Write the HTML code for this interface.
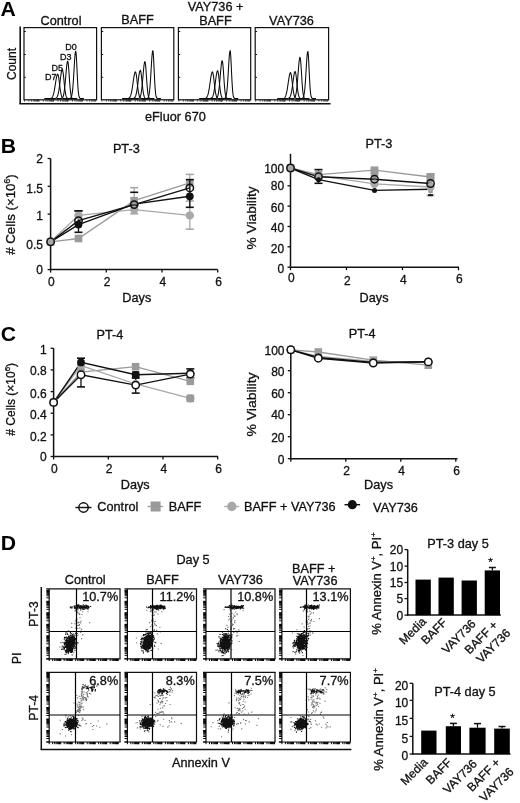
<!DOCTYPE html>
<html><head><meta charset="utf-8"><title>Figure</title>
<style>html,body{margin:0;padding:0;background:#fff;overflow:hidden;} svg{display:block;} text{font-family:"Liberation Sans",Arial,sans-serif;}</style>
</head><body>
<svg width="520" height="803" viewBox="0 0 520 803">
<rect x="0" y="0" width="520" height="803" fill="#fff"/>
<text font-size="20" font-weight="bold" transform="translate(0.5 15.5) scale(1.06 1)" fill="#000" >A</text>
<text font-size="12" stroke="#111" stroke-width="0.3" text-anchor="middle" transform="translate(61.0 24.6) scale(1.06 1)" fill="#111" >Control</text>
<text font-size="12" stroke="#111" stroke-width="0.3" text-anchor="middle" transform="translate(137.5 23.5) scale(1.06 1)" fill="#111" >BAFF</text>
<text font-size="12" stroke="#111" stroke-width="0.3" text-anchor="middle" transform="translate(215.6 10.8) scale(1.06 1)" fill="#111" >VAY736 +</text>
<text font-size="12" stroke="#111" stroke-width="0.3" text-anchor="middle" transform="translate(215.4 24.6) scale(1.06 1)" fill="#111" >BAFF</text>
<text font-size="12" stroke="#111" stroke-width="0.3" text-anchor="middle" transform="translate(291.5 25.2) scale(1.06 1)" fill="#111" >VAY736</text>
<text font-size="12" stroke="#111" stroke-width="0.3" text-anchor="middle" transform="translate(16.0 64.0) rotate(-90)" fill="#111" >Count</text>
<text font-size="12" stroke="#111" stroke-width="0.3" text-anchor="middle" transform="translate(175.4 121.2) scale(1.06 1)" fill="#111" >eFluor 670</text>
<line x1="20.2" y1="26.5" x2="20.2" y2="104.0" stroke="#111" stroke-width="1.6" />
<line x1="19.5" y1="103.8" x2="330.5" y2="103.8" stroke="#111" stroke-width="1.6" />
<rect x="24.0" y="27.6" width="72.6" height="72.2" fill="none" stroke="#111" stroke-width="1.2"/>
<line x1="24.0" y1="31.5" x2="25.8" y2="31.5" stroke="#111" stroke-width="1.0" />
<line x1="24.0" y1="54.5" x2="25.8" y2="54.5" stroke="#111" stroke-width="1.0" />
<line x1="24.0" y1="77.3" x2="25.8" y2="77.3" stroke="#111" stroke-width="1.0" />
<path d="M24.50 101.60v-2.20M28.87 101.60v-2.20M31.43 101.60v-2.20M33.24 101.60v-2.20M34.65 101.60v-2.20M35.80 101.60v-2.20M36.77 101.60v-2.20M37.61 101.60v-2.20M38.36 101.60v-2.20M39.02 101.60v-2.20M43.39 101.60v-2.20M45.95 101.60v-2.20M47.76 101.60v-2.20M49.17 101.60v-2.20M50.32 101.60v-2.20M51.29 101.60v-2.20M52.13 101.60v-2.20M52.88 101.60v-2.20M53.54 101.60v-2.20M57.91 101.60v-2.20M60.47 101.60v-2.20M62.28 101.60v-2.20M63.69 101.60v-2.20M64.84 101.60v-2.20M65.81 101.60v-2.20M66.65 101.60v-2.20M67.40 101.60v-2.20M68.06 101.60v-2.20M72.43 101.60v-2.20M74.99 101.60v-2.20M76.80 101.60v-2.20M78.21 101.60v-2.20M79.36 101.60v-2.20M80.33 101.60v-2.20M81.17 101.60v-2.20M81.92 101.60v-2.20M82.58 101.60v-2.20M86.95 101.60v-2.20M89.51 101.60v-2.20M91.32 101.60v-2.20M92.73 101.60v-2.20M93.88 101.60v-2.20M94.85 101.60v-2.20M95.69 101.60v-2.20" stroke="#222" stroke-width="0.8" fill="none"/>
<polyline points="44.4,98.6 44.7,98.6 45.0,98.6 45.3,98.6 45.6,98.6 45.9,98.6 46.2,98.6 46.5,98.6 46.8,98.6 47.1,98.6 47.4,98.6 47.7,98.6 48.0,98.6 48.3,98.6 48.6,98.6 48.9,98.6 49.2,98.6 49.5,98.6 49.8,98.5 50.1,98.5 50.4,98.5 50.7,98.4 51.0,98.3 51.3,98.1 51.6,97.9 51.9,97.6 52.2,97.3 52.5,96.8 52.8,96.2 53.1,95.4 53.4,94.5 53.7,93.4 54.0,92.1 54.3,90.6 54.6,88.9 54.9,87.1 55.2,85.2 55.5,83.3 55.8,81.4 56.1,79.5 56.4,77.9 56.7,76.4 57.0,75.3 57.3,74.6 57.6,74.2 57.9,74.3 58.2,75.1 58.5,76.5 58.8,78.3 59.1,80.5 59.4,82.9 59.7,85.4 60.0,87.8 60.3,90.0 60.6,91.9 60.9,93.5 61.2,94.9 61.5,95.9 61.8,96.8 62.1,97.3 62.4,97.8 62.7,98.1 63.0,98.3 63.3,98.4 63.6,98.5 63.9,98.5 64.2,98.6 64.5,98.6 64.8,98.6 65.1,98.6 65.4,98.6 65.7,98.6 66.0,98.6 66.3,98.6 66.6,98.6 66.9,98.6 67.2,98.6 67.5,98.6 67.8,98.6 68.1,98.6 68.4,98.6 68.7,98.6 69.0,98.6" fill="none" stroke="#0a0a0a" stroke-width="1.05" />
<polyline points="49.7,98.6 50.0,98.6 50.3,98.6 50.6,98.6 50.9,98.6 51.2,98.6 51.5,98.6 51.8,98.6 52.1,98.6 52.4,98.6 52.7,98.6 53.0,98.6 53.3,98.6 53.6,98.6 53.9,98.6 54.2,98.6 54.5,98.6 54.8,98.5 55.1,98.5 55.4,98.4 55.7,98.3 56.0,98.2 56.3,98.0 56.6,97.7 56.9,97.3 57.2,96.8 57.5,96.1 57.8,95.3 58.1,94.2 58.4,92.9 58.7,91.4 59.0,89.6 59.3,87.5 59.6,85.3 59.9,83.0 60.2,80.5 60.5,78.1 60.8,75.8 61.1,73.7 61.4,72.0 61.7,70.7 62.0,69.9 62.3,69.6 62.6,70.0 62.9,71.3 63.2,73.4 63.5,75.9 63.8,78.9 64.1,81.9 64.4,85.0 64.7,87.8 65.0,90.3 65.3,92.4 65.6,94.1 65.9,95.4 66.2,96.4 66.5,97.2 66.8,97.7 67.1,98.0 67.4,98.3 67.7,98.4 68.0,98.5 68.3,98.5 68.6,98.6 68.9,98.6 69.2,98.6 69.5,98.6 69.8,98.6 70.1,98.6 70.4,98.6 70.7,98.6 71.0,98.6 71.3,98.6 71.6,98.6 71.9,98.6 72.2,98.6 72.5,98.6 72.8,98.6 73.1,98.6" fill="none" stroke="#0a0a0a" stroke-width="1.05" />
<polyline points="56.5,98.6 56.8,98.6 57.1,98.6 57.4,98.6 57.7,98.6 58.0,98.6 58.3,98.6 58.6,98.6 58.9,98.6 59.2,98.6 59.5,98.6 59.8,98.6 60.1,98.6 60.4,98.6 60.7,98.6 61.0,98.5 61.3,98.5 61.6,98.4 61.9,98.2 62.2,98.0 62.5,97.6 62.8,97.2 63.1,96.5 63.4,95.6 63.7,94.3 64.0,92.8 64.3,90.8 64.6,88.4 64.9,85.7 65.2,82.6 65.5,79.2 65.8,75.7 66.1,72.2 66.4,68.9 66.7,65.9 67.0,63.6 67.3,62.0 67.6,61.3 67.9,61.5 68.2,63.2 68.5,66.0 68.8,69.8 69.1,74.1 69.4,78.6 69.7,82.9 70.0,86.7 70.3,89.9 70.6,92.5 70.9,94.5 71.2,96.0 71.5,97.0 71.8,97.6 72.1,98.0 72.4,98.3 72.7,98.4 73.0,98.5 73.3,98.6 73.6,98.6 73.9,98.6 74.2,98.6 74.5,98.6 74.8,98.6 75.1,98.6 75.4,98.6 75.7,98.6 76.0,98.6 76.3,98.6 76.6,98.6 76.9,98.6 77.2,98.6" fill="none" stroke="#0a0a0a" stroke-width="1.05" />
<polyline points="65.9,98.6 66.2,98.6 66.5,98.6 66.8,98.6 67.1,98.6 67.4,98.6 67.7,98.6 68.0,98.6 68.3,98.6 68.6,98.6 68.9,98.6 69.2,98.6 69.5,98.5 69.8,98.5 70.1,98.4 70.4,98.3 70.7,98.0 71.0,97.7 71.3,97.1 71.6,96.2 71.9,94.9 72.2,93.2 72.5,90.9 72.8,87.9 73.1,84.3 73.4,80.0 73.7,75.3 74.0,70.2 74.3,65.1 74.6,60.3 74.9,56.3 75.2,53.3 75.5,51.5 75.8,51.3 76.1,53.3 76.4,57.3 76.7,62.9 77.0,69.2 77.3,75.6 77.6,81.5 77.9,86.5 78.2,90.5 78.5,93.4 78.8,95.5 79.1,96.8 79.4,97.6 79.7,98.1 80.0,98.3 80.3,98.5 80.6,98.5 80.9,98.6 81.2,98.6 81.5,98.6 81.8,98.6 82.1,98.6 82.4,98.6 82.7,98.6 83.0,98.6 83.3,98.6 83.6,98.6 83.9,98.6" fill="none" stroke="#0a0a0a" stroke-width="1.05" />
<rect x="101.4" y="27.6" width="72.4" height="72.2" fill="none" stroke="#111" stroke-width="1.2"/>
<line x1="101.4" y1="31.5" x2="103.2" y2="31.5" stroke="#111" stroke-width="1.0" />
<line x1="101.4" y1="54.5" x2="103.2" y2="54.5" stroke="#111" stroke-width="1.0" />
<line x1="101.4" y1="77.3" x2="103.2" y2="77.3" stroke="#111" stroke-width="1.0" />
<path d="M101.90 101.60v-2.20M106.26 101.60v-2.20M108.81 101.60v-2.20M110.62 101.60v-2.20M112.02 101.60v-2.20M113.17 101.60v-2.20M114.14 101.60v-2.20M114.98 101.60v-2.20M115.72 101.60v-2.20M116.38 101.60v-2.20M120.74 101.60v-2.20M123.29 101.60v-2.20M125.10 101.60v-2.20M126.50 101.60v-2.20M127.65 101.60v-2.20M128.62 101.60v-2.20M129.46 101.60v-2.20M130.20 101.60v-2.20M130.86 101.60v-2.20M135.22 101.60v-2.20M137.77 101.60v-2.20M139.58 101.60v-2.20M140.98 101.60v-2.20M142.13 101.60v-2.20M143.10 101.60v-2.20M143.94 101.60v-2.20M144.68 101.60v-2.20M145.34 101.60v-2.20M149.70 101.60v-2.20M152.25 101.60v-2.20M154.06 101.60v-2.20M155.46 101.60v-2.20M156.61 101.60v-2.20M157.58 101.60v-2.20M158.42 101.60v-2.20M159.16 101.60v-2.20M159.82 101.60v-2.20M164.18 101.60v-2.20M166.73 101.60v-2.20M168.54 101.60v-2.20M169.94 101.60v-2.20M171.09 101.60v-2.20M172.06 101.60v-2.20M172.90 101.60v-2.20" stroke="#222" stroke-width="0.8" fill="none"/>
<polyline points="122.1,98.6 122.4,98.6 122.7,98.6 123.0,98.6 123.3,98.6 123.6,98.6 123.9,98.6 124.2,98.6 124.5,98.6 124.8,98.6 125.1,98.6 125.4,98.6 125.7,98.6 126.0,98.6 126.3,98.6 126.6,98.6 126.9,98.6 127.2,98.6 127.5,98.5 127.8,98.5 128.1,98.4 128.4,98.4 128.7,98.2 129.0,98.1 129.3,97.9 129.6,97.5 129.9,97.1 130.2,96.6 130.5,95.9 130.8,95.1 131.1,94.1 131.4,92.9 131.7,91.4 132.0,89.8 132.3,88.0 132.6,86.0 132.9,84.0 133.2,81.8 133.5,79.7 133.8,77.7 134.1,75.9 134.4,74.3 134.7,73.1 135.0,72.3 135.3,71.9 135.6,72.1 135.9,72.9 136.2,74.4 136.5,76.4 136.8,78.8 137.1,81.5 137.4,84.1 137.7,86.7 138.0,89.1 138.3,91.3 138.6,93.1 138.9,94.5 139.2,95.7 139.5,96.6 139.8,97.2 140.1,97.7 140.4,98.0 140.7,98.2 141.0,98.4 141.3,98.5 141.6,98.5 141.9,98.6 142.2,98.6 142.5,98.6 142.8,98.6 143.1,98.6 143.4,98.6 143.7,98.6 144.0,98.6 144.3,98.6 144.6,98.6 144.9,98.6 145.2,98.6 145.5,98.6 145.8,98.6 146.1,98.6 146.4,98.6 146.7,98.6" fill="none" stroke="#0a0a0a" stroke-width="1.05" />
<polyline points="127.7,98.6 128.0,98.6 128.3,98.6 128.6,98.6 128.9,98.6 129.2,98.6 129.5,98.6 129.8,98.6 130.1,98.6 130.4,98.6 130.7,98.6 131.0,98.6 131.3,98.6 131.6,98.6 131.9,98.6 132.2,98.6 132.5,98.6 132.8,98.5 133.1,98.5 133.4,98.4 133.7,98.3 134.0,98.2 134.3,98.0 134.6,97.7 134.9,97.4 135.2,96.9 135.5,96.2 135.8,95.4 136.1,94.3 136.4,93.1 136.7,91.6 137.0,89.8 137.3,87.9 137.6,85.7 137.9,83.4 138.2,81.0 138.5,78.7 138.8,76.4 139.1,74.4 139.4,72.7 139.7,71.5 140.0,70.7 140.3,70.4 140.6,70.8 140.9,72.1 141.2,74.0 141.5,76.6 141.8,79.4 142.1,82.4 142.4,85.3 142.7,88.1 143.0,90.5 143.3,92.5 143.6,94.2 143.9,95.5 144.2,96.5 144.5,97.2 144.8,97.7 145.1,98.1 145.4,98.3 145.7,98.4 146.0,98.5 146.3,98.5 146.6,98.6 146.9,98.6 147.2,98.6 147.5,98.6 147.8,98.6 148.1,98.6 148.4,98.6 148.7,98.6 149.0,98.6 149.3,98.6 149.6,98.6 149.9,98.6 150.2,98.6 150.5,98.6 150.8,98.6" fill="none" stroke="#0a0a0a" stroke-width="1.05" />
<polyline points="133.7,98.6 134.0,98.6 134.3,98.6 134.6,98.6 134.9,98.6 135.2,98.6 135.5,98.6 135.8,98.6 136.1,98.6 136.4,98.6 136.7,98.6 137.0,98.6 137.3,98.6 137.6,98.6 137.9,98.6 138.2,98.5 138.5,98.5 138.8,98.4 139.1,98.2 139.4,98.0 139.7,97.7 140.0,97.2 140.3,96.5 140.6,95.6 140.9,94.4 141.2,92.8 141.5,90.9 141.8,88.6 142.1,85.8 142.4,82.7 142.7,79.4 143.0,75.9 143.3,72.5 143.6,69.2 143.9,66.3 144.2,64.0 144.5,62.4 144.8,61.7 145.1,61.9 145.4,63.5 145.7,66.4 146.0,70.1 146.3,74.4 146.6,78.8 146.9,83.0 147.2,86.8 147.5,90.0 147.8,92.6 148.1,94.6 148.4,96.0 148.7,97.0 149.0,97.6 149.3,98.0 149.6,98.3 149.9,98.4 150.2,98.5 150.5,98.6 150.8,98.6 151.1,98.6 151.4,98.6 151.7,98.6 152.0,98.6 152.3,98.6 152.6,98.6 152.9,98.6 153.2,98.6 153.5,98.6 153.8,98.6 154.1,98.6 154.4,98.6" fill="none" stroke="#0a0a0a" stroke-width="1.05" />
<polyline points="143.0,98.6 143.3,98.6 143.6,98.6 143.9,98.6 144.2,98.6 144.5,98.6 144.8,98.6 145.1,98.6 145.4,98.6 145.7,98.6 146.0,98.6 146.3,98.6 146.6,98.5 146.9,98.5 147.2,98.4 147.5,98.3 147.8,98.0 148.1,97.6 148.4,97.1 148.7,96.2 149.0,94.9 149.3,93.1 149.6,90.8 149.9,87.8 150.2,84.2 150.5,79.9 150.8,75.1 151.1,70.0 151.4,64.8 151.7,60.0 152.0,55.9 152.3,52.9 152.6,51.1 152.9,50.9 153.2,52.9 153.5,57.0 153.8,62.6 154.1,69.0 154.4,75.4 154.7,81.4 155.0,86.4 155.3,90.4 155.6,93.4 155.9,95.4 156.2,96.8 156.5,97.6 156.8,98.1 157.1,98.3 157.4,98.5 157.7,98.5 158.0,98.6 158.3,98.6 158.6,98.6 158.9,98.6 159.2,98.6 159.5,98.6 159.8,98.6 160.1,98.6 160.4,98.6 160.7,98.6 161.0,98.6" fill="none" stroke="#0a0a0a" stroke-width="1.05" />
<rect x="178.4" y="27.6" width="72.3" height="72.2" fill="none" stroke="#111" stroke-width="1.2"/>
<line x1="178.4" y1="31.5" x2="180.2" y2="31.5" stroke="#111" stroke-width="1.0" />
<line x1="178.4" y1="54.5" x2="180.2" y2="54.5" stroke="#111" stroke-width="1.0" />
<line x1="178.4" y1="77.3" x2="180.2" y2="77.3" stroke="#111" stroke-width="1.0" />
<path d="M178.90 101.60v-2.20M183.25 101.60v-2.20M185.80 101.60v-2.20M187.61 101.60v-2.20M189.01 101.60v-2.20M190.15 101.60v-2.20M191.12 101.60v-2.20M191.96 101.60v-2.20M192.70 101.60v-2.20M193.36 101.60v-2.20M197.71 101.60v-2.20M200.26 101.60v-2.20M202.07 101.60v-2.20M203.47 101.60v-2.20M204.61 101.60v-2.20M205.58 101.60v-2.20M206.42 101.60v-2.20M207.16 101.60v-2.20M207.82 101.60v-2.20M212.17 101.60v-2.20M214.72 101.60v-2.20M216.53 101.60v-2.20M217.93 101.60v-2.20M219.07 101.60v-2.20M220.04 101.60v-2.20M220.88 101.60v-2.20M221.62 101.60v-2.20M222.28 101.60v-2.20M226.63 101.60v-2.20M229.18 101.60v-2.20M230.99 101.60v-2.20M232.39 101.60v-2.20M233.53 101.60v-2.20M234.50 101.60v-2.20M235.34 101.60v-2.20M236.08 101.60v-2.20M236.74 101.60v-2.20M241.09 101.60v-2.20M243.64 101.60v-2.20M245.45 101.60v-2.20M246.85 101.60v-2.20M247.99 101.60v-2.20M248.96 101.60v-2.20M249.80 101.60v-2.20" stroke="#222" stroke-width="0.8" fill="none"/>
<polyline points="199.1,98.6 199.4,98.6 199.7,98.6 200.0,98.6 200.3,98.6 200.6,98.6 200.9,98.6 201.2,98.6 201.5,98.6 201.8,98.6 202.1,98.6 202.4,98.6 202.7,98.6 203.0,98.6 203.3,98.6 203.6,98.6 203.9,98.6 204.2,98.6 204.5,98.5 204.8,98.5 205.1,98.4 205.4,98.4 205.7,98.2 206.0,98.1 206.3,97.9 206.6,97.5 206.9,97.1 207.2,96.6 207.5,95.9 207.8,95.1 208.1,94.1 208.4,92.9 208.7,91.4 209.0,89.8 209.3,88.0 209.6,86.0 209.9,84.0 210.2,81.8 210.5,79.7 210.8,77.7 211.1,75.9 211.4,74.3 211.7,73.1 212.0,72.3 212.3,71.9 212.6,72.1 212.9,72.9 213.2,74.4 213.5,76.4 213.8,78.8 214.1,81.5 214.4,84.1 214.7,86.7 215.0,89.1 215.3,91.3 215.6,93.1 215.9,94.5 216.2,95.7 216.5,96.6 216.8,97.2 217.1,97.7 217.4,98.0 217.7,98.2 218.0,98.4 218.3,98.5 218.6,98.5 218.9,98.6 219.2,98.6 219.5,98.6 219.8,98.6 220.1,98.6 220.4,98.6 220.7,98.6 221.0,98.6 221.3,98.6 221.6,98.6 221.9,98.6 222.2,98.6 222.5,98.6 222.8,98.6 223.1,98.6 223.4,98.6 223.7,98.6" fill="none" stroke="#0a0a0a" stroke-width="1.05" />
<polyline points="205.0,98.6 205.3,98.6 205.6,98.6 205.9,98.6 206.2,98.6 206.5,98.6 206.8,98.6 207.1,98.6 207.4,98.6 207.7,98.6 208.0,98.6 208.3,98.6 208.6,98.6 208.9,98.6 209.2,98.6 209.5,98.6 209.8,98.6 210.1,98.5 210.4,98.5 210.7,98.4 211.0,98.3 211.3,98.2 211.6,98.0 211.9,97.7 212.2,97.4 212.5,96.9 212.8,96.2 213.1,95.4 213.4,94.4 213.7,93.2 214.0,91.7 214.3,89.9 214.6,88.0 214.9,85.9 215.2,83.6 215.5,81.3 215.8,79.0 216.1,76.8 216.4,74.8 216.7,73.1 217.0,71.9 217.3,71.1 217.6,70.8 217.9,71.2 218.2,72.5 218.5,74.4 218.8,76.9 219.1,79.7 219.4,82.6 219.7,85.5 220.0,88.2 220.3,90.6 220.6,92.6 220.9,94.3 221.2,95.6 221.5,96.5 221.8,97.2 222.1,97.7 222.4,98.1 222.7,98.3 223.0,98.4 223.3,98.5 223.6,98.5 223.9,98.6 224.2,98.6 224.5,98.6 224.8,98.6 225.1,98.6 225.4,98.6 225.7,98.6 226.0,98.6 226.3,98.6 226.6,98.6 226.9,98.6 227.2,98.6 227.5,98.6 227.8,98.6 228.1,98.6" fill="none" stroke="#0a0a0a" stroke-width="1.05" />
<polyline points="211.0,98.6 211.3,98.6 211.6,98.6 211.9,98.6 212.2,98.6 212.5,98.6 212.8,98.6 213.1,98.6 213.4,98.6 213.7,98.6 214.0,98.6 214.3,98.6 214.6,98.6 214.9,98.6 215.2,98.6 215.5,98.5 215.8,98.5 216.1,98.4 216.4,98.2 216.7,98.0 217.0,97.6 217.3,97.1 217.6,96.5 217.9,95.5 218.2,94.3 218.5,92.7 218.8,90.7 219.1,88.3 219.4,85.5 219.7,82.4 220.0,78.9 220.3,75.4 220.6,71.8 220.9,68.5 221.2,65.5 221.5,63.1 221.8,61.5 222.1,60.8 222.4,61.0 222.7,62.7 223.0,65.6 223.3,69.4 223.6,73.8 223.9,78.3 224.2,82.7 224.5,86.5 224.8,89.8 225.1,92.5 225.4,94.5 225.7,95.9 226.0,96.9 226.3,97.6 226.6,98.0 226.9,98.3 227.2,98.4 227.5,98.5 227.8,98.6 228.1,98.6 228.4,98.6 228.7,98.6 229.0,98.6 229.3,98.6 229.6,98.6 229.9,98.6 230.2,98.6 230.5,98.6 230.8,98.6 231.1,98.6 231.4,98.6 231.7,98.6" fill="none" stroke="#0a0a0a" stroke-width="1.05" />
<polyline points="220.3,98.6 220.6,98.6 220.9,98.6 221.2,98.6 221.5,98.6 221.8,98.6 222.1,98.6 222.4,98.6 222.7,98.6 223.0,98.6 223.3,98.6 223.6,98.6 223.9,98.5 224.2,98.5 224.5,98.4 224.8,98.3 225.1,98.0 225.4,97.6 225.7,97.1 226.0,96.2 226.3,94.9 226.6,93.1 226.9,90.8 227.2,87.8 227.5,84.2 227.8,79.9 228.1,75.1 228.4,70.0 228.7,64.8 229.0,60.0 229.3,55.9 229.6,52.9 229.9,51.1 230.2,50.9 230.5,52.9 230.8,57.0 231.1,62.6 231.4,69.0 231.7,75.4 232.0,81.4 232.3,86.4 232.6,90.4 232.9,93.4 233.2,95.4 233.5,96.8 233.8,97.6 234.1,98.1 234.4,98.3 234.7,98.5 235.0,98.5 235.3,98.6 235.6,98.6 235.9,98.6 236.2,98.6 236.5,98.6 236.8,98.6 237.1,98.6 237.4,98.6 237.7,98.6 238.0,98.6 238.3,98.6" fill="none" stroke="#0a0a0a" stroke-width="1.05" />
<rect x="255.2" y="27.6" width="73.4" height="72.2" fill="none" stroke="#111" stroke-width="1.2"/>
<line x1="255.2" y1="31.5" x2="257.0" y2="31.5" stroke="#111" stroke-width="1.0" />
<line x1="255.2" y1="54.5" x2="257.0" y2="54.5" stroke="#111" stroke-width="1.0" />
<line x1="255.2" y1="77.3" x2="257.0" y2="77.3" stroke="#111" stroke-width="1.0" />
<path d="M255.70 101.60v-2.20M260.12 101.60v-2.20M262.70 101.60v-2.20M264.54 101.60v-2.20M265.96 101.60v-2.20M267.12 101.60v-2.20M268.11 101.60v-2.20M268.96 101.60v-2.20M269.71 101.60v-2.20M270.38 101.60v-2.20M274.80 101.60v-2.20M277.38 101.60v-2.20M279.22 101.60v-2.20M280.64 101.60v-2.20M281.80 101.60v-2.20M282.79 101.60v-2.20M283.64 101.60v-2.20M284.39 101.60v-2.20M285.06 101.60v-2.20M289.48 101.60v-2.20M292.06 101.60v-2.20M293.90 101.60v-2.20M295.32 101.60v-2.20M296.48 101.60v-2.20M297.47 101.60v-2.20M298.32 101.60v-2.20M299.07 101.60v-2.20M299.74 101.60v-2.20M304.16 101.60v-2.20M306.74 101.60v-2.20M308.58 101.60v-2.20M310.00 101.60v-2.20M311.16 101.60v-2.20M312.15 101.60v-2.20M313.00 101.60v-2.20M313.75 101.60v-2.20M314.42 101.60v-2.20M318.84 101.60v-2.20M321.42 101.60v-2.20M323.26 101.60v-2.20M324.68 101.60v-2.20M325.84 101.60v-2.20M326.83 101.60v-2.20M327.68 101.60v-2.20" stroke="#222" stroke-width="0.8" fill="none"/>
<polyline points="277.2,98.6 277.5,98.6 277.8,98.6 278.1,98.6 278.4,98.6 278.7,98.6 279.0,98.6 279.3,98.6 279.6,98.6 279.9,98.6 280.2,98.6 280.5,98.6 280.8,98.6 281.1,98.6 281.4,98.6 281.7,98.6 282.0,98.6 282.3,98.6 282.6,98.5 282.9,98.5 283.2,98.4 283.5,98.4 283.8,98.3 284.1,98.1 284.4,97.9 284.7,97.6 285.0,97.2 285.3,96.7 285.6,96.0 285.9,95.2 286.2,94.2 286.5,93.0 286.8,91.7 287.1,90.1 287.4,88.3 287.7,86.4 288.0,84.4 288.3,82.3 288.6,80.3 288.9,78.4 289.2,76.6 289.5,75.1 289.8,73.9 290.1,73.1 290.4,72.7 290.7,72.9 291.0,73.7 291.3,75.1 291.6,77.1 291.9,79.4 292.2,82.0 292.5,84.6 292.8,87.1 293.1,89.4 293.4,91.5 293.7,93.2 294.0,94.6 294.3,95.8 294.6,96.6 294.9,97.3 295.2,97.7 295.5,98.0 295.8,98.3 296.1,98.4 296.4,98.5 296.7,98.5 297.0,98.6 297.3,98.6 297.6,98.6 297.9,98.6 298.2,98.6 298.5,98.6 298.8,98.6 299.1,98.6 299.4,98.6 299.7,98.6 300.0,98.6 300.3,98.6 300.6,98.6 300.9,98.6 301.2,98.6 301.5,98.6 301.8,98.6" fill="none" stroke="#0a0a0a" stroke-width="1.05" />
<polyline points="282.5,98.6 282.8,98.6 283.1,98.6 283.4,98.6 283.7,98.6 284.0,98.6 284.3,98.6 284.6,98.6 284.9,98.6 285.2,98.6 285.5,98.6 285.8,98.6 286.1,98.6 286.4,98.6 286.7,98.6 287.0,98.6 287.3,98.6 287.6,98.5 287.9,98.5 288.2,98.4 288.5,98.3 288.8,98.2 289.1,98.0 289.4,97.8 289.7,97.4 290.0,96.9 290.3,96.3 290.6,95.5 290.9,94.5 291.2,93.3 291.5,91.8 291.8,90.2 292.1,88.3 292.4,86.2 292.7,84.0 293.0,81.7 293.3,79.4 293.6,77.3 293.9,75.4 294.2,73.8 294.5,72.5 294.8,71.8 295.1,71.5 295.4,71.9 295.7,73.1 296.0,75.0 296.3,77.4 296.6,80.2 296.9,83.0 297.2,85.9 297.5,88.5 297.8,90.8 298.1,92.8 298.4,94.4 298.7,95.6 299.0,96.6 299.3,97.3 299.6,97.8 299.9,98.1 300.2,98.3 300.5,98.4 300.8,98.5 301.1,98.5 301.4,98.6 301.7,98.6 302.0,98.6 302.3,98.6 302.6,98.6 302.9,98.6 303.2,98.6 303.5,98.6 303.8,98.6 304.1,98.6 304.4,98.6 304.7,98.6 305.0,98.6 305.3,98.6 305.6,98.6" fill="none" stroke="#0a0a0a" stroke-width="1.05" />
<polyline points="288.8,98.6 289.1,98.6 289.4,98.6 289.7,98.6 290.0,98.6 290.3,98.6 290.6,98.6 290.9,98.6 291.2,98.6 291.5,98.6 291.8,98.6 292.1,98.6 292.4,98.6 292.7,98.6 293.0,98.5 293.3,98.5 293.6,98.4 293.9,98.3 294.2,98.2 294.5,97.9 294.8,97.5 295.1,97.0 295.4,96.3 295.7,95.2 296.0,93.9 296.3,92.2 296.6,90.0 296.9,87.4 297.2,84.3 297.5,80.9 297.8,77.2 298.1,73.3 298.4,69.4 298.7,65.8 299.0,62.5 299.3,60.0 299.6,58.2 299.9,57.4 300.2,57.7 300.5,59.5 300.8,62.6 301.1,66.8 301.4,71.6 301.7,76.5 302.0,81.2 302.3,85.5 302.6,89.0 302.9,91.9 303.2,94.1 303.5,95.7 303.8,96.8 304.1,97.5 304.4,98.0 304.7,98.3 305.0,98.4 305.3,98.5 305.6,98.6 305.9,98.6 306.2,98.6 306.5,98.6 306.8,98.6 307.1,98.6 307.4,98.6 307.7,98.6 308.0,98.6 308.3,98.6 308.6,98.6 308.9,98.6 309.2,98.6 309.5,98.6" fill="none" stroke="#0a0a0a" stroke-width="1.05" />
<polyline points="298.0,98.6 298.3,98.6 298.6,98.6 298.9,98.6 299.2,98.6 299.5,98.6 299.8,98.6 300.1,98.6 300.4,98.6 300.7,98.6 301.0,98.6 301.3,98.6 301.6,98.5 301.9,98.5 302.2,98.4 302.5,98.3 302.8,98.0 303.1,97.7 303.4,97.1 303.7,96.2 304.0,95.0 304.3,93.2 304.6,90.9 304.9,88.0 305.2,84.4 305.5,80.1 305.8,75.4 306.1,70.4 306.4,65.3 306.7,60.6 307.0,56.5 307.3,53.5 307.6,51.8 307.9,51.6 308.2,53.6 308.5,57.6 308.8,63.1 309.1,69.4 309.4,75.8 309.7,81.6 310.0,86.6 310.3,90.6 310.6,93.5 310.9,95.5 311.2,96.8 311.5,97.6 311.8,98.1 312.1,98.3 312.4,98.5 312.7,98.5 313.0,98.6 313.3,98.6 313.6,98.6 313.9,98.6 314.2,98.6 314.5,98.6 314.8,98.6 315.1,98.6 315.4,98.6 315.7,98.6 316.0,98.6" fill="none" stroke="#0a0a0a" stroke-width="1.05" />
<text font-size="8.5" stroke="#111" stroke-width="0.3" text-anchor="middle" transform="translate(71.0 49.6) scale(1.06 1)" fill="#111" >D0</text>
<text font-size="8.5" stroke="#111" stroke-width="0.3" text-anchor="middle" transform="translate(65.8 59.6) scale(1.06 1)" fill="#111" >D3</text>
<text font-size="8.5" stroke="#111" stroke-width="0.3" text-anchor="middle" transform="translate(57.3 71.0) scale(1.06 1)" fill="#111" >D5</text>
<text font-size="8.5" stroke="#111" stroke-width="0.3" text-anchor="middle" transform="translate(50.7 79.6) scale(1.06 1)" fill="#111" >D7</text>
<text font-size="20" font-weight="bold" transform="translate(0.8 153.3) scale(1.06 1)" fill="#000" >B</text>
<text font-size="12" stroke="#111" stroke-width="0.3" text-anchor="middle" transform="translate(126.3 153.0) scale(1.06 1)" fill="#111" >PT-3</text>
<line x1="50.6" y1="158.5" x2="50.6" y2="270.2" stroke="#111" stroke-width="1.5" />
<line x1="50.0" y1="269.6" x2="217.6" y2="269.6" stroke="#111" stroke-width="1.5" />
<line x1="47.6" y1="269.6" x2="50.6" y2="269.6" stroke="#111" stroke-width="1.3" />
<text font-size="12" stroke="#111" stroke-width="0.3" text-anchor="end" transform="translate(43.0 273.9)" fill="#111" >0</text>
<line x1="47.6" y1="241.8" x2="50.6" y2="241.8" stroke="#111" stroke-width="1.3" />
<text font-size="12" stroke="#111" stroke-width="0.3" text-anchor="end" transform="translate(43.0 249.1)" fill="#111" >0.5</text>
<line x1="47.6" y1="214.1" x2="50.6" y2="214.1" stroke="#111" stroke-width="1.3" />
<text font-size="12" stroke="#111" stroke-width="0.3" text-anchor="end" transform="translate(43.0 220.4)" fill="#111" >1</text>
<line x1="47.6" y1="186.3" x2="50.6" y2="186.3" stroke="#111" stroke-width="1.3" />
<text font-size="12" stroke="#111" stroke-width="0.3" text-anchor="end" transform="translate(43.0 192.6)" fill="#111" >1.5</text>
<line x1="47.6" y1="158.5" x2="50.6" y2="158.5" stroke="#111" stroke-width="1.3" />
<text font-size="12" stroke="#111" stroke-width="0.3" text-anchor="end" transform="translate(43.0 163.2)" fill="#111" >2</text>
<line x1="50.6" y1="269.6" x2="50.6" y2="272.6" stroke="#111" stroke-width="1.3" />
<text font-size="12" stroke="#111" stroke-width="0.3" text-anchor="middle" transform="translate(51.4 286.2)" fill="#111" >0</text>
<line x1="106.3" y1="269.6" x2="106.3" y2="272.6" stroke="#111" stroke-width="1.3" />
<text font-size="12" stroke="#111" stroke-width="0.3" text-anchor="middle" transform="translate(107.1 286.2)" fill="#111" >2</text>
<line x1="162.0" y1="269.6" x2="162.0" y2="272.6" stroke="#111" stroke-width="1.3" />
<text font-size="12" stroke="#111" stroke-width="0.3" text-anchor="middle" transform="translate(162.8 286.2)" fill="#111" >4</text>
<line x1="217.7" y1="269.6" x2="217.7" y2="272.6" stroke="#111" stroke-width="1.3" />
<text font-size="12" stroke="#111" stroke-width="0.3" text-anchor="middle" transform="translate(218.5 286.2)" fill="#111" >6</text>
<text font-size="12" stroke="#111" stroke-width="0.3" text-anchor="middle" transform="translate(136.8 302.0) scale(1.06 1)" fill="#111" >Days</text>
<text font-size="13.3" stroke="#111" stroke-width="0.3" text-anchor="middle" transform="translate(15.0 214.6) rotate(-90)" fill="#111" ># Cells (×10<tspan font-size="8.5" dy="-5">6</tspan><tspan dy="5">)</tspan></text>
<line x1="78.5" y1="210.8" x2="78.5" y2="232.3" stroke="#111" stroke-width="1.3" />
<line x1="74.5" y1="210.8" x2="82.5" y2="210.8" stroke="#111" stroke-width="1.6" />
<line x1="74.5" y1="232.3" x2="82.5" y2="232.3" stroke="#111" stroke-width="1.6" />
<line x1="134.2" y1="187.7" x2="134.2" y2="213.8" stroke="#a8a8a8" stroke-width="1.3" />
<line x1="130.2" y1="187.7" x2="138.2" y2="187.7" stroke="#a8a8a8" stroke-width="1.6" />
<line x1="130.2" y1="213.8" x2="138.2" y2="213.8" stroke="#a8a8a8" stroke-width="1.6" />
<line x1="130.2" y1="192.3" x2="138.2" y2="192.3" stroke="#111" stroke-width="1.6" />
<line x1="189.8" y1="174.4" x2="189.8" y2="229.2" stroke="#a8a8a8" stroke-width="1.3" />
<line x1="185.8" y1="174.4" x2="193.8" y2="174.4" stroke="#a8a8a8" stroke-width="1.6" />
<line x1="185.8" y1="229.2" x2="193.8" y2="229.2" stroke="#a8a8a8" stroke-width="1.6" />
<line x1="185.8" y1="201.0" x2="193.8" y2="201.0" stroke="#a8a8a8" stroke-width="1.6" />
<polyline points="50.6,241.8 78.5,238.5 134.2,200.7 189.8,182.9" fill="none" stroke="#9a9a9a" stroke-width="1.3" />
<polyline points="50.6,241.8 78.5,215.4 134.2,209.6 189.8,215.4" fill="none" stroke="#a8a8a8" stroke-width="1.3" />
<polyline points="50.6,241.8 78.5,224.6 134.2,204.1 189.8,196.3" fill="none" stroke="#111" stroke-width="1.4" />
<polyline points="50.6,241.8 78.5,220.7 134.2,204.6 189.8,187.9" fill="none" stroke="#111" stroke-width="1.4" />
<circle cx="50.6" cy="241.8" r="3.9000000000000004" fill="#111" stroke="none" stroke-width="1.3"/>
<circle cx="78.5" cy="224.6" r="3.9000000000000004" fill="#111" stroke="none" stroke-width="1.3"/>
<circle cx="134.2" cy="204.1" r="3.9000000000000004" fill="#111" stroke="none" stroke-width="1.3"/>
<circle cx="189.8" cy="196.3" r="3.9000000000000004" fill="#111" stroke="none" stroke-width="1.3"/>
<rect x="46.8" y="238.0" width="7.6" height="7.6" fill="#9a9a9a"/>
<rect x="74.7" y="234.7" width="7.6" height="7.6" fill="#9a9a9a"/>
<rect x="130.3" y="196.9" width="7.6" height="7.6" fill="#9a9a9a"/>
<rect x="186.0" y="179.1" width="7.6" height="7.6" fill="#9a9a9a"/>
<circle cx="50.6" cy="241.8" r="4.2" fill="#a8a8a8" stroke="none" stroke-width="1.3"/>
<circle cx="78.5" cy="215.4" r="4.2" fill="#a8a8a8" stroke="none" stroke-width="1.3"/>
<circle cx="134.2" cy="209.6" r="4.2" fill="#a8a8a8" stroke="none" stroke-width="1.3"/>
<circle cx="189.8" cy="215.4" r="4.2" fill="#a8a8a8" stroke="none" stroke-width="1.3"/>
<circle cx="50.6" cy="241.8" r="3.7" fill="none" stroke="#111" stroke-width="1.5"/>
<circle cx="78.5" cy="220.7" r="3.7" fill="none" stroke="#111" stroke-width="1.5"/>
<circle cx="134.2" cy="204.6" r="3.7" fill="none" stroke="#111" stroke-width="1.5"/>
<circle cx="189.8" cy="187.9" r="3.7" fill="none" stroke="#111" stroke-width="1.5"/>
<line x1="189.8" y1="179.6" x2="189.8" y2="207.3" stroke="#111" stroke-width="1.3" />
<line x1="185.8" y1="179.6" x2="193.8" y2="179.6" stroke="#111" stroke-width="1.6" />
<line x1="185.8" y1="207.3" x2="193.8" y2="207.3" stroke="#111" stroke-width="1.6" />
<line x1="74.5" y1="210.8" x2="82.5" y2="210.8" stroke="#111" stroke-width="1.6" />
<text font-size="12" stroke="#111" stroke-width="0.3" text-anchor="middle" transform="translate(379.0 147.7) scale(1.06 1)" fill="#111" >PT-3</text>
<line x1="290.5" y1="153.8" x2="290.5" y2="267.8" stroke="#111" stroke-width="1.5" />
<line x1="289.9" y1="267.2" x2="459.0" y2="267.2" stroke="#111" stroke-width="1.5" />
<line x1="287.5" y1="267.2" x2="290.5" y2="267.2" stroke="#111" stroke-width="1.3" />
<text font-size="12" stroke="#111" stroke-width="0.3" text-anchor="end" transform="translate(284.2 272.8)" fill="#111" >0</text>
<line x1="287.5" y1="246.8" x2="290.5" y2="246.8" stroke="#111" stroke-width="1.3" />
<text font-size="12" stroke="#111" stroke-width="0.3" text-anchor="end" transform="translate(284.2 252.8)" fill="#111" >20</text>
<line x1="287.5" y1="226.5" x2="290.5" y2="226.5" stroke="#111" stroke-width="1.3" />
<text font-size="12" stroke="#111" stroke-width="0.3" text-anchor="end" transform="translate(284.2 232.3)" fill="#111" >40</text>
<line x1="287.5" y1="206.1" x2="290.5" y2="206.1" stroke="#111" stroke-width="1.3" />
<text font-size="12" stroke="#111" stroke-width="0.3" text-anchor="end" transform="translate(284.2 211.5)" fill="#111" >60</text>
<line x1="287.5" y1="185.8" x2="290.5" y2="185.8" stroke="#111" stroke-width="1.3" />
<text font-size="12" stroke="#111" stroke-width="0.3" text-anchor="end" transform="translate(284.2 190.3)" fill="#111" >80</text>
<line x1="287.5" y1="165.4" x2="290.5" y2="165.4" stroke="#111" stroke-width="1.3" />
<text font-size="12" stroke="#111" stroke-width="0.3" text-anchor="end" transform="translate(284.2 172.7)" fill="#111" >100</text>
<line x1="290.5" y1="267.2" x2="290.5" y2="270.2" stroke="#111" stroke-width="1.3" />
<text font-size="12" stroke="#111" stroke-width="0.3" text-anchor="middle" transform="translate(291.3 281.8)" fill="#111" >0</text>
<line x1="346.5" y1="267.2" x2="346.5" y2="270.2" stroke="#111" stroke-width="1.3" />
<text font-size="12" stroke="#111" stroke-width="0.3" text-anchor="middle" transform="translate(347.3 285.3)" fill="#111" >2</text>
<line x1="402.5" y1="267.2" x2="402.5" y2="270.2" stroke="#111" stroke-width="1.3" />
<text font-size="12" stroke="#111" stroke-width="0.3" text-anchor="middle" transform="translate(403.3 284.3)" fill="#111" >4</text>
<line x1="458.5" y1="267.2" x2="458.5" y2="270.2" stroke="#111" stroke-width="1.3" />
<text font-size="12" stroke="#111" stroke-width="0.3" text-anchor="middle" transform="translate(459.3 283.3)" fill="#111" >6</text>
<text font-size="12" stroke="#111" stroke-width="0.3" text-anchor="middle" transform="translate(374.0 302.0) scale(1.06 1)" fill="#111" >Days</text>
<text font-size="13" stroke="#111" stroke-width="0.3" text-anchor="middle" textLength="63" lengthAdjust="spacingAndGlyphs" transform="translate(256.4 217.9) rotate(-90)" fill="#111" >% Viability</text>
<line x1="318.5" y1="169.6" x2="318.5" y2="183.3" stroke="#111" stroke-width="1.3" />
<line x1="314.5" y1="169.6" x2="322.5" y2="169.6" stroke="#111" stroke-width="1.6" />
<line x1="314.5" y1="183.3" x2="322.5" y2="183.3" stroke="#111" stroke-width="1.6" />
<rect x="370.7" y="168.2" width="7.6" height="8" fill="#9a9a9a"/>
<rect x="372.3" y="175" width="4.4" height="11" fill="#9a9a9a"/>
<rect x="426.7" y="173" width="7.6" height="8" fill="#9a9a9a"/>
<rect x="428.3" y="180" width="4.4" height="13" fill="#9a9a9a"/>
<line x1="430.5" y1="175.0" x2="430.5" y2="195.4" stroke="#a8a8a8" stroke-width="1.3" />
<line x1="426.5" y1="175.0" x2="434.5" y2="175.0" stroke="#a8a8a8" stroke-width="1.6" />
<line x1="426.5" y1="195.4" x2="434.5" y2="195.4" stroke="#a8a8a8" stroke-width="1.6" />
<polyline points="290.5,168.0 318.5,174.6 374.5,170.2 430.5,177.0" fill="none" stroke="#9a9a9a" stroke-width="1.3" />
<polyline points="290.5,168.0 318.5,175.6 374.5,183.8 430.5,187.0" fill="none" stroke="#a8a8a8" stroke-width="1.3" />
<polyline points="290.5,168.0 318.5,179.7 374.5,190.4 430.5,189.2" fill="none" stroke="#111" stroke-width="1.4" />
<polyline points="290.5,168.0 318.5,176.8 374.5,179.2 430.5,183.5" fill="none" stroke="#111" stroke-width="1.4" />
<rect x="286.7" y="164.2" width="7.6" height="7.6" fill="#9a9a9a"/>
<rect x="314.7" y="170.8" width="7.6" height="7.6" fill="#9a9a9a"/>
<rect x="370.7" y="166.4" width="7.6" height="7.6" fill="#9a9a9a"/>
<rect x="426.7" y="173.2" width="7.6" height="7.6" fill="#9a9a9a"/>
<circle cx="290.5" cy="168.0" r="4.2" fill="#a8a8a8" stroke="none" stroke-width="1.3"/>
<circle cx="318.5" cy="175.6" r="4.2" fill="#a8a8a8" stroke="none" stroke-width="1.3"/>
<circle cx="374.5" cy="183.8" r="4.2" fill="#a8a8a8" stroke="none" stroke-width="1.3"/>
<circle cx="430.5" cy="187.0" r="4.2" fill="#a8a8a8" stroke="none" stroke-width="1.3"/>
<circle cx="290.5" cy="168.0" r="3.7" fill="none" stroke="#111" stroke-width="1.5"/>
<circle cx="318.5" cy="176.8" r="3.7" fill="none" stroke="#111" stroke-width="1.5"/>
<circle cx="374.5" cy="179.2" r="3.7" fill="none" stroke="#111" stroke-width="1.5"/>
<circle cx="430.5" cy="183.5" r="3.7" fill="none" stroke="#111" stroke-width="1.5"/>
<circle cx="374.5" cy="190.4" r="2.5" fill="#111" stroke="none" stroke-width="1.3"/>
<line x1="428.0" y1="195.2" x2="433.0" y2="195.2" stroke="#111" stroke-width="2.0" />
<circle cx="318.5" cy="179.7" r="2.5" fill="#111" stroke="none" stroke-width="1.3"/>
<text font-size="20" font-weight="bold" transform="translate(0.8 341.2) scale(1.06 1)" fill="#000" >C</text>
<text font-size="12" stroke="#111" stroke-width="0.3" text-anchor="middle" transform="translate(109.9 339.0) scale(1.06 1)" fill="#111" >PT-4</text>
<line x1="53.6" y1="348.2" x2="53.6" y2="457.1" stroke="#111" stroke-width="1.5" />
<line x1="53.0" y1="456.5" x2="218.0" y2="456.5" stroke="#111" stroke-width="1.5" />
<line x1="50.6" y1="456.5" x2="53.6" y2="456.5" stroke="#111" stroke-width="1.3" />
<text font-size="12" stroke="#111" stroke-width="0.3" text-anchor="end" transform="translate(46.8 461.3)" fill="#111" >0</text>
<line x1="50.6" y1="434.9" x2="53.6" y2="434.9" stroke="#111" stroke-width="1.3" />
<text font-size="12" stroke="#111" stroke-width="0.3" text-anchor="end" transform="translate(46.8 440.6)" fill="#111" >0.2</text>
<line x1="50.6" y1="413.2" x2="53.6" y2="413.2" stroke="#111" stroke-width="1.3" />
<text font-size="12" stroke="#111" stroke-width="0.3" text-anchor="end" transform="translate(46.8 418.7)" fill="#111" >0.4</text>
<line x1="50.6" y1="391.6" x2="53.6" y2="391.6" stroke="#111" stroke-width="1.3" />
<text font-size="12" stroke="#111" stroke-width="0.3" text-anchor="end" transform="translate(46.8 397.8)" fill="#111" >0.6</text>
<line x1="50.6" y1="369.9" x2="53.6" y2="369.9" stroke="#111" stroke-width="1.3" />
<text font-size="12" stroke="#111" stroke-width="0.3" text-anchor="end" transform="translate(46.8 375.0)" fill="#111" >0.8</text>
<line x1="50.6" y1="348.3" x2="53.6" y2="348.3" stroke="#111" stroke-width="1.3" />
<text font-size="12" stroke="#111" stroke-width="0.3" text-anchor="end" transform="translate(46.8 353.7)" fill="#111" >1</text>
<line x1="53.6" y1="456.5" x2="53.6" y2="459.5" stroke="#111" stroke-width="1.3" />
<text font-size="12" stroke="#111" stroke-width="0.3" text-anchor="middle" transform="translate(54.4 473.2)" fill="#111" >0</text>
<line x1="108.3" y1="456.5" x2="108.3" y2="459.5" stroke="#111" stroke-width="1.3" />
<text font-size="12" stroke="#111" stroke-width="0.3" text-anchor="middle" transform="translate(109.1 473.2)" fill="#111" >2</text>
<line x1="163.0" y1="456.5" x2="163.0" y2="459.5" stroke="#111" stroke-width="1.3" />
<text font-size="12" stroke="#111" stroke-width="0.3" text-anchor="middle" transform="translate(163.8 473.2)" fill="#111" >4</text>
<line x1="217.7" y1="456.5" x2="217.7" y2="459.5" stroke="#111" stroke-width="1.3" />
<text font-size="12" stroke="#111" stroke-width="0.3" text-anchor="middle" transform="translate(218.5 473.2)" fill="#111" >6</text>
<text font-size="12" stroke="#111" stroke-width="0.3" text-anchor="middle" transform="translate(135.2 488.5) scale(1.06 1)" fill="#111" >Days</text>
<text font-size="12" stroke="#111" stroke-width="0.3" text-anchor="middle" transform="translate(14.9 399.3) rotate(-90)" fill="#111" ># Cells (×10<tspan font-size="8" dy="-5">6</tspan><tspan dy="5">)</tspan></text>
<line x1="81.0" y1="358.2" x2="81.0" y2="386.9" stroke="#111" stroke-width="1.3" />
<line x1="77.0" y1="358.2" x2="85.0" y2="358.2" stroke="#111" stroke-width="1.6" />
<line x1="77.0" y1="386.9" x2="85.0" y2="386.9" stroke="#111" stroke-width="1.6" />
<line x1="135.7" y1="378.0" x2="135.7" y2="393.1" stroke="#111" stroke-width="1.3" />
<line x1="131.7" y1="378.0" x2="139.7" y2="378.0" stroke="#111" stroke-width="1.6" />
<line x1="131.7" y1="393.1" x2="139.7" y2="393.1" stroke="#111" stroke-width="1.6" />
<line x1="190.3" y1="368.9" x2="190.3" y2="378.0" stroke="#111" stroke-width="1.3" />
<line x1="186.3" y1="368.9" x2="194.3" y2="368.9" stroke="#111" stroke-width="1.6" />
<line x1="186.3" y1="378.0" x2="194.3" y2="378.0" stroke="#111" stroke-width="1.6" />
<polyline points="53.6,402.4 81.0,372.1 135.7,366.7 190.3,381.3" fill="none" stroke="#9a9a9a" stroke-width="1.3" />
<polyline points="53.6,402.4 81.0,365.6 135.7,384.0 190.3,398.4" fill="none" stroke="#a8a8a8" stroke-width="1.3" />
<polyline points="53.6,402.4 81.0,362.4 135.7,374.8 190.3,373.2" fill="none" stroke="#111" stroke-width="1.4" />
<polyline points="53.6,402.4 81.0,374.8 135.7,385.1 190.3,374.1" fill="none" stroke="#111" stroke-width="1.4" />
<circle cx="53.6" cy="402.4" r="4.2" fill="#a8a8a8" stroke="none" stroke-width="1.3"/>
<circle cx="81.0" cy="365.6" r="4.2" fill="#a8a8a8" stroke="none" stroke-width="1.3"/>
<circle cx="135.7" cy="384.0" r="4.2" fill="#a8a8a8" stroke="none" stroke-width="1.3"/>
<circle cx="190.3" cy="398.4" r="4.2" fill="#a8a8a8" stroke="none" stroke-width="1.3"/>
<rect x="49.8" y="398.6" width="7.6" height="7.6" fill="#9a9a9a"/>
<rect x="77.2" y="368.3" width="7.6" height="7.6" fill="#9a9a9a"/>
<rect x="131.8" y="362.9" width="7.6" height="7.6" fill="#9a9a9a"/>
<rect x="186.5" y="377.5" width="7.6" height="7.6" fill="#9a9a9a"/>
<circle cx="53.6" cy="402.4" r="3.9000000000000004" fill="#111" stroke="none" stroke-width="1.3"/>
<circle cx="81.0" cy="362.4" r="3.9000000000000004" fill="#111" stroke="none" stroke-width="1.3"/>
<circle cx="135.7" cy="374.8" r="3.9000000000000004" fill="#111" stroke="none" stroke-width="1.3"/>
<circle cx="190.3" cy="373.2" r="3.9000000000000004" fill="#111" stroke="none" stroke-width="1.3"/>
<rect x="186.5" y="394.6" width="7.6" height="7.6" fill="#9a9a9a"/>
<rect x="132.1" y="371.2" width="7.2" height="7.2" fill="#111"/>
<circle cx="53.6" cy="402.4" r="3.7" fill="#fff" stroke="#111" stroke-width="1.5"/>
<circle cx="81.0" cy="374.8" r="3.7" fill="#fff" stroke="#111" stroke-width="1.5"/>
<circle cx="135.7" cy="385.1" r="3.7" fill="#fff" stroke="#111" stroke-width="1.5"/>
<circle cx="190.3" cy="374.1" r="3.7" fill="#fff" stroke="#111" stroke-width="1.5"/>
<text font-size="12" stroke="#111" stroke-width="0.3" text-anchor="middle" transform="translate(362.2 338.0) scale(1.06 1)" fill="#111" >PT-4</text>
<line x1="290.8" y1="349.8" x2="290.8" y2="459.3" stroke="#111" stroke-width="1.5" />
<line x1="290.2" y1="458.7" x2="457.5" y2="458.7" stroke="#111" stroke-width="1.5" />
<line x1="287.8" y1="458.7" x2="290.8" y2="458.7" stroke="#111" stroke-width="1.3" />
<text font-size="12" stroke="#111" stroke-width="0.3" text-anchor="end" transform="translate(284.5 463.5)" fill="#111" >0</text>
<line x1="287.8" y1="436.7" x2="290.8" y2="436.7" stroke="#111" stroke-width="1.3" />
<text font-size="12" stroke="#111" stroke-width="0.3" text-anchor="end" transform="translate(284.5 441.5)" fill="#111" >20</text>
<line x1="287.8" y1="414.7" x2="290.8" y2="414.7" stroke="#111" stroke-width="1.3" />
<text font-size="12" stroke="#111" stroke-width="0.3" text-anchor="end" transform="translate(284.5 419.0)" fill="#111" >40</text>
<line x1="287.8" y1="392.7" x2="290.8" y2="392.7" stroke="#111" stroke-width="1.3" />
<text font-size="12" stroke="#111" stroke-width="0.3" text-anchor="end" transform="translate(284.5 397.8)" fill="#111" >60</text>
<line x1="287.8" y1="370.7" x2="290.8" y2="370.7" stroke="#111" stroke-width="1.3" />
<text font-size="12" stroke="#111" stroke-width="0.3" text-anchor="end" transform="translate(284.5 375.7)" fill="#111" >80</text>
<line x1="287.8" y1="348.7" x2="290.8" y2="348.7" stroke="#111" stroke-width="1.3" />
<text font-size="12" stroke="#111" stroke-width="0.3" text-anchor="end" transform="translate(284.5 354.6)" fill="#111" >100</text>
<line x1="290.8" y1="458.7" x2="290.8" y2="461.7" stroke="#111" stroke-width="1.3" />
<line x1="345.8" y1="458.7" x2="345.8" y2="461.7" stroke="#111" stroke-width="1.3" />
<text font-size="12" stroke="#111" stroke-width="0.3" text-anchor="middle" transform="translate(346.6 474.6)" fill="#111" >2</text>
<line x1="400.8" y1="458.7" x2="400.8" y2="461.7" stroke="#111" stroke-width="1.3" />
<text font-size="12" stroke="#111" stroke-width="0.3" text-anchor="middle" transform="translate(401.6 474.6)" fill="#111" >4</text>
<line x1="455.8" y1="458.7" x2="455.8" y2="461.7" stroke="#111" stroke-width="1.3" />
<text font-size="12" stroke="#111" stroke-width="0.3" text-anchor="middle" transform="translate(456.6 474.6)" fill="#111" >6</text>
<text font-size="12" stroke="#111" stroke-width="0.3" text-anchor="middle" transform="translate(378.5 489.0) scale(1.06 1)" fill="#111" >Days</text>
<text font-size="13" stroke="#111" stroke-width="0.3" text-anchor="middle" textLength="64" lengthAdjust="spacingAndGlyphs" transform="translate(256.2 404.5) rotate(-90)" fill="#111" >% Viability</text>
<polyline points="290.8,349.8 318.3,352.0 373.3,360.2 428.3,365.2" fill="none" stroke="#9a9a9a" stroke-width="1.3" />
<polyline points="290.8,349.8 318.3,356.4 373.3,361.3 428.3,362.4" fill="none" stroke="#a8a8a8" stroke-width="1.3" />
<polyline points="290.8,349.8 318.3,357.5 373.3,362.4 428.3,361.7" fill="none" stroke="#111" stroke-width="1.4" />
<polyline points="290.8,349.8 318.3,358.2 373.3,363.0 428.3,361.9" fill="none" stroke="#111" stroke-width="1.4" />
<rect x="287.0" y="346.0" width="7.6" height="7.6" fill="#9a9a9a"/>
<rect x="314.5" y="348.2" width="7.6" height="7.6" fill="#9a9a9a"/>
<rect x="369.5" y="356.4" width="7.6" height="7.6" fill="#9a9a9a"/>
<rect x="424.5" y="361.4" width="7.6" height="7.6" fill="#9a9a9a"/>
<circle cx="290.8" cy="349.8" r="4.2" fill="#a8a8a8" stroke="none" stroke-width="1.3"/>
<circle cx="318.3" cy="356.4" r="4.2" fill="#a8a8a8" stroke="none" stroke-width="1.3"/>
<circle cx="373.3" cy="361.3" r="4.2" fill="#a8a8a8" stroke="none" stroke-width="1.3"/>
<circle cx="428.3" cy="362.4" r="4.2" fill="#a8a8a8" stroke="none" stroke-width="1.3"/>
<circle cx="290.8" cy="349.8" r="3.9000000000000004" fill="#111" stroke="none" stroke-width="1.3"/>
<circle cx="318.3" cy="357.5" r="3.9000000000000004" fill="#111" stroke="none" stroke-width="1.3"/>
<circle cx="373.3" cy="362.4" r="3.9000000000000004" fill="#111" stroke="none" stroke-width="1.3"/>
<circle cx="428.3" cy="361.7" r="3.9000000000000004" fill="#111" stroke="none" stroke-width="1.3"/>
<circle cx="290.8" cy="349.8" r="3.7" fill="#fff" stroke="#111" stroke-width="1.5"/>
<circle cx="318.3" cy="358.2" r="3.7" fill="#fff" stroke="#111" stroke-width="1.5"/>
<circle cx="373.3" cy="363.0" r="3.7" fill="#fff" stroke="#111" stroke-width="1.5"/>
<circle cx="428.3" cy="361.9" r="3.7" fill="#fff" stroke="#111" stroke-width="1.5"/>
<line x1="75.4" y1="507.5" x2="91.5" y2="507.5" stroke="#111" stroke-width="1.4" />
<circle cx="83.5" cy="507.5" r="4.7" fill="none" stroke="#111" stroke-width="1.5"/>
<text font-size="12" stroke="#111" stroke-width="0.3" transform="translate(97.3 510.8) scale(1.06 1)" fill="#111" >Control</text>
<line x1="147.4" y1="506.5" x2="163.0" y2="506.5" stroke="#9a9a9a" stroke-width="1.3" />
<rect x="150.6" y="501.5" width="10" height="10" fill="#9a9a9a"/>
<text font-size="12" stroke="#111" stroke-width="0.3" transform="translate(168.8 510.7) scale(1.06 1)" fill="#111" >BAFF</text>
<line x1="224.2" y1="506.5" x2="239.2" y2="506.5" stroke="#a8a8a8" stroke-width="1.3" />
<circle cx="231.8" cy="506.5" r="4.7" fill="#a8a8a8" stroke="none" stroke-width="1.3"/>
<text font-size="12" stroke="#111" stroke-width="0.3" transform="translate(243.9 510.8) scale(1.06 1)" fill="#111" >BAFF + VAY736</text>
<line x1="344.5" y1="504.7" x2="360.1" y2="504.7" stroke="#111" stroke-width="1.4" />
<circle cx="352.3" cy="504.7" r="4.6" fill="#111" stroke="none" stroke-width="1.3"/>
<text font-size="12" stroke="#111" stroke-width="0.3" transform="translate(373.1 511.6) scale(1.06 1)" fill="#111" >VAY736</text>
<text font-size="20" font-weight="bold" transform="translate(0.8 550.2) scale(1.06 1)" fill="#000" >D</text>
<text font-size="12" stroke="#111" stroke-width="0.3" text-anchor="middle" transform="translate(193.0 563.7) scale(1.06 1)" fill="#111" >Day 5</text>
<text font-size="12" stroke="#111" stroke-width="0.3" text-anchor="middle" transform="translate(85.2 584.0) scale(1.06 1)" fill="#111" >Control</text>
<text font-size="12" stroke="#111" stroke-width="0.3" text-anchor="middle" transform="translate(162.4 584.0) scale(1.06 1)" fill="#111" >BAFF</text>
<text font-size="12" stroke="#111" stroke-width="0.3" text-anchor="middle" transform="translate(240.5 584.4) scale(1.06 1)" fill="#111" >VAY736</text>
<text font-size="12" stroke="#111" stroke-width="0.3" text-anchor="middle" transform="translate(313.8 572.7) scale(1.06 1)" fill="#111" >BAFF +</text>
<text font-size="12" stroke="#111" stroke-width="0.3" text-anchor="middle" transform="translate(315.1 585.0) scale(1.06 1)" fill="#111" >VAY736</text>
<text font-size="12" stroke="#111" stroke-width="0.3" text-anchor="middle" transform="translate(38.0 614.0) rotate(-90)" fill="#111" >PT-3</text>
<text font-size="12" stroke="#111" stroke-width="0.3" text-anchor="middle" transform="translate(38.0 707.8) rotate(-90)" fill="#111" >PT-4</text>
<text font-size="12" stroke="#111" stroke-width="0.3" text-anchor="middle" transform="translate(21.3 658.4) rotate(-90)" fill="#111" >PI</text>
<text font-size="12" stroke="#111" stroke-width="0.3" text-anchor="middle" transform="translate(200.9 766.8) scale(1.06 1)" fill="#111" >Annexin V</text>
<line x1="41.3" y1="587.0" x2="41.3" y2="749.5" stroke="#111" stroke-width="1.5" />
<line x1="40.6" y1="749.5" x2="351.4" y2="749.5" stroke="#111" stroke-width="1.5" />
<line x1="46.2" y1="588.9" x2="120.6" y2="588.9" stroke="#111" stroke-width="1.2" />
<line x1="120.0" y1="588.9" x2="120.0" y2="658.8" stroke="#111" stroke-width="1.2" />
<line x1="49.2" y1="588.9" x2="49.2" y2="659.4" stroke="#111" stroke-width="1.2" />
<line x1="46.2" y1="658.8" x2="120.6" y2="658.8" stroke="#111" stroke-width="1.2" />
<path d="M49.20 658.80h-2.80M49.20 655.34h-2.80M49.20 653.31h-2.80M49.20 651.88h-2.80M49.20 650.76h-2.80M49.20 649.85h-2.80M49.20 649.08h-2.80M49.20 648.41h-2.80M49.20 647.83h-2.80M49.20 647.30h-2.80M49.20 643.84h-2.80M49.20 641.81h-2.80M49.20 640.38h-2.80M49.20 639.26h-2.80M49.20 638.35h-2.80M49.20 637.58h-2.80M49.20 636.91h-2.80M49.20 636.33h-2.80M49.20 635.80h-2.80M49.20 632.34h-2.80M49.20 630.31h-2.80M49.20 628.88h-2.80M49.20 627.76h-2.80M49.20 626.85h-2.80M49.20 626.08h-2.80M49.20 625.41h-2.80M49.20 624.83h-2.80M49.20 624.30h-2.80M49.20 620.84h-2.80M49.20 618.81h-2.80M49.20 617.38h-2.80M49.20 616.26h-2.80M49.20 615.35h-2.80M49.20 614.58h-2.80M49.20 613.91h-2.80M49.20 613.33h-2.80M49.20 612.80h-2.80M49.20 609.34h-2.80M49.20 607.31h-2.80M49.20 605.88h-2.80M49.20 604.76h-2.80M49.20 603.85h-2.80M49.20 603.08h-2.80M49.20 602.41h-2.80M49.20 601.83h-2.80M49.20 601.30h-2.80M49.20 597.84h-2.80M49.20 595.81h-2.80M49.20 594.38h-2.80M49.20 593.26h-2.80M49.20 592.35h-2.80M49.20 591.58h-2.80M49.20 590.91h-2.80M49.20 590.33h-2.80" stroke="#000" stroke-width="1.0" fill="none"/>
<path d="M49.20 658.80v2.20M52.66 658.80v2.20M54.69 658.80v2.20M56.12 658.80v2.20M57.24 658.80v2.20M58.15 658.80v2.20M58.92 658.80v2.20M59.59 658.80v2.20M60.17 658.80v2.20M60.70 658.80v2.20M64.16 658.80v2.20M66.19 658.80v2.20M67.62 658.80v2.20M68.74 658.80v2.20M69.65 658.80v2.20M70.42 658.80v2.20M71.09 658.80v2.20M71.67 658.80v2.20M72.20 658.80v2.20M75.66 658.80v2.20M77.69 658.80v2.20M79.12 658.80v2.20M80.24 658.80v2.20M81.15 658.80v2.20M81.92 658.80v2.20M82.59 658.80v2.20M83.17 658.80v2.20M83.70 658.80v2.20M87.16 658.80v2.20M89.19 658.80v2.20M90.62 658.80v2.20M91.74 658.80v2.20M92.65 658.80v2.20M93.42 658.80v2.20M94.09 658.80v2.20M94.67 658.80v2.20M95.20 658.80v2.20M98.66 658.80v2.20M100.69 658.80v2.20M102.12 658.80v2.20M103.24 658.80v2.20M104.15 658.80v2.20M104.92 658.80v2.20M105.59 658.80v2.20M106.17 658.80v2.20M106.70 658.80v2.20M110.16 658.80v2.20M112.19 658.80v2.20M113.62 658.80v2.20M114.74 658.80v2.20M115.65 658.80v2.20M116.42 658.80v2.20M117.09 658.80v2.20M117.67 658.80v2.20M118.20 658.80v2.20" stroke="#000" stroke-width="1.0" fill="none"/>
<line x1="76.5" y1="588.9" x2="76.5" y2="658.8" stroke="#000" stroke-width="1.2" />
<line x1="49.2" y1="631.5" x2="120.0" y2="631.5" stroke="#000" stroke-width="1.2" />
<text font-size="12" stroke="#111" stroke-width="0.3" text-anchor="end" transform="translate(118.2 601.3) scale(1.06 1)" fill="#111" >10.7%</text>
<path d="M70.1 640.3h1.1v1.1h-1.1zM63.2 647.6h1.1v1.1h-1.1zM73.7 634.5h1.1v1.1h-1.1zM59.3 646.4h1.1v1.1h-1.1zM75.5 655.4h1.1v1.1h-1.1zM66.5 650.5h1.1v1.1h-1.1zM69.4 641.4h1.1v1.1h-1.1zM63.7 643.0h1.1v1.1h-1.1zM73.3 652.2h1.1v1.1h-1.1zM70.9 649.1h1.1v1.1h-1.1zM64.4 653.8h1.1v1.1h-1.1zM74.0 642.7h1.1v1.1h-1.1zM69.1 651.2h1.1v1.1h-1.1zM67.7 639.5h1.1v1.1h-1.1zM67.3 638.6h1.1v1.1h-1.1zM67.5 648.2h1.1v1.1h-1.1zM61.6 647.6h1.1v1.1h-1.1zM71.4 646.8h1.1v1.1h-1.1zM73.3 647.4h1.1v1.1h-1.1zM61.8 648.8h1.1v1.1h-1.1zM74.7 633.3h1.1v1.1h-1.1zM68.7 635.7h1.1v1.1h-1.1zM72.4 638.1h1.1v1.1h-1.1zM71.1 638.8h1.1v1.1h-1.1zM69.9 634.2h1.1v1.1h-1.1zM61.6 647.3h1.1v1.1h-1.1zM69.5 634.4h1.1v1.1h-1.1zM63.5 648.6h1.1v1.1h-1.1zM63.7 644.2h1.1v1.1h-1.1zM77.2 634.9h1.1v1.1h-1.1zM75.4 609.0h1.1v1.1h-1.1zM78.3 612.4h1.1v1.1h-1.1zM75.4 608.7h1.1v1.1h-1.1zM79.0 613.6h1.1v1.1h-1.1zM74.8 620.3h1.1v1.1h-1.1zM79.0 624.0h1.1v1.1h-1.1zM76.6 612.3h1.1v1.1h-1.1zM79.3 627.7h1.1v1.1h-1.1zM81.4 613.9h1.1v1.1h-1.1zM78.4 625.0h1.1v1.1h-1.1zM78.0 621.9h1.1v1.1h-1.1zM77.2 625.1h1.1v1.1h-1.1zM79.2 627.6h1.1v1.1h-1.1zM78.7 614.0h1.1v1.1h-1.1zM74.4 610.4h1.1v1.1h-1.1zM77.2 628.0h1.1v1.1h-1.1zM75.0 610.1h1.1v1.1h-1.1zM78.3 631.2h1.1v1.1h-1.1zM75.4 631.9h1.1v1.1h-1.1zM77.1 633.1h1.1v1.1h-1.1zM77.5 621.4h1.1v1.1h-1.1zM78.9 613.6h1.1v1.1h-1.1zM76.1 631.0h1.1v1.1h-1.1zM76.5 618.6h1.1v1.1h-1.1zM78.6 624.6h1.1v1.1h-1.1zM80.5 620.6h1.1v1.1h-1.1zM77.6 622.5h1.1v1.1h-1.1zM80.4 630.6h1.1v1.1h-1.1zM80.2 631.9h1.1v1.1h-1.1zM75.8 618.9h1.1v1.1h-1.1zM81.1 628.8h1.1v1.1h-1.1zM82.2 634.3h1.1v1.1h-1.1zM79.4 621.9h1.1v1.1h-1.1zM74.4 623.1h1.1v1.1h-1.1zM77.2 609.2h1.1v1.1h-1.1zM79.2 613.5h1.1v1.1h-1.1zM77.1 611.4h1.1v1.1h-1.1zM77.5 609.4h1.1v1.1h-1.1zM82.1 611.2h1.1v1.1h-1.1zM77.0 609.1h1.1v1.1h-1.1zM75.9 624.7h1.1v1.1h-1.1zM74.8 627.5h1.1v1.1h-1.1zM76.1 611.4h1.1v1.1h-1.1zM80.2 609.8h1.1v1.1h-1.1zM71.2 626.8h1.1v1.1h-1.1zM79.5 617.2h1.1v1.1h-1.1zM71.2 622.8h1.1v1.1h-1.1zM71.5 631.2h1.1v1.1h-1.1zM87.4 611.2h1.1v1.1h-1.1zM81.1 638.1h1.1v1.1h-1.1zM72.1 641.7h1.1v1.1h-1.1zM89.1 622.1h1.1v1.1h-1.1zM77.8 642.3h1.1v1.1h-1.1zM80.1 622.4h1.1v1.1h-1.1z" fill="#111" fill-opacity="0.6"/>
<path d="M70.5 644.4h1.1v1.1h-1.1zM68.5 643.7h1.1v1.1h-1.1zM68.0 646.6h1.1v1.1h-1.1zM71.8 638.8h1.1v1.1h-1.1zM71.3 639.0h1.1v1.1h-1.1zM70.4 641.5h1.1v1.1h-1.1zM69.8 650.3h1.1v1.1h-1.1zM71.3 641.3h1.1v1.1h-1.1zM63.3 648.7h1.1v1.1h-1.1zM67.4 646.3h1.1v1.1h-1.1zM69.7 641.7h1.1v1.1h-1.1zM68.5 640.5h1.1v1.1h-1.1zM70.8 642.0h1.1v1.1h-1.1zM73.1 646.8h1.1v1.1h-1.1zM73.1 641.5h1.1v1.1h-1.1zM67.0 645.0h1.1v1.1h-1.1zM68.9 644.3h1.1v1.1h-1.1zM70.8 640.6h1.1v1.1h-1.1zM66.6 644.2h1.1v1.1h-1.1zM72.0 645.9h1.1v1.1h-1.1zM69.2 646.4h1.1v1.1h-1.1zM66.2 640.3h1.1v1.1h-1.1zM72.8 643.7h1.1v1.1h-1.1zM66.5 651.0h1.1v1.1h-1.1zM67.3 642.9h1.1v1.1h-1.1zM69.9 640.9h1.1v1.1h-1.1zM70.0 649.5h1.1v1.1h-1.1zM72.6 640.9h1.1v1.1h-1.1zM72.0 637.4h1.1v1.1h-1.1zM66.4 641.6h1.1v1.1h-1.1zM68.6 640.1h1.1v1.1h-1.1zM65.8 644.0h1.1v1.1h-1.1zM67.1 646.6h1.1v1.1h-1.1zM65.8 636.4h1.1v1.1h-1.1zM68.5 649.1h1.1v1.1h-1.1zM72.5 637.5h1.1v1.1h-1.1zM61.1 649.0h1.1v1.1h-1.1zM68.0 641.1h1.1v1.1h-1.1zM70.7 648.2h1.1v1.1h-1.1zM71.1 638.6h1.1v1.1h-1.1zM70.9 642.3h1.1v1.1h-1.1zM72.8 636.9h1.1v1.1h-1.1zM71.4 641.3h1.1v1.1h-1.1zM71.0 650.2h1.1v1.1h-1.1zM71.9 639.5h1.1v1.1h-1.1zM65.8 650.6h1.1v1.1h-1.1zM65.9 638.4h1.1v1.1h-1.1zM71.9 644.4h1.1v1.1h-1.1zM72.1 649.4h1.1v1.1h-1.1zM69.7 640.7h1.1v1.1h-1.1zM71.5 642.1h1.1v1.1h-1.1zM72.5 643.3h1.1v1.1h-1.1zM67.7 645.4h1.1v1.1h-1.1zM70.7 638.8h1.1v1.1h-1.1zM70.9 647.2h1.1v1.1h-1.1zM70.0 636.8h1.1v1.1h-1.1zM67.7 648.5h1.1v1.1h-1.1zM68.6 643.4h1.1v1.1h-1.1zM68.4 636.6h1.1v1.1h-1.1zM67.7 637.0h1.1v1.1h-1.1zM70.2 646.6h1.1v1.1h-1.1zM72.9 639.0h1.1v1.1h-1.1zM70.2 641.7h1.1v1.1h-1.1zM71.1 642.8h1.1v1.1h-1.1zM70.0 643.9h1.1v1.1h-1.1zM70.1 640.7h1.1v1.1h-1.1zM71.8 640.3h1.1v1.1h-1.1zM72.5 635.1h1.1v1.1h-1.1zM68.1 644.5h1.1v1.1h-1.1zM71.8 643.7h1.1v1.1h-1.1zM70.1 644.6h1.1v1.1h-1.1zM65.1 633.8h1.1v1.1h-1.1zM68.9 647.7h1.1v1.1h-1.1zM70.5 641.5h1.1v1.1h-1.1zM70.7 645.2h1.1v1.1h-1.1zM68.5 641.5h1.1v1.1h-1.1zM73.0 633.4h1.1v1.1h-1.1zM68.6 645.2h1.1v1.1h-1.1zM69.1 643.9h1.1v1.1h-1.1zM65.3 653.7h1.1v1.1h-1.1zM67.7 638.1h1.1v1.1h-1.1zM71.8 643.9h1.1v1.1h-1.1zM74.2 640.5h1.1v1.1h-1.1zM66.8 649.7h1.1v1.1h-1.1zM70.7 644.8h1.1v1.1h-1.1zM63.9 636.8h1.1v1.1h-1.1zM67.0 637.6h1.1v1.1h-1.1zM66.5 639.2h1.1v1.1h-1.1zM72.7 643.1h1.1v1.1h-1.1zM69.8 643.7h1.1v1.1h-1.1zM70.7 639.9h1.1v1.1h-1.1zM73.3 644.4h1.1v1.1h-1.1zM69.9 638.5h1.1v1.1h-1.1zM69.6 631.1h1.1v1.1h-1.1zM69.8 639.1h1.1v1.1h-1.1zM71.4 642.9h1.1v1.1h-1.1zM71.3 642.5h1.1v1.1h-1.1zM64.0 648.2h1.1v1.1h-1.1zM67.7 639.9h1.1v1.1h-1.1zM64.7 646.2h1.1v1.1h-1.1zM72.8 638.4h1.1v1.1h-1.1zM68.7 636.4h1.1v1.1h-1.1zM66.6 642.2h1.1v1.1h-1.1zM74.3 641.0h1.1v1.1h-1.1zM72.5 647.7h1.1v1.1h-1.1zM70.1 638.9h1.1v1.1h-1.1zM70.9 651.9h1.1v1.1h-1.1zM67.9 643.0h1.1v1.1h-1.1zM71.0 641.7h1.1v1.1h-1.1zM68.6 636.2h1.1v1.1h-1.1zM74.5 639.4h1.1v1.1h-1.1zM70.6 637.0h1.1v1.1h-1.1zM71.2 646.7h1.1v1.1h-1.1zM69.9 642.6h1.1v1.1h-1.1zM70.4 637.0h1.1v1.1h-1.1zM66.0 652.1h1.1v1.1h-1.1zM69.5 651.1h1.1v1.1h-1.1zM68.3 641.3h1.1v1.1h-1.1zM71.6 643.6h1.1v1.1h-1.1zM72.9 643.6h1.1v1.1h-1.1zM72.0 643.9h1.1v1.1h-1.1zM75.2 638.0h1.1v1.1h-1.1zM71.0 646.3h1.1v1.1h-1.1zM64.7 649.9h1.1v1.1h-1.1zM70.1 651.7h1.1v1.1h-1.1zM68.1 648.0h1.1v1.1h-1.1zM69.2 643.8h1.1v1.1h-1.1zM69.4 645.6h1.1v1.1h-1.1zM71.6 635.8h1.1v1.1h-1.1zM72.6 641.5h1.1v1.1h-1.1zM66.1 643.0h1.1v1.1h-1.1zM71.6 646.0h1.1v1.1h-1.1zM66.2 649.3h1.1v1.1h-1.1zM72.6 639.4h1.1v1.1h-1.1zM71.5 643.5h1.1v1.1h-1.1zM66.7 641.5h1.1v1.1h-1.1zM66.2 648.9h1.1v1.1h-1.1zM69.1 638.9h1.1v1.1h-1.1zM66.6 646.1h1.1v1.1h-1.1zM67.5 649.1h1.1v1.1h-1.1zM69.1 648.0h1.1v1.1h-1.1zM67.8 652.8h1.1v1.1h-1.1zM63.9 644.3h1.1v1.1h-1.1zM69.6 639.9h1.1v1.1h-1.1zM64.9 651.5h1.1v1.1h-1.1zM68.7 641.5h1.1v1.1h-1.1zM72.2 640.3h1.1v1.1h-1.1zM71.0 640.5h1.1v1.1h-1.1zM72.6 638.0h1.1v1.1h-1.1zM64.8 639.8h1.1v1.1h-1.1zM73.8 640.2h1.1v1.1h-1.1zM68.0 643.9h1.1v1.1h-1.1zM67.2 633.9h1.1v1.1h-1.1zM76.1 642.7h1.1v1.1h-1.1zM70.2 647.2h1.1v1.1h-1.1zM71.2 635.3h1.1v1.1h-1.1zM72.4 641.3h1.1v1.1h-1.1zM68.3 646.6h1.1v1.1h-1.1zM71.9 642.4h1.1v1.1h-1.1zM69.0 643.0h1.1v1.1h-1.1zM67.5 646.9h1.1v1.1h-1.1zM70.7 639.5h1.1v1.1h-1.1zM66.5 645.9h1.1v1.1h-1.1zM75.3 632.9h1.1v1.1h-1.1zM63.7 638.7h1.1v1.1h-1.1zM71.4 640.8h1.1v1.1h-1.1zM72.4 636.5h1.1v1.1h-1.1zM70.7 643.6h1.1v1.1h-1.1zM70.0 651.6h1.1v1.1h-1.1zM68.1 641.2h1.1v1.1h-1.1zM75.5 638.8h1.1v1.1h-1.1zM66.3 648.2h1.1v1.1h-1.1zM70.3 641.9h1.1v1.1h-1.1zM66.6 644.0h1.1v1.1h-1.1zM74.4 635.1h1.1v1.1h-1.1zM64.8 646.9h1.1v1.1h-1.1zM73.8 636.8h1.1v1.1h-1.1zM73.5 636.2h1.1v1.1h-1.1zM69.2 646.7h1.1v1.1h-1.1zM65.3 651.3h1.1v1.1h-1.1zM70.7 643.6h1.1v1.1h-1.1zM68.4 645.9h1.1v1.1h-1.1zM70.9 641.4h1.1v1.1h-1.1zM70.7 640.6h1.1v1.1h-1.1zM71.1 644.8h1.1v1.1h-1.1zM67.5 642.2h1.1v1.1h-1.1zM68.8 645.5h1.1v1.1h-1.1zM69.8 643.6h1.1v1.1h-1.1zM69.9 643.1h1.1v1.1h-1.1zM66.2 642.7h1.1v1.1h-1.1zM72.6 642.0h1.1v1.1h-1.1zM69.5 641.1h1.1v1.1h-1.1zM67.6 640.5h1.1v1.1h-1.1zM67.6 650.7h1.1v1.1h-1.1zM70.3 647.3h1.1v1.1h-1.1zM61.7 645.6h1.1v1.1h-1.1zM72.3 648.3h1.1v1.1h-1.1zM65.6 643.6h1.1v1.1h-1.1zM70.0 646.4h1.1v1.1h-1.1zM70.5 641.1h1.1v1.1h-1.1zM72.9 637.5h1.1v1.1h-1.1zM71.0 643.5h1.1v1.1h-1.1zM73.7 636.9h1.1v1.1h-1.1zM67.9 638.1h1.1v1.1h-1.1zM71.2 644.1h1.1v1.1h-1.1zM71.9 644.9h1.1v1.1h-1.1zM72.4 641.2h1.1v1.1h-1.1zM75.7 645.6h1.1v1.1h-1.1zM70.3 637.8h1.1v1.1h-1.1zM76.1 644.4h1.1v1.1h-1.1zM71.3 645.0h1.1v1.1h-1.1zM70.6 639.0h1.1v1.1h-1.1zM68.7 647.9h1.1v1.1h-1.1zM72.7 642.3h1.1v1.1h-1.1zM70.4 639.8h1.1v1.1h-1.1zM71.8 639.9h1.1v1.1h-1.1zM69.9 642.2h1.1v1.1h-1.1zM71.0 644.4h1.1v1.1h-1.1zM66.8 646.9h1.1v1.1h-1.1zM65.8 642.0h1.1v1.1h-1.1zM64.0 643.4h1.1v1.1h-1.1zM70.2 646.2h1.1v1.1h-1.1zM70.0 640.7h1.1v1.1h-1.1zM65.7 643.0h1.1v1.1h-1.1zM72.8 635.9h1.1v1.1h-1.1zM68.5 638.0h1.1v1.1h-1.1zM64.7 642.5h1.1v1.1h-1.1zM72.7 640.5h1.1v1.1h-1.1zM67.3 650.7h1.1v1.1h-1.1zM65.8 639.3h1.1v1.1h-1.1zM64.8 649.7h1.1v1.1h-1.1zM65.3 644.6h1.1v1.1h-1.1zM70.2 643.0h1.1v1.1h-1.1zM72.0 640.9h1.1v1.1h-1.1zM74.1 637.7h1.1v1.1h-1.1zM66.8 648.0h1.1v1.1h-1.1zM65.6 646.6h1.1v1.1h-1.1zM69.4 643.3h1.1v1.1h-1.1zM66.0 639.9h1.1v1.1h-1.1zM68.1 648.0h1.1v1.1h-1.1zM68.5 643.6h1.1v1.1h-1.1zM67.5 642.7h1.1v1.1h-1.1zM71.2 640.4h1.1v1.1h-1.1zM67.7 642.9h1.1v1.1h-1.1zM62.5 641.9h1.1v1.1h-1.1zM68.5 647.0h1.1v1.1h-1.1zM68.4 649.2h1.1v1.1h-1.1zM66.2 641.5h1.1v1.1h-1.1zM68.4 643.8h1.1v1.1h-1.1zM71.5 641.5h1.1v1.1h-1.1zM67.3 642.6h1.1v1.1h-1.1zM69.2 643.5h1.1v1.1h-1.1zM71.0 640.2h1.1v1.1h-1.1zM65.3 645.0h1.1v1.1h-1.1zM67.2 644.0h1.1v1.1h-1.1zM68.0 647.4h1.1v1.1h-1.1zM69.2 645.1h1.1v1.1h-1.1zM69.0 640.6h1.1v1.1h-1.1zM71.2 633.4h1.1v1.1h-1.1zM71.0 638.6h1.1v1.1h-1.1zM64.7 636.9h1.1v1.1h-1.1zM69.3 646.2h1.1v1.1h-1.1zM76.0 642.1h1.1v1.1h-1.1zM73.1 642.6h1.1v1.1h-1.1zM72.7 640.5h1.1v1.1h-1.1zM69.7 640.8h1.1v1.1h-1.1zM67.3 640.2h1.1v1.1h-1.1zM68.2 637.5h1.1v1.1h-1.1zM75.1 643.4h1.1v1.1h-1.1zM69.3 643.9h1.1v1.1h-1.1zM70.8 638.3h1.1v1.1h-1.1zM69.3 646.5h1.1v1.1h-1.1zM71.9 641.1h1.1v1.1h-1.1zM73.1 647.3h1.1v1.1h-1.1zM71.4 636.3h1.1v1.1h-1.1zM68.7 641.6h1.1v1.1h-1.1zM69.3 636.8h1.1v1.1h-1.1zM69.0 639.9h1.1v1.1h-1.1zM70.6 646.3h1.1v1.1h-1.1zM70.9 637.6h1.1v1.1h-1.1zM70.8 646.3h1.1v1.1h-1.1zM70.2 643.4h1.1v1.1h-1.1zM74.0 637.6h1.1v1.1h-1.1zM74.7 646.6h1.1v1.1h-1.1zM71.5 643.5h1.1v1.1h-1.1zM68.7 645.6h1.1v1.1h-1.1zM72.1 651.3h1.1v1.1h-1.1zM67.9 636.6h1.1v1.1h-1.1zM63.8 648.0h1.1v1.1h-1.1zM69.6 637.9h1.1v1.1h-1.1zM68.6 643.0h1.1v1.1h-1.1zM66.6 642.8h1.1v1.1h-1.1zM65.9 641.9h1.1v1.1h-1.1zM70.2 643.5h1.1v1.1h-1.1zM69.4 640.9h1.1v1.1h-1.1zM68.9 646.8h1.1v1.1h-1.1zM72.9 646.0h1.1v1.1h-1.1zM70.0 639.8h1.1v1.1h-1.1zM67.2 644.4h1.1v1.1h-1.1zM67.6 646.6h1.1v1.1h-1.1zM71.1 642.2h1.1v1.1h-1.1zM75.4 642.1h1.1v1.1h-1.1zM68.8 645.9h1.1v1.1h-1.1zM67.8 630.4h1.1v1.1h-1.1zM69.4 645.2h1.1v1.1h-1.1zM70.7 642.6h1.1v1.1h-1.1zM70.2 644.2h1.1v1.1h-1.1zM71.5 643.3h1.1v1.1h-1.1zM65.2 650.1h1.1v1.1h-1.1zM66.9 642.3h1.1v1.1h-1.1zM69.9 647.7h1.1v1.1h-1.1zM70.4 646.1h1.1v1.1h-1.1zM71.1 640.2h1.1v1.1h-1.1zM69.8 640.9h1.1v1.1h-1.1zM67.9 648.7h1.1v1.1h-1.1zM68.7 640.8h1.1v1.1h-1.1zM71.3 643.9h1.1v1.1h-1.1zM70.2 647.0h1.1v1.1h-1.1zM70.1 635.1h1.1v1.1h-1.1zM69.3 642.3h1.1v1.1h-1.1zM72.0 637.0h1.1v1.1h-1.1zM68.7 638.9h1.1v1.1h-1.1zM69.5 643.1h1.1v1.1h-1.1zM71.2 651.2h1.1v1.1h-1.1zM66.1 638.2h1.1v1.1h-1.1zM70.0 639.9h1.1v1.1h-1.1zM70.9 641.4h1.1v1.1h-1.1zM67.3 648.9h1.1v1.1h-1.1zM69.7 636.6h1.1v1.1h-1.1zM65.0 646.2h1.1v1.1h-1.1zM69.0 648.2h1.1v1.1h-1.1zM72.4 636.4h1.1v1.1h-1.1zM75.4 643.5h1.1v1.1h-1.1zM67.2 644.7h1.1v1.1h-1.1zM71.5 641.2h1.1v1.1h-1.1zM65.5 646.3h1.1v1.1h-1.1zM70.4 642.0h1.1v1.1h-1.1zM67.6 648.2h1.1v1.1h-1.1zM70.1 645.5h1.1v1.1h-1.1zM69.2 643.4h1.1v1.1h-1.1zM71.8 645.1h1.1v1.1h-1.1zM70.1 637.1h1.1v1.1h-1.1zM68.5 639.1h1.1v1.1h-1.1zM71.5 643.2h1.1v1.1h-1.1zM70.2 636.6h1.1v1.1h-1.1zM69.9 643.4h1.1v1.1h-1.1zM67.9 649.1h1.1v1.1h-1.1zM69.7 646.0h1.1v1.1h-1.1zM63.3 646.3h1.1v1.1h-1.1zM70.2 643.0h1.1v1.1h-1.1zM71.1 645.8h1.1v1.1h-1.1zM67.7 643.7h1.1v1.1h-1.1zM66.1 640.0h1.1v1.1h-1.1zM68.7 645.7h1.1v1.1h-1.1zM70.0 639.4h1.1v1.1h-1.1zM68.2 641.3h1.1v1.1h-1.1zM74.0 642.9h1.1v1.1h-1.1zM74.7 647.4h1.1v1.1h-1.1zM68.8 645.6h1.1v1.1h-1.1zM72.3 643.0h1.1v1.1h-1.1zM62.9 646.6h1.1v1.1h-1.1zM72.2 641.1h1.1v1.1h-1.1zM76.8 642.2h1.1v1.1h-1.1zM70.4 642.3h1.1v1.1h-1.1zM71.4 639.5h1.1v1.1h-1.1zM68.2 635.4h1.1v1.1h-1.1zM60.4 642.2h1.1v1.1h-1.1zM69.4 639.5h1.1v1.1h-1.1zM75.9 640.7h1.1v1.1h-1.1zM68.9 642.9h1.1v1.1h-1.1zM66.9 644.5h1.1v1.1h-1.1zM70.4 646.0h1.1v1.1h-1.1zM69.7 642.9h1.1v1.1h-1.1zM71.6 644.3h1.1v1.1h-1.1zM69.7 640.9h1.1v1.1h-1.1zM69.8 640.2h1.1v1.1h-1.1zM71.9 648.7h1.1v1.1h-1.1zM67.6 640.5h1.1v1.1h-1.1zM71.5 638.9h1.1v1.1h-1.1zM71.8 650.4h1.1v1.1h-1.1zM72.1 642.2h1.1v1.1h-1.1zM69.3 642.1h1.1v1.1h-1.1zM70.3 649.9h1.1v1.1h-1.1zM68.8 642.7h1.1v1.1h-1.1zM70.1 641.6h1.1v1.1h-1.1zM69.3 640.0h1.1v1.1h-1.1zM64.1 641.7h1.1v1.1h-1.1zM70.7 645.2h1.1v1.1h-1.1zM70.0 637.3h1.1v1.1h-1.1zM73.3 644.6h1.1v1.1h-1.1zM71.0 644.8h1.1v1.1h-1.1zM71.4 636.2h1.1v1.1h-1.1zM69.0 637.5h1.1v1.1h-1.1zM69.5 642.1h1.1v1.1h-1.1zM72.5 643.3h1.1v1.1h-1.1zM70.4 632.9h1.1v1.1h-1.1zM70.1 645.7h1.1v1.1h-1.1zM69.6 647.6h1.1v1.1h-1.1zM69.4 640.5h1.1v1.1h-1.1zM66.2 639.8h1.1v1.1h-1.1zM66.4 638.9h1.1v1.1h-1.1zM67.3 645.5h1.1v1.1h-1.1zM71.2 645.2h1.1v1.1h-1.1zM68.6 642.4h1.1v1.1h-1.1zM74.1 641.9h1.1v1.1h-1.1zM70.4 643.2h1.1v1.1h-1.1zM71.5 638.2h1.1v1.1h-1.1zM74.4 649.9h1.1v1.1h-1.1zM66.9 632.7h1.1v1.1h-1.1zM70.5 643.4h1.1v1.1h-1.1zM72.2 639.5h1.1v1.1h-1.1zM66.6 643.4h1.1v1.1h-1.1zM72.2 643.3h1.1v1.1h-1.1zM65.7 646.7h1.1v1.1h-1.1zM64.6 641.8h1.1v1.1h-1.1zM68.1 643.8h1.1v1.1h-1.1zM68.2 640.7h1.1v1.1h-1.1zM67.6 646.3h1.1v1.1h-1.1zM67.8 642.8h1.1v1.1h-1.1zM71.4 643.5h1.1v1.1h-1.1zM75.1 639.3h1.1v1.1h-1.1zM67.6 645.9h1.1v1.1h-1.1zM71.6 654.4h1.1v1.1h-1.1zM68.6 645.9h1.1v1.1h-1.1zM66.7 640.0h1.1v1.1h-1.1zM69.9 641.1h1.1v1.1h-1.1zM68.2 650.6h1.1v1.1h-1.1zM66.1 636.9h1.1v1.1h-1.1zM70.9 639.9h1.1v1.1h-1.1zM71.1 641.4h1.1v1.1h-1.1zM70.4 637.6h1.1v1.1h-1.1zM69.4 639.2h1.1v1.1h-1.1zM68.2 639.5h1.1v1.1h-1.1zM73.7 644.6h1.1v1.1h-1.1zM69.6 641.1h1.1v1.1h-1.1zM66.3 647.1h1.1v1.1h-1.1zM72.1 642.8h1.1v1.1h-1.1zM71.3 641.6h1.1v1.1h-1.1zM72.9 644.1h1.1v1.1h-1.1zM67.7 644.2h1.1v1.1h-1.1zM70.6 639.4h1.1v1.1h-1.1zM67.8 643.7h1.1v1.1h-1.1zM70.8 644.5h1.1v1.1h-1.1zM66.8 640.8h1.1v1.1h-1.1zM70.4 641.4h1.1v1.1h-1.1zM70.4 647.6h1.1v1.1h-1.1zM68.4 643.9h1.1v1.1h-1.1zM73.7 640.7h1.1v1.1h-1.1zM69.9 646.1h1.1v1.1h-1.1zM74.4 648.1h1.1v1.1h-1.1zM72.0 645.8h1.1v1.1h-1.1zM70.8 646.2h1.1v1.1h-1.1zM65.5 632.3h1.1v1.1h-1.1zM70.3 645.1h1.1v1.1h-1.1zM67.7 642.9h1.1v1.1h-1.1zM72.0 634.3h1.1v1.1h-1.1zM69.9 650.2h1.1v1.1h-1.1zM70.5 650.8h1.1v1.1h-1.1zM69.2 645.4h1.1v1.1h-1.1zM71.2 638.0h1.1v1.1h-1.1zM63.7 647.5h1.1v1.1h-1.1zM72.6 638.7h1.1v1.1h-1.1zM70.8 646.9h1.1v1.1h-1.1zM71.7 641.4h1.1v1.1h-1.1zM66.3 652.0h1.1v1.1h-1.1zM72.3 639.8h1.1v1.1h-1.1zM64.3 637.8h1.1v1.1h-1.1zM70.9 642.6h1.1v1.1h-1.1zM69.9 632.0h1.1v1.1h-1.1zM69.2 644.4h1.1v1.1h-1.1zM69.3 639.1h1.1v1.1h-1.1zM68.8 637.8h1.1v1.1h-1.1zM68.5 641.6h1.1v1.1h-1.1zM67.9 641.9h1.1v1.1h-1.1zM70.5 650.2h1.1v1.1h-1.1zM68.4 641.4h1.1v1.1h-1.1zM72.2 642.9h1.1v1.1h-1.1zM68.2 646.9h1.1v1.1h-1.1zM71.4 641.2h1.1v1.1h-1.1zM63.8 642.9h1.1v1.1h-1.1zM71.7 638.2h1.1v1.1h-1.1zM68.8 642.8h1.1v1.1h-1.1zM68.7 641.6h1.1v1.1h-1.1zM66.5 646.7h1.1v1.1h-1.1zM67.3 645.0h1.1v1.1h-1.1zM69.8 648.1h1.1v1.1h-1.1zM69.7 648.8h1.1v1.1h-1.1zM69.3 647.4h1.1v1.1h-1.1zM71.5 637.6h1.1v1.1h-1.1zM68.8 646.0h1.1v1.1h-1.1zM65.3 641.2h1.1v1.1h-1.1zM69.2 645.6h1.1v1.1h-1.1zM69.2 645.0h1.1v1.1h-1.1zM72.2 640.5h1.1v1.1h-1.1zM72.0 639.7h1.1v1.1h-1.1zM69.1 644.2h1.1v1.1h-1.1zM68.4 643.9h1.1v1.1h-1.1zM65.0 642.6h1.1v1.1h-1.1zM69.1 644.3h1.1v1.1h-1.1zM68.4 646.9h1.1v1.1h-1.1zM69.6 642.4h1.1v1.1h-1.1zM66.1 636.6h1.1v1.1h-1.1zM65.8 643.7h1.1v1.1h-1.1zM75.4 642.5h1.1v1.1h-1.1zM67.8 651.3h1.1v1.1h-1.1zM69.3 642.3h1.1v1.1h-1.1zM65.6 641.2h1.1v1.1h-1.1zM70.9 641.7h1.1v1.1h-1.1zM68.4 643.6h1.1v1.1h-1.1zM69.1 641.9h1.1v1.1h-1.1zM68.7 643.1h1.1v1.1h-1.1zM67.7 650.5h1.1v1.1h-1.1zM71.1 643.8h1.1v1.1h-1.1zM68.8 646.5h1.1v1.1h-1.1zM70.3 642.3h1.1v1.1h-1.1zM74.3 641.4h1.1v1.1h-1.1zM65.1 645.6h1.1v1.1h-1.1zM73.1 642.3h1.1v1.1h-1.1zM71.8 641.7h1.1v1.1h-1.1zM67.6 645.4h1.1v1.1h-1.1zM68.4 641.0h1.1v1.1h-1.1zM66.2 648.7h1.1v1.1h-1.1zM75.2 637.8h1.1v1.1h-1.1zM67.6 645.6h1.1v1.1h-1.1zM68.2 642.9h1.1v1.1h-1.1zM70.4 640.2h1.1v1.1h-1.1zM71.2 647.8h1.1v1.1h-1.1zM69.5 645.8h1.1v1.1h-1.1zM68.9 643.9h1.1v1.1h-1.1zM68.4 642.7h1.1v1.1h-1.1zM63.8 648.2h1.1v1.1h-1.1zM67.1 647.3h1.1v1.1h-1.1zM69.6 644.1h1.1v1.1h-1.1zM70.2 642.5h1.1v1.1h-1.1zM67.5 645.9h1.1v1.1h-1.1zM67.5 650.1h1.1v1.1h-1.1zM70.9 642.9h1.1v1.1h-1.1zM69.1 644.3h1.1v1.1h-1.1zM70.3 641.3h1.1v1.1h-1.1zM71.2 642.2h1.1v1.1h-1.1zM72.2 644.1h1.1v1.1h-1.1zM68.4 645.5h1.1v1.1h-1.1zM67.3 645.9h1.1v1.1h-1.1zM74.1 640.4h1.1v1.1h-1.1zM70.6 644.2h1.1v1.1h-1.1zM72.0 641.0h1.1v1.1h-1.1zM68.0 639.9h1.1v1.1h-1.1zM69.9 646.1h1.1v1.1h-1.1zM70.8 639.9h1.1v1.1h-1.1zM68.1 646.3h1.1v1.1h-1.1zM67.3 645.5h1.1v1.1h-1.1zM69.5 639.3h1.1v1.1h-1.1zM73.7 645.1h1.1v1.1h-1.1zM71.1 640.7h1.1v1.1h-1.1zM69.8 646.0h1.1v1.1h-1.1zM72.0 639.6h1.1v1.1h-1.1zM70.7 640.4h1.1v1.1h-1.1zM69.5 642.4h1.1v1.1h-1.1zM72.3 643.4h1.1v1.1h-1.1zM68.3 648.1h1.1v1.1h-1.1zM68.6 643.0h1.1v1.1h-1.1zM70.8 645.3h1.1v1.1h-1.1zM72.3 638.5h1.1v1.1h-1.1zM66.8 642.3h1.1v1.1h-1.1zM71.1 638.5h1.1v1.1h-1.1zM67.3 643.5h1.1v1.1h-1.1zM67.3 643.6h1.1v1.1h-1.1zM70.5 644.0h1.1v1.1h-1.1zM70.1 644.1h1.1v1.1h-1.1zM71.6 647.2h1.1v1.1h-1.1zM65.5 645.0h1.1v1.1h-1.1zM67.9 644.1h1.1v1.1h-1.1zM68.0 646.7h1.1v1.1h-1.1zM67.4 642.5h1.1v1.1h-1.1zM72.1 645.1h1.1v1.1h-1.1zM69.7 641.9h1.1v1.1h-1.1zM69.4 643.6h1.1v1.1h-1.1zM70.9 644.5h1.1v1.1h-1.1zM64.8 643.0h1.1v1.1h-1.1zM67.8 643.6h1.1v1.1h-1.1zM68.8 641.8h1.1v1.1h-1.1zM73.8 644.7h1.1v1.1h-1.1zM66.5 646.5h1.1v1.1h-1.1zM63.8 646.9h1.1v1.1h-1.1zM68.7 649.6h1.1v1.1h-1.1zM65.4 644.9h1.1v1.1h-1.1zM69.5 648.6h1.1v1.1h-1.1zM68.2 646.1h1.1v1.1h-1.1zM72.4 643.7h1.1v1.1h-1.1zM73.0 638.9h1.1v1.1h-1.1zM70.0 643.7h1.1v1.1h-1.1zM73.7 639.5h1.1v1.1h-1.1zM70.1 645.1h1.1v1.1h-1.1zM69.8 643.2h1.1v1.1h-1.1zM66.5 644.8h1.1v1.1h-1.1zM66.1 644.7h1.1v1.1h-1.1zM71.5 640.7h1.1v1.1h-1.1zM71.3 648.2h1.1v1.1h-1.1zM66.5 640.4h1.1v1.1h-1.1zM72.5 639.1h1.1v1.1h-1.1zM68.7 637.4h1.1v1.1h-1.1zM70.7 642.7h1.1v1.1h-1.1zM70.0 643.5h1.1v1.1h-1.1zM67.4 640.2h1.1v1.1h-1.1zM65.8 646.9h1.1v1.1h-1.1zM67.9 645.3h1.1v1.1h-1.1zM70.3 643.1h1.1v1.1h-1.1zM68.2 643.6h1.1v1.1h-1.1zM71.0 645.8h1.1v1.1h-1.1zM70.3 641.8h1.1v1.1h-1.1zM72.2 645.7h1.1v1.1h-1.1zM70.3 646.1h1.1v1.1h-1.1zM69.9 640.5h1.1v1.1h-1.1zM68.0 641.0h1.1v1.1h-1.1zM70.7 641.2h1.1v1.1h-1.1zM69.6 648.9h1.1v1.1h-1.1zM71.3 647.2h1.1v1.1h-1.1zM68.7 645.9h1.1v1.1h-1.1zM69.1 643.0h1.1v1.1h-1.1zM68.6 643.0h1.1v1.1h-1.1zM70.0 642.1h1.1v1.1h-1.1zM64.3 642.0h1.1v1.1h-1.1zM70.5 640.7h1.1v1.1h-1.1zM68.3 649.2h1.1v1.1h-1.1zM71.9 643.2h1.1v1.1h-1.1zM71.6 647.9h1.1v1.1h-1.1zM74.0 645.7h1.1v1.1h-1.1zM70.7 644.8h1.1v1.1h-1.1zM67.1 644.5h1.1v1.1h-1.1zM72.1 641.3h1.1v1.1h-1.1zM72.4 640.0h1.1v1.1h-1.1zM65.8 644.8h1.1v1.1h-1.1zM67.7 645.5h1.1v1.1h-1.1zM70.0 646.7h1.1v1.1h-1.1zM69.2 642.9h1.1v1.1h-1.1zM69.4 643.4h1.1v1.1h-1.1zM71.1 643.8h1.1v1.1h-1.1zM68.9 640.9h1.1v1.1h-1.1zM71.1 649.1h1.1v1.1h-1.1zM71.7 644.2h1.1v1.1h-1.1zM67.6 648.6h1.1v1.1h-1.1zM66.7 643.2h1.1v1.1h-1.1zM70.5 645.9h1.1v1.1h-1.1zM73.4 641.7h1.1v1.1h-1.1zM66.1 645.8h1.1v1.1h-1.1zM71.7 643.0h1.1v1.1h-1.1zM67.1 642.8h1.1v1.1h-1.1zM71.6 642.1h1.1v1.1h-1.1zM69.0 642.1h1.1v1.1h-1.1zM71.3 643.5h1.1v1.1h-1.1zM65.5 644.7h1.1v1.1h-1.1zM70.7 643.3h1.1v1.1h-1.1zM71.2 644.4h1.1v1.1h-1.1zM68.9 645.7h1.1v1.1h-1.1zM70.4 645.2h1.1v1.1h-1.1zM70.3 639.2h1.1v1.1h-1.1zM74.0 638.8h1.1v1.1h-1.1zM71.2 642.0h1.1v1.1h-1.1zM70.5 638.8h1.1v1.1h-1.1zM67.4 643.8h1.1v1.1h-1.1zM72.5 643.3h1.1v1.1h-1.1zM70.7 642.7h1.1v1.1h-1.1zM69.7 644.7h1.1v1.1h-1.1zM70.4 648.7h1.1v1.1h-1.1zM67.0 644.6h1.1v1.1h-1.1zM67.3 645.8h1.1v1.1h-1.1zM72.2 642.1h1.1v1.1h-1.1zM70.2 648.4h1.1v1.1h-1.1zM69.1 641.1h1.1v1.1h-1.1zM66.9 647.9h1.1v1.1h-1.1zM69.7 646.0h1.1v1.1h-1.1zM65.3 644.0h1.1v1.1h-1.1zM66.7 642.5h1.1v1.1h-1.1zM67.9 640.8h1.1v1.1h-1.1zM67.3 645.6h1.1v1.1h-1.1zM71.6 646.2h1.1v1.1h-1.1zM71.3 641.8h1.1v1.1h-1.1zM66.8 642.3h1.1v1.1h-1.1zM68.0 645.2h1.1v1.1h-1.1zM69.7 647.1h1.1v1.1h-1.1zM67.6 645.8h1.1v1.1h-1.1zM64.7 646.0h1.1v1.1h-1.1zM72.5 643.0h1.1v1.1h-1.1zM67.7 643.0h1.1v1.1h-1.1zM67.7 651.9h1.1v1.1h-1.1zM71.0 640.6h1.1v1.1h-1.1zM73.1 642.1h1.1v1.1h-1.1zM69.5 640.5h1.1v1.1h-1.1zM71.8 641.4h1.1v1.1h-1.1zM67.5 648.2h1.1v1.1h-1.1zM68.2 648.1h1.1v1.1h-1.1zM67.9 641.8h1.1v1.1h-1.1zM70.4 650.6h1.1v1.1h-1.1zM72.6 643.7h1.1v1.1h-1.1zM70.5 648.4h1.1v1.1h-1.1zM75.0 639.0h1.1v1.1h-1.1zM69.9 644.7h1.1v1.1h-1.1zM71.3 645.0h1.1v1.1h-1.1zM70.5 641.0h1.1v1.1h-1.1zM69.9 648.3h1.1v1.1h-1.1zM70.4 645.7h1.1v1.1h-1.1zM72.8 644.1h1.1v1.1h-1.1zM69.5 640.5h1.1v1.1h-1.1zM73.2 643.9h1.1v1.1h-1.1zM69.9 645.8h1.1v1.1h-1.1zM72.9 641.2h1.1v1.1h-1.1zM67.4 641.8h1.1v1.1h-1.1zM69.0 647.8h1.1v1.1h-1.1zM74.7 644.2h1.1v1.1h-1.1zM71.0 647.1h1.1v1.1h-1.1zM66.9 640.9h1.1v1.1h-1.1zM69.2 646.5h1.1v1.1h-1.1zM68.8 645.4h1.1v1.1h-1.1zM68.3 642.2h1.1v1.1h-1.1zM68.6 642.3h1.1v1.1h-1.1zM70.1 645.9h1.1v1.1h-1.1zM69.6 645.8h1.1v1.1h-1.1zM70.8 639.4h1.1v1.1h-1.1zM70.8 644.8h1.1v1.1h-1.1zM71.3 645.6h1.1v1.1h-1.1zM69.7 648.0h1.1v1.1h-1.1zM67.6 645.1h1.1v1.1h-1.1zM69.2 638.4h1.1v1.1h-1.1zM72.1 639.3h1.1v1.1h-1.1zM68.7 639.3h1.1v1.1h-1.1zM73.2 641.3h1.1v1.1h-1.1zM69.2 644.3h1.1v1.1h-1.1zM71.7 637.0h1.1v1.1h-1.1zM68.0 644.9h1.1v1.1h-1.1zM70.5 642.9h1.1v1.1h-1.1zM73.0 644.4h1.1v1.1h-1.1zM70.2 645.2h1.1v1.1h-1.1zM68.7 639.3h1.1v1.1h-1.1zM73.8 641.9h1.1v1.1h-1.1zM66.3 647.4h1.1v1.1h-1.1zM65.1 646.1h1.1v1.1h-1.1zM66.3 641.7h1.1v1.1h-1.1zM72.7 643.3h1.1v1.1h-1.1zM67.6 648.5h1.1v1.1h-1.1zM69.5 650.0h1.1v1.1h-1.1zM68.4 646.0h1.1v1.1h-1.1zM70.6 644.1h1.1v1.1h-1.1zM69.3 645.0h1.1v1.1h-1.1zM69.3 645.6h1.1v1.1h-1.1zM68.7 647.4h1.1v1.1h-1.1zM67.1 649.3h1.1v1.1h-1.1zM71.1 638.5h1.1v1.1h-1.1zM69.0 647.8h1.1v1.1h-1.1zM65.6 646.0h1.1v1.1h-1.1zM70.4 646.5h1.1v1.1h-1.1zM83.7 606.9h1.1v1.1h-1.1zM80.4 607.9h1.1v1.1h-1.1zM84.9 607.1h1.1v1.1h-1.1zM74.1 606.9h1.1v1.1h-1.1zM85.1 607.7h1.1v1.1h-1.1zM79.0 605.9h1.1v1.1h-1.1zM85.8 606.9h1.1v1.1h-1.1zM77.4 605.5h1.1v1.1h-1.1zM78.0 605.9h1.1v1.1h-1.1zM80.0 607.0h1.1v1.1h-1.1zM83.1 606.9h1.1v1.1h-1.1zM82.0 606.5h1.1v1.1h-1.1zM74.1 607.8h1.1v1.1h-1.1zM82.1 607.7h1.1v1.1h-1.1zM87.3 606.5h1.1v1.1h-1.1zM79.3 606.7h1.1v1.1h-1.1zM82.4 608.9h1.1v1.1h-1.1zM80.6 605.6h1.1v1.1h-1.1zM79.7 607.6h1.1v1.1h-1.1zM76.7 607.4h1.1v1.1h-1.1zM75.8 606.7h1.1v1.1h-1.1zM83.8 606.6h1.1v1.1h-1.1zM75.3 607.0h1.1v1.1h-1.1zM86.5 606.5h1.1v1.1h-1.1zM75.4 608.0h1.1v1.1h-1.1zM77.1 606.8h1.1v1.1h-1.1zM84.5 606.7h1.1v1.1h-1.1zM85.1 606.9h1.1v1.1h-1.1zM84.2 607.5h1.1v1.1h-1.1zM74.8 605.5h1.1v1.1h-1.1zM82.9 606.3h1.1v1.1h-1.1zM87.5 605.6h1.1v1.1h-1.1zM77.3 608.0h1.1v1.1h-1.1zM73.7 606.3h1.1v1.1h-1.1zM73.7 605.6h1.1v1.1h-1.1zM74.7 605.3h1.1v1.1h-1.1zM78.2 606.5h1.1v1.1h-1.1zM86.4 606.1h1.1v1.1h-1.1zM80.8 607.4h1.1v1.1h-1.1zM82.1 606.9h1.1v1.1h-1.1zM80.1 606.4h1.1v1.1h-1.1zM85.5 606.1h1.1v1.1h-1.1zM78.9 605.8h1.1v1.1h-1.1zM79.8 605.6h1.1v1.1h-1.1zM79.3 607.1h1.1v1.1h-1.1zM85.3 604.5h1.1v1.1h-1.1zM82.0 606.5h1.1v1.1h-1.1zM88.1 606.9h1.1v1.1h-1.1zM84.0 607.0h1.1v1.1h-1.1zM82.6 605.9h1.1v1.1h-1.1zM88.2 607.2h1.1v1.1h-1.1zM78.1 605.5h1.1v1.1h-1.1zM79.9 607.3h1.1v1.1h-1.1zM83.8 606.0h1.1v1.1h-1.1zM82.5 607.9h1.1v1.1h-1.1zM77.7 605.6h1.1v1.1h-1.1zM73.5 606.5h1.1v1.1h-1.1zM82.3 607.5h1.1v1.1h-1.1zM85.7 606.8h1.1v1.1h-1.1zM86.0 606.4h1.1v1.1h-1.1zM85.7 607.4h1.1v1.1h-1.1zM77.6 605.7h1.1v1.1h-1.1zM86.3 607.1h1.1v1.1h-1.1zM87.2 605.3h1.1v1.1h-1.1zM78.7 607.6h1.1v1.1h-1.1zM85.5 607.2h1.1v1.1h-1.1zM76.5 606.6h1.1v1.1h-1.1zM77.0 604.5h1.1v1.1h-1.1zM82.6 606.2h1.1v1.1h-1.1zM76.6 605.7h1.1v1.1h-1.1zM77.3 606.6h1.1v1.1h-1.1zM80.4 605.0h1.1v1.1h-1.1zM74.8 607.1h1.1v1.1h-1.1zM77.0 605.1h1.1v1.1h-1.1zM82.2 608.1h1.1v1.1h-1.1zM81.3 605.5h1.1v1.1h-1.1zM80.6 606.1h1.1v1.1h-1.1zM76.4 606.3h1.1v1.1h-1.1zM76.2 606.3h1.1v1.1h-1.1zM82.0 605.8h1.1v1.1h-1.1zM79.5 606.1h1.1v1.1h-1.1zM74.2 606.5h1.1v1.1h-1.1zM88.5 606.3h1.1v1.1h-1.1zM83.0 606.9h1.1v1.1h-1.1zM85.3 607.3h1.1v1.1h-1.1zM78.7 607.6h1.1v1.1h-1.1zM81.3 606.8h1.1v1.1h-1.1zM88.4 606.6h1.1v1.1h-1.1zM86.5 605.4h1.1v1.1h-1.1zM77.4 606.7h1.1v1.1h-1.1zM85.2 604.7h1.1v1.1h-1.1zM85.0 607.6h1.1v1.1h-1.1zM85.8 607.3h1.1v1.1h-1.1zM74.1 606.4h1.1v1.1h-1.1zM76.5 606.8h1.1v1.1h-1.1zM74.3 606.9h1.1v1.1h-1.1zM81.9 607.3h1.1v1.1h-1.1zM87.7 605.9h1.1v1.1h-1.1zM87.1 607.7h1.1v1.1h-1.1zM79.5 607.1h1.1v1.1h-1.1zM87.1 608.3h1.1v1.1h-1.1zM82.4 607.9h1.1v1.1h-1.1zM78.5 604.7h1.1v1.1h-1.1zM81.3 605.7h1.1v1.1h-1.1zM81.1 606.8h1.1v1.1h-1.1zM90.1 605.9h1.1v1.1h-1.1zM82.6 606.9h1.1v1.1h-1.1zM82.4 607.5h1.1v1.1h-1.1zM86.9 605.4h1.1v1.1h-1.1zM82.9 606.3h1.1v1.1h-1.1zM83.4 605.1h1.1v1.1h-1.1zM78.1 604.3h1.1v1.1h-1.1zM83.8 606.8h1.1v1.1h-1.1zM82.7 604.2h1.1v1.1h-1.1zM81.6 605.8h1.1v1.1h-1.1zM79.0 605.7h1.1v1.1h-1.1zM84.2 607.1h1.1v1.1h-1.1zM82.4 607.1h1.1v1.1h-1.1zM81.0 606.7h1.1v1.1h-1.1zM82.6 607.2h1.1v1.1h-1.1zM82.3 606.5h1.1v1.1h-1.1zM82.2 606.0h1.1v1.1h-1.1zM88.1 607.1h1.1v1.1h-1.1zM83.6 608.9h1.1v1.1h-1.1zM86.0 605.0h1.1v1.1h-1.1zM84.2 607.4h1.1v1.1h-1.1zM87.2 607.9h1.1v1.1h-1.1zM84.4 605.4h1.1v1.1h-1.1zM80.3 606.9h1.1v1.1h-1.1zM83.8 605.6h1.1v1.1h-1.1zM81.5 606.2h1.1v1.1h-1.1zM82.7 606.9h1.1v1.1h-1.1zM81.8 605.4h1.1v1.1h-1.1zM85.6 608.2h1.1v1.1h-1.1zM82.2 607.6h1.1v1.1h-1.1zM83.6 607.3h1.1v1.1h-1.1zM83.7 605.8h1.1v1.1h-1.1zM83.9 607.6h1.1v1.1h-1.1zM80.3 608.6h1.1v1.1h-1.1zM87.7 608.4h1.1v1.1h-1.1zM69.8 607.0h1.1v1.1h-1.1zM70.6 606.3h1.1v1.1h-1.1zM71.9 606.5h1.1v1.1h-1.1zM70.5 606.8h1.1v1.1h-1.1zM71.3 607.7h1.1v1.1h-1.1zM74.1 606.5h1.1v1.1h-1.1zM70.0 606.4h1.1v1.1h-1.1zM69.8 607.2h1.1v1.1h-1.1z" fill="#111"/>
<line x1="124.4" y1="588.9" x2="197.1" y2="588.9" stroke="#111" stroke-width="1.2" />
<line x1="196.5" y1="588.9" x2="196.5" y2="658.8" stroke="#111" stroke-width="1.2" />
<line x1="127.4" y1="588.9" x2="127.4" y2="659.4" stroke="#111" stroke-width="1.2" />
<line x1="124.4" y1="658.8" x2="197.1" y2="658.8" stroke="#111" stroke-width="1.2" />
<path d="M127.40 658.80h-2.80M127.40 655.34h-2.80M127.40 653.31h-2.80M127.40 651.88h-2.80M127.40 650.76h-2.80M127.40 649.85h-2.80M127.40 649.08h-2.80M127.40 648.41h-2.80M127.40 647.83h-2.80M127.40 647.30h-2.80M127.40 643.84h-2.80M127.40 641.81h-2.80M127.40 640.38h-2.80M127.40 639.26h-2.80M127.40 638.35h-2.80M127.40 637.58h-2.80M127.40 636.91h-2.80M127.40 636.33h-2.80M127.40 635.80h-2.80M127.40 632.34h-2.80M127.40 630.31h-2.80M127.40 628.88h-2.80M127.40 627.76h-2.80M127.40 626.85h-2.80M127.40 626.08h-2.80M127.40 625.41h-2.80M127.40 624.83h-2.80M127.40 624.30h-2.80M127.40 620.84h-2.80M127.40 618.81h-2.80M127.40 617.38h-2.80M127.40 616.26h-2.80M127.40 615.35h-2.80M127.40 614.58h-2.80M127.40 613.91h-2.80M127.40 613.33h-2.80M127.40 612.80h-2.80M127.40 609.34h-2.80M127.40 607.31h-2.80M127.40 605.88h-2.80M127.40 604.76h-2.80M127.40 603.85h-2.80M127.40 603.08h-2.80M127.40 602.41h-2.80M127.40 601.83h-2.80M127.40 601.30h-2.80M127.40 597.84h-2.80M127.40 595.81h-2.80M127.40 594.38h-2.80M127.40 593.26h-2.80M127.40 592.35h-2.80M127.40 591.58h-2.80M127.40 590.91h-2.80M127.40 590.33h-2.80" stroke="#000" stroke-width="1.0" fill="none"/>
<path d="M127.40 658.80v2.20M130.86 658.80v2.20M132.89 658.80v2.20M134.32 658.80v2.20M135.44 658.80v2.20M136.35 658.80v2.20M137.12 658.80v2.20M137.79 658.80v2.20M138.37 658.80v2.20M138.90 658.80v2.20M142.36 658.80v2.20M144.39 658.80v2.20M145.82 658.80v2.20M146.94 658.80v2.20M147.85 658.80v2.20M148.62 658.80v2.20M149.29 658.80v2.20M149.87 658.80v2.20M150.40 658.80v2.20M153.86 658.80v2.20M155.89 658.80v2.20M157.32 658.80v2.20M158.44 658.80v2.20M159.35 658.80v2.20M160.12 658.80v2.20M160.79 658.80v2.20M161.37 658.80v2.20M161.90 658.80v2.20M165.36 658.80v2.20M167.39 658.80v2.20M168.82 658.80v2.20M169.94 658.80v2.20M170.85 658.80v2.20M171.62 658.80v2.20M172.29 658.80v2.20M172.87 658.80v2.20M173.40 658.80v2.20M176.86 658.80v2.20M178.89 658.80v2.20M180.32 658.80v2.20M181.44 658.80v2.20M182.35 658.80v2.20M183.12 658.80v2.20M183.79 658.80v2.20M184.37 658.80v2.20M184.90 658.80v2.20M188.36 658.80v2.20M190.39 658.80v2.20M191.82 658.80v2.20M192.94 658.80v2.20M193.85 658.80v2.20M194.62 658.80v2.20M195.29 658.80v2.20M195.87 658.80v2.20" stroke="#000" stroke-width="1.0" fill="none"/>
<line x1="152.5" y1="588.9" x2="152.5" y2="658.8" stroke="#000" stroke-width="1.2" />
<line x1="127.4" y1="631.5" x2="196.5" y2="631.5" stroke="#000" stroke-width="1.2" />
<text font-size="12" stroke="#111" stroke-width="0.3" text-anchor="end" transform="translate(194.7 601.3) scale(1.06 1)" fill="#111" >11.2%</text>
<path d="M145.3 635.9h1.1v1.1h-1.1zM148.4 640.2h1.1v1.1h-1.1zM152.1 636.6h1.1v1.1h-1.1zM143.8 648.9h1.1v1.1h-1.1zM147.2 638.5h1.1v1.1h-1.1zM145.5 629.5h1.1v1.1h-1.1zM148.9 638.3h1.1v1.1h-1.1zM145.4 644.5h1.1v1.1h-1.1zM147.4 643.6h1.1v1.1h-1.1zM144.4 644.8h1.1v1.1h-1.1zM151.2 624.5h1.1v1.1h-1.1zM152.3 639.4h1.1v1.1h-1.1zM147.9 648.3h1.1v1.1h-1.1zM136.1 642.2h1.1v1.1h-1.1zM135.8 637.4h1.1v1.1h-1.1zM149.3 643.3h1.1v1.1h-1.1zM153.6 630.9h1.1v1.1h-1.1zM151.8 635.5h1.1v1.1h-1.1zM150.9 642.9h1.1v1.1h-1.1zM147.1 644.3h1.1v1.1h-1.1zM144.3 645.8h1.1v1.1h-1.1zM140.8 636.5h1.1v1.1h-1.1zM141.8 644.4h1.1v1.1h-1.1zM154.0 644.7h1.1v1.1h-1.1zM144.1 647.3h1.1v1.1h-1.1zM143.3 642.7h1.1v1.1h-1.1zM148.6 647.8h1.1v1.1h-1.1zM143.6 642.1h1.1v1.1h-1.1zM140.9 648.2h1.1v1.1h-1.1zM145.4 634.5h1.1v1.1h-1.1zM152.2 615.1h1.1v1.1h-1.1zM155.5 611.4h1.1v1.1h-1.1zM152.1 624.5h1.1v1.1h-1.1zM154.7 620.9h1.1v1.1h-1.1zM154.7 624.4h1.1v1.1h-1.1zM150.9 620.4h1.1v1.1h-1.1zM150.5 610.4h1.1v1.1h-1.1zM153.4 621.3h1.1v1.1h-1.1zM152.7 619.4h1.1v1.1h-1.1zM151.7 615.1h1.1v1.1h-1.1zM150.0 626.1h1.1v1.1h-1.1zM152.5 612.4h1.1v1.1h-1.1zM150.9 633.1h1.1v1.1h-1.1zM152.8 615.0h1.1v1.1h-1.1zM153.0 635.1h1.1v1.1h-1.1zM153.8 629.8h1.1v1.1h-1.1zM156.0 630.8h1.1v1.1h-1.1zM150.8 609.6h1.1v1.1h-1.1zM150.4 611.1h1.1v1.1h-1.1zM158.0 609.6h1.1v1.1h-1.1zM152.8 609.9h1.1v1.1h-1.1zM153.8 614.5h1.1v1.1h-1.1zM159.3 626.7h1.1v1.1h-1.1zM156.7 633.3h1.1v1.1h-1.1zM152.0 615.7h1.1v1.1h-1.1zM153.8 629.0h1.1v1.1h-1.1zM153.9 611.4h1.1v1.1h-1.1zM157.4 613.6h1.1v1.1h-1.1zM152.8 630.3h1.1v1.1h-1.1zM155.1 611.4h1.1v1.1h-1.1zM156.1 629.8h1.1v1.1h-1.1zM157.8 608.7h1.1v1.1h-1.1zM149.9 631.5h1.1v1.1h-1.1zM149.1 622.1h1.1v1.1h-1.1zM151.9 625.3h1.1v1.1h-1.1zM149.8 610.7h1.1v1.1h-1.1zM151.0 610.1h1.1v1.1h-1.1zM151.5 619.3h1.1v1.1h-1.1zM152.9 608.8h1.1v1.1h-1.1zM153.5 630.9h1.1v1.1h-1.1zM152.9 630.4h1.1v1.1h-1.1zM152.3 626.1h1.1v1.1h-1.1zM153.8 614.2h1.1v1.1h-1.1zM152.4 634.9h1.1v1.1h-1.1zM154.0 623.3h1.1v1.1h-1.1zM152.3 608.8h1.1v1.1h-1.1zM160.6 642.8h1.1v1.1h-1.1zM163.2 609.2h1.1v1.1h-1.1zM152.6 618.2h1.1v1.1h-1.1zM161.3 611.2h1.1v1.1h-1.1zM157.8 648.5h1.1v1.1h-1.1zM161.4 604.9h1.1v1.1h-1.1zM146.1 609.7h1.1v1.1h-1.1zM159.7 631.5h1.1v1.1h-1.1zM155.9 625.1h1.1v1.1h-1.1z" fill="#111" fill-opacity="0.6"/>
<path d="M149.8 647.3h1.1v1.1h-1.1zM145.3 643.8h1.1v1.1h-1.1zM146.3 638.6h1.1v1.1h-1.1zM152.5 639.0h1.1v1.1h-1.1zM150.7 643.4h1.1v1.1h-1.1zM146.4 645.5h1.1v1.1h-1.1zM140.4 640.9h1.1v1.1h-1.1zM148.4 643.1h1.1v1.1h-1.1zM143.5 641.9h1.1v1.1h-1.1zM145.7 638.3h1.1v1.1h-1.1zM150.4 638.4h1.1v1.1h-1.1zM147.0 639.5h1.1v1.1h-1.1zM151.2 642.7h1.1v1.1h-1.1zM150.2 633.5h1.1v1.1h-1.1zM141.4 650.1h1.1v1.1h-1.1zM149.4 648.0h1.1v1.1h-1.1zM149.0 648.0h1.1v1.1h-1.1zM147.0 640.2h1.1v1.1h-1.1zM148.2 635.3h1.1v1.1h-1.1zM151.5 637.3h1.1v1.1h-1.1zM146.3 644.1h1.1v1.1h-1.1zM142.7 635.1h1.1v1.1h-1.1zM147.6 637.3h1.1v1.1h-1.1zM147.1 637.9h1.1v1.1h-1.1zM141.4 641.7h1.1v1.1h-1.1zM143.5 646.6h1.1v1.1h-1.1zM143.9 641.0h1.1v1.1h-1.1zM148.1 640.7h1.1v1.1h-1.1zM148.9 640.2h1.1v1.1h-1.1zM145.9 638.6h1.1v1.1h-1.1zM147.5 639.7h1.1v1.1h-1.1zM142.9 638.5h1.1v1.1h-1.1zM143.9 643.1h1.1v1.1h-1.1zM145.1 644.6h1.1v1.1h-1.1zM145.7 643.5h1.1v1.1h-1.1zM142.5 645.0h1.1v1.1h-1.1zM144.4 642.6h1.1v1.1h-1.1zM147.3 640.8h1.1v1.1h-1.1zM145.3 638.0h1.1v1.1h-1.1zM146.6 641.7h1.1v1.1h-1.1zM143.9 641.0h1.1v1.1h-1.1zM149.0 635.1h1.1v1.1h-1.1zM146.3 635.8h1.1v1.1h-1.1zM149.1 641.9h1.1v1.1h-1.1zM147.1 641.8h1.1v1.1h-1.1zM151.0 645.1h1.1v1.1h-1.1zM147.1 637.9h1.1v1.1h-1.1zM145.1 640.4h1.1v1.1h-1.1zM147.6 638.6h1.1v1.1h-1.1zM147.5 643.7h1.1v1.1h-1.1zM149.6 631.3h1.1v1.1h-1.1zM145.2 643.5h1.1v1.1h-1.1zM146.3 637.8h1.1v1.1h-1.1zM148.4 647.2h1.1v1.1h-1.1zM141.3 646.5h1.1v1.1h-1.1zM146.6 642.2h1.1v1.1h-1.1zM140.8 647.2h1.1v1.1h-1.1zM145.9 640.0h1.1v1.1h-1.1zM148.2 651.1h1.1v1.1h-1.1zM152.9 636.8h1.1v1.1h-1.1zM144.5 640.6h1.1v1.1h-1.1zM149.5 644.8h1.1v1.1h-1.1zM142.8 641.7h1.1v1.1h-1.1zM150.3 638.6h1.1v1.1h-1.1zM143.9 644.9h1.1v1.1h-1.1zM143.9 637.4h1.1v1.1h-1.1zM146.8 639.6h1.1v1.1h-1.1zM145.7 637.0h1.1v1.1h-1.1zM144.7 642.3h1.1v1.1h-1.1zM150.5 635.5h1.1v1.1h-1.1zM144.5 645.0h1.1v1.1h-1.1zM146.8 640.5h1.1v1.1h-1.1zM144.6 638.6h1.1v1.1h-1.1zM151.2 645.2h1.1v1.1h-1.1zM146.1 636.1h1.1v1.1h-1.1zM152.2 635.4h1.1v1.1h-1.1zM145.4 650.4h1.1v1.1h-1.1zM148.4 637.5h1.1v1.1h-1.1zM150.0 642.6h1.1v1.1h-1.1zM141.8 638.4h1.1v1.1h-1.1zM147.5 641.5h1.1v1.1h-1.1zM148.7 647.3h1.1v1.1h-1.1zM143.2 640.5h1.1v1.1h-1.1zM145.0 641.7h1.1v1.1h-1.1zM145.7 638.5h1.1v1.1h-1.1zM150.0 644.6h1.1v1.1h-1.1zM145.3 643.2h1.1v1.1h-1.1zM145.1 641.3h1.1v1.1h-1.1zM144.7 637.8h1.1v1.1h-1.1zM151.2 644.8h1.1v1.1h-1.1zM142.4 648.0h1.1v1.1h-1.1zM141.2 639.5h1.1v1.1h-1.1zM142.7 650.6h1.1v1.1h-1.1zM148.7 637.5h1.1v1.1h-1.1zM143.5 643.0h1.1v1.1h-1.1zM151.1 631.6h1.1v1.1h-1.1zM149.9 646.9h1.1v1.1h-1.1zM146.8 635.5h1.1v1.1h-1.1zM150.4 649.9h1.1v1.1h-1.1zM145.6 641.7h1.1v1.1h-1.1zM146.6 640.2h1.1v1.1h-1.1zM146.6 636.4h1.1v1.1h-1.1zM148.4 642.0h1.1v1.1h-1.1zM146.5 635.8h1.1v1.1h-1.1zM150.0 644.7h1.1v1.1h-1.1zM149.4 642.4h1.1v1.1h-1.1zM147.8 640.5h1.1v1.1h-1.1zM146.0 644.9h1.1v1.1h-1.1zM145.3 641.4h1.1v1.1h-1.1zM145.8 633.3h1.1v1.1h-1.1zM147.1 644.9h1.1v1.1h-1.1zM146.3 636.5h1.1v1.1h-1.1zM144.9 642.0h1.1v1.1h-1.1zM149.2 646.4h1.1v1.1h-1.1zM145.9 641.3h1.1v1.1h-1.1zM149.6 641.0h1.1v1.1h-1.1zM149.4 636.0h1.1v1.1h-1.1zM148.8 640.7h1.1v1.1h-1.1zM149.7 637.6h1.1v1.1h-1.1zM146.0 646.6h1.1v1.1h-1.1zM150.9 644.0h1.1v1.1h-1.1zM145.4 640.5h1.1v1.1h-1.1zM147.6 635.5h1.1v1.1h-1.1zM147.4 639.5h1.1v1.1h-1.1zM150.2 640.4h1.1v1.1h-1.1zM144.6 644.1h1.1v1.1h-1.1zM147.3 637.7h1.1v1.1h-1.1zM149.8 641.3h1.1v1.1h-1.1zM148.7 645.6h1.1v1.1h-1.1zM145.3 642.2h1.1v1.1h-1.1zM152.0 645.1h1.1v1.1h-1.1zM149.0 639.3h1.1v1.1h-1.1zM150.0 645.3h1.1v1.1h-1.1zM144.7 645.6h1.1v1.1h-1.1zM151.2 637.1h1.1v1.1h-1.1zM148.5 643.2h1.1v1.1h-1.1zM143.7 641.6h1.1v1.1h-1.1zM148.5 637.5h1.1v1.1h-1.1zM150.0 638.6h1.1v1.1h-1.1zM146.6 644.9h1.1v1.1h-1.1zM147.3 644.7h1.1v1.1h-1.1zM150.5 638.8h1.1v1.1h-1.1zM148.9 631.3h1.1v1.1h-1.1zM150.7 637.1h1.1v1.1h-1.1zM146.0 637.7h1.1v1.1h-1.1zM148.9 639.1h1.1v1.1h-1.1zM148.3 641.0h1.1v1.1h-1.1zM146.2 644.9h1.1v1.1h-1.1zM147.3 638.8h1.1v1.1h-1.1zM151.4 639.6h1.1v1.1h-1.1zM146.6 640.0h1.1v1.1h-1.1zM147.2 639.4h1.1v1.1h-1.1zM146.0 643.1h1.1v1.1h-1.1zM150.9 634.4h1.1v1.1h-1.1zM150.2 639.0h1.1v1.1h-1.1zM146.6 648.1h1.1v1.1h-1.1zM147.4 638.2h1.1v1.1h-1.1zM147.6 645.8h1.1v1.1h-1.1zM149.6 643.0h1.1v1.1h-1.1zM147.0 643.1h1.1v1.1h-1.1zM150.9 637.8h1.1v1.1h-1.1zM147.9 636.7h1.1v1.1h-1.1zM147.3 632.3h1.1v1.1h-1.1zM146.5 643.6h1.1v1.1h-1.1zM149.7 636.3h1.1v1.1h-1.1zM151.3 634.1h1.1v1.1h-1.1zM146.0 637.6h1.1v1.1h-1.1zM147.1 642.4h1.1v1.1h-1.1zM144.2 645.0h1.1v1.1h-1.1zM144.9 645.6h1.1v1.1h-1.1zM149.3 638.1h1.1v1.1h-1.1zM148.7 640.5h1.1v1.1h-1.1zM145.6 644.2h1.1v1.1h-1.1zM144.4 642.6h1.1v1.1h-1.1zM144.5 642.4h1.1v1.1h-1.1zM149.0 642.0h1.1v1.1h-1.1zM147.6 640.1h1.1v1.1h-1.1zM147.1 639.3h1.1v1.1h-1.1zM141.6 643.5h1.1v1.1h-1.1zM149.2 636.7h1.1v1.1h-1.1zM145.6 650.0h1.1v1.1h-1.1zM146.5 643.1h1.1v1.1h-1.1zM145.7 640.1h1.1v1.1h-1.1zM144.0 646.5h1.1v1.1h-1.1zM145.8 637.6h1.1v1.1h-1.1zM145.6 646.8h1.1v1.1h-1.1zM147.0 633.1h1.1v1.1h-1.1zM148.7 637.1h1.1v1.1h-1.1zM151.0 640.6h1.1v1.1h-1.1zM145.9 644.9h1.1v1.1h-1.1zM148.1 643.0h1.1v1.1h-1.1zM147.8 641.1h1.1v1.1h-1.1zM147.4 638.1h1.1v1.1h-1.1zM145.9 640.4h1.1v1.1h-1.1zM150.5 636.7h1.1v1.1h-1.1zM145.3 633.5h1.1v1.1h-1.1zM146.2 644.2h1.1v1.1h-1.1zM147.2 636.9h1.1v1.1h-1.1zM150.8 646.2h1.1v1.1h-1.1zM147.4 641.5h1.1v1.1h-1.1zM150.9 646.1h1.1v1.1h-1.1zM147.0 639.2h1.1v1.1h-1.1zM146.8 642.3h1.1v1.1h-1.1zM148.0 639.7h1.1v1.1h-1.1zM149.9 645.2h1.1v1.1h-1.1zM149.4 645.8h1.1v1.1h-1.1zM144.6 637.4h1.1v1.1h-1.1zM149.1 637.6h1.1v1.1h-1.1zM151.4 645.8h1.1v1.1h-1.1zM143.3 634.9h1.1v1.1h-1.1zM146.7 636.8h1.1v1.1h-1.1zM147.0 648.2h1.1v1.1h-1.1zM144.9 646.3h1.1v1.1h-1.1zM146.3 640.9h1.1v1.1h-1.1zM140.2 644.0h1.1v1.1h-1.1zM149.8 643.0h1.1v1.1h-1.1zM152.1 637.6h1.1v1.1h-1.1zM148.1 640.0h1.1v1.1h-1.1zM139.9 642.8h1.1v1.1h-1.1zM144.1 644.0h1.1v1.1h-1.1zM146.0 645.4h1.1v1.1h-1.1zM145.8 639.6h1.1v1.1h-1.1zM148.5 638.4h1.1v1.1h-1.1zM150.5 638.9h1.1v1.1h-1.1zM147.4 636.5h1.1v1.1h-1.1zM146.5 644.2h1.1v1.1h-1.1zM142.8 635.1h1.1v1.1h-1.1zM146.6 637.9h1.1v1.1h-1.1zM148.8 639.0h1.1v1.1h-1.1zM144.5 642.4h1.1v1.1h-1.1zM147.9 643.3h1.1v1.1h-1.1zM145.8 646.2h1.1v1.1h-1.1zM144.6 643.5h1.1v1.1h-1.1zM141.6 645.1h1.1v1.1h-1.1zM148.1 640.0h1.1v1.1h-1.1zM146.0 643.1h1.1v1.1h-1.1zM148.2 637.8h1.1v1.1h-1.1zM147.0 640.0h1.1v1.1h-1.1zM146.9 638.6h1.1v1.1h-1.1zM147.6 646.2h1.1v1.1h-1.1zM145.3 638.5h1.1v1.1h-1.1zM147.7 640.9h1.1v1.1h-1.1zM155.2 642.2h1.1v1.1h-1.1zM147.2 640.6h1.1v1.1h-1.1zM145.1 642.8h1.1v1.1h-1.1zM142.9 652.3h1.1v1.1h-1.1zM144.1 641.5h1.1v1.1h-1.1zM148.2 641.5h1.1v1.1h-1.1zM153.9 638.3h1.1v1.1h-1.1zM145.0 640.4h1.1v1.1h-1.1zM149.1 646.9h1.1v1.1h-1.1zM146.4 643.8h1.1v1.1h-1.1zM148.2 638.6h1.1v1.1h-1.1zM147.9 641.0h1.1v1.1h-1.1zM144.5 649.0h1.1v1.1h-1.1zM144.5 638.2h1.1v1.1h-1.1zM146.8 647.8h1.1v1.1h-1.1zM147.7 642.9h1.1v1.1h-1.1zM144.9 648.9h1.1v1.1h-1.1zM147.9 645.6h1.1v1.1h-1.1zM147.8 634.3h1.1v1.1h-1.1zM145.7 637.4h1.1v1.1h-1.1zM147.6 643.0h1.1v1.1h-1.1zM149.4 645.0h1.1v1.1h-1.1zM144.1 639.3h1.1v1.1h-1.1zM144.0 646.5h1.1v1.1h-1.1zM147.5 650.7h1.1v1.1h-1.1zM145.1 642.7h1.1v1.1h-1.1zM146.0 641.2h1.1v1.1h-1.1zM151.7 637.3h1.1v1.1h-1.1zM149.2 638.9h1.1v1.1h-1.1zM149.1 638.0h1.1v1.1h-1.1zM149.5 642.5h1.1v1.1h-1.1zM148.8 640.8h1.1v1.1h-1.1zM153.4 636.7h1.1v1.1h-1.1zM149.8 642.1h1.1v1.1h-1.1zM143.7 646.6h1.1v1.1h-1.1zM145.8 639.6h1.1v1.1h-1.1zM143.9 645.1h1.1v1.1h-1.1zM144.0 638.8h1.1v1.1h-1.1zM150.1 639.9h1.1v1.1h-1.1zM146.0 649.6h1.1v1.1h-1.1zM144.8 637.8h1.1v1.1h-1.1zM146.5 639.4h1.1v1.1h-1.1zM149.5 639.8h1.1v1.1h-1.1zM141.0 637.9h1.1v1.1h-1.1zM151.9 640.0h1.1v1.1h-1.1zM152.2 647.6h1.1v1.1h-1.1zM143.2 642.3h1.1v1.1h-1.1zM149.2 647.5h1.1v1.1h-1.1zM146.0 638.8h1.1v1.1h-1.1zM140.8 642.2h1.1v1.1h-1.1zM142.2 644.9h1.1v1.1h-1.1zM146.5 640.6h1.1v1.1h-1.1zM148.4 638.1h1.1v1.1h-1.1zM148.2 642.5h1.1v1.1h-1.1zM147.5 635.6h1.1v1.1h-1.1zM145.9 640.6h1.1v1.1h-1.1zM143.8 644.2h1.1v1.1h-1.1zM143.3 642.7h1.1v1.1h-1.1zM145.8 642.2h1.1v1.1h-1.1zM149.6 640.9h1.1v1.1h-1.1zM147.9 633.5h1.1v1.1h-1.1zM148.1 642.4h1.1v1.1h-1.1zM148.9 644.5h1.1v1.1h-1.1zM147.7 638.7h1.1v1.1h-1.1zM146.6 636.3h1.1v1.1h-1.1zM145.6 642.2h1.1v1.1h-1.1zM143.4 641.5h1.1v1.1h-1.1zM149.1 642.6h1.1v1.1h-1.1zM150.0 640.1h1.1v1.1h-1.1zM149.6 640.1h1.1v1.1h-1.1zM145.0 645.1h1.1v1.1h-1.1zM151.0 649.7h1.1v1.1h-1.1zM149.0 633.3h1.1v1.1h-1.1zM147.7 643.7h1.1v1.1h-1.1zM149.1 645.9h1.1v1.1h-1.1zM145.4 631.4h1.1v1.1h-1.1zM149.1 645.0h1.1v1.1h-1.1zM150.2 636.6h1.1v1.1h-1.1zM147.0 640.4h1.1v1.1h-1.1zM145.7 640.6h1.1v1.1h-1.1zM145.4 642.7h1.1v1.1h-1.1zM143.9 634.2h1.1v1.1h-1.1zM144.3 636.7h1.1v1.1h-1.1zM140.3 645.8h1.1v1.1h-1.1zM147.1 645.3h1.1v1.1h-1.1zM146.5 643.3h1.1v1.1h-1.1zM146.3 645.3h1.1v1.1h-1.1zM146.0 647.8h1.1v1.1h-1.1zM143.6 642.6h1.1v1.1h-1.1zM152.1 637.8h1.1v1.1h-1.1zM149.7 644.5h1.1v1.1h-1.1zM150.0 640.7h1.1v1.1h-1.1zM148.2 638.6h1.1v1.1h-1.1zM149.9 644.3h1.1v1.1h-1.1zM146.2 644.2h1.1v1.1h-1.1zM143.2 637.6h1.1v1.1h-1.1zM146.6 638.7h1.1v1.1h-1.1zM147.9 642.8h1.1v1.1h-1.1zM147.6 641.4h1.1v1.1h-1.1zM144.4 643.4h1.1v1.1h-1.1zM145.8 642.4h1.1v1.1h-1.1zM149.2 646.0h1.1v1.1h-1.1zM145.0 634.0h1.1v1.1h-1.1zM148.8 643.6h1.1v1.1h-1.1zM146.8 651.3h1.1v1.1h-1.1zM148.8 641.6h1.1v1.1h-1.1zM151.2 638.5h1.1v1.1h-1.1zM147.2 647.1h1.1v1.1h-1.1zM148.7 641.4h1.1v1.1h-1.1zM143.3 646.5h1.1v1.1h-1.1zM150.4 639.3h1.1v1.1h-1.1zM144.8 633.9h1.1v1.1h-1.1zM147.6 636.2h1.1v1.1h-1.1zM145.9 642.3h1.1v1.1h-1.1zM150.3 639.7h1.1v1.1h-1.1zM147.6 645.2h1.1v1.1h-1.1zM145.4 640.3h1.1v1.1h-1.1zM145.7 637.4h1.1v1.1h-1.1zM146.3 643.3h1.1v1.1h-1.1zM145.1 640.6h1.1v1.1h-1.1zM149.3 644.0h1.1v1.1h-1.1zM147.9 641.1h1.1v1.1h-1.1zM149.3 642.2h1.1v1.1h-1.1zM148.0 636.6h1.1v1.1h-1.1zM145.9 637.8h1.1v1.1h-1.1zM144.2 640.8h1.1v1.1h-1.1zM154.0 645.6h1.1v1.1h-1.1zM149.2 645.7h1.1v1.1h-1.1zM148.0 640.6h1.1v1.1h-1.1zM145.4 649.8h1.1v1.1h-1.1zM143.9 646.8h1.1v1.1h-1.1zM145.3 644.1h1.1v1.1h-1.1zM153.0 635.5h1.1v1.1h-1.1zM144.3 648.1h1.1v1.1h-1.1zM146.5 644.7h1.1v1.1h-1.1zM141.7 647.2h1.1v1.1h-1.1zM145.0 641.3h1.1v1.1h-1.1zM147.4 637.2h1.1v1.1h-1.1zM146.1 640.4h1.1v1.1h-1.1zM150.7 639.2h1.1v1.1h-1.1zM145.6 641.5h1.1v1.1h-1.1zM147.8 639.3h1.1v1.1h-1.1zM148.2 637.8h1.1v1.1h-1.1zM149.0 641.6h1.1v1.1h-1.1zM143.1 643.9h1.1v1.1h-1.1zM147.0 639.6h1.1v1.1h-1.1zM149.6 639.7h1.1v1.1h-1.1zM145.9 639.7h1.1v1.1h-1.1zM143.0 633.9h1.1v1.1h-1.1zM143.1 643.7h1.1v1.1h-1.1zM148.2 633.6h1.1v1.1h-1.1zM148.2 642.7h1.1v1.1h-1.1zM150.6 637.3h1.1v1.1h-1.1zM147.3 641.9h1.1v1.1h-1.1zM146.5 645.9h1.1v1.1h-1.1zM141.3 641.2h1.1v1.1h-1.1zM146.9 640.6h1.1v1.1h-1.1zM149.3 638.8h1.1v1.1h-1.1zM146.7 641.0h1.1v1.1h-1.1zM149.2 635.3h1.1v1.1h-1.1zM149.1 637.8h1.1v1.1h-1.1zM150.8 636.9h1.1v1.1h-1.1zM147.2 646.3h1.1v1.1h-1.1zM152.0 636.2h1.1v1.1h-1.1zM150.7 643.8h1.1v1.1h-1.1zM149.6 638.4h1.1v1.1h-1.1zM147.4 644.4h1.1v1.1h-1.1zM142.5 638.2h1.1v1.1h-1.1zM142.9 642.4h1.1v1.1h-1.1zM145.6 648.7h1.1v1.1h-1.1zM147.9 638.0h1.1v1.1h-1.1zM142.3 646.5h1.1v1.1h-1.1zM147.5 638.0h1.1v1.1h-1.1zM146.7 640.1h1.1v1.1h-1.1zM145.6 640.4h1.1v1.1h-1.1zM142.9 643.2h1.1v1.1h-1.1zM146.9 641.3h1.1v1.1h-1.1zM153.9 638.5h1.1v1.1h-1.1zM140.4 638.9h1.1v1.1h-1.1zM149.0 647.1h1.1v1.1h-1.1zM147.2 639.5h1.1v1.1h-1.1zM147.3 645.4h1.1v1.1h-1.1zM150.0 640.9h1.1v1.1h-1.1zM152.3 637.1h1.1v1.1h-1.1zM145.3 636.8h1.1v1.1h-1.1zM144.9 638.4h1.1v1.1h-1.1zM144.4 643.7h1.1v1.1h-1.1zM143.8 645.6h1.1v1.1h-1.1zM148.4 635.6h1.1v1.1h-1.1zM149.1 635.2h1.1v1.1h-1.1zM143.6 648.1h1.1v1.1h-1.1zM151.5 635.7h1.1v1.1h-1.1zM146.3 642.0h1.1v1.1h-1.1zM149.5 637.0h1.1v1.1h-1.1zM149.6 643.0h1.1v1.1h-1.1zM144.6 640.6h1.1v1.1h-1.1zM140.5 646.0h1.1v1.1h-1.1zM150.1 632.3h1.1v1.1h-1.1zM149.3 634.9h1.1v1.1h-1.1zM147.7 641.1h1.1v1.1h-1.1zM144.1 639.6h1.1v1.1h-1.1zM149.5 642.2h1.1v1.1h-1.1zM148.4 632.5h1.1v1.1h-1.1zM149.3 640.3h1.1v1.1h-1.1zM149.9 635.9h1.1v1.1h-1.1zM151.0 643.8h1.1v1.1h-1.1zM147.7 640.3h1.1v1.1h-1.1zM146.5 629.0h1.1v1.1h-1.1zM144.5 640.8h1.1v1.1h-1.1zM146.5 634.9h1.1v1.1h-1.1zM148.2 640.9h1.1v1.1h-1.1zM146.6 642.6h1.1v1.1h-1.1zM145.0 642.6h1.1v1.1h-1.1zM146.7 644.9h1.1v1.1h-1.1zM144.3 641.9h1.1v1.1h-1.1zM151.8 644.6h1.1v1.1h-1.1zM144.5 645.9h1.1v1.1h-1.1zM146.4 643.6h1.1v1.1h-1.1zM146.2 637.9h1.1v1.1h-1.1zM148.5 640.6h1.1v1.1h-1.1zM147.4 634.6h1.1v1.1h-1.1zM148.0 644.6h1.1v1.1h-1.1zM145.6 641.2h1.1v1.1h-1.1zM150.0 643.4h1.1v1.1h-1.1zM144.9 647.6h1.1v1.1h-1.1zM149.7 635.0h1.1v1.1h-1.1zM144.8 644.1h1.1v1.1h-1.1zM149.2 637.7h1.1v1.1h-1.1zM145.2 642.7h1.1v1.1h-1.1zM142.5 645.6h1.1v1.1h-1.1zM148.7 640.3h1.1v1.1h-1.1zM148.3 643.8h1.1v1.1h-1.1zM147.2 644.3h1.1v1.1h-1.1zM146.9 650.0h1.1v1.1h-1.1zM151.1 634.7h1.1v1.1h-1.1zM148.2 641.9h1.1v1.1h-1.1zM147.4 641.3h1.1v1.1h-1.1zM148.2 641.9h1.1v1.1h-1.1zM146.6 642.7h1.1v1.1h-1.1zM148.4 643.8h1.1v1.1h-1.1zM150.4 636.7h1.1v1.1h-1.1zM151.0 640.4h1.1v1.1h-1.1zM151.3 646.0h1.1v1.1h-1.1zM146.7 649.6h1.1v1.1h-1.1zM148.2 641.2h1.1v1.1h-1.1zM148.3 648.3h1.1v1.1h-1.1zM147.6 640.4h1.1v1.1h-1.1zM148.5 637.3h1.1v1.1h-1.1zM149.3 641.6h1.1v1.1h-1.1zM147.9 642.0h1.1v1.1h-1.1zM145.3 642.6h1.1v1.1h-1.1zM145.6 640.9h1.1v1.1h-1.1zM146.7 640.2h1.1v1.1h-1.1zM146.2 643.6h1.1v1.1h-1.1zM147.5 646.7h1.1v1.1h-1.1zM142.0 637.5h1.1v1.1h-1.1zM146.0 641.0h1.1v1.1h-1.1zM152.7 640.6h1.1v1.1h-1.1zM146.5 643.7h1.1v1.1h-1.1zM147.1 645.0h1.1v1.1h-1.1zM148.1 640.6h1.1v1.1h-1.1zM145.1 641.6h1.1v1.1h-1.1zM145.2 642.2h1.1v1.1h-1.1zM149.7 644.2h1.1v1.1h-1.1zM145.7 641.8h1.1v1.1h-1.1zM143.4 644.7h1.1v1.1h-1.1zM150.5 644.9h1.1v1.1h-1.1zM146.4 643.0h1.1v1.1h-1.1zM145.4 645.1h1.1v1.1h-1.1zM149.6 640.3h1.1v1.1h-1.1zM145.4 642.6h1.1v1.1h-1.1zM151.8 641.7h1.1v1.1h-1.1zM151.8 635.1h1.1v1.1h-1.1zM148.4 642.7h1.1v1.1h-1.1zM145.3 643.1h1.1v1.1h-1.1zM146.6 644.3h1.1v1.1h-1.1zM150.3 641.3h1.1v1.1h-1.1zM148.9 639.0h1.1v1.1h-1.1zM148.2 649.5h1.1v1.1h-1.1zM146.1 640.8h1.1v1.1h-1.1zM146.4 638.3h1.1v1.1h-1.1zM146.9 643.3h1.1v1.1h-1.1zM146.9 642.5h1.1v1.1h-1.1zM142.9 647.5h1.1v1.1h-1.1zM148.3 643.1h1.1v1.1h-1.1zM144.8 642.0h1.1v1.1h-1.1zM143.9 645.4h1.1v1.1h-1.1zM146.0 638.8h1.1v1.1h-1.1zM145.4 639.7h1.1v1.1h-1.1zM145.0 645.0h1.1v1.1h-1.1zM146.7 638.5h1.1v1.1h-1.1zM145.7 642.7h1.1v1.1h-1.1zM148.4 644.5h1.1v1.1h-1.1zM146.1 644.2h1.1v1.1h-1.1zM144.7 645.6h1.1v1.1h-1.1zM149.9 642.9h1.1v1.1h-1.1zM146.1 636.7h1.1v1.1h-1.1zM143.3 642.2h1.1v1.1h-1.1zM146.8 643.4h1.1v1.1h-1.1zM148.4 641.0h1.1v1.1h-1.1zM143.9 644.8h1.1v1.1h-1.1zM148.9 647.5h1.1v1.1h-1.1zM147.9 646.6h1.1v1.1h-1.1zM149.0 642.2h1.1v1.1h-1.1zM146.6 647.4h1.1v1.1h-1.1zM147.3 641.3h1.1v1.1h-1.1zM145.2 640.6h1.1v1.1h-1.1zM146.0 637.8h1.1v1.1h-1.1zM148.5 643.4h1.1v1.1h-1.1zM150.4 641.8h1.1v1.1h-1.1zM144.9 642.0h1.1v1.1h-1.1zM148.3 641.7h1.1v1.1h-1.1zM147.5 647.6h1.1v1.1h-1.1zM146.4 638.5h1.1v1.1h-1.1zM147.8 639.9h1.1v1.1h-1.1zM146.7 639.4h1.1v1.1h-1.1zM148.9 640.4h1.1v1.1h-1.1zM146.5 642.1h1.1v1.1h-1.1zM148.2 643.3h1.1v1.1h-1.1zM147.8 638.3h1.1v1.1h-1.1zM147.9 640.0h1.1v1.1h-1.1zM150.8 637.6h1.1v1.1h-1.1zM148.4 640.5h1.1v1.1h-1.1zM143.6 643.2h1.1v1.1h-1.1zM146.3 639.7h1.1v1.1h-1.1zM148.5 644.9h1.1v1.1h-1.1zM145.2 641.1h1.1v1.1h-1.1zM147.4 639.0h1.1v1.1h-1.1zM145.7 639.1h1.1v1.1h-1.1zM144.7 646.4h1.1v1.1h-1.1zM143.7 639.2h1.1v1.1h-1.1zM148.0 646.1h1.1v1.1h-1.1zM148.5 635.2h1.1v1.1h-1.1zM145.4 645.0h1.1v1.1h-1.1zM149.3 645.5h1.1v1.1h-1.1zM145.8 639.9h1.1v1.1h-1.1zM143.5 639.0h1.1v1.1h-1.1zM147.1 642.4h1.1v1.1h-1.1zM145.0 642.7h1.1v1.1h-1.1zM142.9 643.3h1.1v1.1h-1.1zM145.5 640.7h1.1v1.1h-1.1zM149.1 641.3h1.1v1.1h-1.1zM144.2 643.9h1.1v1.1h-1.1zM148.4 642.7h1.1v1.1h-1.1zM145.9 646.3h1.1v1.1h-1.1zM149.0 646.2h1.1v1.1h-1.1zM144.2 640.6h1.1v1.1h-1.1zM146.7 644.2h1.1v1.1h-1.1zM146.8 644.0h1.1v1.1h-1.1zM147.7 641.5h1.1v1.1h-1.1zM149.4 644.5h1.1v1.1h-1.1zM147.1 639.8h1.1v1.1h-1.1zM145.6 642.5h1.1v1.1h-1.1zM145.2 646.5h1.1v1.1h-1.1zM146.3 642.2h1.1v1.1h-1.1zM140.3 643.7h1.1v1.1h-1.1zM147.2 648.1h1.1v1.1h-1.1zM146.6 648.1h1.1v1.1h-1.1zM147.3 640.4h1.1v1.1h-1.1zM148.5 643.0h1.1v1.1h-1.1zM146.8 642.6h1.1v1.1h-1.1zM147.6 640.0h1.1v1.1h-1.1zM146.4 636.2h1.1v1.1h-1.1zM146.1 643.5h1.1v1.1h-1.1zM145.8 641.7h1.1v1.1h-1.1zM149.7 637.3h1.1v1.1h-1.1zM145.5 647.9h1.1v1.1h-1.1zM149.8 641.2h1.1v1.1h-1.1zM145.8 640.9h1.1v1.1h-1.1zM145.1 639.5h1.1v1.1h-1.1zM144.8 641.6h1.1v1.1h-1.1zM149.4 639.0h1.1v1.1h-1.1zM148.1 636.2h1.1v1.1h-1.1zM146.0 642.6h1.1v1.1h-1.1zM145.8 638.6h1.1v1.1h-1.1zM146.9 640.3h1.1v1.1h-1.1zM148.0 640.5h1.1v1.1h-1.1zM145.5 644.6h1.1v1.1h-1.1zM143.9 647.1h1.1v1.1h-1.1zM148.5 644.8h1.1v1.1h-1.1zM147.1 643.9h1.1v1.1h-1.1zM144.3 642.5h1.1v1.1h-1.1zM151.1 641.8h1.1v1.1h-1.1zM149.8 641.4h1.1v1.1h-1.1zM149.3 641.3h1.1v1.1h-1.1zM145.4 635.7h1.1v1.1h-1.1zM143.6 643.7h1.1v1.1h-1.1zM146.3 642.3h1.1v1.1h-1.1zM147.3 644.9h1.1v1.1h-1.1zM151.1 637.8h1.1v1.1h-1.1zM148.6 637.4h1.1v1.1h-1.1zM150.1 642.0h1.1v1.1h-1.1zM149.7 640.2h1.1v1.1h-1.1zM145.9 643.2h1.1v1.1h-1.1zM148.9 645.0h1.1v1.1h-1.1zM146.7 645.1h1.1v1.1h-1.1zM147.0 641.6h1.1v1.1h-1.1zM147.6 643.5h1.1v1.1h-1.1zM146.7 644.6h1.1v1.1h-1.1zM147.0 638.4h1.1v1.1h-1.1zM150.3 639.8h1.1v1.1h-1.1zM146.7 636.8h1.1v1.1h-1.1zM150.3 638.1h1.1v1.1h-1.1zM150.0 638.8h1.1v1.1h-1.1zM148.8 643.4h1.1v1.1h-1.1zM146.3 641.7h1.1v1.1h-1.1zM145.8 643.9h1.1v1.1h-1.1zM143.9 642.0h1.1v1.1h-1.1zM144.6 640.8h1.1v1.1h-1.1zM150.2 641.4h1.1v1.1h-1.1zM151.1 639.8h1.1v1.1h-1.1zM152.8 639.2h1.1v1.1h-1.1zM145.4 642.2h1.1v1.1h-1.1zM145.0 642.4h1.1v1.1h-1.1zM143.6 637.4h1.1v1.1h-1.1zM148.9 642.9h1.1v1.1h-1.1zM149.2 641.1h1.1v1.1h-1.1zM145.4 645.2h1.1v1.1h-1.1zM147.9 643.1h1.1v1.1h-1.1zM150.4 641.5h1.1v1.1h-1.1zM146.7 646.2h1.1v1.1h-1.1zM151.3 636.7h1.1v1.1h-1.1zM148.9 642.2h1.1v1.1h-1.1zM149.5 643.8h1.1v1.1h-1.1zM148.3 644.4h1.1v1.1h-1.1zM145.8 641.3h1.1v1.1h-1.1zM147.1 641.8h1.1v1.1h-1.1zM146.9 644.4h1.1v1.1h-1.1zM148.6 645.5h1.1v1.1h-1.1zM149.4 641.5h1.1v1.1h-1.1zM148.2 640.6h1.1v1.1h-1.1zM145.5 646.2h1.1v1.1h-1.1zM146.2 642.1h1.1v1.1h-1.1zM146.3 642.4h1.1v1.1h-1.1zM145.1 643.3h1.1v1.1h-1.1zM144.6 643.2h1.1v1.1h-1.1zM148.4 639.6h1.1v1.1h-1.1zM149.0 641.4h1.1v1.1h-1.1zM148.9 644.0h1.1v1.1h-1.1zM144.6 647.1h1.1v1.1h-1.1zM150.4 643.2h1.1v1.1h-1.1zM149.6 639.6h1.1v1.1h-1.1zM146.7 640.0h1.1v1.1h-1.1zM145.8 642.5h1.1v1.1h-1.1zM144.9 641.6h1.1v1.1h-1.1zM145.9 643.0h1.1v1.1h-1.1zM146.3 640.8h1.1v1.1h-1.1zM148.3 641.7h1.1v1.1h-1.1zM149.0 641.4h1.1v1.1h-1.1zM146.6 645.0h1.1v1.1h-1.1zM149.0 643.4h1.1v1.1h-1.1zM147.3 643.8h1.1v1.1h-1.1zM145.5 646.0h1.1v1.1h-1.1zM146.5 644.4h1.1v1.1h-1.1zM146.5 644.2h1.1v1.1h-1.1zM145.4 641.3h1.1v1.1h-1.1zM146.5 640.0h1.1v1.1h-1.1zM150.8 637.2h1.1v1.1h-1.1zM147.8 640.6h1.1v1.1h-1.1zM148.7 638.8h1.1v1.1h-1.1zM147.1 647.3h1.1v1.1h-1.1zM142.7 640.5h1.1v1.1h-1.1zM148.3 648.0h1.1v1.1h-1.1zM146.0 641.1h1.1v1.1h-1.1zM143.7 647.0h1.1v1.1h-1.1zM144.0 636.9h1.1v1.1h-1.1zM152.0 642.2h1.1v1.1h-1.1zM145.4 641.6h1.1v1.1h-1.1zM148.6 641.3h1.1v1.1h-1.1zM147.0 641.3h1.1v1.1h-1.1zM146.9 647.1h1.1v1.1h-1.1zM148.4 640.6h1.1v1.1h-1.1zM147.7 641.1h1.1v1.1h-1.1zM154.3 641.7h1.1v1.1h-1.1zM147.2 644.2h1.1v1.1h-1.1zM142.8 644.8h1.1v1.1h-1.1zM149.7 643.1h1.1v1.1h-1.1zM145.5 644.9h1.1v1.1h-1.1zM144.0 643.3h1.1v1.1h-1.1zM146.1 646.5h1.1v1.1h-1.1zM146.3 643.6h1.1v1.1h-1.1zM148.9 645.8h1.1v1.1h-1.1zM147.2 635.7h1.1v1.1h-1.1zM148.3 647.4h1.1v1.1h-1.1zM152.0 639.5h1.1v1.1h-1.1zM146.2 644.9h1.1v1.1h-1.1zM146.4 648.2h1.1v1.1h-1.1zM142.7 645.3h1.1v1.1h-1.1zM148.4 640.6h1.1v1.1h-1.1zM144.0 647.8h1.1v1.1h-1.1zM144.3 634.2h1.1v1.1h-1.1zM150.4 644.9h1.1v1.1h-1.1zM148.7 637.5h1.1v1.1h-1.1zM147.2 644.8h1.1v1.1h-1.1zM147.2 644.5h1.1v1.1h-1.1zM148.0 639.5h1.1v1.1h-1.1zM150.4 639.8h1.1v1.1h-1.1zM145.9 644.8h1.1v1.1h-1.1zM147.0 645.5h1.1v1.1h-1.1zM143.8 647.0h1.1v1.1h-1.1zM146.2 649.0h1.1v1.1h-1.1zM148.7 645.8h1.1v1.1h-1.1zM148.5 640.6h1.1v1.1h-1.1zM143.4 643.9h1.1v1.1h-1.1zM146.2 645.6h1.1v1.1h-1.1zM146.6 642.7h1.1v1.1h-1.1zM149.7 643.2h1.1v1.1h-1.1zM145.6 638.5h1.1v1.1h-1.1zM157.0 604.8h1.1v1.1h-1.1zM155.0 606.9h1.1v1.1h-1.1zM162.0 606.6h1.1v1.1h-1.1zM159.8 605.7h1.1v1.1h-1.1zM160.8 606.3h1.1v1.1h-1.1zM162.9 606.4h1.1v1.1h-1.1zM150.0 605.1h1.1v1.1h-1.1zM154.4 608.1h1.1v1.1h-1.1zM162.9 608.3h1.1v1.1h-1.1zM151.7 605.6h1.1v1.1h-1.1zM150.2 606.0h1.1v1.1h-1.1zM155.4 606.6h1.1v1.1h-1.1zM153.7 605.3h1.1v1.1h-1.1zM160.9 606.3h1.1v1.1h-1.1zM155.8 607.7h1.1v1.1h-1.1zM164.2 605.6h1.1v1.1h-1.1zM159.6 605.3h1.1v1.1h-1.1zM155.2 608.0h1.1v1.1h-1.1zM159.9 606.3h1.1v1.1h-1.1zM153.7 607.2h1.1v1.1h-1.1zM161.9 607.6h1.1v1.1h-1.1zM161.4 606.3h1.1v1.1h-1.1zM157.2 607.0h1.1v1.1h-1.1zM162.7 607.4h1.1v1.1h-1.1zM152.1 607.9h1.1v1.1h-1.1zM154.2 607.3h1.1v1.1h-1.1zM155.2 606.8h1.1v1.1h-1.1zM164.0 607.2h1.1v1.1h-1.1zM154.1 606.5h1.1v1.1h-1.1zM163.7 606.9h1.1v1.1h-1.1zM156.1 607.3h1.1v1.1h-1.1zM151.1 606.5h1.1v1.1h-1.1zM155.3 607.5h1.1v1.1h-1.1zM164.0 606.5h1.1v1.1h-1.1zM163.1 607.2h1.1v1.1h-1.1zM156.3 607.3h1.1v1.1h-1.1zM161.2 605.5h1.1v1.1h-1.1zM154.2 607.5h1.1v1.1h-1.1zM156.6 607.8h1.1v1.1h-1.1zM157.9 605.9h1.1v1.1h-1.1zM153.6 605.3h1.1v1.1h-1.1zM154.9 607.6h1.1v1.1h-1.1zM153.8 606.1h1.1v1.1h-1.1zM159.0 606.5h1.1v1.1h-1.1zM150.1 608.1h1.1v1.1h-1.1zM161.9 605.8h1.1v1.1h-1.1zM163.6 606.3h1.1v1.1h-1.1zM153.5 606.6h1.1v1.1h-1.1zM157.7 606.9h1.1v1.1h-1.1zM160.8 606.2h1.1v1.1h-1.1zM161.6 605.8h1.1v1.1h-1.1zM151.2 606.1h1.1v1.1h-1.1zM164.0 607.8h1.1v1.1h-1.1zM159.0 606.0h1.1v1.1h-1.1zM155.4 605.1h1.1v1.1h-1.1zM163.6 606.6h1.1v1.1h-1.1zM155.4 605.8h1.1v1.1h-1.1zM161.6 606.3h1.1v1.1h-1.1zM162.6 607.1h1.1v1.1h-1.1zM157.5 605.3h1.1v1.1h-1.1zM163.0 606.4h1.1v1.1h-1.1zM151.5 606.4h1.1v1.1h-1.1zM155.7 606.9h1.1v1.1h-1.1zM157.0 607.4h1.1v1.1h-1.1zM158.2 605.5h1.1v1.1h-1.1zM155.6 606.0h1.1v1.1h-1.1zM162.2 606.3h1.1v1.1h-1.1zM161.3 606.9h1.1v1.1h-1.1zM159.6 606.2h1.1v1.1h-1.1zM160.8 604.7h1.1v1.1h-1.1zM163.0 606.6h1.1v1.1h-1.1zM160.6 607.2h1.1v1.1h-1.1zM162.7 605.4h1.1v1.1h-1.1zM151.5 606.2h1.1v1.1h-1.1zM158.7 605.3h1.1v1.1h-1.1zM153.6 607.7h1.1v1.1h-1.1zM161.9 607.1h1.1v1.1h-1.1zM153.6 606.7h1.1v1.1h-1.1zM150.9 607.2h1.1v1.1h-1.1zM159.6 608.2h1.1v1.1h-1.1zM154.9 606.3h1.1v1.1h-1.1zM160.0 608.1h1.1v1.1h-1.1zM154.4 607.4h1.1v1.1h-1.1zM149.6 606.3h1.1v1.1h-1.1zM153.6 606.2h1.1v1.1h-1.1zM150.4 605.5h1.1v1.1h-1.1zM161.6 607.0h1.1v1.1h-1.1zM150.1 606.8h1.1v1.1h-1.1zM152.9 606.2h1.1v1.1h-1.1zM158.9 606.2h1.1v1.1h-1.1zM158.0 607.3h1.1v1.1h-1.1zM152.8 606.8h1.1v1.1h-1.1zM162.1 606.0h1.1v1.1h-1.1zM161.6 606.4h1.1v1.1h-1.1zM161.2 606.5h1.1v1.1h-1.1zM149.9 605.7h1.1v1.1h-1.1zM150.4 606.6h1.1v1.1h-1.1zM159.0 606.4h1.1v1.1h-1.1zM155.5 605.4h1.1v1.1h-1.1zM157.2 606.1h1.1v1.1h-1.1zM157.6 608.8h1.1v1.1h-1.1zM152.4 607.5h1.1v1.1h-1.1zM152.5 605.2h1.1v1.1h-1.1zM164.9 607.6h1.1v1.1h-1.1zM159.7 607.3h1.1v1.1h-1.1zM160.5 606.0h1.1v1.1h-1.1zM154.9 605.7h1.1v1.1h-1.1zM159.1 607.0h1.1v1.1h-1.1zM160.9 606.5h1.1v1.1h-1.1zM160.1 606.5h1.1v1.1h-1.1zM155.5 606.0h1.1v1.1h-1.1zM159.1 606.4h1.1v1.1h-1.1zM156.9 606.5h1.1v1.1h-1.1zM161.7 605.8h1.1v1.1h-1.1zM152.1 606.6h1.1v1.1h-1.1zM152.4 608.0h1.1v1.1h-1.1zM156.6 606.5h1.1v1.1h-1.1zM157.6 606.6h1.1v1.1h-1.1zM158.9 607.6h1.1v1.1h-1.1zM155.5 606.1h1.1v1.1h-1.1zM157.1 606.2h1.1v1.1h-1.1zM159.7 604.5h1.1v1.1h-1.1zM152.8 606.5h1.1v1.1h-1.1zM159.2 607.0h1.1v1.1h-1.1zM160.6 608.1h1.1v1.1h-1.1zM155.8 606.2h1.1v1.1h-1.1zM158.8 607.1h1.1v1.1h-1.1zM159.4 606.8h1.1v1.1h-1.1zM155.7 608.8h1.1v1.1h-1.1zM158.2 606.9h1.1v1.1h-1.1zM155.8 606.8h1.1v1.1h-1.1zM157.3 607.6h1.1v1.1h-1.1zM160.5 605.9h1.1v1.1h-1.1zM158.4 606.6h1.1v1.1h-1.1zM159.0 607.9h1.1v1.1h-1.1zM156.4 609.2h1.1v1.1h-1.1zM156.1 605.1h1.1v1.1h-1.1zM160.1 605.2h1.1v1.1h-1.1zM161.5 606.9h1.1v1.1h-1.1zM157.4 607.3h1.1v1.1h-1.1zM148.4 606.6h1.1v1.1h-1.1zM147.4 607.2h1.1v1.1h-1.1zM149.4 606.6h1.1v1.1h-1.1zM147.8 607.2h1.1v1.1h-1.1zM148.2 606.8h1.1v1.1h-1.1zM145.9 606.4h1.1v1.1h-1.1zM149.9 607.0h1.1v1.1h-1.1zM147.9 606.5h1.1v1.1h-1.1z" fill="#111"/>
<line x1="203.0" y1="588.9" x2="275.6" y2="588.9" stroke="#111" stroke-width="1.2" />
<line x1="275.0" y1="588.9" x2="275.0" y2="658.8" stroke="#111" stroke-width="1.2" />
<line x1="206.0" y1="588.9" x2="206.0" y2="659.4" stroke="#111" stroke-width="1.2" />
<line x1="203.0" y1="658.8" x2="275.6" y2="658.8" stroke="#111" stroke-width="1.2" />
<path d="M206.00 658.80h-2.80M206.00 655.34h-2.80M206.00 653.31h-2.80M206.00 651.88h-2.80M206.00 650.76h-2.80M206.00 649.85h-2.80M206.00 649.08h-2.80M206.00 648.41h-2.80M206.00 647.83h-2.80M206.00 647.30h-2.80M206.00 643.84h-2.80M206.00 641.81h-2.80M206.00 640.38h-2.80M206.00 639.26h-2.80M206.00 638.35h-2.80M206.00 637.58h-2.80M206.00 636.91h-2.80M206.00 636.33h-2.80M206.00 635.80h-2.80M206.00 632.34h-2.80M206.00 630.31h-2.80M206.00 628.88h-2.80M206.00 627.76h-2.80M206.00 626.85h-2.80M206.00 626.08h-2.80M206.00 625.41h-2.80M206.00 624.83h-2.80M206.00 624.30h-2.80M206.00 620.84h-2.80M206.00 618.81h-2.80M206.00 617.38h-2.80M206.00 616.26h-2.80M206.00 615.35h-2.80M206.00 614.58h-2.80M206.00 613.91h-2.80M206.00 613.33h-2.80M206.00 612.80h-2.80M206.00 609.34h-2.80M206.00 607.31h-2.80M206.00 605.88h-2.80M206.00 604.76h-2.80M206.00 603.85h-2.80M206.00 603.08h-2.80M206.00 602.41h-2.80M206.00 601.83h-2.80M206.00 601.30h-2.80M206.00 597.84h-2.80M206.00 595.81h-2.80M206.00 594.38h-2.80M206.00 593.26h-2.80M206.00 592.35h-2.80M206.00 591.58h-2.80M206.00 590.91h-2.80M206.00 590.33h-2.80" stroke="#000" stroke-width="1.0" fill="none"/>
<path d="M206.00 658.80v2.20M209.46 658.80v2.20M211.49 658.80v2.20M212.92 658.80v2.20M214.04 658.80v2.20M214.95 658.80v2.20M215.72 658.80v2.20M216.39 658.80v2.20M216.97 658.80v2.20M217.50 658.80v2.20M220.96 658.80v2.20M222.99 658.80v2.20M224.42 658.80v2.20M225.54 658.80v2.20M226.45 658.80v2.20M227.22 658.80v2.20M227.89 658.80v2.20M228.47 658.80v2.20M229.00 658.80v2.20M232.46 658.80v2.20M234.49 658.80v2.20M235.92 658.80v2.20M237.04 658.80v2.20M237.95 658.80v2.20M238.72 658.80v2.20M239.39 658.80v2.20M239.97 658.80v2.20M240.50 658.80v2.20M243.96 658.80v2.20M245.99 658.80v2.20M247.42 658.80v2.20M248.54 658.80v2.20M249.45 658.80v2.20M250.22 658.80v2.20M250.89 658.80v2.20M251.47 658.80v2.20M252.00 658.80v2.20M255.46 658.80v2.20M257.49 658.80v2.20M258.92 658.80v2.20M260.04 658.80v2.20M260.95 658.80v2.20M261.72 658.80v2.20M262.39 658.80v2.20M262.97 658.80v2.20M263.50 658.80v2.20M266.96 658.80v2.20M268.99 658.80v2.20M270.42 658.80v2.20M271.54 658.80v2.20M272.45 658.80v2.20M273.22 658.80v2.20M273.89 658.80v2.20M274.47 658.80v2.20" stroke="#000" stroke-width="1.0" fill="none"/>
<line x1="231.0" y1="588.9" x2="231.0" y2="658.8" stroke="#000" stroke-width="1.2" />
<line x1="206.0" y1="631.5" x2="275.0" y2="631.5" stroke="#000" stroke-width="1.2" />
<text font-size="12" stroke="#111" stroke-width="0.3" text-anchor="end" transform="translate(273.2 601.3) scale(1.06 1)" fill="#111" >10.8%</text>
<path d="M219.4 644.4h1.1v1.1h-1.1zM223.5 646.9h1.1v1.1h-1.1zM231.0 639.7h1.1v1.1h-1.1zM221.2 643.2h1.1v1.1h-1.1zM222.2 644.0h1.1v1.1h-1.1zM222.0 644.9h1.1v1.1h-1.1zM222.3 648.0h1.1v1.1h-1.1zM222.7 645.5h1.1v1.1h-1.1zM221.8 651.7h1.1v1.1h-1.1zM228.4 639.5h1.1v1.1h-1.1zM219.0 644.4h1.1v1.1h-1.1zM217.1 649.3h1.1v1.1h-1.1zM221.9 646.2h1.1v1.1h-1.1zM222.9 654.9h1.1v1.1h-1.1zM218.4 651.5h1.1v1.1h-1.1zM226.0 648.2h1.1v1.1h-1.1zM227.7 629.9h1.1v1.1h-1.1zM222.5 643.7h1.1v1.1h-1.1zM223.5 643.5h1.1v1.1h-1.1zM226.4 624.8h1.1v1.1h-1.1zM221.4 642.0h1.1v1.1h-1.1zM223.5 639.4h1.1v1.1h-1.1zM221.9 637.2h1.1v1.1h-1.1zM230.4 628.9h1.1v1.1h-1.1zM223.0 654.9h1.1v1.1h-1.1zM219.2 643.9h1.1v1.1h-1.1zM223.7 638.8h1.1v1.1h-1.1zM224.3 636.9h1.1v1.1h-1.1zM227.3 636.7h1.1v1.1h-1.1zM226.0 640.3h1.1v1.1h-1.1zM234.2 622.2h1.1v1.1h-1.1zM234.0 628.0h1.1v1.1h-1.1zM230.2 632.6h1.1v1.1h-1.1zM233.8 616.0h1.1v1.1h-1.1zM237.2 635.2h1.1v1.1h-1.1zM231.4 634.0h1.1v1.1h-1.1zM231.8 625.1h1.1v1.1h-1.1zM236.6 614.1h1.1v1.1h-1.1zM235.6 630.4h1.1v1.1h-1.1zM231.9 623.6h1.1v1.1h-1.1zM236.4 613.3h1.1v1.1h-1.1zM234.4 615.6h1.1v1.1h-1.1zM230.8 621.0h1.1v1.1h-1.1zM230.9 627.8h1.1v1.1h-1.1zM235.0 611.4h1.1v1.1h-1.1zM234.1 621.4h1.1v1.1h-1.1zM229.7 609.8h1.1v1.1h-1.1zM228.9 613.7h1.1v1.1h-1.1zM234.4 620.0h1.1v1.1h-1.1zM231.4 618.7h1.1v1.1h-1.1zM230.6 626.1h1.1v1.1h-1.1zM228.1 619.4h1.1v1.1h-1.1zM229.3 613.7h1.1v1.1h-1.1zM230.7 634.1h1.1v1.1h-1.1zM236.2 635.3h1.1v1.1h-1.1zM231.1 621.1h1.1v1.1h-1.1zM233.0 628.6h1.1v1.1h-1.1zM230.4 627.8h1.1v1.1h-1.1zM236.4 632.3h1.1v1.1h-1.1zM230.2 615.8h1.1v1.1h-1.1zM232.7 617.0h1.1v1.1h-1.1zM229.2 618.5h1.1v1.1h-1.1zM233.5 631.3h1.1v1.1h-1.1zM227.4 626.6h1.1v1.1h-1.1zM232.7 623.9h1.1v1.1h-1.1zM233.3 614.3h1.1v1.1h-1.1zM231.4 612.8h1.1v1.1h-1.1zM233.0 627.9h1.1v1.1h-1.1zM232.8 617.5h1.1v1.1h-1.1zM236.8 631.4h1.1v1.1h-1.1zM231.4 619.2h1.1v1.1h-1.1zM233.9 608.9h1.1v1.1h-1.1zM229.8 608.9h1.1v1.1h-1.1zM233.0 631.8h1.1v1.1h-1.1zM231.9 634.4h1.1v1.1h-1.1zM228.0 616.0h1.1v1.1h-1.1zM223.5 609.1h1.1v1.1h-1.1zM238.6 630.7h1.1v1.1h-1.1zM234.1 615.7h1.1v1.1h-1.1zM229.3 648.2h1.1v1.1h-1.1zM231.2 649.0h1.1v1.1h-1.1zM242.5 610.2h1.1v1.1h-1.1zM241.7 605.5h1.1v1.1h-1.1zM238.6 641.0h1.1v1.1h-1.1zM238.3 629.3h1.1v1.1h-1.1z" fill="#111" fill-opacity="0.6"/>
<path d="M225.2 647.6h1.1v1.1h-1.1zM218.7 646.6h1.1v1.1h-1.1zM219.9 642.0h1.1v1.1h-1.1zM223.9 635.1h1.1v1.1h-1.1zM223.9 642.4h1.1v1.1h-1.1zM219.3 644.5h1.1v1.1h-1.1zM224.7 650.5h1.1v1.1h-1.1zM231.1 639.7h1.1v1.1h-1.1zM224.4 648.7h1.1v1.1h-1.1zM226.7 643.0h1.1v1.1h-1.1zM225.9 645.0h1.1v1.1h-1.1zM227.1 639.2h1.1v1.1h-1.1zM225.7 636.4h1.1v1.1h-1.1zM224.5 635.7h1.1v1.1h-1.1zM219.5 633.8h1.1v1.1h-1.1zM222.6 641.8h1.1v1.1h-1.1zM227.2 643.1h1.1v1.1h-1.1zM225.6 639.6h1.1v1.1h-1.1zM222.7 634.5h1.1v1.1h-1.1zM227.5 646.7h1.1v1.1h-1.1zM219.7 639.7h1.1v1.1h-1.1zM222.0 640.2h1.1v1.1h-1.1zM229.1 637.2h1.1v1.1h-1.1zM227.3 645.5h1.1v1.1h-1.1zM226.0 646.4h1.1v1.1h-1.1zM224.9 640.0h1.1v1.1h-1.1zM222.4 648.0h1.1v1.1h-1.1zM220.7 651.3h1.1v1.1h-1.1zM225.6 650.7h1.1v1.1h-1.1zM217.4 644.7h1.1v1.1h-1.1zM226.2 640.3h1.1v1.1h-1.1zM229.4 645.9h1.1v1.1h-1.1zM225.6 639.3h1.1v1.1h-1.1zM216.5 643.0h1.1v1.1h-1.1zM227.5 641.1h1.1v1.1h-1.1zM220.4 643.8h1.1v1.1h-1.1zM220.4 641.4h1.1v1.1h-1.1zM226.5 642.9h1.1v1.1h-1.1zM226.9 636.5h1.1v1.1h-1.1zM226.7 642.1h1.1v1.1h-1.1zM225.3 636.5h1.1v1.1h-1.1zM221.3 646.8h1.1v1.1h-1.1zM221.0 646.9h1.1v1.1h-1.1zM225.3 643.1h1.1v1.1h-1.1zM224.9 641.8h1.1v1.1h-1.1zM225.3 644.1h1.1v1.1h-1.1zM227.5 639.3h1.1v1.1h-1.1zM225.5 636.1h1.1v1.1h-1.1zM228.6 644.6h1.1v1.1h-1.1zM225.9 641.9h1.1v1.1h-1.1zM226.7 644.4h1.1v1.1h-1.1zM221.6 643.4h1.1v1.1h-1.1zM223.4 642.3h1.1v1.1h-1.1zM224.6 638.8h1.1v1.1h-1.1zM224.2 641.8h1.1v1.1h-1.1zM223.4 640.6h1.1v1.1h-1.1zM222.2 637.0h1.1v1.1h-1.1zM222.4 643.5h1.1v1.1h-1.1zM225.4 639.8h1.1v1.1h-1.1zM224.3 640.2h1.1v1.1h-1.1zM221.0 644.6h1.1v1.1h-1.1zM222.9 643.4h1.1v1.1h-1.1zM225.8 641.5h1.1v1.1h-1.1zM225.4 638.4h1.1v1.1h-1.1zM221.1 644.7h1.1v1.1h-1.1zM225.6 642.4h1.1v1.1h-1.1zM227.2 634.6h1.1v1.1h-1.1zM231.2 636.5h1.1v1.1h-1.1zM226.5 647.5h1.1v1.1h-1.1zM229.2 638.7h1.1v1.1h-1.1zM227.0 643.1h1.1v1.1h-1.1zM223.9 644.3h1.1v1.1h-1.1zM229.1 643.5h1.1v1.1h-1.1zM226.8 643.9h1.1v1.1h-1.1zM222.9 641.7h1.1v1.1h-1.1zM226.5 641.9h1.1v1.1h-1.1zM225.4 645.7h1.1v1.1h-1.1zM221.6 644.7h1.1v1.1h-1.1zM224.2 641.3h1.1v1.1h-1.1zM219.4 645.3h1.1v1.1h-1.1zM225.2 642.5h1.1v1.1h-1.1zM224.6 644.4h1.1v1.1h-1.1zM223.9 648.9h1.1v1.1h-1.1zM225.8 640.9h1.1v1.1h-1.1zM224.1 644.9h1.1v1.1h-1.1zM227.4 642.6h1.1v1.1h-1.1zM225.5 641.5h1.1v1.1h-1.1zM226.0 645.9h1.1v1.1h-1.1zM224.6 637.3h1.1v1.1h-1.1zM226.1 640.0h1.1v1.1h-1.1zM221.3 641.7h1.1v1.1h-1.1zM221.8 634.0h1.1v1.1h-1.1zM224.0 640.9h1.1v1.1h-1.1zM224.8 637.5h1.1v1.1h-1.1zM226.2 642.7h1.1v1.1h-1.1zM223.8 640.2h1.1v1.1h-1.1zM226.3 639.9h1.1v1.1h-1.1zM224.4 638.0h1.1v1.1h-1.1zM223.6 642.3h1.1v1.1h-1.1zM224.3 646.0h1.1v1.1h-1.1zM228.6 641.7h1.1v1.1h-1.1zM225.2 644.0h1.1v1.1h-1.1zM225.6 637.7h1.1v1.1h-1.1zM225.0 642.2h1.1v1.1h-1.1zM221.4 644.5h1.1v1.1h-1.1zM226.2 638.0h1.1v1.1h-1.1zM221.4 641.9h1.1v1.1h-1.1zM227.7 642.7h1.1v1.1h-1.1zM221.1 646.5h1.1v1.1h-1.1zM229.4 638.9h1.1v1.1h-1.1zM224.9 635.8h1.1v1.1h-1.1zM223.4 639.5h1.1v1.1h-1.1zM224.3 640.1h1.1v1.1h-1.1zM228.2 642.5h1.1v1.1h-1.1zM224.4 640.9h1.1v1.1h-1.1zM225.3 642.4h1.1v1.1h-1.1zM224.6 644.6h1.1v1.1h-1.1zM229.1 641.0h1.1v1.1h-1.1zM219.4 649.9h1.1v1.1h-1.1zM225.4 648.0h1.1v1.1h-1.1zM227.7 632.7h1.1v1.1h-1.1zM227.6 642.7h1.1v1.1h-1.1zM221.5 652.1h1.1v1.1h-1.1zM221.6 655.1h1.1v1.1h-1.1zM222.8 644.1h1.1v1.1h-1.1zM223.5 640.6h1.1v1.1h-1.1zM225.8 637.9h1.1v1.1h-1.1zM231.3 642.6h1.1v1.1h-1.1zM226.4 644.8h1.1v1.1h-1.1zM226.8 646.6h1.1v1.1h-1.1zM226.0 638.6h1.1v1.1h-1.1zM229.7 639.5h1.1v1.1h-1.1zM226.1 636.9h1.1v1.1h-1.1zM227.3 643.4h1.1v1.1h-1.1zM221.5 647.9h1.1v1.1h-1.1zM226.5 640.8h1.1v1.1h-1.1zM231.0 636.1h1.1v1.1h-1.1zM226.0 641.4h1.1v1.1h-1.1zM222.7 647.6h1.1v1.1h-1.1zM224.3 641.2h1.1v1.1h-1.1zM226.2 642.6h1.1v1.1h-1.1zM222.2 645.8h1.1v1.1h-1.1zM225.5 650.3h1.1v1.1h-1.1zM219.2 645.5h1.1v1.1h-1.1zM224.9 639.2h1.1v1.1h-1.1zM224.7 638.3h1.1v1.1h-1.1zM228.7 634.3h1.1v1.1h-1.1zM225.0 641.9h1.1v1.1h-1.1zM226.4 643.8h1.1v1.1h-1.1zM225.7 634.1h1.1v1.1h-1.1zM224.9 647.2h1.1v1.1h-1.1zM222.0 637.1h1.1v1.1h-1.1zM221.4 644.5h1.1v1.1h-1.1zM226.5 640.5h1.1v1.1h-1.1zM221.0 644.6h1.1v1.1h-1.1zM220.2 638.3h1.1v1.1h-1.1zM224.9 639.7h1.1v1.1h-1.1zM229.1 635.4h1.1v1.1h-1.1zM223.3 644.5h1.1v1.1h-1.1zM222.5 643.0h1.1v1.1h-1.1zM227.1 642.7h1.1v1.1h-1.1zM222.4 648.3h1.1v1.1h-1.1zM228.0 636.9h1.1v1.1h-1.1zM221.7 645.1h1.1v1.1h-1.1zM219.7 644.8h1.1v1.1h-1.1zM226.0 637.8h1.1v1.1h-1.1zM220.3 644.2h1.1v1.1h-1.1zM222.9 643.6h1.1v1.1h-1.1zM225.3 635.2h1.1v1.1h-1.1zM227.4 642.6h1.1v1.1h-1.1zM224.9 639.6h1.1v1.1h-1.1zM225.7 652.0h1.1v1.1h-1.1zM224.2 639.7h1.1v1.1h-1.1zM222.1 642.1h1.1v1.1h-1.1zM220.0 645.0h1.1v1.1h-1.1zM226.4 640.7h1.1v1.1h-1.1zM226.7 642.2h1.1v1.1h-1.1zM225.5 640.3h1.1v1.1h-1.1zM225.1 646.3h1.1v1.1h-1.1zM227.4 638.1h1.1v1.1h-1.1zM224.8 637.1h1.1v1.1h-1.1zM226.6 647.1h1.1v1.1h-1.1zM224.6 644.9h1.1v1.1h-1.1zM224.5 643.2h1.1v1.1h-1.1zM223.0 643.1h1.1v1.1h-1.1zM227.4 650.8h1.1v1.1h-1.1zM220.1 640.3h1.1v1.1h-1.1zM220.9 645.3h1.1v1.1h-1.1zM217.5 643.7h1.1v1.1h-1.1zM229.3 641.2h1.1v1.1h-1.1zM226.2 643.9h1.1v1.1h-1.1zM222.2 639.2h1.1v1.1h-1.1zM221.7 636.4h1.1v1.1h-1.1zM223.1 644.5h1.1v1.1h-1.1zM226.2 637.5h1.1v1.1h-1.1zM222.5 642.4h1.1v1.1h-1.1zM224.8 642.1h1.1v1.1h-1.1zM228.8 640.4h1.1v1.1h-1.1zM225.4 639.5h1.1v1.1h-1.1zM228.4 644.1h1.1v1.1h-1.1zM224.8 641.6h1.1v1.1h-1.1zM230.4 636.3h1.1v1.1h-1.1zM224.9 640.1h1.1v1.1h-1.1zM226.5 645.6h1.1v1.1h-1.1zM226.5 644.8h1.1v1.1h-1.1zM224.0 645.6h1.1v1.1h-1.1zM225.4 640.9h1.1v1.1h-1.1zM225.8 641.7h1.1v1.1h-1.1zM220.7 646.1h1.1v1.1h-1.1zM228.9 644.2h1.1v1.1h-1.1zM222.2 642.3h1.1v1.1h-1.1zM224.0 645.0h1.1v1.1h-1.1zM224.5 637.3h1.1v1.1h-1.1zM225.7 640.3h1.1v1.1h-1.1zM221.9 643.2h1.1v1.1h-1.1zM222.7 642.5h1.1v1.1h-1.1zM220.8 639.1h1.1v1.1h-1.1zM227.7 638.4h1.1v1.1h-1.1zM228.9 641.1h1.1v1.1h-1.1zM221.0 638.9h1.1v1.1h-1.1zM225.8 642.5h1.1v1.1h-1.1zM221.1 644.4h1.1v1.1h-1.1zM226.3 641.0h1.1v1.1h-1.1zM223.6 643.9h1.1v1.1h-1.1zM222.7 644.0h1.1v1.1h-1.1zM227.2 643.3h1.1v1.1h-1.1zM222.1 648.5h1.1v1.1h-1.1zM227.1 636.2h1.1v1.1h-1.1zM226.8 642.3h1.1v1.1h-1.1zM220.6 645.6h1.1v1.1h-1.1zM219.3 648.0h1.1v1.1h-1.1zM226.9 642.0h1.1v1.1h-1.1zM222.5 643.6h1.1v1.1h-1.1zM226.5 641.2h1.1v1.1h-1.1zM220.2 640.1h1.1v1.1h-1.1zM217.8 642.9h1.1v1.1h-1.1zM222.8 640.9h1.1v1.1h-1.1zM227.6 646.0h1.1v1.1h-1.1zM227.2 637.5h1.1v1.1h-1.1zM225.3 641.4h1.1v1.1h-1.1zM223.9 644.7h1.1v1.1h-1.1zM224.5 634.3h1.1v1.1h-1.1zM224.3 645.1h1.1v1.1h-1.1zM227.6 639.4h1.1v1.1h-1.1zM223.3 646.1h1.1v1.1h-1.1zM221.3 642.6h1.1v1.1h-1.1zM223.5 641.8h1.1v1.1h-1.1zM226.6 639.1h1.1v1.1h-1.1zM224.0 645.5h1.1v1.1h-1.1zM222.7 643.4h1.1v1.1h-1.1zM226.7 645.0h1.1v1.1h-1.1zM220.0 642.9h1.1v1.1h-1.1zM225.8 646.0h1.1v1.1h-1.1zM224.3 633.2h1.1v1.1h-1.1zM223.4 643.6h1.1v1.1h-1.1zM224.1 648.2h1.1v1.1h-1.1zM225.2 642.8h1.1v1.1h-1.1zM226.3 633.4h1.1v1.1h-1.1zM227.5 639.8h1.1v1.1h-1.1zM222.5 644.5h1.1v1.1h-1.1zM228.0 636.7h1.1v1.1h-1.1zM222.1 641.1h1.1v1.1h-1.1zM226.8 639.3h1.1v1.1h-1.1zM230.5 634.7h1.1v1.1h-1.1zM226.1 639.4h1.1v1.1h-1.1zM223.3 641.8h1.1v1.1h-1.1zM225.5 641.3h1.1v1.1h-1.1zM227.9 640.5h1.1v1.1h-1.1zM223.6 640.8h1.1v1.1h-1.1zM229.2 640.2h1.1v1.1h-1.1zM224.7 646.0h1.1v1.1h-1.1zM226.5 640.6h1.1v1.1h-1.1zM224.9 640.3h1.1v1.1h-1.1zM228.6 643.9h1.1v1.1h-1.1zM223.0 634.7h1.1v1.1h-1.1zM223.0 652.7h1.1v1.1h-1.1zM222.6 644.7h1.1v1.1h-1.1zM223.8 648.9h1.1v1.1h-1.1zM223.2 642.3h1.1v1.1h-1.1zM231.5 640.4h1.1v1.1h-1.1zM229.0 637.4h1.1v1.1h-1.1zM225.8 644.5h1.1v1.1h-1.1zM227.4 643.3h1.1v1.1h-1.1zM225.1 640.1h1.1v1.1h-1.1zM223.4 639.8h1.1v1.1h-1.1zM229.1 640.3h1.1v1.1h-1.1zM225.6 644.2h1.1v1.1h-1.1zM225.1 649.6h1.1v1.1h-1.1zM223.0 638.3h1.1v1.1h-1.1zM226.7 635.6h1.1v1.1h-1.1zM219.4 648.3h1.1v1.1h-1.1zM224.9 638.8h1.1v1.1h-1.1zM222.0 637.0h1.1v1.1h-1.1zM226.9 643.4h1.1v1.1h-1.1zM225.5 645.5h1.1v1.1h-1.1zM225.1 644.0h1.1v1.1h-1.1zM230.4 642.6h1.1v1.1h-1.1zM225.2 647.8h1.1v1.1h-1.1zM223.2 636.5h1.1v1.1h-1.1zM230.3 643.6h1.1v1.1h-1.1zM218.5 636.3h1.1v1.1h-1.1zM220.2 642.2h1.1v1.1h-1.1zM223.1 640.7h1.1v1.1h-1.1zM222.0 644.1h1.1v1.1h-1.1zM223.8 640.9h1.1v1.1h-1.1zM223.1 645.8h1.1v1.1h-1.1zM222.9 640.2h1.1v1.1h-1.1zM221.7 636.9h1.1v1.1h-1.1zM224.1 640.5h1.1v1.1h-1.1zM224.7 635.8h1.1v1.1h-1.1zM220.6 644.1h1.1v1.1h-1.1zM228.2 635.0h1.1v1.1h-1.1zM222.6 646.5h1.1v1.1h-1.1zM227.3 647.2h1.1v1.1h-1.1zM220.1 639.4h1.1v1.1h-1.1zM227.1 642.2h1.1v1.1h-1.1zM225.8 642.7h1.1v1.1h-1.1zM225.0 643.0h1.1v1.1h-1.1zM223.1 641.1h1.1v1.1h-1.1zM225.4 641.1h1.1v1.1h-1.1zM222.9 642.1h1.1v1.1h-1.1zM224.1 646.6h1.1v1.1h-1.1zM219.6 637.6h1.1v1.1h-1.1zM227.3 645.4h1.1v1.1h-1.1zM223.8 638.3h1.1v1.1h-1.1zM223.6 636.4h1.1v1.1h-1.1zM228.5 646.8h1.1v1.1h-1.1zM223.6 644.0h1.1v1.1h-1.1zM220.4 648.2h1.1v1.1h-1.1zM223.0 646.9h1.1v1.1h-1.1zM225.3 650.3h1.1v1.1h-1.1zM222.7 643.4h1.1v1.1h-1.1zM225.7 645.4h1.1v1.1h-1.1zM225.2 636.1h1.1v1.1h-1.1zM230.2 637.1h1.1v1.1h-1.1zM226.7 637.3h1.1v1.1h-1.1zM224.7 648.7h1.1v1.1h-1.1zM224.6 644.1h1.1v1.1h-1.1zM221.9 649.7h1.1v1.1h-1.1zM222.6 640.9h1.1v1.1h-1.1zM229.0 642.3h1.1v1.1h-1.1zM223.2 641.0h1.1v1.1h-1.1zM221.9 631.6h1.1v1.1h-1.1zM224.6 646.3h1.1v1.1h-1.1zM218.4 643.2h1.1v1.1h-1.1zM226.9 641.9h1.1v1.1h-1.1zM227.3 646.5h1.1v1.1h-1.1zM228.0 641.2h1.1v1.1h-1.1zM223.0 648.4h1.1v1.1h-1.1zM231.2 637.4h1.1v1.1h-1.1zM226.0 637.2h1.1v1.1h-1.1zM223.3 641.3h1.1v1.1h-1.1zM224.1 637.6h1.1v1.1h-1.1zM219.7 640.6h1.1v1.1h-1.1zM227.4 649.5h1.1v1.1h-1.1zM225.2 642.3h1.1v1.1h-1.1zM222.2 651.1h1.1v1.1h-1.1zM223.1 633.2h1.1v1.1h-1.1zM221.7 651.7h1.1v1.1h-1.1zM223.5 644.4h1.1v1.1h-1.1zM219.9 646.5h1.1v1.1h-1.1zM224.9 647.7h1.1v1.1h-1.1zM226.6 643.1h1.1v1.1h-1.1zM224.9 647.1h1.1v1.1h-1.1zM224.3 644.2h1.1v1.1h-1.1zM225.7 638.7h1.1v1.1h-1.1zM220.1 642.7h1.1v1.1h-1.1zM226.6 642.7h1.1v1.1h-1.1zM223.8 644.9h1.1v1.1h-1.1zM219.4 648.5h1.1v1.1h-1.1zM228.2 641.7h1.1v1.1h-1.1zM220.2 642.5h1.1v1.1h-1.1zM220.4 642.9h1.1v1.1h-1.1zM229.1 644.8h1.1v1.1h-1.1zM224.5 641.1h1.1v1.1h-1.1zM224.8 638.0h1.1v1.1h-1.1zM225.4 641.2h1.1v1.1h-1.1zM221.5 639.7h1.1v1.1h-1.1zM227.5 640.2h1.1v1.1h-1.1zM215.5 649.7h1.1v1.1h-1.1zM227.3 646.9h1.1v1.1h-1.1zM226.3 642.8h1.1v1.1h-1.1zM227.4 640.8h1.1v1.1h-1.1zM222.5 644.6h1.1v1.1h-1.1zM226.5 641.3h1.1v1.1h-1.1zM226.1 640.3h1.1v1.1h-1.1zM226.8 645.1h1.1v1.1h-1.1zM227.7 641.2h1.1v1.1h-1.1zM224.4 653.2h1.1v1.1h-1.1zM222.5 652.3h1.1v1.1h-1.1zM224.2 645.1h1.1v1.1h-1.1zM223.3 644.1h1.1v1.1h-1.1zM225.7 641.9h1.1v1.1h-1.1zM217.5 643.9h1.1v1.1h-1.1zM225.1 645.9h1.1v1.1h-1.1zM224.8 646.1h1.1v1.1h-1.1zM221.9 643.2h1.1v1.1h-1.1zM230.0 638.8h1.1v1.1h-1.1zM224.4 642.8h1.1v1.1h-1.1zM222.3 637.7h1.1v1.1h-1.1zM226.5 646.6h1.1v1.1h-1.1zM224.3 638.5h1.1v1.1h-1.1zM224.6 645.7h1.1v1.1h-1.1zM221.9 647.7h1.1v1.1h-1.1zM218.2 641.7h1.1v1.1h-1.1zM227.1 640.5h1.1v1.1h-1.1zM222.2 637.2h1.1v1.1h-1.1zM221.2 647.0h1.1v1.1h-1.1zM228.3 649.0h1.1v1.1h-1.1zM222.8 646.1h1.1v1.1h-1.1zM226.0 641.9h1.1v1.1h-1.1zM223.5 635.8h1.1v1.1h-1.1zM225.9 639.0h1.1v1.1h-1.1zM223.7 647.2h1.1v1.1h-1.1zM227.1 649.1h1.1v1.1h-1.1zM226.3 646.0h1.1v1.1h-1.1zM224.5 636.8h1.1v1.1h-1.1zM224.0 646.1h1.1v1.1h-1.1zM225.7 647.2h1.1v1.1h-1.1zM222.9 641.2h1.1v1.1h-1.1zM225.7 645.6h1.1v1.1h-1.1zM227.2 649.4h1.1v1.1h-1.1zM223.3 645.4h1.1v1.1h-1.1zM227.7 647.2h1.1v1.1h-1.1zM228.7 640.0h1.1v1.1h-1.1zM225.5 639.8h1.1v1.1h-1.1zM228.1 636.0h1.1v1.1h-1.1zM226.5 641.0h1.1v1.1h-1.1zM226.1 639.6h1.1v1.1h-1.1zM220.4 642.0h1.1v1.1h-1.1zM223.6 633.2h1.1v1.1h-1.1zM220.5 650.6h1.1v1.1h-1.1zM229.7 635.4h1.1v1.1h-1.1zM224.6 645.0h1.1v1.1h-1.1zM219.6 641.2h1.1v1.1h-1.1zM225.0 643.9h1.1v1.1h-1.1zM222.9 636.9h1.1v1.1h-1.1zM218.2 650.5h1.1v1.1h-1.1zM225.2 641.1h1.1v1.1h-1.1zM225.1 641.9h1.1v1.1h-1.1zM220.8 643.0h1.1v1.1h-1.1zM226.1 640.8h1.1v1.1h-1.1zM228.4 640.9h1.1v1.1h-1.1zM217.4 645.8h1.1v1.1h-1.1zM228.0 651.1h1.1v1.1h-1.1zM224.6 646.4h1.1v1.1h-1.1zM226.4 643.0h1.1v1.1h-1.1zM226.8 629.0h1.1v1.1h-1.1zM222.9 642.7h1.1v1.1h-1.1zM226.2 641.8h1.1v1.1h-1.1zM226.9 647.2h1.1v1.1h-1.1zM227.0 638.1h1.1v1.1h-1.1zM223.9 642.7h1.1v1.1h-1.1zM224.5 649.5h1.1v1.1h-1.1zM222.3 646.0h1.1v1.1h-1.1zM223.4 637.7h1.1v1.1h-1.1zM226.2 645.1h1.1v1.1h-1.1zM224.9 634.4h1.1v1.1h-1.1zM224.2 637.5h1.1v1.1h-1.1zM226.2 641.2h1.1v1.1h-1.1zM225.9 647.7h1.1v1.1h-1.1zM226.7 635.1h1.1v1.1h-1.1zM221.9 640.5h1.1v1.1h-1.1zM226.7 635.2h1.1v1.1h-1.1zM225.1 648.1h1.1v1.1h-1.1zM221.3 647.9h1.1v1.1h-1.1zM225.7 652.0h1.1v1.1h-1.1zM225.4 633.0h1.1v1.1h-1.1zM222.4 644.7h1.1v1.1h-1.1zM225.4 645.1h1.1v1.1h-1.1zM223.7 635.8h1.1v1.1h-1.1zM220.6 639.4h1.1v1.1h-1.1zM226.0 636.2h1.1v1.1h-1.1zM227.7 646.3h1.1v1.1h-1.1zM227.9 643.8h1.1v1.1h-1.1zM229.9 639.2h1.1v1.1h-1.1zM223.9 645.7h1.1v1.1h-1.1zM224.5 640.8h1.1v1.1h-1.1zM224.5 635.7h1.1v1.1h-1.1zM229.1 639.3h1.1v1.1h-1.1zM220.0 649.7h1.1v1.1h-1.1zM222.2 645.7h1.1v1.1h-1.1zM224.6 640.7h1.1v1.1h-1.1zM223.5 641.8h1.1v1.1h-1.1zM225.7 643.1h1.1v1.1h-1.1zM223.4 638.9h1.1v1.1h-1.1zM222.6 642.3h1.1v1.1h-1.1zM220.8 642.2h1.1v1.1h-1.1zM227.3 639.0h1.1v1.1h-1.1zM222.7 642.4h1.1v1.1h-1.1zM222.4 643.8h1.1v1.1h-1.1zM227.0 649.8h1.1v1.1h-1.1zM225.1 628.2h1.1v1.1h-1.1zM224.8 647.5h1.1v1.1h-1.1zM221.3 638.9h1.1v1.1h-1.1zM223.9 650.6h1.1v1.1h-1.1zM226.0 651.4h1.1v1.1h-1.1zM224.3 644.5h1.1v1.1h-1.1zM223.2 642.0h1.1v1.1h-1.1zM223.7 642.8h1.1v1.1h-1.1zM225.4 639.7h1.1v1.1h-1.1zM223.6 643.2h1.1v1.1h-1.1zM222.7 644.9h1.1v1.1h-1.1zM228.2 644.3h1.1v1.1h-1.1zM225.9 640.3h1.1v1.1h-1.1zM227.9 639.1h1.1v1.1h-1.1zM224.4 642.7h1.1v1.1h-1.1zM224.2 646.7h1.1v1.1h-1.1zM221.3 643.5h1.1v1.1h-1.1zM227.3 648.1h1.1v1.1h-1.1zM225.7 643.0h1.1v1.1h-1.1zM223.9 642.6h1.1v1.1h-1.1zM227.1 642.6h1.1v1.1h-1.1zM225.3 644.6h1.1v1.1h-1.1zM224.5 640.2h1.1v1.1h-1.1zM223.3 642.5h1.1v1.1h-1.1zM224.4 641.5h1.1v1.1h-1.1zM224.0 639.7h1.1v1.1h-1.1zM225.3 638.3h1.1v1.1h-1.1zM222.2 645.4h1.1v1.1h-1.1zM223.5 641.0h1.1v1.1h-1.1zM228.5 638.8h1.1v1.1h-1.1zM222.3 641.2h1.1v1.1h-1.1zM223.2 643.1h1.1v1.1h-1.1zM224.0 648.9h1.1v1.1h-1.1zM225.3 636.7h1.1v1.1h-1.1zM227.7 641.7h1.1v1.1h-1.1zM223.2 646.0h1.1v1.1h-1.1zM225.7 642.9h1.1v1.1h-1.1zM224.1 646.8h1.1v1.1h-1.1zM226.4 644.2h1.1v1.1h-1.1zM222.3 647.7h1.1v1.1h-1.1zM223.6 644.7h1.1v1.1h-1.1zM223.9 641.0h1.1v1.1h-1.1zM225.4 635.1h1.1v1.1h-1.1zM227.2 641.5h1.1v1.1h-1.1zM225.0 640.5h1.1v1.1h-1.1zM223.5 645.7h1.1v1.1h-1.1zM225.4 641.5h1.1v1.1h-1.1zM226.2 642.0h1.1v1.1h-1.1zM222.1 645.5h1.1v1.1h-1.1zM224.8 639.0h1.1v1.1h-1.1zM227.0 649.0h1.1v1.1h-1.1zM222.1 645.3h1.1v1.1h-1.1zM223.2 640.0h1.1v1.1h-1.1zM225.9 646.5h1.1v1.1h-1.1zM228.8 647.1h1.1v1.1h-1.1zM229.9 644.5h1.1v1.1h-1.1zM224.8 643.1h1.1v1.1h-1.1zM223.7 645.1h1.1v1.1h-1.1zM224.2 644.8h1.1v1.1h-1.1zM222.7 640.5h1.1v1.1h-1.1zM219.8 645.0h1.1v1.1h-1.1zM225.6 639.0h1.1v1.1h-1.1zM224.5 643.4h1.1v1.1h-1.1zM226.0 640.7h1.1v1.1h-1.1zM224.9 640.8h1.1v1.1h-1.1zM224.4 643.7h1.1v1.1h-1.1zM225.3 649.4h1.1v1.1h-1.1zM221.5 647.5h1.1v1.1h-1.1zM225.2 641.5h1.1v1.1h-1.1zM228.5 641.9h1.1v1.1h-1.1zM228.7 638.7h1.1v1.1h-1.1zM228.4 645.1h1.1v1.1h-1.1zM223.8 645.9h1.1v1.1h-1.1zM225.0 640.4h1.1v1.1h-1.1zM223.8 643.6h1.1v1.1h-1.1zM220.9 638.2h1.1v1.1h-1.1zM227.6 640.3h1.1v1.1h-1.1zM225.6 643.9h1.1v1.1h-1.1zM226.0 646.8h1.1v1.1h-1.1zM225.2 634.1h1.1v1.1h-1.1zM225.6 639.3h1.1v1.1h-1.1zM223.4 644.1h1.1v1.1h-1.1zM222.0 643.3h1.1v1.1h-1.1zM226.8 648.2h1.1v1.1h-1.1zM225.7 643.7h1.1v1.1h-1.1zM225.8 642.7h1.1v1.1h-1.1zM221.6 647.3h1.1v1.1h-1.1zM227.0 642.1h1.1v1.1h-1.1zM222.6 646.4h1.1v1.1h-1.1zM225.0 646.8h1.1v1.1h-1.1zM224.9 642.4h1.1v1.1h-1.1zM224.8 645.5h1.1v1.1h-1.1zM223.2 642.9h1.1v1.1h-1.1zM223.6 642.1h1.1v1.1h-1.1zM226.5 641.0h1.1v1.1h-1.1zM225.2 645.7h1.1v1.1h-1.1zM223.3 642.8h1.1v1.1h-1.1zM220.7 645.2h1.1v1.1h-1.1zM224.4 646.9h1.1v1.1h-1.1zM224.3 639.6h1.1v1.1h-1.1zM225.4 643.1h1.1v1.1h-1.1zM226.1 641.4h1.1v1.1h-1.1zM227.0 640.2h1.1v1.1h-1.1zM224.8 645.8h1.1v1.1h-1.1zM222.4 650.1h1.1v1.1h-1.1zM225.7 643.6h1.1v1.1h-1.1zM226.0 644.7h1.1v1.1h-1.1zM224.0 639.1h1.1v1.1h-1.1zM224.7 645.1h1.1v1.1h-1.1zM225.3 642.1h1.1v1.1h-1.1zM223.0 640.4h1.1v1.1h-1.1zM227.5 641.8h1.1v1.1h-1.1zM226.3 640.4h1.1v1.1h-1.1zM225.2 644.3h1.1v1.1h-1.1zM221.5 642.8h1.1v1.1h-1.1zM224.1 645.1h1.1v1.1h-1.1zM222.4 644.4h1.1v1.1h-1.1zM223.7 643.9h1.1v1.1h-1.1zM224.6 643.2h1.1v1.1h-1.1zM226.7 643.4h1.1v1.1h-1.1zM225.5 643.2h1.1v1.1h-1.1zM218.0 645.4h1.1v1.1h-1.1zM225.6 644.9h1.1v1.1h-1.1zM223.1 644.1h1.1v1.1h-1.1zM225.4 647.5h1.1v1.1h-1.1zM224.7 645.1h1.1v1.1h-1.1zM226.5 640.4h1.1v1.1h-1.1zM226.1 636.8h1.1v1.1h-1.1zM226.7 641.0h1.1v1.1h-1.1zM224.2 645.3h1.1v1.1h-1.1zM222.2 644.5h1.1v1.1h-1.1zM223.3 642.1h1.1v1.1h-1.1zM224.5 638.1h1.1v1.1h-1.1zM224.4 645.0h1.1v1.1h-1.1zM224.3 644.9h1.1v1.1h-1.1zM221.4 644.4h1.1v1.1h-1.1zM220.2 649.7h1.1v1.1h-1.1zM226.6 639.2h1.1v1.1h-1.1zM223.8 642.7h1.1v1.1h-1.1zM225.1 644.0h1.1v1.1h-1.1zM222.0 647.0h1.1v1.1h-1.1zM226.3 646.6h1.1v1.1h-1.1zM226.0 647.1h1.1v1.1h-1.1zM229.5 646.2h1.1v1.1h-1.1zM224.6 643.6h1.1v1.1h-1.1zM227.3 639.9h1.1v1.1h-1.1zM223.3 640.1h1.1v1.1h-1.1zM228.7 641.0h1.1v1.1h-1.1zM223.6 643.4h1.1v1.1h-1.1zM225.7 647.1h1.1v1.1h-1.1zM224.8 642.6h1.1v1.1h-1.1zM226.8 647.8h1.1v1.1h-1.1zM225.2 640.9h1.1v1.1h-1.1zM223.9 638.6h1.1v1.1h-1.1zM223.4 640.3h1.1v1.1h-1.1zM225.2 639.2h1.1v1.1h-1.1zM224.7 639.6h1.1v1.1h-1.1zM227.1 642.8h1.1v1.1h-1.1zM224.1 646.1h1.1v1.1h-1.1zM225.6 646.3h1.1v1.1h-1.1zM223.4 645.0h1.1v1.1h-1.1zM226.7 644.6h1.1v1.1h-1.1zM223.7 646.4h1.1v1.1h-1.1zM223.3 644.1h1.1v1.1h-1.1zM223.7 645.6h1.1v1.1h-1.1zM221.8 642.0h1.1v1.1h-1.1zM222.5 642.1h1.1v1.1h-1.1zM229.0 644.5h1.1v1.1h-1.1zM223.7 646.2h1.1v1.1h-1.1zM226.3 644.6h1.1v1.1h-1.1zM220.8 643.9h1.1v1.1h-1.1zM223.7 648.2h1.1v1.1h-1.1zM226.9 643.2h1.1v1.1h-1.1zM225.5 645.3h1.1v1.1h-1.1zM226.3 647.2h1.1v1.1h-1.1zM223.2 643.3h1.1v1.1h-1.1zM228.1 643.8h1.1v1.1h-1.1zM221.5 645.2h1.1v1.1h-1.1zM221.6 645.7h1.1v1.1h-1.1zM225.2 643.7h1.1v1.1h-1.1zM224.9 644.0h1.1v1.1h-1.1zM225.0 639.8h1.1v1.1h-1.1zM219.2 645.8h1.1v1.1h-1.1zM223.5 642.3h1.1v1.1h-1.1zM225.2 644.3h1.1v1.1h-1.1zM221.9 641.2h1.1v1.1h-1.1zM224.0 646.2h1.1v1.1h-1.1zM226.7 644.4h1.1v1.1h-1.1zM220.2 643.8h1.1v1.1h-1.1zM222.3 639.2h1.1v1.1h-1.1zM224.6 646.4h1.1v1.1h-1.1zM228.6 647.8h1.1v1.1h-1.1zM225.8 643.0h1.1v1.1h-1.1zM228.5 645.8h1.1v1.1h-1.1zM223.6 641.5h1.1v1.1h-1.1zM222.3 638.9h1.1v1.1h-1.1zM224.7 645.2h1.1v1.1h-1.1zM222.9 642.5h1.1v1.1h-1.1zM228.7 639.6h1.1v1.1h-1.1zM224.6 646.3h1.1v1.1h-1.1zM223.3 645.0h1.1v1.1h-1.1zM225.6 640.6h1.1v1.1h-1.1zM224.7 643.8h1.1v1.1h-1.1zM226.0 647.4h1.1v1.1h-1.1zM226.5 646.3h1.1v1.1h-1.1zM223.4 644.5h1.1v1.1h-1.1zM226.1 639.2h1.1v1.1h-1.1zM223.1 645.0h1.1v1.1h-1.1zM228.7 642.6h1.1v1.1h-1.1zM224.3 641.4h1.1v1.1h-1.1zM222.4 646.3h1.1v1.1h-1.1zM225.0 643.9h1.1v1.1h-1.1zM226.6 646.0h1.1v1.1h-1.1zM222.5 645.8h1.1v1.1h-1.1zM225.9 642.2h1.1v1.1h-1.1zM226.2 645.0h1.1v1.1h-1.1zM226.7 648.3h1.1v1.1h-1.1zM230.1 638.1h1.1v1.1h-1.1zM228.5 644.1h1.1v1.1h-1.1zM227.2 643.9h1.1v1.1h-1.1zM224.8 644.1h1.1v1.1h-1.1zM221.6 641.0h1.1v1.1h-1.1zM227.8 644.9h1.1v1.1h-1.1zM223.1 652.1h1.1v1.1h-1.1zM225.9 640.9h1.1v1.1h-1.1zM227.4 643.6h1.1v1.1h-1.1zM221.2 641.4h1.1v1.1h-1.1zM223.3 646.0h1.1v1.1h-1.1zM223.8 642.8h1.1v1.1h-1.1zM227.7 644.6h1.1v1.1h-1.1zM224.5 652.5h1.1v1.1h-1.1zM226.5 641.0h1.1v1.1h-1.1zM224.7 643.4h1.1v1.1h-1.1zM225.3 642.5h1.1v1.1h-1.1zM225.5 645.9h1.1v1.1h-1.1zM223.9 645.8h1.1v1.1h-1.1zM222.1 643.8h1.1v1.1h-1.1zM224.9 641.6h1.1v1.1h-1.1zM223.5 646.7h1.1v1.1h-1.1zM226.3 648.1h1.1v1.1h-1.1zM228.8 642.9h1.1v1.1h-1.1zM225.5 645.4h1.1v1.1h-1.1zM222.2 645.8h1.1v1.1h-1.1zM225.3 643.9h1.1v1.1h-1.1zM224.8 640.6h1.1v1.1h-1.1zM227.3 640.7h1.1v1.1h-1.1zM223.6 645.8h1.1v1.1h-1.1zM227.2 646.9h1.1v1.1h-1.1zM225.9 645.4h1.1v1.1h-1.1zM224.8 640.6h1.1v1.1h-1.1zM224.9 645.0h1.1v1.1h-1.1zM221.6 645.0h1.1v1.1h-1.1zM224.5 646.4h1.1v1.1h-1.1zM228.1 643.8h1.1v1.1h-1.1zM224.2 648.9h1.1v1.1h-1.1zM225.9 647.3h1.1v1.1h-1.1zM225.4 641.5h1.1v1.1h-1.1zM225.0 639.0h1.1v1.1h-1.1zM237.4 607.0h1.1v1.1h-1.1zM232.4 607.0h1.1v1.1h-1.1zM232.2 608.3h1.1v1.1h-1.1zM241.1 605.7h1.1v1.1h-1.1zM242.8 605.1h1.1v1.1h-1.1zM232.2 607.2h1.1v1.1h-1.1zM241.9 607.1h1.1v1.1h-1.1zM231.4 605.2h1.1v1.1h-1.1zM229.4 607.6h1.1v1.1h-1.1zM237.2 606.1h1.1v1.1h-1.1zM240.9 607.5h1.1v1.1h-1.1zM235.0 607.7h1.1v1.1h-1.1zM239.8 606.0h1.1v1.1h-1.1zM242.3 606.8h1.1v1.1h-1.1zM232.2 606.5h1.1v1.1h-1.1zM231.7 604.9h1.1v1.1h-1.1zM238.4 606.1h1.1v1.1h-1.1zM231.3 607.0h1.1v1.1h-1.1zM242.3 605.9h1.1v1.1h-1.1zM235.5 607.4h1.1v1.1h-1.1zM228.4 606.6h1.1v1.1h-1.1zM241.1 605.1h1.1v1.1h-1.1zM233.4 606.8h1.1v1.1h-1.1zM239.0 607.4h1.1v1.1h-1.1zM237.9 605.7h1.1v1.1h-1.1zM230.3 607.2h1.1v1.1h-1.1zM241.8 605.5h1.1v1.1h-1.1zM239.8 606.8h1.1v1.1h-1.1zM231.0 606.5h1.1v1.1h-1.1zM240.2 605.8h1.1v1.1h-1.1zM229.4 606.4h1.1v1.1h-1.1zM235.2 607.9h1.1v1.1h-1.1zM233.7 606.0h1.1v1.1h-1.1zM234.6 606.3h1.1v1.1h-1.1zM228.0 606.8h1.1v1.1h-1.1zM240.5 605.9h1.1v1.1h-1.1zM236.3 605.6h1.1v1.1h-1.1zM229.9 605.8h1.1v1.1h-1.1zM239.7 606.1h1.1v1.1h-1.1zM239.8 608.3h1.1v1.1h-1.1zM238.2 607.0h1.1v1.1h-1.1zM238.1 605.7h1.1v1.1h-1.1zM242.3 606.8h1.1v1.1h-1.1zM234.2 607.0h1.1v1.1h-1.1zM235.6 607.0h1.1v1.1h-1.1zM241.0 607.1h1.1v1.1h-1.1zM233.8 606.9h1.1v1.1h-1.1zM236.7 607.1h1.1v1.1h-1.1zM230.8 605.5h1.1v1.1h-1.1zM234.6 606.8h1.1v1.1h-1.1zM235.6 606.7h1.1v1.1h-1.1zM241.9 606.5h1.1v1.1h-1.1zM231.0 608.1h1.1v1.1h-1.1zM236.5 607.0h1.1v1.1h-1.1zM236.1 606.9h1.1v1.1h-1.1zM232.6 608.1h1.1v1.1h-1.1zM238.9 606.8h1.1v1.1h-1.1zM237.7 607.8h1.1v1.1h-1.1zM233.6 606.3h1.1v1.1h-1.1zM237.7 606.6h1.1v1.1h-1.1zM238.4 607.2h1.1v1.1h-1.1zM239.0 607.5h1.1v1.1h-1.1zM229.5 607.6h1.1v1.1h-1.1zM228.8 605.1h1.1v1.1h-1.1zM231.7 607.2h1.1v1.1h-1.1zM229.3 606.9h1.1v1.1h-1.1zM235.3 606.6h1.1v1.1h-1.1zM234.9 607.4h1.1v1.1h-1.1zM233.6 606.9h1.1v1.1h-1.1zM229.7 605.2h1.1v1.1h-1.1zM231.4 607.4h1.1v1.1h-1.1zM229.6 606.6h1.1v1.1h-1.1zM238.5 607.2h1.1v1.1h-1.1zM231.1 603.7h1.1v1.1h-1.1zM228.6 606.6h1.1v1.1h-1.1zM242.0 605.7h1.1v1.1h-1.1zM233.9 606.5h1.1v1.1h-1.1zM242.2 606.9h1.1v1.1h-1.1zM235.7 605.7h1.1v1.1h-1.1zM239.5 607.0h1.1v1.1h-1.1zM240.5 606.0h1.1v1.1h-1.1zM234.1 606.7h1.1v1.1h-1.1zM241.4 605.5h1.1v1.1h-1.1zM236.4 607.3h1.1v1.1h-1.1zM234.9 606.0h1.1v1.1h-1.1zM236.4 606.3h1.1v1.1h-1.1zM241.0 607.4h1.1v1.1h-1.1zM241.2 607.0h1.1v1.1h-1.1zM242.7 607.9h1.1v1.1h-1.1zM237.5 606.7h1.1v1.1h-1.1zM240.6 606.1h1.1v1.1h-1.1zM232.5 606.7h1.1v1.1h-1.1zM238.7 606.5h1.1v1.1h-1.1zM237.6 606.0h1.1v1.1h-1.1zM237.9 606.5h1.1v1.1h-1.1zM234.6 606.4h1.1v1.1h-1.1zM232.9 605.9h1.1v1.1h-1.1zM229.9 606.1h1.1v1.1h-1.1zM238.1 606.2h1.1v1.1h-1.1zM232.6 608.1h1.1v1.1h-1.1zM232.6 606.1h1.1v1.1h-1.1zM240.0 607.7h1.1v1.1h-1.1zM242.3 607.6h1.1v1.1h-1.1zM241.0 606.9h1.1v1.1h-1.1zM235.9 607.1h1.1v1.1h-1.1zM234.7 607.3h1.1v1.1h-1.1zM235.9 606.9h1.1v1.1h-1.1zM234.9 606.5h1.1v1.1h-1.1zM239.4 606.4h1.1v1.1h-1.1zM235.3 606.9h1.1v1.1h-1.1zM239.2 606.4h1.1v1.1h-1.1zM234.1 605.1h1.1v1.1h-1.1zM233.7 607.6h1.1v1.1h-1.1zM236.8 607.1h1.1v1.1h-1.1zM239.6 606.9h1.1v1.1h-1.1zM238.2 606.1h1.1v1.1h-1.1zM233.1 607.2h1.1v1.1h-1.1zM236.8 607.2h1.1v1.1h-1.1zM234.4 606.5h1.1v1.1h-1.1zM241.9 605.8h1.1v1.1h-1.1zM237.2 607.9h1.1v1.1h-1.1zM236.4 606.7h1.1v1.1h-1.1zM231.8 607.4h1.1v1.1h-1.1zM235.9 607.9h1.1v1.1h-1.1zM236.8 606.3h1.1v1.1h-1.1zM238.1 606.4h1.1v1.1h-1.1zM235.7 608.1h1.1v1.1h-1.1zM239.4 606.7h1.1v1.1h-1.1zM239.0 607.4h1.1v1.1h-1.1zM238.4 606.7h1.1v1.1h-1.1zM237.2 607.0h1.1v1.1h-1.1zM238.4 607.0h1.1v1.1h-1.1zM235.7 606.5h1.1v1.1h-1.1zM238.1 605.7h1.1v1.1h-1.1zM237.0 607.3h1.1v1.1h-1.1zM237.4 606.3h1.1v1.1h-1.1zM236.9 606.1h1.1v1.1h-1.1zM239.4 606.3h1.1v1.1h-1.1zM232.9 605.5h1.1v1.1h-1.1zM237.7 606.8h1.1v1.1h-1.1zM227.5 606.2h1.1v1.1h-1.1zM225.4 606.3h1.1v1.1h-1.1zM226.5 606.7h1.1v1.1h-1.1zM225.4 606.9h1.1v1.1h-1.1zM226.9 606.5h1.1v1.1h-1.1zM227.2 606.8h1.1v1.1h-1.1zM224.4 606.7h1.1v1.1h-1.1zM225.1 606.3h1.1v1.1h-1.1z" fill="#111"/>
<line x1="278.9" y1="588.9" x2="351.0" y2="588.9" stroke="#111" stroke-width="1.2" />
<line x1="350.4" y1="588.9" x2="350.4" y2="658.8" stroke="#111" stroke-width="1.2" />
<line x1="281.9" y1="588.9" x2="281.9" y2="659.4" stroke="#111" stroke-width="1.2" />
<line x1="278.9" y1="658.8" x2="351.0" y2="658.8" stroke="#111" stroke-width="1.2" />
<path d="M281.90 658.80h-2.80M281.90 655.34h-2.80M281.90 653.31h-2.80M281.90 651.88h-2.80M281.90 650.76h-2.80M281.90 649.85h-2.80M281.90 649.08h-2.80M281.90 648.41h-2.80M281.90 647.83h-2.80M281.90 647.30h-2.80M281.90 643.84h-2.80M281.90 641.81h-2.80M281.90 640.38h-2.80M281.90 639.26h-2.80M281.90 638.35h-2.80M281.90 637.58h-2.80M281.90 636.91h-2.80M281.90 636.33h-2.80M281.90 635.80h-2.80M281.90 632.34h-2.80M281.90 630.31h-2.80M281.90 628.88h-2.80M281.90 627.76h-2.80M281.90 626.85h-2.80M281.90 626.08h-2.80M281.90 625.41h-2.80M281.90 624.83h-2.80M281.90 624.30h-2.80M281.90 620.84h-2.80M281.90 618.81h-2.80M281.90 617.38h-2.80M281.90 616.26h-2.80M281.90 615.35h-2.80M281.90 614.58h-2.80M281.90 613.91h-2.80M281.90 613.33h-2.80M281.90 612.80h-2.80M281.90 609.34h-2.80M281.90 607.31h-2.80M281.90 605.88h-2.80M281.90 604.76h-2.80M281.90 603.85h-2.80M281.90 603.08h-2.80M281.90 602.41h-2.80M281.90 601.83h-2.80M281.90 601.30h-2.80M281.90 597.84h-2.80M281.90 595.81h-2.80M281.90 594.38h-2.80M281.90 593.26h-2.80M281.90 592.35h-2.80M281.90 591.58h-2.80M281.90 590.91h-2.80M281.90 590.33h-2.80" stroke="#000" stroke-width="1.0" fill="none"/>
<path d="M281.90 658.80v2.20M285.36 658.80v2.20M287.39 658.80v2.20M288.82 658.80v2.20M289.94 658.80v2.20M290.85 658.80v2.20M291.62 658.80v2.20M292.29 658.80v2.20M292.87 658.80v2.20M293.40 658.80v2.20M296.86 658.80v2.20M298.89 658.80v2.20M300.32 658.80v2.20M301.44 658.80v2.20M302.35 658.80v2.20M303.12 658.80v2.20M303.79 658.80v2.20M304.37 658.80v2.20M304.90 658.80v2.20M308.36 658.80v2.20M310.39 658.80v2.20M311.82 658.80v2.20M312.94 658.80v2.20M313.85 658.80v2.20M314.62 658.80v2.20M315.29 658.80v2.20M315.87 658.80v2.20M316.40 658.80v2.20M319.86 658.80v2.20M321.89 658.80v2.20M323.32 658.80v2.20M324.44 658.80v2.20M325.35 658.80v2.20M326.12 658.80v2.20M326.79 658.80v2.20M327.37 658.80v2.20M327.90 658.80v2.20M331.36 658.80v2.20M333.39 658.80v2.20M334.82 658.80v2.20M335.94 658.80v2.20M336.85 658.80v2.20M337.62 658.80v2.20M338.29 658.80v2.20M338.87 658.80v2.20M339.40 658.80v2.20M342.86 658.80v2.20M344.89 658.80v2.20M346.32 658.80v2.20M347.44 658.80v2.20M348.35 658.80v2.20M349.12 658.80v2.20M349.79 658.80v2.20" stroke="#000" stroke-width="1.0" fill="none"/>
<line x1="306.5" y1="588.9" x2="306.5" y2="658.8" stroke="#000" stroke-width="1.2" />
<line x1="281.9" y1="631.5" x2="350.4" y2="631.5" stroke="#000" stroke-width="1.2" />
<text font-size="12" stroke="#111" stroke-width="0.3" text-anchor="end" transform="translate(348.6 601.3) scale(1.06 1)" fill="#111" >13.1%</text>
<path d="M298.7 643.2h1.1v1.1h-1.1zM300.1 642.7h1.1v1.1h-1.1zM296.5 647.2h1.1v1.1h-1.1zM302.3 646.8h1.1v1.1h-1.1zM298.3 644.1h1.1v1.1h-1.1zM306.2 627.9h1.1v1.1h-1.1zM292.0 632.5h1.1v1.1h-1.1zM303.2 640.7h1.1v1.1h-1.1zM302.2 638.7h1.1v1.1h-1.1zM294.2 641.9h1.1v1.1h-1.1zM301.3 635.0h1.1v1.1h-1.1zM302.4 655.0h1.1v1.1h-1.1zM299.8 630.7h1.1v1.1h-1.1zM296.3 629.2h1.1v1.1h-1.1zM298.7 638.0h1.1v1.1h-1.1zM303.5 641.7h1.1v1.1h-1.1zM305.1 636.0h1.1v1.1h-1.1zM304.6 641.5h1.1v1.1h-1.1zM299.9 648.1h1.1v1.1h-1.1zM295.5 642.8h1.1v1.1h-1.1zM303.3 641.4h1.1v1.1h-1.1zM307.2 640.2h1.1v1.1h-1.1zM293.7 644.6h1.1v1.1h-1.1zM306.5 644.2h1.1v1.1h-1.1zM295.1 653.6h1.1v1.1h-1.1zM301.8 643.3h1.1v1.1h-1.1zM299.8 644.4h1.1v1.1h-1.1zM297.0 636.1h1.1v1.1h-1.1zM296.4 640.7h1.1v1.1h-1.1zM305.2 641.0h1.1v1.1h-1.1zM312.5 632.9h1.1v1.1h-1.1zM309.5 622.4h1.1v1.1h-1.1zM307.1 611.4h1.1v1.1h-1.1zM306.9 622.1h1.1v1.1h-1.1zM308.3 634.3h1.1v1.1h-1.1zM307.7 616.0h1.1v1.1h-1.1zM305.1 633.7h1.1v1.1h-1.1zM312.1 631.6h1.1v1.1h-1.1zM309.1 610.5h1.1v1.1h-1.1zM310.9 619.1h1.1v1.1h-1.1zM306.4 620.0h1.1v1.1h-1.1zM305.1 631.9h1.1v1.1h-1.1zM305.6 632.7h1.1v1.1h-1.1zM307.3 629.5h1.1v1.1h-1.1zM307.8 626.0h1.1v1.1h-1.1zM306.9 610.6h1.1v1.1h-1.1zM306.7 632.8h1.1v1.1h-1.1zM305.6 634.8h1.1v1.1h-1.1zM309.6 613.8h1.1v1.1h-1.1zM306.9 623.7h1.1v1.1h-1.1zM306.8 628.5h1.1v1.1h-1.1zM309.8 634.7h1.1v1.1h-1.1zM311.0 630.8h1.1v1.1h-1.1zM309.0 627.9h1.1v1.1h-1.1zM301.6 623.3h1.1v1.1h-1.1zM309.5 625.5h1.1v1.1h-1.1zM303.5 626.6h1.1v1.1h-1.1zM308.5 617.4h1.1v1.1h-1.1zM309.5 631.7h1.1v1.1h-1.1zM307.9 635.3h1.1v1.1h-1.1zM305.5 610.2h1.1v1.1h-1.1zM309.6 610.7h1.1v1.1h-1.1zM308.3 634.2h1.1v1.1h-1.1zM305.9 631.6h1.1v1.1h-1.1zM309.4 622.9h1.1v1.1h-1.1zM305.7 621.0h1.1v1.1h-1.1zM305.5 634.3h1.1v1.1h-1.1zM307.0 621.5h1.1v1.1h-1.1zM310.5 612.4h1.1v1.1h-1.1zM309.3 630.1h1.1v1.1h-1.1zM309.9 620.2h1.1v1.1h-1.1zM312.9 612.3h1.1v1.1h-1.1zM309.6 632.4h1.1v1.1h-1.1zM311.0 612.5h1.1v1.1h-1.1zM308.5 615.6h1.1v1.1h-1.1zM307.8 638.5h1.1v1.1h-1.1zM308.1 623.4h1.1v1.1h-1.1zM307.4 628.0h1.1v1.1h-1.1zM304.7 647.4h1.1v1.1h-1.1zM302.7 610.6h1.1v1.1h-1.1zM310.6 620.4h1.1v1.1h-1.1zM314.4 606.4h1.1v1.1h-1.1zM313.4 621.0h1.1v1.1h-1.1zM318.9 618.1h1.1v1.1h-1.1zM308.0 618.9h1.1v1.1h-1.1z" fill="#111" fill-opacity="0.6"/>
<path d="M301.3 641.6h1.1v1.1h-1.1zM298.2 643.2h1.1v1.1h-1.1zM299.2 641.9h1.1v1.1h-1.1zM300.3 639.7h1.1v1.1h-1.1zM300.0 646.8h1.1v1.1h-1.1zM294.6 645.9h1.1v1.1h-1.1zM300.5 647.2h1.1v1.1h-1.1zM296.8 645.6h1.1v1.1h-1.1zM302.1 633.0h1.1v1.1h-1.1zM299.1 639.6h1.1v1.1h-1.1zM305.5 636.9h1.1v1.1h-1.1zM297.0 643.1h1.1v1.1h-1.1zM299.0 649.8h1.1v1.1h-1.1zM295.4 644.7h1.1v1.1h-1.1zM300.6 639.7h1.1v1.1h-1.1zM297.8 638.8h1.1v1.1h-1.1zM299.4 646.6h1.1v1.1h-1.1zM303.4 635.6h1.1v1.1h-1.1zM302.3 643.3h1.1v1.1h-1.1zM298.6 637.1h1.1v1.1h-1.1zM305.7 633.7h1.1v1.1h-1.1zM301.6 641.8h1.1v1.1h-1.1zM302.3 647.9h1.1v1.1h-1.1zM303.7 632.0h1.1v1.1h-1.1zM300.6 639.9h1.1v1.1h-1.1zM298.2 640.6h1.1v1.1h-1.1zM303.3 641.7h1.1v1.1h-1.1zM302.9 643.4h1.1v1.1h-1.1zM297.6 646.8h1.1v1.1h-1.1zM299.3 642.8h1.1v1.1h-1.1zM299.0 636.3h1.1v1.1h-1.1zM299.4 637.3h1.1v1.1h-1.1zM294.0 639.8h1.1v1.1h-1.1zM299.1 650.2h1.1v1.1h-1.1zM302.8 638.3h1.1v1.1h-1.1zM303.2 642.0h1.1v1.1h-1.1zM303.1 640.6h1.1v1.1h-1.1zM303.9 648.1h1.1v1.1h-1.1zM297.4 642.4h1.1v1.1h-1.1zM302.4 644.9h1.1v1.1h-1.1zM300.5 641.1h1.1v1.1h-1.1zM305.1 636.6h1.1v1.1h-1.1zM299.2 638.9h1.1v1.1h-1.1zM300.6 637.9h1.1v1.1h-1.1zM300.5 640.3h1.1v1.1h-1.1zM297.7 648.5h1.1v1.1h-1.1zM296.3 641.6h1.1v1.1h-1.1zM303.6 647.4h1.1v1.1h-1.1zM305.5 643.4h1.1v1.1h-1.1zM300.3 638.9h1.1v1.1h-1.1zM304.1 645.4h1.1v1.1h-1.1zM301.2 645.6h1.1v1.1h-1.1zM298.0 642.8h1.1v1.1h-1.1zM299.0 643.0h1.1v1.1h-1.1zM300.8 634.5h1.1v1.1h-1.1zM294.5 642.4h1.1v1.1h-1.1zM295.0 642.6h1.1v1.1h-1.1zM292.6 643.2h1.1v1.1h-1.1zM302.1 647.3h1.1v1.1h-1.1zM297.1 639.7h1.1v1.1h-1.1zM303.6 644.5h1.1v1.1h-1.1zM296.9 641.7h1.1v1.1h-1.1zM297.1 639.7h1.1v1.1h-1.1zM300.7 642.9h1.1v1.1h-1.1zM298.4 641.1h1.1v1.1h-1.1zM306.8 635.1h1.1v1.1h-1.1zM305.0 639.8h1.1v1.1h-1.1zM301.6 640.5h1.1v1.1h-1.1zM298.6 644.0h1.1v1.1h-1.1zM300.4 639.3h1.1v1.1h-1.1zM297.7 645.8h1.1v1.1h-1.1zM294.8 642.3h1.1v1.1h-1.1zM300.4 647.0h1.1v1.1h-1.1zM298.1 651.3h1.1v1.1h-1.1zM300.3 636.1h1.1v1.1h-1.1zM301.9 639.2h1.1v1.1h-1.1zM296.0 642.8h1.1v1.1h-1.1zM300.5 644.1h1.1v1.1h-1.1zM300.2 641.7h1.1v1.1h-1.1zM303.3 637.2h1.1v1.1h-1.1zM301.8 642.8h1.1v1.1h-1.1zM294.3 643.5h1.1v1.1h-1.1zM302.0 644.8h1.1v1.1h-1.1zM301.8 640.3h1.1v1.1h-1.1zM299.9 639.4h1.1v1.1h-1.1zM301.2 635.3h1.1v1.1h-1.1zM301.4 642.8h1.1v1.1h-1.1zM302.4 646.9h1.1v1.1h-1.1zM303.0 635.8h1.1v1.1h-1.1zM304.3 645.2h1.1v1.1h-1.1zM300.0 644.2h1.1v1.1h-1.1zM303.9 642.2h1.1v1.1h-1.1zM302.7 648.1h1.1v1.1h-1.1zM302.3 637.7h1.1v1.1h-1.1zM302.8 648.2h1.1v1.1h-1.1zM295.7 651.1h1.1v1.1h-1.1zM304.4 635.2h1.1v1.1h-1.1zM298.7 642.8h1.1v1.1h-1.1zM301.1 647.6h1.1v1.1h-1.1zM299.2 645.7h1.1v1.1h-1.1zM300.2 638.1h1.1v1.1h-1.1zM303.9 643.0h1.1v1.1h-1.1zM299.1 648.1h1.1v1.1h-1.1zM301.8 635.1h1.1v1.1h-1.1zM301.0 643.5h1.1v1.1h-1.1zM298.5 648.2h1.1v1.1h-1.1zM300.3 639.5h1.1v1.1h-1.1zM298.0 633.5h1.1v1.1h-1.1zM301.8 640.1h1.1v1.1h-1.1zM298.1 639.1h1.1v1.1h-1.1zM303.0 634.9h1.1v1.1h-1.1zM301.1 640.2h1.1v1.1h-1.1zM299.7 643.1h1.1v1.1h-1.1zM300.4 643.0h1.1v1.1h-1.1zM304.1 636.0h1.1v1.1h-1.1zM299.3 644.3h1.1v1.1h-1.1zM299.8 640.9h1.1v1.1h-1.1zM302.3 639.2h1.1v1.1h-1.1zM299.7 647.9h1.1v1.1h-1.1zM299.0 646.3h1.1v1.1h-1.1zM298.6 643.1h1.1v1.1h-1.1zM300.5 639.0h1.1v1.1h-1.1zM302.9 635.1h1.1v1.1h-1.1zM300.6 637.7h1.1v1.1h-1.1zM301.0 633.1h1.1v1.1h-1.1zM295.6 643.9h1.1v1.1h-1.1zM304.9 635.9h1.1v1.1h-1.1zM295.7 641.9h1.1v1.1h-1.1zM299.7 644.8h1.1v1.1h-1.1zM303.9 639.0h1.1v1.1h-1.1zM301.6 638.7h1.1v1.1h-1.1zM293.1 642.0h1.1v1.1h-1.1zM299.6 635.7h1.1v1.1h-1.1zM303.6 641.8h1.1v1.1h-1.1zM297.8 648.5h1.1v1.1h-1.1zM298.4 639.3h1.1v1.1h-1.1zM302.6 647.4h1.1v1.1h-1.1zM298.9 644.0h1.1v1.1h-1.1zM301.3 636.8h1.1v1.1h-1.1zM296.4 635.8h1.1v1.1h-1.1zM305.9 641.0h1.1v1.1h-1.1zM292.9 644.9h1.1v1.1h-1.1zM304.7 641.0h1.1v1.1h-1.1zM299.3 633.6h1.1v1.1h-1.1zM292.4 646.1h1.1v1.1h-1.1zM307.2 636.3h1.1v1.1h-1.1zM302.1 640.5h1.1v1.1h-1.1zM300.6 645.3h1.1v1.1h-1.1zM300.1 644.0h1.1v1.1h-1.1zM298.1 645.7h1.1v1.1h-1.1zM302.3 640.4h1.1v1.1h-1.1zM304.9 649.3h1.1v1.1h-1.1zM302.7 635.7h1.1v1.1h-1.1zM298.9 636.9h1.1v1.1h-1.1zM306.1 640.0h1.1v1.1h-1.1zM297.4 647.3h1.1v1.1h-1.1zM300.7 644.6h1.1v1.1h-1.1zM297.7 639.7h1.1v1.1h-1.1zM293.8 640.3h1.1v1.1h-1.1zM299.7 637.2h1.1v1.1h-1.1zM299.9 639.2h1.1v1.1h-1.1zM304.1 641.1h1.1v1.1h-1.1zM297.6 642.8h1.1v1.1h-1.1zM300.4 642.6h1.1v1.1h-1.1zM298.9 637.2h1.1v1.1h-1.1zM304.0 642.2h1.1v1.1h-1.1zM300.7 642.2h1.1v1.1h-1.1zM302.3 640.5h1.1v1.1h-1.1zM302.6 638.6h1.1v1.1h-1.1zM298.8 649.9h1.1v1.1h-1.1zM299.7 633.7h1.1v1.1h-1.1zM300.5 639.5h1.1v1.1h-1.1zM304.0 642.7h1.1v1.1h-1.1zM300.4 638.8h1.1v1.1h-1.1zM303.8 646.3h1.1v1.1h-1.1zM299.4 645.1h1.1v1.1h-1.1zM297.6 639.1h1.1v1.1h-1.1zM300.3 643.5h1.1v1.1h-1.1zM300.4 640.1h1.1v1.1h-1.1zM300.4 641.3h1.1v1.1h-1.1zM298.7 647.0h1.1v1.1h-1.1zM302.0 637.2h1.1v1.1h-1.1zM303.3 639.4h1.1v1.1h-1.1zM298.7 633.7h1.1v1.1h-1.1zM298.6 638.9h1.1v1.1h-1.1zM299.3 634.7h1.1v1.1h-1.1zM297.3 644.2h1.1v1.1h-1.1zM304.0 638.9h1.1v1.1h-1.1zM302.0 630.9h1.1v1.1h-1.1zM298.8 645.7h1.1v1.1h-1.1zM299.4 642.7h1.1v1.1h-1.1zM301.6 639.0h1.1v1.1h-1.1zM295.8 640.8h1.1v1.1h-1.1zM302.3 638.9h1.1v1.1h-1.1zM298.4 647.7h1.1v1.1h-1.1zM300.9 638.5h1.1v1.1h-1.1zM299.4 644.7h1.1v1.1h-1.1zM299.9 645.3h1.1v1.1h-1.1zM302.2 647.6h1.1v1.1h-1.1zM292.5 650.9h1.1v1.1h-1.1zM308.0 634.6h1.1v1.1h-1.1zM303.9 641.8h1.1v1.1h-1.1zM297.7 639.7h1.1v1.1h-1.1zM301.2 636.8h1.1v1.1h-1.1zM302.1 639.1h1.1v1.1h-1.1zM299.5 646.5h1.1v1.1h-1.1zM303.6 647.3h1.1v1.1h-1.1zM301.7 640.1h1.1v1.1h-1.1zM303.8 637.5h1.1v1.1h-1.1zM298.5 640.9h1.1v1.1h-1.1zM297.3 647.0h1.1v1.1h-1.1zM299.4 644.7h1.1v1.1h-1.1zM299.9 647.7h1.1v1.1h-1.1zM298.7 635.8h1.1v1.1h-1.1zM300.4 645.5h1.1v1.1h-1.1zM301.0 638.0h1.1v1.1h-1.1zM298.8 639.3h1.1v1.1h-1.1zM300.8 635.8h1.1v1.1h-1.1zM300.2 642.6h1.1v1.1h-1.1zM300.2 643.5h1.1v1.1h-1.1zM301.7 644.2h1.1v1.1h-1.1zM299.2 639.2h1.1v1.1h-1.1zM305.0 643.0h1.1v1.1h-1.1zM298.1 647.6h1.1v1.1h-1.1zM301.4 634.6h1.1v1.1h-1.1zM299.2 646.4h1.1v1.1h-1.1zM303.7 631.7h1.1v1.1h-1.1zM299.6 641.4h1.1v1.1h-1.1zM302.4 638.6h1.1v1.1h-1.1zM302.2 637.5h1.1v1.1h-1.1zM301.7 642.3h1.1v1.1h-1.1zM305.3 645.9h1.1v1.1h-1.1zM300.7 640.7h1.1v1.1h-1.1zM303.2 639.2h1.1v1.1h-1.1zM302.6 639.2h1.1v1.1h-1.1zM301.2 639.8h1.1v1.1h-1.1zM300.1 635.6h1.1v1.1h-1.1zM296.7 639.2h1.1v1.1h-1.1zM300.0 642.5h1.1v1.1h-1.1zM303.6 646.2h1.1v1.1h-1.1zM297.1 644.3h1.1v1.1h-1.1zM299.6 643.1h1.1v1.1h-1.1zM303.8 640.3h1.1v1.1h-1.1zM304.4 646.4h1.1v1.1h-1.1zM302.6 636.3h1.1v1.1h-1.1zM299.9 642.0h1.1v1.1h-1.1zM295.3 643.1h1.1v1.1h-1.1zM298.5 642.7h1.1v1.1h-1.1zM300.9 637.4h1.1v1.1h-1.1zM298.2 643.3h1.1v1.1h-1.1zM301.5 645.0h1.1v1.1h-1.1zM300.4 641.7h1.1v1.1h-1.1zM300.2 642.6h1.1v1.1h-1.1zM303.1 640.0h1.1v1.1h-1.1zM303.8 638.0h1.1v1.1h-1.1zM305.3 635.9h1.1v1.1h-1.1zM302.4 638.5h1.1v1.1h-1.1zM301.1 643.4h1.1v1.1h-1.1zM296.8 633.2h1.1v1.1h-1.1zM299.8 639.4h1.1v1.1h-1.1zM303.9 638.6h1.1v1.1h-1.1zM305.6 643.9h1.1v1.1h-1.1zM301.2 643.6h1.1v1.1h-1.1zM303.2 637.0h1.1v1.1h-1.1zM303.0 642.9h1.1v1.1h-1.1zM299.2 647.2h1.1v1.1h-1.1zM304.4 648.4h1.1v1.1h-1.1zM305.8 636.4h1.1v1.1h-1.1zM301.5 637.1h1.1v1.1h-1.1zM298.7 644.7h1.1v1.1h-1.1zM299.7 645.3h1.1v1.1h-1.1zM302.6 643.3h1.1v1.1h-1.1zM301.2 643.4h1.1v1.1h-1.1zM300.4 646.0h1.1v1.1h-1.1zM299.3 644.5h1.1v1.1h-1.1zM299.6 641.5h1.1v1.1h-1.1zM303.1 642.0h1.1v1.1h-1.1zM293.4 644.6h1.1v1.1h-1.1zM308.0 638.1h1.1v1.1h-1.1zM303.2 645.8h1.1v1.1h-1.1zM301.1 638.2h1.1v1.1h-1.1zM304.9 648.5h1.1v1.1h-1.1zM297.8 639.7h1.1v1.1h-1.1zM302.0 639.7h1.1v1.1h-1.1zM305.5 646.0h1.1v1.1h-1.1zM301.1 639.8h1.1v1.1h-1.1zM306.3 641.8h1.1v1.1h-1.1zM303.3 631.5h1.1v1.1h-1.1zM303.2 645.1h1.1v1.1h-1.1zM300.9 634.2h1.1v1.1h-1.1zM301.2 646.6h1.1v1.1h-1.1zM301.7 638.5h1.1v1.1h-1.1zM299.9 641.4h1.1v1.1h-1.1zM302.1 641.1h1.1v1.1h-1.1zM305.3 642.8h1.1v1.1h-1.1zM300.0 643.7h1.1v1.1h-1.1zM299.4 642.4h1.1v1.1h-1.1zM298.1 645.6h1.1v1.1h-1.1zM296.2 640.2h1.1v1.1h-1.1zM304.0 643.0h1.1v1.1h-1.1zM300.6 634.9h1.1v1.1h-1.1zM301.3 640.0h1.1v1.1h-1.1zM299.9 636.5h1.1v1.1h-1.1zM301.9 646.3h1.1v1.1h-1.1zM292.4 642.6h1.1v1.1h-1.1zM300.5 642.5h1.1v1.1h-1.1zM299.9 640.5h1.1v1.1h-1.1zM303.4 638.9h1.1v1.1h-1.1zM307.0 640.0h1.1v1.1h-1.1zM296.1 638.2h1.1v1.1h-1.1zM299.6 640.3h1.1v1.1h-1.1zM299.2 647.7h1.1v1.1h-1.1zM299.6 644.9h1.1v1.1h-1.1zM296.8 643.4h1.1v1.1h-1.1zM300.4 643.4h1.1v1.1h-1.1zM297.4 643.2h1.1v1.1h-1.1zM304.7 635.8h1.1v1.1h-1.1zM299.1 652.4h1.1v1.1h-1.1zM304.4 640.5h1.1v1.1h-1.1zM301.7 637.4h1.1v1.1h-1.1zM299.7 647.5h1.1v1.1h-1.1zM294.2 644.9h1.1v1.1h-1.1zM297.6 644.4h1.1v1.1h-1.1zM296.9 645.6h1.1v1.1h-1.1zM300.2 644.0h1.1v1.1h-1.1zM301.1 647.3h1.1v1.1h-1.1zM299.2 637.8h1.1v1.1h-1.1zM299.0 638.9h1.1v1.1h-1.1zM298.3 642.4h1.1v1.1h-1.1zM296.8 637.6h1.1v1.1h-1.1zM303.2 633.8h1.1v1.1h-1.1zM300.4 641.0h1.1v1.1h-1.1zM296.4 644.6h1.1v1.1h-1.1zM299.9 639.5h1.1v1.1h-1.1zM306.4 640.6h1.1v1.1h-1.1zM302.8 641.2h1.1v1.1h-1.1zM298.2 642.2h1.1v1.1h-1.1zM305.9 642.0h1.1v1.1h-1.1zM302.5 638.7h1.1v1.1h-1.1zM299.9 644.0h1.1v1.1h-1.1zM303.2 635.4h1.1v1.1h-1.1zM298.1 645.5h1.1v1.1h-1.1zM302.7 640.0h1.1v1.1h-1.1zM299.4 649.4h1.1v1.1h-1.1zM294.2 641.4h1.1v1.1h-1.1zM298.3 647.9h1.1v1.1h-1.1zM300.1 646.0h1.1v1.1h-1.1zM300.9 640.3h1.1v1.1h-1.1zM301.6 643.4h1.1v1.1h-1.1zM294.0 645.7h1.1v1.1h-1.1zM304.3 640.9h1.1v1.1h-1.1zM302.8 644.5h1.1v1.1h-1.1zM299.9 637.9h1.1v1.1h-1.1zM304.8 641.0h1.1v1.1h-1.1zM301.2 644.7h1.1v1.1h-1.1zM299.4 639.0h1.1v1.1h-1.1zM300.7 636.8h1.1v1.1h-1.1zM302.4 637.8h1.1v1.1h-1.1zM299.6 643.8h1.1v1.1h-1.1zM305.6 646.6h1.1v1.1h-1.1zM298.2 644.5h1.1v1.1h-1.1zM304.0 637.1h1.1v1.1h-1.1zM298.9 638.1h1.1v1.1h-1.1zM299.3 645.4h1.1v1.1h-1.1zM303.2 641.2h1.1v1.1h-1.1zM302.7 638.1h1.1v1.1h-1.1zM297.5 637.4h1.1v1.1h-1.1zM297.2 646.9h1.1v1.1h-1.1zM298.9 641.3h1.1v1.1h-1.1zM300.5 643.3h1.1v1.1h-1.1zM299.9 643.8h1.1v1.1h-1.1zM303.1 637.5h1.1v1.1h-1.1zM300.8 643.0h1.1v1.1h-1.1zM301.8 639.6h1.1v1.1h-1.1zM298.3 637.1h1.1v1.1h-1.1zM299.5 636.7h1.1v1.1h-1.1zM298.0 638.0h1.1v1.1h-1.1zM304.0 637.8h1.1v1.1h-1.1zM301.7 644.4h1.1v1.1h-1.1zM303.3 643.8h1.1v1.1h-1.1zM299.5 641.9h1.1v1.1h-1.1zM299.5 645.1h1.1v1.1h-1.1zM303.1 639.8h1.1v1.1h-1.1zM299.1 643.8h1.1v1.1h-1.1zM297.9 645.3h1.1v1.1h-1.1zM301.6 642.2h1.1v1.1h-1.1zM300.3 637.9h1.1v1.1h-1.1zM303.4 647.2h1.1v1.1h-1.1zM299.9 641.2h1.1v1.1h-1.1zM300.8 640.8h1.1v1.1h-1.1zM302.9 639.1h1.1v1.1h-1.1zM298.6 645.9h1.1v1.1h-1.1zM300.9 638.6h1.1v1.1h-1.1zM299.0 637.6h1.1v1.1h-1.1zM303.2 635.8h1.1v1.1h-1.1zM301.8 648.3h1.1v1.1h-1.1zM300.2 645.6h1.1v1.1h-1.1zM301.9 641.0h1.1v1.1h-1.1zM296.8 637.6h1.1v1.1h-1.1zM298.1 642.2h1.1v1.1h-1.1zM300.5 643.8h1.1v1.1h-1.1zM303.8 630.0h1.1v1.1h-1.1zM306.5 647.0h1.1v1.1h-1.1zM301.4 638.2h1.1v1.1h-1.1zM305.5 634.4h1.1v1.1h-1.1zM298.5 636.7h1.1v1.1h-1.1zM302.2 634.7h1.1v1.1h-1.1zM302.6 640.1h1.1v1.1h-1.1zM306.1 635.5h1.1v1.1h-1.1zM299.6 642.1h1.1v1.1h-1.1zM299.7 644.5h1.1v1.1h-1.1zM301.9 640.0h1.1v1.1h-1.1zM298.9 641.1h1.1v1.1h-1.1zM301.1 644.2h1.1v1.1h-1.1zM303.5 638.0h1.1v1.1h-1.1zM302.2 643.3h1.1v1.1h-1.1zM300.4 636.1h1.1v1.1h-1.1zM301.8 646.1h1.1v1.1h-1.1zM303.9 634.4h1.1v1.1h-1.1zM301.3 639.9h1.1v1.1h-1.1zM298.8 635.8h1.1v1.1h-1.1zM300.1 640.5h1.1v1.1h-1.1zM297.7 649.8h1.1v1.1h-1.1zM301.0 641.3h1.1v1.1h-1.1zM299.9 642.0h1.1v1.1h-1.1zM297.7 638.5h1.1v1.1h-1.1zM301.0 646.1h1.1v1.1h-1.1zM303.6 639.7h1.1v1.1h-1.1zM302.3 647.3h1.1v1.1h-1.1zM302.4 637.8h1.1v1.1h-1.1zM301.7 646.1h1.1v1.1h-1.1zM301.5 636.4h1.1v1.1h-1.1zM302.5 639.9h1.1v1.1h-1.1zM303.4 638.4h1.1v1.1h-1.1zM298.4 637.8h1.1v1.1h-1.1zM296.6 642.1h1.1v1.1h-1.1zM303.7 637.9h1.1v1.1h-1.1zM305.8 640.8h1.1v1.1h-1.1zM303.6 645.8h1.1v1.1h-1.1zM295.5 643.6h1.1v1.1h-1.1zM299.1 642.8h1.1v1.1h-1.1zM300.4 642.4h1.1v1.1h-1.1zM302.8 640.1h1.1v1.1h-1.1zM297.4 643.3h1.1v1.1h-1.1zM304.6 639.6h1.1v1.1h-1.1zM303.0 638.1h1.1v1.1h-1.1zM300.4 648.9h1.1v1.1h-1.1zM302.7 644.6h1.1v1.1h-1.1zM301.3 635.8h1.1v1.1h-1.1zM298.9 644.9h1.1v1.1h-1.1zM302.6 639.9h1.1v1.1h-1.1zM300.5 645.7h1.1v1.1h-1.1zM298.5 644.6h1.1v1.1h-1.1zM301.7 637.1h1.1v1.1h-1.1zM296.1 649.3h1.1v1.1h-1.1zM297.9 635.4h1.1v1.1h-1.1zM302.1 637.0h1.1v1.1h-1.1zM298.0 646.3h1.1v1.1h-1.1zM304.7 639.9h1.1v1.1h-1.1zM299.0 646.2h1.1v1.1h-1.1zM303.3 640.5h1.1v1.1h-1.1zM307.8 632.8h1.1v1.1h-1.1zM298.0 638.9h1.1v1.1h-1.1zM297.9 641.8h1.1v1.1h-1.1zM299.4 642.3h1.1v1.1h-1.1zM301.6 642.4h1.1v1.1h-1.1zM302.9 643.1h1.1v1.1h-1.1zM299.1 636.1h1.1v1.1h-1.1zM297.1 646.6h1.1v1.1h-1.1zM298.7 650.4h1.1v1.1h-1.1zM301.1 641.4h1.1v1.1h-1.1zM304.4 635.0h1.1v1.1h-1.1zM302.0 637.5h1.1v1.1h-1.1zM294.8 642.4h1.1v1.1h-1.1zM300.3 643.0h1.1v1.1h-1.1zM297.6 645.0h1.1v1.1h-1.1zM305.1 642.2h1.1v1.1h-1.1zM299.3 643.0h1.1v1.1h-1.1zM299.5 644.5h1.1v1.1h-1.1zM300.2 646.3h1.1v1.1h-1.1zM302.5 645.9h1.1v1.1h-1.1zM296.5 644.9h1.1v1.1h-1.1zM302.2 640.2h1.1v1.1h-1.1zM299.7 646.3h1.1v1.1h-1.1zM303.8 642.5h1.1v1.1h-1.1zM294.8 644.1h1.1v1.1h-1.1zM302.2 641.3h1.1v1.1h-1.1zM300.4 638.3h1.1v1.1h-1.1zM293.1 647.4h1.1v1.1h-1.1zM302.7 632.1h1.1v1.1h-1.1zM301.1 642.7h1.1v1.1h-1.1zM299.0 639.8h1.1v1.1h-1.1zM300.1 643.0h1.1v1.1h-1.1zM306.7 638.4h1.1v1.1h-1.1zM303.5 637.8h1.1v1.1h-1.1zM297.5 645.4h1.1v1.1h-1.1zM299.2 639.8h1.1v1.1h-1.1zM306.3 645.4h1.1v1.1h-1.1zM299.6 642.9h1.1v1.1h-1.1zM299.8 649.3h1.1v1.1h-1.1zM300.3 641.7h1.1v1.1h-1.1zM296.0 639.9h1.1v1.1h-1.1zM304.2 639.2h1.1v1.1h-1.1zM299.3 648.9h1.1v1.1h-1.1zM302.8 640.9h1.1v1.1h-1.1zM303.0 642.8h1.1v1.1h-1.1zM300.1 641.0h1.1v1.1h-1.1zM299.4 637.7h1.1v1.1h-1.1zM299.3 643.7h1.1v1.1h-1.1zM300.8 637.7h1.1v1.1h-1.1zM297.4 646.2h1.1v1.1h-1.1zM300.7 641.9h1.1v1.1h-1.1zM298.3 641.0h1.1v1.1h-1.1zM302.4 642.1h1.1v1.1h-1.1zM304.9 637.9h1.1v1.1h-1.1zM300.6 646.7h1.1v1.1h-1.1zM300.6 645.8h1.1v1.1h-1.1zM300.8 640.3h1.1v1.1h-1.1zM298.6 650.9h1.1v1.1h-1.1zM299.7 642.0h1.1v1.1h-1.1zM300.5 640.2h1.1v1.1h-1.1zM301.5 643.6h1.1v1.1h-1.1zM301.6 645.1h1.1v1.1h-1.1zM299.9 643.8h1.1v1.1h-1.1zM303.7 641.5h1.1v1.1h-1.1zM300.8 643.4h1.1v1.1h-1.1zM297.4 642.6h1.1v1.1h-1.1zM304.9 645.0h1.1v1.1h-1.1zM302.0 643.6h1.1v1.1h-1.1zM303.5 641.4h1.1v1.1h-1.1zM302.1 642.9h1.1v1.1h-1.1zM305.2 644.3h1.1v1.1h-1.1zM300.8 641.3h1.1v1.1h-1.1zM300.1 638.4h1.1v1.1h-1.1zM305.8 640.7h1.1v1.1h-1.1zM301.0 645.6h1.1v1.1h-1.1zM300.4 644.1h1.1v1.1h-1.1zM296.6 641.9h1.1v1.1h-1.1zM301.6 639.0h1.1v1.1h-1.1zM300.2 639.4h1.1v1.1h-1.1zM299.7 643.4h1.1v1.1h-1.1zM303.2 647.5h1.1v1.1h-1.1zM304.4 639.6h1.1v1.1h-1.1zM300.6 640.4h1.1v1.1h-1.1zM307.0 642.8h1.1v1.1h-1.1zM302.6 637.9h1.1v1.1h-1.1zM301.3 645.9h1.1v1.1h-1.1zM300.9 650.4h1.1v1.1h-1.1zM299.9 644.0h1.1v1.1h-1.1zM304.7 639.9h1.1v1.1h-1.1zM298.8 642.6h1.1v1.1h-1.1zM297.3 646.8h1.1v1.1h-1.1zM302.0 640.7h1.1v1.1h-1.1zM300.6 644.1h1.1v1.1h-1.1zM298.1 642.3h1.1v1.1h-1.1zM303.1 644.1h1.1v1.1h-1.1zM300.9 637.0h1.1v1.1h-1.1zM298.7 641.2h1.1v1.1h-1.1zM301.1 640.4h1.1v1.1h-1.1zM303.3 643.1h1.1v1.1h-1.1zM302.4 640.3h1.1v1.1h-1.1zM302.5 641.2h1.1v1.1h-1.1zM300.1 648.1h1.1v1.1h-1.1zM303.6 644.6h1.1v1.1h-1.1zM299.2 641.9h1.1v1.1h-1.1zM302.3 644.7h1.1v1.1h-1.1zM301.0 642.2h1.1v1.1h-1.1zM303.0 639.0h1.1v1.1h-1.1zM303.3 643.5h1.1v1.1h-1.1zM302.3 640.8h1.1v1.1h-1.1zM295.8 639.8h1.1v1.1h-1.1zM300.8 639.1h1.1v1.1h-1.1zM300.2 639.9h1.1v1.1h-1.1zM298.3 641.6h1.1v1.1h-1.1zM299.8 639.5h1.1v1.1h-1.1zM302.3 638.0h1.1v1.1h-1.1zM299.5 640.9h1.1v1.1h-1.1zM300.9 645.0h1.1v1.1h-1.1zM300.5 643.2h1.1v1.1h-1.1zM298.8 646.6h1.1v1.1h-1.1zM298.5 640.7h1.1v1.1h-1.1zM297.7 645.1h1.1v1.1h-1.1zM299.8 641.7h1.1v1.1h-1.1zM298.6 645.9h1.1v1.1h-1.1zM298.6 641.0h1.1v1.1h-1.1zM305.9 643.0h1.1v1.1h-1.1zM297.6 647.8h1.1v1.1h-1.1zM300.9 643.5h1.1v1.1h-1.1zM301.7 638.4h1.1v1.1h-1.1zM297.4 644.0h1.1v1.1h-1.1zM294.4 651.8h1.1v1.1h-1.1zM299.3 637.5h1.1v1.1h-1.1zM302.0 641.1h1.1v1.1h-1.1zM297.2 643.1h1.1v1.1h-1.1zM304.1 636.0h1.1v1.1h-1.1zM297.8 640.7h1.1v1.1h-1.1zM297.9 641.0h1.1v1.1h-1.1zM299.3 647.4h1.1v1.1h-1.1zM301.1 642.8h1.1v1.1h-1.1zM300.4 642.0h1.1v1.1h-1.1zM298.1 641.5h1.1v1.1h-1.1zM301.6 643.5h1.1v1.1h-1.1zM298.0 635.9h1.1v1.1h-1.1zM300.0 638.3h1.1v1.1h-1.1zM300.1 639.0h1.1v1.1h-1.1zM300.6 643.1h1.1v1.1h-1.1zM300.6 642.8h1.1v1.1h-1.1zM303.1 640.4h1.1v1.1h-1.1zM301.7 645.2h1.1v1.1h-1.1zM298.1 641.2h1.1v1.1h-1.1zM302.4 646.5h1.1v1.1h-1.1zM299.7 638.8h1.1v1.1h-1.1zM299.5 639.8h1.1v1.1h-1.1zM305.4 642.2h1.1v1.1h-1.1zM303.3 643.6h1.1v1.1h-1.1zM299.7 644.7h1.1v1.1h-1.1zM303.8 645.0h1.1v1.1h-1.1zM299.8 641.0h1.1v1.1h-1.1zM299.1 646.0h1.1v1.1h-1.1zM303.4 641.0h1.1v1.1h-1.1zM302.0 644.7h1.1v1.1h-1.1zM300.4 642.1h1.1v1.1h-1.1zM305.1 642.7h1.1v1.1h-1.1zM300.5 643.4h1.1v1.1h-1.1zM299.8 642.5h1.1v1.1h-1.1zM300.4 641.7h1.1v1.1h-1.1zM300.1 647.9h1.1v1.1h-1.1zM299.6 647.5h1.1v1.1h-1.1zM303.9 643.0h1.1v1.1h-1.1zM302.6 639.7h1.1v1.1h-1.1zM300.2 645.7h1.1v1.1h-1.1zM303.5 637.1h1.1v1.1h-1.1zM306.7 642.2h1.1v1.1h-1.1zM297.9 641.6h1.1v1.1h-1.1zM302.2 640.2h1.1v1.1h-1.1zM303.1 647.0h1.1v1.1h-1.1zM305.0 644.1h1.1v1.1h-1.1zM302.6 646.5h1.1v1.1h-1.1zM301.6 640.2h1.1v1.1h-1.1zM298.2 639.1h1.1v1.1h-1.1zM304.6 635.7h1.1v1.1h-1.1zM305.6 642.6h1.1v1.1h-1.1zM299.6 634.5h1.1v1.1h-1.1zM297.5 641.5h1.1v1.1h-1.1zM299.5 642.8h1.1v1.1h-1.1zM301.3 639.9h1.1v1.1h-1.1zM300.8 647.3h1.1v1.1h-1.1zM302.1 644.6h1.1v1.1h-1.1zM297.9 645.9h1.1v1.1h-1.1zM299.6 643.6h1.1v1.1h-1.1zM301.9 643.3h1.1v1.1h-1.1zM301.5 641.2h1.1v1.1h-1.1zM300.2 641.7h1.1v1.1h-1.1zM298.5 646.8h1.1v1.1h-1.1zM299.7 643.6h1.1v1.1h-1.1zM298.3 647.6h1.1v1.1h-1.1zM298.5 643.4h1.1v1.1h-1.1zM300.3 643.6h1.1v1.1h-1.1zM302.9 641.4h1.1v1.1h-1.1zM301.0 645.9h1.1v1.1h-1.1zM300.3 643.2h1.1v1.1h-1.1zM303.2 639.5h1.1v1.1h-1.1zM298.8 641.0h1.1v1.1h-1.1zM302.6 643.9h1.1v1.1h-1.1zM298.5 644.1h1.1v1.1h-1.1zM300.3 645.5h1.1v1.1h-1.1zM305.4 646.7h1.1v1.1h-1.1zM301.0 642.5h1.1v1.1h-1.1zM301.4 644.2h1.1v1.1h-1.1zM300.5 641.0h1.1v1.1h-1.1zM302.6 644.4h1.1v1.1h-1.1zM302.3 642.5h1.1v1.1h-1.1zM299.8 642.2h1.1v1.1h-1.1zM302.6 641.6h1.1v1.1h-1.1zM300.8 642.5h1.1v1.1h-1.1zM299.8 639.5h1.1v1.1h-1.1zM300.9 641.1h1.1v1.1h-1.1zM302.5 642.4h1.1v1.1h-1.1zM299.5 646.5h1.1v1.1h-1.1zM301.1 642.6h1.1v1.1h-1.1zM301.1 636.0h1.1v1.1h-1.1zM302.6 642.4h1.1v1.1h-1.1zM300.9 648.5h1.1v1.1h-1.1zM300.4 639.9h1.1v1.1h-1.1zM299.4 642.7h1.1v1.1h-1.1zM300.4 638.5h1.1v1.1h-1.1zM298.4 645.7h1.1v1.1h-1.1zM300.5 644.5h1.1v1.1h-1.1zM302.8 642.8h1.1v1.1h-1.1zM300.0 647.6h1.1v1.1h-1.1zM300.7 643.2h1.1v1.1h-1.1zM299.5 644.1h1.1v1.1h-1.1zM303.4 641.5h1.1v1.1h-1.1zM300.5 646.9h1.1v1.1h-1.1zM301.4 645.3h1.1v1.1h-1.1zM297.9 642.7h1.1v1.1h-1.1zM300.4 644.5h1.1v1.1h-1.1zM304.2 640.4h1.1v1.1h-1.1zM301.9 639.6h1.1v1.1h-1.1zM300.6 640.9h1.1v1.1h-1.1zM300.3 638.0h1.1v1.1h-1.1zM301.9 645.7h1.1v1.1h-1.1zM300.3 646.5h1.1v1.1h-1.1zM302.3 639.2h1.1v1.1h-1.1zM301.7 640.7h1.1v1.1h-1.1zM298.6 640.9h1.1v1.1h-1.1zM301.5 637.5h1.1v1.1h-1.1zM300.9 643.7h1.1v1.1h-1.1zM301.3 638.6h1.1v1.1h-1.1zM302.7 643.2h1.1v1.1h-1.1zM300.6 640.2h1.1v1.1h-1.1zM300.7 643.3h1.1v1.1h-1.1zM298.1 644.1h1.1v1.1h-1.1zM297.7 643.7h1.1v1.1h-1.1zM300.7 636.2h1.1v1.1h-1.1zM297.6 639.7h1.1v1.1h-1.1zM303.6 644.8h1.1v1.1h-1.1zM297.6 642.1h1.1v1.1h-1.1zM297.2 642.8h1.1v1.1h-1.1zM302.4 649.0h1.1v1.1h-1.1zM301.0 643.5h1.1v1.1h-1.1zM300.4 638.5h1.1v1.1h-1.1zM301.2 641.8h1.1v1.1h-1.1zM299.6 644.4h1.1v1.1h-1.1zM297.1 645.0h1.1v1.1h-1.1zM300.3 640.2h1.1v1.1h-1.1zM301.8 652.1h1.1v1.1h-1.1zM300.4 642.5h1.1v1.1h-1.1zM297.3 637.0h1.1v1.1h-1.1zM299.0 641.8h1.1v1.1h-1.1zM303.1 642.2h1.1v1.1h-1.1zM299.2 641.5h1.1v1.1h-1.1zM302.3 643.5h1.1v1.1h-1.1zM302.3 640.7h1.1v1.1h-1.1zM299.2 641.3h1.1v1.1h-1.1zM298.6 640.9h1.1v1.1h-1.1zM299.9 642.3h1.1v1.1h-1.1zM303.4 642.2h1.1v1.1h-1.1zM302.4 642.5h1.1v1.1h-1.1zM299.6 642.7h1.1v1.1h-1.1zM301.1 640.4h1.1v1.1h-1.1zM299.9 645.9h1.1v1.1h-1.1zM301.5 643.0h1.1v1.1h-1.1zM299.8 640.7h1.1v1.1h-1.1zM297.5 639.3h1.1v1.1h-1.1zM299.7 636.9h1.1v1.1h-1.1zM303.8 641.8h1.1v1.1h-1.1zM297.4 642.6h1.1v1.1h-1.1zM299.6 645.5h1.1v1.1h-1.1zM303.2 642.4h1.1v1.1h-1.1zM311.6 607.7h1.1v1.1h-1.1zM308.1 607.7h1.1v1.1h-1.1zM317.3 604.8h1.1v1.1h-1.1zM318.3 607.4h1.1v1.1h-1.1zM310.2 607.0h1.1v1.1h-1.1zM307.3 606.5h1.1v1.1h-1.1zM305.6 604.6h1.1v1.1h-1.1zM311.1 608.4h1.1v1.1h-1.1zM310.3 606.2h1.1v1.1h-1.1zM305.1 605.6h1.1v1.1h-1.1zM315.3 606.9h1.1v1.1h-1.1zM306.3 606.1h1.1v1.1h-1.1zM303.7 609.2h1.1v1.1h-1.1zM312.7 607.8h1.1v1.1h-1.1zM309.9 607.4h1.1v1.1h-1.1zM317.4 606.9h1.1v1.1h-1.1zM306.9 608.4h1.1v1.1h-1.1zM304.2 606.9h1.1v1.1h-1.1zM309.3 606.8h1.1v1.1h-1.1zM318.1 605.7h1.1v1.1h-1.1zM304.0 607.7h1.1v1.1h-1.1zM311.2 606.2h1.1v1.1h-1.1zM312.2 606.5h1.1v1.1h-1.1zM310.2 605.8h1.1v1.1h-1.1zM313.9 608.1h1.1v1.1h-1.1zM305.3 606.8h1.1v1.1h-1.1zM307.5 606.8h1.1v1.1h-1.1zM313.0 608.9h1.1v1.1h-1.1zM316.5 606.1h1.1v1.1h-1.1zM305.4 607.0h1.1v1.1h-1.1zM310.6 605.1h1.1v1.1h-1.1zM318.4 606.2h1.1v1.1h-1.1zM306.7 606.3h1.1v1.1h-1.1zM305.4 605.6h1.1v1.1h-1.1zM316.4 605.8h1.1v1.1h-1.1zM303.7 609.0h1.1v1.1h-1.1zM307.4 606.7h1.1v1.1h-1.1zM307.5 606.9h1.1v1.1h-1.1zM315.4 606.3h1.1v1.1h-1.1zM317.0 605.5h1.1v1.1h-1.1zM303.6 606.1h1.1v1.1h-1.1zM312.6 605.4h1.1v1.1h-1.1zM311.3 605.6h1.1v1.1h-1.1zM305.2 606.8h1.1v1.1h-1.1zM304.7 607.9h1.1v1.1h-1.1zM305.1 606.6h1.1v1.1h-1.1zM311.7 608.2h1.1v1.1h-1.1zM308.9 607.8h1.1v1.1h-1.1zM307.1 606.3h1.1v1.1h-1.1zM312.0 607.1h1.1v1.1h-1.1zM310.0 605.9h1.1v1.1h-1.1zM312.2 607.9h1.1v1.1h-1.1zM306.2 606.5h1.1v1.1h-1.1zM312.2 606.2h1.1v1.1h-1.1zM314.2 607.5h1.1v1.1h-1.1zM303.8 605.8h1.1v1.1h-1.1zM312.5 606.6h1.1v1.1h-1.1zM315.8 605.4h1.1v1.1h-1.1zM307.8 606.9h1.1v1.1h-1.1zM307.3 605.5h1.1v1.1h-1.1zM306.9 606.5h1.1v1.1h-1.1zM315.0 605.8h1.1v1.1h-1.1zM307.3 606.6h1.1v1.1h-1.1zM316.1 608.3h1.1v1.1h-1.1zM307.2 605.4h1.1v1.1h-1.1zM304.6 606.5h1.1v1.1h-1.1zM316.3 606.5h1.1v1.1h-1.1zM313.7 606.1h1.1v1.1h-1.1zM313.7 607.4h1.1v1.1h-1.1zM305.9 605.6h1.1v1.1h-1.1zM313.7 607.8h1.1v1.1h-1.1zM312.3 607.1h1.1v1.1h-1.1zM307.3 607.0h1.1v1.1h-1.1zM304.0 605.9h1.1v1.1h-1.1zM317.4 605.7h1.1v1.1h-1.1zM311.8 607.5h1.1v1.1h-1.1zM311.3 606.1h1.1v1.1h-1.1zM307.7 604.5h1.1v1.1h-1.1zM310.8 607.1h1.1v1.1h-1.1zM303.5 606.2h1.1v1.1h-1.1zM312.9 607.1h1.1v1.1h-1.1zM311.1 604.6h1.1v1.1h-1.1zM314.9 606.9h1.1v1.1h-1.1zM304.8 608.0h1.1v1.1h-1.1zM312.5 606.9h1.1v1.1h-1.1zM313.3 606.4h1.1v1.1h-1.1zM310.3 606.6h1.1v1.1h-1.1zM316.0 606.4h1.1v1.1h-1.1zM305.4 606.4h1.1v1.1h-1.1zM317.1 606.1h1.1v1.1h-1.1zM314.1 606.4h1.1v1.1h-1.1zM317.4 607.5h1.1v1.1h-1.1zM315.6 605.6h1.1v1.1h-1.1zM304.8 605.0h1.1v1.1h-1.1zM308.6 607.0h1.1v1.1h-1.1zM305.7 607.5h1.1v1.1h-1.1zM303.6 605.5h1.1v1.1h-1.1zM304.5 604.5h1.1v1.1h-1.1zM312.8 605.8h1.1v1.1h-1.1zM316.6 607.5h1.1v1.1h-1.1zM314.5 607.0h1.1v1.1h-1.1zM314.5 607.3h1.1v1.1h-1.1zM314.8 608.0h1.1v1.1h-1.1zM313.5 605.3h1.1v1.1h-1.1zM308.2 606.6h1.1v1.1h-1.1zM311.5 607.5h1.1v1.1h-1.1zM310.2 607.7h1.1v1.1h-1.1zM311.4 608.0h1.1v1.1h-1.1zM314.4 607.9h1.1v1.1h-1.1zM318.9 604.5h1.1v1.1h-1.1zM311.2 605.7h1.1v1.1h-1.1zM312.6 605.8h1.1v1.1h-1.1zM309.1 605.8h1.1v1.1h-1.1zM313.0 605.2h1.1v1.1h-1.1zM314.4 606.7h1.1v1.1h-1.1zM314.0 605.1h1.1v1.1h-1.1zM312.9 607.3h1.1v1.1h-1.1zM313.3 607.4h1.1v1.1h-1.1zM312.1 606.7h1.1v1.1h-1.1zM310.4 607.6h1.1v1.1h-1.1zM314.0 607.8h1.1v1.1h-1.1zM309.3 608.1h1.1v1.1h-1.1zM313.7 605.8h1.1v1.1h-1.1zM310.5 606.0h1.1v1.1h-1.1zM309.9 607.2h1.1v1.1h-1.1zM316.0 607.2h1.1v1.1h-1.1zM314.1 607.4h1.1v1.1h-1.1zM309.9 605.0h1.1v1.1h-1.1zM312.2 605.6h1.1v1.1h-1.1zM312.6 606.4h1.1v1.1h-1.1zM312.3 606.4h1.1v1.1h-1.1zM313.1 608.8h1.1v1.1h-1.1zM312.4 606.3h1.1v1.1h-1.1zM311.3 607.1h1.1v1.1h-1.1zM310.9 607.1h1.1v1.1h-1.1zM309.1 605.3h1.1v1.1h-1.1zM310.0 606.4h1.1v1.1h-1.1zM317.2 605.0h1.1v1.1h-1.1zM311.4 607.0h1.1v1.1h-1.1zM310.9 605.8h1.1v1.1h-1.1zM299.9 606.8h1.1v1.1h-1.1zM303.9 606.5h1.1v1.1h-1.1zM302.2 606.3h1.1v1.1h-1.1zM303.9 606.9h1.1v1.1h-1.1zM302.9 606.7h1.1v1.1h-1.1zM302.2 606.4h1.1v1.1h-1.1zM300.6 606.6h1.1v1.1h-1.1zM302.9 606.2h1.1v1.1h-1.1z" fill="#111"/>
<line x1="46.2" y1="672.3" x2="120.6" y2="672.3" stroke="#111" stroke-width="1.2" />
<line x1="120.0" y1="672.3" x2="120.0" y2="742.0" stroke="#111" stroke-width="1.2" />
<line x1="49.2" y1="672.3" x2="49.2" y2="742.6" stroke="#111" stroke-width="1.2" />
<line x1="46.2" y1="742.0" x2="120.6" y2="742.0" stroke="#111" stroke-width="1.2" />
<path d="M49.20 742.00h-2.80M49.20 738.54h-2.80M49.20 736.51h-2.80M49.20 735.08h-2.80M49.20 733.96h-2.80M49.20 733.05h-2.80M49.20 732.28h-2.80M49.20 731.61h-2.80M49.20 731.03h-2.80M49.20 730.50h-2.80M49.20 727.04h-2.80M49.20 725.01h-2.80M49.20 723.58h-2.80M49.20 722.46h-2.80M49.20 721.55h-2.80M49.20 720.78h-2.80M49.20 720.11h-2.80M49.20 719.53h-2.80M49.20 719.00h-2.80M49.20 715.54h-2.80M49.20 713.51h-2.80M49.20 712.08h-2.80M49.20 710.96h-2.80M49.20 710.05h-2.80M49.20 709.28h-2.80M49.20 708.61h-2.80M49.20 708.03h-2.80M49.20 707.50h-2.80M49.20 704.04h-2.80M49.20 702.01h-2.80M49.20 700.58h-2.80M49.20 699.46h-2.80M49.20 698.55h-2.80M49.20 697.78h-2.80M49.20 697.11h-2.80M49.20 696.53h-2.80M49.20 696.00h-2.80M49.20 692.54h-2.80M49.20 690.51h-2.80M49.20 689.08h-2.80M49.20 687.96h-2.80M49.20 687.05h-2.80M49.20 686.28h-2.80M49.20 685.61h-2.80M49.20 685.03h-2.80M49.20 684.50h-2.80M49.20 681.04h-2.80M49.20 679.01h-2.80M49.20 677.58h-2.80M49.20 676.46h-2.80M49.20 675.55h-2.80M49.20 674.78h-2.80M49.20 674.11h-2.80M49.20 673.53h-2.80" stroke="#000" stroke-width="1.0" fill="none"/>
<path d="M49.20 742.00v2.20M52.66 742.00v2.20M54.69 742.00v2.20M56.12 742.00v2.20M57.24 742.00v2.20M58.15 742.00v2.20M58.92 742.00v2.20M59.59 742.00v2.20M60.17 742.00v2.20M60.70 742.00v2.20M64.16 742.00v2.20M66.19 742.00v2.20M67.62 742.00v2.20M68.74 742.00v2.20M69.65 742.00v2.20M70.42 742.00v2.20M71.09 742.00v2.20M71.67 742.00v2.20M72.20 742.00v2.20M75.66 742.00v2.20M77.69 742.00v2.20M79.12 742.00v2.20M80.24 742.00v2.20M81.15 742.00v2.20M81.92 742.00v2.20M82.59 742.00v2.20M83.17 742.00v2.20M83.70 742.00v2.20M87.16 742.00v2.20M89.19 742.00v2.20M90.62 742.00v2.20M91.74 742.00v2.20M92.65 742.00v2.20M93.42 742.00v2.20M94.09 742.00v2.20M94.67 742.00v2.20M95.20 742.00v2.20M98.66 742.00v2.20M100.69 742.00v2.20M102.12 742.00v2.20M103.24 742.00v2.20M104.15 742.00v2.20M104.92 742.00v2.20M105.59 742.00v2.20M106.17 742.00v2.20M106.70 742.00v2.20M110.16 742.00v2.20M112.19 742.00v2.20M113.62 742.00v2.20M114.74 742.00v2.20M115.65 742.00v2.20M116.42 742.00v2.20M117.09 742.00v2.20M117.67 742.00v2.20M118.20 742.00v2.20" stroke="#000" stroke-width="1.0" fill="none"/>
<line x1="75.5" y1="672.3" x2="75.5" y2="742.0" stroke="#000" stroke-width="1.2" />
<line x1="49.2" y1="715.0" x2="120.0" y2="715.0" stroke="#000" stroke-width="1.2" />
<text font-size="12" stroke="#111" stroke-width="0.3" text-anchor="end" transform="translate(118.2 685.3) scale(1.06 1)" fill="#111" >6.8%</text>
<path d="M63.1 724.4h1.1v1.1h-1.1zM61.9 729.0h1.1v1.1h-1.1zM65.3 716.5h1.1v1.1h-1.1zM72.6 728.1h1.1v1.1h-1.1zM63.2 724.1h1.1v1.1h-1.1zM81.4 720.0h1.1v1.1h-1.1zM68.0 724.9h1.1v1.1h-1.1zM73.8 717.1h1.1v1.1h-1.1zM67.8 716.3h1.1v1.1h-1.1zM59.6 719.7h1.1v1.1h-1.1zM76.1 722.6h1.1v1.1h-1.1zM76.9 726.6h1.1v1.1h-1.1zM71.5 723.9h1.1v1.1h-1.1zM73.9 724.1h1.1v1.1h-1.1zM64.5 724.0h1.1v1.1h-1.1zM70.1 723.5h1.1v1.1h-1.1zM66.4 724.0h1.1v1.1h-1.1zM72.8 723.2h1.1v1.1h-1.1zM75.5 725.3h1.1v1.1h-1.1zM75.5 725.9h1.1v1.1h-1.1zM77.8 727.2h1.1v1.1h-1.1zM73.5 719.1h1.1v1.1h-1.1zM85.8 723.0h1.1v1.1h-1.1zM79.1 723.5h1.1v1.1h-1.1zM69.4 718.0h1.1v1.1h-1.1zM72.8 720.6h1.1v1.1h-1.1zM65.3 714.8h1.1v1.1h-1.1zM77.8 714.9h1.1v1.1h-1.1zM65.4 727.2h1.1v1.1h-1.1zM72.9 718.5h1.1v1.1h-1.1zM71.2 724.1h1.1v1.1h-1.1zM72.6 724.9h1.1v1.1h-1.1zM74.7 719.8h1.1v1.1h-1.1zM65.1 735.5h1.1v1.1h-1.1zM67.2 719.6h1.1v1.1h-1.1zM76.0 723.9h1.1v1.1h-1.1zM71.0 734.2h1.1v1.1h-1.1zM59.6 733.3h1.1v1.1h-1.1zM71.2 724.4h1.1v1.1h-1.1zM72.3 721.4h1.1v1.1h-1.1zM83.7 697.0h1.1v1.1h-1.1zM82.6 706.6h1.1v1.1h-1.1zM73.4 702.5h1.1v1.1h-1.1zM89.0 693.0h1.1v1.1h-1.1zM80.7 691.2h1.1v1.1h-1.1zM75.6 711.9h1.1v1.1h-1.1zM81.5 692.6h1.1v1.1h-1.1zM85.4 698.1h1.1v1.1h-1.1zM81.3 694.0h1.1v1.1h-1.1zM76.5 710.1h1.1v1.1h-1.1zM79.2 711.9h1.1v1.1h-1.1zM77.0 705.2h1.1v1.1h-1.1zM85.6 692.1h1.1v1.1h-1.1zM85.4 697.0h1.1v1.1h-1.1zM86.4 693.3h1.1v1.1h-1.1zM80.1 705.4h1.1v1.1h-1.1zM82.2 695.4h1.1v1.1h-1.1zM79.4 707.7h1.1v1.1h-1.1zM77.2 711.0h1.1v1.1h-1.1zM78.2 711.4h1.1v1.1h-1.1zM81.2 700.1h1.1v1.1h-1.1zM79.6 707.7h1.1v1.1h-1.1zM78.0 701.5h1.1v1.1h-1.1zM83.2 693.8h1.1v1.1h-1.1zM80.5 703.6h1.1v1.1h-1.1zM79.0 707.5h1.1v1.1h-1.1zM77.1 697.3h1.1v1.1h-1.1zM90.3 693.5h1.1v1.1h-1.1zM85.7 698.3h1.1v1.1h-1.1zM83.0 709.2h1.1v1.1h-1.1zM86.2 698.8h1.1v1.1h-1.1zM77.7 706.8h1.1v1.1h-1.1zM79.4 708.6h1.1v1.1h-1.1zM77.4 709.6h1.1v1.1h-1.1zM80.7 698.4h1.1v1.1h-1.1zM78.8 705.7h1.1v1.1h-1.1zM74.8 691.9h1.1v1.1h-1.1zM78.3 710.7h1.1v1.1h-1.1zM76.2 694.9h1.1v1.1h-1.1zM83.2 699.4h1.1v1.1h-1.1zM87.6 696.3h1.1v1.1h-1.1zM77.2 706.5h1.1v1.1h-1.1zM79.7 705.6h1.1v1.1h-1.1zM82.8 697.8h1.1v1.1h-1.1zM81.1 706.5h1.1v1.1h-1.1zM81.8 691.2h1.1v1.1h-1.1zM82.5 698.5h1.1v1.1h-1.1zM79.7 698.0h1.1v1.1h-1.1zM77.3 709.9h1.1v1.1h-1.1zM79.6 702.2h1.1v1.1h-1.1zM79.2 709.4h1.1v1.1h-1.1zM82.0 691.3h1.1v1.1h-1.1zM77.6 706.6h1.1v1.1h-1.1zM81.9 697.1h1.1v1.1h-1.1zM80.7 693.5h1.1v1.1h-1.1zM79.4 705.2h1.1v1.1h-1.1zM87.2 692.4h1.1v1.1h-1.1zM84.7 697.2h1.1v1.1h-1.1zM86.9 695.9h1.1v1.1h-1.1zM81.2 705.7h1.1v1.1h-1.1zM78.6 707.8h1.1v1.1h-1.1zM79.4 705.8h1.1v1.1h-1.1zM86.9 695.0h1.1v1.1h-1.1zM85.8 700.1h1.1v1.1h-1.1zM75.8 711.6h1.1v1.1h-1.1zM85.5 698.8h1.1v1.1h-1.1zM86.4 693.3h1.1v1.1h-1.1zM80.7 696.0h1.1v1.1h-1.1zM86.6 693.8h1.1v1.1h-1.1zM78.7 703.8h1.1v1.1h-1.1zM80.9 694.9h1.1v1.1h-1.1zM83.1 698.0h1.1v1.1h-1.1zM81.4 702.6h1.1v1.1h-1.1zM78.8 695.7h1.1v1.1h-1.1zM80.3 707.1h1.1v1.1h-1.1zM83.5 691.5h1.1v1.1h-1.1zM82.3 698.6h1.1v1.1h-1.1zM87.2 690.9h1.1v1.1h-1.1zM84.8 699.2h1.1v1.1h-1.1zM82.7 695.8h1.1v1.1h-1.1zM82.4 698.6h1.1v1.1h-1.1zM79.7 710.3h1.1v1.1h-1.1zM80.6 700.3h1.1v1.1h-1.1zM77.9 709.1h1.1v1.1h-1.1zM78.6 701.9h1.1v1.1h-1.1zM79.9 710.1h1.1v1.1h-1.1zM82.7 697.5h1.1v1.1h-1.1zM79.1 710.5h1.1v1.1h-1.1zM76.6 703.6h1.1v1.1h-1.1zM78.5 708.3h1.1v1.1h-1.1zM85.4 723.3h1.1v1.1h-1.1zM82.2 719.0h1.1v1.1h-1.1zM106.3 723.6h1.1v1.1h-1.1zM80.5 725.5h1.1v1.1h-1.1zM81.7 717.4h1.1v1.1h-1.1zM99.4 726.7h1.1v1.1h-1.1zM84.5 719.8h1.1v1.1h-1.1zM92.3 729.0h1.1v1.1h-1.1zM93.1 725.0h1.1v1.1h-1.1zM82.5 717.7h1.1v1.1h-1.1zM91.8 726.0h1.1v1.1h-1.1zM90.3 723.0h1.1v1.1h-1.1zM97.7 720.5h1.1v1.1h-1.1zM96.0 725.5h1.1v1.1h-1.1z" fill="#111" fill-opacity="0.6"/>
<path d="M68.8 723.8h1.1v1.1h-1.1zM68.6 721.8h1.1v1.1h-1.1zM69.4 721.6h1.1v1.1h-1.1zM68.3 725.4h1.1v1.1h-1.1zM68.5 720.4h1.1v1.1h-1.1zM70.2 723.9h1.1v1.1h-1.1zM72.4 723.2h1.1v1.1h-1.1zM72.2 723.9h1.1v1.1h-1.1zM68.8 722.1h1.1v1.1h-1.1zM71.9 721.3h1.1v1.1h-1.1zM71.7 724.3h1.1v1.1h-1.1zM74.6 724.2h1.1v1.1h-1.1zM68.8 723.2h1.1v1.1h-1.1zM70.6 719.3h1.1v1.1h-1.1zM68.6 726.0h1.1v1.1h-1.1zM68.4 722.0h1.1v1.1h-1.1zM73.5 723.0h1.1v1.1h-1.1zM72.7 721.1h1.1v1.1h-1.1zM69.8 722.7h1.1v1.1h-1.1zM69.3 718.5h1.1v1.1h-1.1zM70.1 725.4h1.1v1.1h-1.1zM69.0 723.9h1.1v1.1h-1.1zM71.8 723.9h1.1v1.1h-1.1zM68.5 721.4h1.1v1.1h-1.1zM76.0 718.1h1.1v1.1h-1.1zM73.0 717.1h1.1v1.1h-1.1zM71.0 722.4h1.1v1.1h-1.1zM77.8 724.5h1.1v1.1h-1.1zM72.1 719.6h1.1v1.1h-1.1zM68.1 722.6h1.1v1.1h-1.1zM70.0 724.2h1.1v1.1h-1.1zM68.8 723.6h1.1v1.1h-1.1zM76.1 723.9h1.1v1.1h-1.1zM65.4 723.6h1.1v1.1h-1.1zM71.5 726.1h1.1v1.1h-1.1zM72.4 727.3h1.1v1.1h-1.1zM73.5 725.4h1.1v1.1h-1.1zM68.5 723.5h1.1v1.1h-1.1zM74.0 722.7h1.1v1.1h-1.1zM66.2 725.0h1.1v1.1h-1.1zM72.1 724.0h1.1v1.1h-1.1zM71.4 727.4h1.1v1.1h-1.1zM73.0 725.7h1.1v1.1h-1.1zM72.0 722.6h1.1v1.1h-1.1zM68.8 721.1h1.1v1.1h-1.1zM73.9 723.3h1.1v1.1h-1.1zM72.7 720.9h1.1v1.1h-1.1zM68.1 723.6h1.1v1.1h-1.1zM70.2 723.4h1.1v1.1h-1.1zM72.2 719.8h1.1v1.1h-1.1zM70.6 725.0h1.1v1.1h-1.1zM75.7 726.2h1.1v1.1h-1.1zM71.2 720.6h1.1v1.1h-1.1zM67.5 722.8h1.1v1.1h-1.1zM71.4 723.4h1.1v1.1h-1.1zM70.1 721.8h1.1v1.1h-1.1zM70.4 723.1h1.1v1.1h-1.1zM72.4 722.3h1.1v1.1h-1.1zM67.6 721.7h1.1v1.1h-1.1zM74.4 720.8h1.1v1.1h-1.1zM70.5 723.2h1.1v1.1h-1.1zM73.2 720.8h1.1v1.1h-1.1zM71.1 722.3h1.1v1.1h-1.1zM71.1 720.2h1.1v1.1h-1.1zM72.6 724.8h1.1v1.1h-1.1zM74.5 722.6h1.1v1.1h-1.1zM73.5 725.8h1.1v1.1h-1.1zM74.2 724.8h1.1v1.1h-1.1zM66.8 722.4h1.1v1.1h-1.1zM72.5 721.4h1.1v1.1h-1.1zM68.8 721.7h1.1v1.1h-1.1zM73.1 718.5h1.1v1.1h-1.1zM69.6 720.0h1.1v1.1h-1.1zM73.1 727.7h1.1v1.1h-1.1zM76.1 718.6h1.1v1.1h-1.1zM70.4 727.7h1.1v1.1h-1.1zM66.8 720.6h1.1v1.1h-1.1zM70.5 720.3h1.1v1.1h-1.1zM68.8 727.2h1.1v1.1h-1.1zM68.0 721.8h1.1v1.1h-1.1zM71.1 722.4h1.1v1.1h-1.1zM73.7 721.6h1.1v1.1h-1.1zM76.0 723.1h1.1v1.1h-1.1zM76.5 722.8h1.1v1.1h-1.1zM71.7 724.0h1.1v1.1h-1.1zM69.2 719.8h1.1v1.1h-1.1zM69.0 726.1h1.1v1.1h-1.1zM64.4 724.6h1.1v1.1h-1.1zM67.8 724.6h1.1v1.1h-1.1zM68.8 724.9h1.1v1.1h-1.1zM69.9 722.3h1.1v1.1h-1.1zM66.3 719.7h1.1v1.1h-1.1zM69.6 720.3h1.1v1.1h-1.1zM70.7 724.1h1.1v1.1h-1.1zM74.2 723.0h1.1v1.1h-1.1zM72.8 718.1h1.1v1.1h-1.1zM74.4 725.2h1.1v1.1h-1.1zM70.6 720.2h1.1v1.1h-1.1zM71.3 721.4h1.1v1.1h-1.1zM70.6 726.0h1.1v1.1h-1.1zM69.2 721.0h1.1v1.1h-1.1zM71.6 727.9h1.1v1.1h-1.1zM69.7 725.5h1.1v1.1h-1.1zM72.7 725.1h1.1v1.1h-1.1zM69.2 721.5h1.1v1.1h-1.1zM68.2 721.8h1.1v1.1h-1.1zM77.3 719.8h1.1v1.1h-1.1zM71.6 726.0h1.1v1.1h-1.1zM72.3 721.7h1.1v1.1h-1.1zM72.7 722.7h1.1v1.1h-1.1zM75.5 724.8h1.1v1.1h-1.1zM70.2 723.3h1.1v1.1h-1.1zM71.9 725.7h1.1v1.1h-1.1zM72.8 724.0h1.1v1.1h-1.1zM72.3 720.5h1.1v1.1h-1.1zM72.9 725.6h1.1v1.1h-1.1zM74.1 723.4h1.1v1.1h-1.1zM69.9 722.6h1.1v1.1h-1.1zM68.6 723.6h1.1v1.1h-1.1zM69.1 720.2h1.1v1.1h-1.1zM72.8 719.9h1.1v1.1h-1.1zM72.2 723.8h1.1v1.1h-1.1zM67.5 720.1h1.1v1.1h-1.1zM73.7 722.5h1.1v1.1h-1.1zM71.7 725.6h1.1v1.1h-1.1zM72.0 719.8h1.1v1.1h-1.1zM68.7 719.6h1.1v1.1h-1.1zM72.0 726.2h1.1v1.1h-1.1zM69.9 725.8h1.1v1.1h-1.1zM67.0 724.5h1.1v1.1h-1.1zM75.2 725.1h1.1v1.1h-1.1zM72.9 723.9h1.1v1.1h-1.1zM72.2 715.7h1.1v1.1h-1.1zM69.1 729.1h1.1v1.1h-1.1zM77.5 720.8h1.1v1.1h-1.1zM71.4 723.4h1.1v1.1h-1.1zM70.3 721.7h1.1v1.1h-1.1zM70.8 722.8h1.1v1.1h-1.1zM73.3 723.4h1.1v1.1h-1.1zM73.9 722.8h1.1v1.1h-1.1zM70.3 727.1h1.1v1.1h-1.1zM64.8 726.9h1.1v1.1h-1.1zM71.1 721.5h1.1v1.1h-1.1zM74.1 718.2h1.1v1.1h-1.1zM67.6 723.6h1.1v1.1h-1.1zM72.9 724.0h1.1v1.1h-1.1zM72.0 724.2h1.1v1.1h-1.1zM68.6 722.7h1.1v1.1h-1.1zM69.7 720.1h1.1v1.1h-1.1zM70.9 721.9h1.1v1.1h-1.1zM71.4 720.0h1.1v1.1h-1.1zM69.0 722.6h1.1v1.1h-1.1zM68.9 721.5h1.1v1.1h-1.1zM68.8 720.6h1.1v1.1h-1.1zM73.0 723.6h1.1v1.1h-1.1zM70.7 722.6h1.1v1.1h-1.1zM67.7 722.3h1.1v1.1h-1.1zM69.4 721.5h1.1v1.1h-1.1zM68.4 724.9h1.1v1.1h-1.1zM70.4 722.2h1.1v1.1h-1.1zM69.0 724.0h1.1v1.1h-1.1zM68.8 723.1h1.1v1.1h-1.1zM72.2 724.2h1.1v1.1h-1.1zM72.0 720.7h1.1v1.1h-1.1zM72.4 719.0h1.1v1.1h-1.1zM72.0 725.8h1.1v1.1h-1.1zM76.7 720.0h1.1v1.1h-1.1zM69.7 722.7h1.1v1.1h-1.1zM67.9 724.3h1.1v1.1h-1.1zM69.1 722.0h1.1v1.1h-1.1zM72.9 719.8h1.1v1.1h-1.1zM75.9 722.4h1.1v1.1h-1.1zM71.8 720.9h1.1v1.1h-1.1zM67.4 719.7h1.1v1.1h-1.1zM71.3 722.1h1.1v1.1h-1.1zM71.1 721.1h1.1v1.1h-1.1zM70.4 719.3h1.1v1.1h-1.1zM66.3 726.9h1.1v1.1h-1.1zM69.8 715.2h1.1v1.1h-1.1zM73.6 720.5h1.1v1.1h-1.1zM68.8 720.1h1.1v1.1h-1.1zM69.4 725.8h1.1v1.1h-1.1zM69.2 723.9h1.1v1.1h-1.1zM72.9 727.2h1.1v1.1h-1.1zM71.5 719.1h1.1v1.1h-1.1zM68.5 721.3h1.1v1.1h-1.1zM66.9 723.5h1.1v1.1h-1.1zM73.6 721.6h1.1v1.1h-1.1zM72.4 721.8h1.1v1.1h-1.1zM70.0 723.7h1.1v1.1h-1.1zM73.0 727.0h1.1v1.1h-1.1zM75.6 721.3h1.1v1.1h-1.1zM70.0 718.2h1.1v1.1h-1.1zM73.4 728.0h1.1v1.1h-1.1zM70.0 725.7h1.1v1.1h-1.1zM73.3 720.5h1.1v1.1h-1.1zM69.9 722.4h1.1v1.1h-1.1zM72.8 722.0h1.1v1.1h-1.1zM75.8 723.3h1.1v1.1h-1.1zM73.9 728.2h1.1v1.1h-1.1zM69.5 722.2h1.1v1.1h-1.1zM69.4 721.5h1.1v1.1h-1.1zM69.9 723.4h1.1v1.1h-1.1zM71.2 718.6h1.1v1.1h-1.1zM66.8 723.3h1.1v1.1h-1.1zM70.8 724.3h1.1v1.1h-1.1zM70.8 727.1h1.1v1.1h-1.1zM69.4 723.3h1.1v1.1h-1.1zM72.4 725.3h1.1v1.1h-1.1zM71.7 722.6h1.1v1.1h-1.1zM69.9 724.1h1.1v1.1h-1.1zM71.5 721.7h1.1v1.1h-1.1zM68.7 719.3h1.1v1.1h-1.1zM71.1 726.1h1.1v1.1h-1.1zM74.2 720.9h1.1v1.1h-1.1zM68.0 729.6h1.1v1.1h-1.1zM73.5 728.4h1.1v1.1h-1.1zM71.1 725.6h1.1v1.1h-1.1zM71.1 726.6h1.1v1.1h-1.1zM72.4 719.3h1.1v1.1h-1.1zM77.3 727.0h1.1v1.1h-1.1zM69.0 720.9h1.1v1.1h-1.1zM71.1 721.8h1.1v1.1h-1.1zM66.2 722.9h1.1v1.1h-1.1zM69.7 719.6h1.1v1.1h-1.1zM74.0 722.4h1.1v1.1h-1.1zM72.1 726.1h1.1v1.1h-1.1zM69.6 725.6h1.1v1.1h-1.1zM67.4 724.2h1.1v1.1h-1.1zM71.8 721.0h1.1v1.1h-1.1zM71.4 724.5h1.1v1.1h-1.1zM76.0 723.6h1.1v1.1h-1.1zM71.7 721.8h1.1v1.1h-1.1zM69.5 728.4h1.1v1.1h-1.1zM72.8 716.1h1.1v1.1h-1.1zM72.9 721.7h1.1v1.1h-1.1zM72.9 722.7h1.1v1.1h-1.1zM70.5 723.2h1.1v1.1h-1.1zM72.2 725.4h1.1v1.1h-1.1zM69.7 722.2h1.1v1.1h-1.1zM73.2 723.4h1.1v1.1h-1.1zM72.3 723.0h1.1v1.1h-1.1zM75.7 723.2h1.1v1.1h-1.1zM71.2 722.3h1.1v1.1h-1.1zM70.3 718.3h1.1v1.1h-1.1zM68.9 722.3h1.1v1.1h-1.1zM70.9 722.0h1.1v1.1h-1.1zM77.5 721.2h1.1v1.1h-1.1zM74.5 727.0h1.1v1.1h-1.1zM70.5 722.3h1.1v1.1h-1.1zM74.8 723.0h1.1v1.1h-1.1zM74.5 724.2h1.1v1.1h-1.1zM69.3 722.1h1.1v1.1h-1.1zM69.4 724.2h1.1v1.1h-1.1zM72.0 719.5h1.1v1.1h-1.1zM68.1 721.0h1.1v1.1h-1.1zM76.5 721.9h1.1v1.1h-1.1zM70.0 720.2h1.1v1.1h-1.1zM67.8 723.1h1.1v1.1h-1.1zM69.5 720.4h1.1v1.1h-1.1zM71.8 725.8h1.1v1.1h-1.1zM71.1 723.2h1.1v1.1h-1.1zM65.7 725.3h1.1v1.1h-1.1zM69.8 721.8h1.1v1.1h-1.1zM67.6 724.7h1.1v1.1h-1.1zM67.9 723.3h1.1v1.1h-1.1zM67.1 724.9h1.1v1.1h-1.1zM72.1 720.1h1.1v1.1h-1.1zM69.9 719.5h1.1v1.1h-1.1zM72.9 723.3h1.1v1.1h-1.1zM71.1 725.3h1.1v1.1h-1.1zM68.9 724.3h1.1v1.1h-1.1zM74.8 720.7h1.1v1.1h-1.1zM69.7 726.8h1.1v1.1h-1.1zM71.8 721.7h1.1v1.1h-1.1zM64.5 721.6h1.1v1.1h-1.1zM69.1 728.0h1.1v1.1h-1.1zM70.6 720.9h1.1v1.1h-1.1zM75.3 724.4h1.1v1.1h-1.1zM69.5 725.1h1.1v1.1h-1.1zM67.5 726.0h1.1v1.1h-1.1zM73.5 717.7h1.1v1.1h-1.1zM70.3 721.6h1.1v1.1h-1.1zM70.8 723.3h1.1v1.1h-1.1zM72.6 724.4h1.1v1.1h-1.1zM73.3 724.4h1.1v1.1h-1.1zM74.6 723.9h1.1v1.1h-1.1zM69.8 724.7h1.1v1.1h-1.1zM69.1 721.8h1.1v1.1h-1.1zM75.8 721.0h1.1v1.1h-1.1zM68.6 718.7h1.1v1.1h-1.1zM71.3 724.9h1.1v1.1h-1.1zM69.8 722.2h1.1v1.1h-1.1zM74.0 720.4h1.1v1.1h-1.1zM70.0 723.2h1.1v1.1h-1.1zM71.6 725.4h1.1v1.1h-1.1zM72.2 722.1h1.1v1.1h-1.1zM69.8 723.0h1.1v1.1h-1.1zM74.5 720.1h1.1v1.1h-1.1zM70.6 718.9h1.1v1.1h-1.1zM72.5 724.0h1.1v1.1h-1.1zM74.2 721.9h1.1v1.1h-1.1zM72.6 722.9h1.1v1.1h-1.1zM75.8 725.7h1.1v1.1h-1.1zM70.4 721.1h1.1v1.1h-1.1zM72.2 722.0h1.1v1.1h-1.1zM73.3 723.7h1.1v1.1h-1.1zM70.8 721.9h1.1v1.1h-1.1zM70.2 720.0h1.1v1.1h-1.1zM70.5 720.8h1.1v1.1h-1.1zM72.1 722.6h1.1v1.1h-1.1zM69.0 720.8h1.1v1.1h-1.1zM70.2 721.5h1.1v1.1h-1.1zM71.4 724.6h1.1v1.1h-1.1zM71.6 719.1h1.1v1.1h-1.1zM74.7 724.5h1.1v1.1h-1.1zM73.9 722.0h1.1v1.1h-1.1zM72.8 726.6h1.1v1.1h-1.1zM68.4 720.3h1.1v1.1h-1.1zM71.5 723.4h1.1v1.1h-1.1zM67.1 721.9h1.1v1.1h-1.1zM75.7 720.6h1.1v1.1h-1.1zM72.1 720.8h1.1v1.1h-1.1zM67.2 724.7h1.1v1.1h-1.1zM73.3 719.8h1.1v1.1h-1.1zM66.6 725.0h1.1v1.1h-1.1zM70.3 723.4h1.1v1.1h-1.1zM68.1 723.8h1.1v1.1h-1.1zM70.7 725.5h1.1v1.1h-1.1zM72.3 724.5h1.1v1.1h-1.1zM68.3 718.7h1.1v1.1h-1.1zM67.0 726.7h1.1v1.1h-1.1zM74.0 723.6h1.1v1.1h-1.1zM68.7 719.5h1.1v1.1h-1.1zM70.3 724.5h1.1v1.1h-1.1zM73.7 720.4h1.1v1.1h-1.1zM68.7 722.2h1.1v1.1h-1.1zM74.3 723.4h1.1v1.1h-1.1zM68.1 727.9h1.1v1.1h-1.1zM67.1 721.2h1.1v1.1h-1.1zM66.4 723.6h1.1v1.1h-1.1zM79.3 725.1h1.1v1.1h-1.1zM67.3 723.3h1.1v1.1h-1.1zM71.8 723.6h1.1v1.1h-1.1zM68.0 720.4h1.1v1.1h-1.1zM69.2 722.2h1.1v1.1h-1.1zM66.9 725.7h1.1v1.1h-1.1zM65.5 721.4h1.1v1.1h-1.1zM75.5 722.9h1.1v1.1h-1.1zM74.4 721.3h1.1v1.1h-1.1zM69.9 723.4h1.1v1.1h-1.1zM68.6 726.3h1.1v1.1h-1.1zM71.2 722.0h1.1v1.1h-1.1zM66.5 725.3h1.1v1.1h-1.1zM76.4 723.7h1.1v1.1h-1.1zM72.5 721.1h1.1v1.1h-1.1zM71.9 723.9h1.1v1.1h-1.1zM72.6 724.8h1.1v1.1h-1.1zM66.7 719.2h1.1v1.1h-1.1zM64.2 724.4h1.1v1.1h-1.1zM68.5 726.2h1.1v1.1h-1.1zM73.4 721.5h1.1v1.1h-1.1zM72.3 722.4h1.1v1.1h-1.1zM70.8 721.8h1.1v1.1h-1.1zM71.4 725.9h1.1v1.1h-1.1zM70.3 723.3h1.1v1.1h-1.1zM74.9 723.4h1.1v1.1h-1.1zM70.3 724.0h1.1v1.1h-1.1zM68.7 724.6h1.1v1.1h-1.1zM71.7 722.6h1.1v1.1h-1.1zM71.7 723.5h1.1v1.1h-1.1zM64.1 724.7h1.1v1.1h-1.1zM70.5 721.9h1.1v1.1h-1.1zM68.4 723.8h1.1v1.1h-1.1zM74.4 720.4h1.1v1.1h-1.1zM68.9 722.9h1.1v1.1h-1.1zM68.7 725.6h1.1v1.1h-1.1zM69.7 726.2h1.1v1.1h-1.1zM73.7 722.9h1.1v1.1h-1.1zM73.2 721.4h1.1v1.1h-1.1zM66.8 725.2h1.1v1.1h-1.1zM70.6 719.0h1.1v1.1h-1.1zM69.4 726.8h1.1v1.1h-1.1zM73.5 725.1h1.1v1.1h-1.1zM72.6 722.2h1.1v1.1h-1.1zM72.9 724.1h1.1v1.1h-1.1zM70.6 722.6h1.1v1.1h-1.1zM71.3 721.9h1.1v1.1h-1.1zM75.6 718.2h1.1v1.1h-1.1zM65.9 722.4h1.1v1.1h-1.1zM72.9 720.8h1.1v1.1h-1.1zM71.0 722.3h1.1v1.1h-1.1zM69.9 719.7h1.1v1.1h-1.1zM70.5 721.7h1.1v1.1h-1.1zM74.2 722.8h1.1v1.1h-1.1zM66.9 722.7h1.1v1.1h-1.1zM73.7 724.6h1.1v1.1h-1.1zM72.5 721.6h1.1v1.1h-1.1zM70.8 716.7h1.1v1.1h-1.1zM68.5 721.7h1.1v1.1h-1.1zM69.2 725.5h1.1v1.1h-1.1zM71.9 723.2h1.1v1.1h-1.1zM71.4 724.4h1.1v1.1h-1.1zM72.1 720.8h1.1v1.1h-1.1zM72.0 719.8h1.1v1.1h-1.1zM73.5 718.0h1.1v1.1h-1.1zM69.0 721.2h1.1v1.1h-1.1zM72.6 725.6h1.1v1.1h-1.1zM71.3 727.6h1.1v1.1h-1.1zM74.7 721.9h1.1v1.1h-1.1zM70.6 725.6h1.1v1.1h-1.1zM63.4 725.3h1.1v1.1h-1.1zM73.1 721.6h1.1v1.1h-1.1zM75.9 718.3h1.1v1.1h-1.1zM67.6 724.3h1.1v1.1h-1.1zM74.3 725.7h1.1v1.1h-1.1zM67.0 725.7h1.1v1.1h-1.1zM73.1 719.9h1.1v1.1h-1.1zM68.4 721.1h1.1v1.1h-1.1zM73.7 723.6h1.1v1.1h-1.1zM72.6 722.7h1.1v1.1h-1.1zM73.1 721.4h1.1v1.1h-1.1zM73.6 723.7h1.1v1.1h-1.1zM74.6 722.3h1.1v1.1h-1.1zM72.0 724.3h1.1v1.1h-1.1zM65.2 721.5h1.1v1.1h-1.1zM74.9 721.1h1.1v1.1h-1.1zM67.8 723.2h1.1v1.1h-1.1zM70.7 723.3h1.1v1.1h-1.1zM70.3 726.0h1.1v1.1h-1.1zM70.2 731.0h1.1v1.1h-1.1zM70.3 727.8h1.1v1.1h-1.1zM70.5 718.6h1.1v1.1h-1.1zM68.1 724.8h1.1v1.1h-1.1zM71.1 721.7h1.1v1.1h-1.1zM71.2 723.3h1.1v1.1h-1.1zM68.3 724.7h1.1v1.1h-1.1zM75.5 718.6h1.1v1.1h-1.1zM69.3 725.7h1.1v1.1h-1.1zM75.3 723.3h1.1v1.1h-1.1zM69.4 723.7h1.1v1.1h-1.1zM71.2 722.3h1.1v1.1h-1.1zM73.2 724.7h1.1v1.1h-1.1zM72.2 722.2h1.1v1.1h-1.1zM72.6 726.9h1.1v1.1h-1.1zM70.4 728.8h1.1v1.1h-1.1zM72.8 722.2h1.1v1.1h-1.1zM71.3 727.8h1.1v1.1h-1.1zM74.9 723.2h1.1v1.1h-1.1zM73.7 716.5h1.1v1.1h-1.1zM70.8 722.2h1.1v1.1h-1.1zM69.3 724.1h1.1v1.1h-1.1zM72.8 723.3h1.1v1.1h-1.1zM69.0 720.5h1.1v1.1h-1.1zM73.0 723.5h1.1v1.1h-1.1zM77.1 722.0h1.1v1.1h-1.1zM69.6 720.6h1.1v1.1h-1.1zM76.6 717.9h1.1v1.1h-1.1zM72.3 724.2h1.1v1.1h-1.1zM73.7 725.0h1.1v1.1h-1.1zM67.7 723.0h1.1v1.1h-1.1zM69.9 720.2h1.1v1.1h-1.1zM71.1 726.7h1.1v1.1h-1.1zM71.5 722.4h1.1v1.1h-1.1zM69.6 723.9h1.1v1.1h-1.1zM69.6 720.8h1.1v1.1h-1.1zM71.3 719.3h1.1v1.1h-1.1zM73.6 720.5h1.1v1.1h-1.1zM63.6 722.9h1.1v1.1h-1.1zM70.6 720.8h1.1v1.1h-1.1zM76.9 723.3h1.1v1.1h-1.1zM77.0 721.9h1.1v1.1h-1.1zM73.4 719.9h1.1v1.1h-1.1zM73.5 720.3h1.1v1.1h-1.1zM69.2 720.3h1.1v1.1h-1.1zM71.5 723.7h1.1v1.1h-1.1zM69.5 720.8h1.1v1.1h-1.1zM74.2 723.6h1.1v1.1h-1.1zM71.7 724.7h1.1v1.1h-1.1zM72.1 719.6h1.1v1.1h-1.1zM68.6 719.2h1.1v1.1h-1.1zM69.0 725.3h1.1v1.1h-1.1zM69.3 725.0h1.1v1.1h-1.1zM69.3 718.2h1.1v1.1h-1.1zM71.6 726.8h1.1v1.1h-1.1zM71.1 723.2h1.1v1.1h-1.1zM67.3 720.7h1.1v1.1h-1.1zM70.5 731.1h1.1v1.1h-1.1zM69.5 721.4h1.1v1.1h-1.1zM68.9 718.8h1.1v1.1h-1.1zM76.3 724.6h1.1v1.1h-1.1zM69.5 724.7h1.1v1.1h-1.1zM69.8 726.0h1.1v1.1h-1.1zM68.7 723.9h1.1v1.1h-1.1zM74.7 722.2h1.1v1.1h-1.1zM68.3 720.3h1.1v1.1h-1.1zM68.5 727.7h1.1v1.1h-1.1zM72.2 722.4h1.1v1.1h-1.1zM74.1 721.5h1.1v1.1h-1.1zM69.1 723.8h1.1v1.1h-1.1zM70.7 723.1h1.1v1.1h-1.1zM75.7 721.4h1.1v1.1h-1.1zM71.2 722.3h1.1v1.1h-1.1zM68.9 722.1h1.1v1.1h-1.1zM67.3 724.1h1.1v1.1h-1.1zM66.6 721.6h1.1v1.1h-1.1zM67.5 720.8h1.1v1.1h-1.1zM74.4 723.6h1.1v1.1h-1.1zM71.1 727.1h1.1v1.1h-1.1zM69.8 718.4h1.1v1.1h-1.1zM70.1 721.4h1.1v1.1h-1.1zM67.7 724.3h1.1v1.1h-1.1zM73.3 722.5h1.1v1.1h-1.1zM67.8 723.4h1.1v1.1h-1.1zM70.6 725.5h1.1v1.1h-1.1zM69.9 721.6h1.1v1.1h-1.1zM67.6 720.8h1.1v1.1h-1.1zM70.3 725.2h1.1v1.1h-1.1zM67.8 725.2h1.1v1.1h-1.1zM71.5 724.4h1.1v1.1h-1.1zM69.8 725.6h1.1v1.1h-1.1zM75.7 725.0h1.1v1.1h-1.1zM68.1 724.6h1.1v1.1h-1.1zM70.7 723.4h1.1v1.1h-1.1zM70.0 725.3h1.1v1.1h-1.1zM76.3 723.0h1.1v1.1h-1.1zM68.7 723.0h1.1v1.1h-1.1zM72.3 722.5h1.1v1.1h-1.1zM70.7 725.7h1.1v1.1h-1.1zM72.7 724.1h1.1v1.1h-1.1zM71.8 725.2h1.1v1.1h-1.1zM69.1 721.7h1.1v1.1h-1.1zM69.6 720.8h1.1v1.1h-1.1zM73.8 722.9h1.1v1.1h-1.1zM68.1 724.9h1.1v1.1h-1.1zM72.1 721.6h1.1v1.1h-1.1zM71.1 721.7h1.1v1.1h-1.1zM70.7 722.9h1.1v1.1h-1.1zM70.9 721.0h1.1v1.1h-1.1zM69.2 724.6h1.1v1.1h-1.1zM70.5 724.3h1.1v1.1h-1.1zM68.9 721.5h1.1v1.1h-1.1zM72.4 722.7h1.1v1.1h-1.1zM71.9 721.7h1.1v1.1h-1.1zM71.4 725.3h1.1v1.1h-1.1zM69.5 727.4h1.1v1.1h-1.1zM71.8 722.4h1.1v1.1h-1.1zM71.6 723.8h1.1v1.1h-1.1zM69.8 724.2h1.1v1.1h-1.1zM67.6 721.1h1.1v1.1h-1.1zM71.3 722.9h1.1v1.1h-1.1zM72.5 723.2h1.1v1.1h-1.1zM72.8 723.5h1.1v1.1h-1.1zM70.2 726.0h1.1v1.1h-1.1zM75.1 719.4h1.1v1.1h-1.1zM69.3 725.3h1.1v1.1h-1.1zM73.4 723.7h1.1v1.1h-1.1zM72.3 719.3h1.1v1.1h-1.1zM72.0 723.3h1.1v1.1h-1.1zM72.3 720.3h1.1v1.1h-1.1zM70.6 722.4h1.1v1.1h-1.1zM70.5 722.9h1.1v1.1h-1.1zM69.0 720.4h1.1v1.1h-1.1zM70.9 723.1h1.1v1.1h-1.1zM67.0 717.8h1.1v1.1h-1.1zM69.1 722.7h1.1v1.1h-1.1zM70.8 726.4h1.1v1.1h-1.1zM72.4 721.8h1.1v1.1h-1.1zM74.9 727.5h1.1v1.1h-1.1zM69.6 724.7h1.1v1.1h-1.1zM71.2 725.9h1.1v1.1h-1.1zM72.7 721.7h1.1v1.1h-1.1zM71.3 721.1h1.1v1.1h-1.1zM68.9 725.9h1.1v1.1h-1.1zM73.5 720.9h1.1v1.1h-1.1zM68.4 720.7h1.1v1.1h-1.1zM73.6 719.0h1.1v1.1h-1.1zM69.0 723.7h1.1v1.1h-1.1zM73.1 721.9h1.1v1.1h-1.1zM70.9 723.0h1.1v1.1h-1.1zM72.4 722.1h1.1v1.1h-1.1zM71.1 722.7h1.1v1.1h-1.1zM70.2 726.2h1.1v1.1h-1.1zM68.5 721.6h1.1v1.1h-1.1zM70.2 723.5h1.1v1.1h-1.1zM71.0 719.9h1.1v1.1h-1.1zM68.9 724.6h1.1v1.1h-1.1zM70.6 720.9h1.1v1.1h-1.1zM69.1 724.4h1.1v1.1h-1.1zM69.2 720.6h1.1v1.1h-1.1zM70.7 726.2h1.1v1.1h-1.1zM70.0 725.7h1.1v1.1h-1.1zM69.6 726.9h1.1v1.1h-1.1zM73.1 720.4h1.1v1.1h-1.1zM70.3 724.7h1.1v1.1h-1.1zM69.2 725.1h1.1v1.1h-1.1zM73.3 722.2h1.1v1.1h-1.1zM71.3 722.4h1.1v1.1h-1.1zM71.9 720.7h1.1v1.1h-1.1zM73.7 721.4h1.1v1.1h-1.1zM68.9 720.8h1.1v1.1h-1.1zM70.4 723.8h1.1v1.1h-1.1zM71.6 719.2h1.1v1.1h-1.1zM70.1 722.1h1.1v1.1h-1.1zM68.8 724.2h1.1v1.1h-1.1zM70.4 725.1h1.1v1.1h-1.1zM66.9 726.9h1.1v1.1h-1.1zM65.8 721.9h1.1v1.1h-1.1zM71.5 721.9h1.1v1.1h-1.1zM70.3 721.4h1.1v1.1h-1.1zM68.4 722.9h1.1v1.1h-1.1zM70.0 721.7h1.1v1.1h-1.1zM69.4 722.1h1.1v1.1h-1.1zM70.3 721.0h1.1v1.1h-1.1zM64.9 721.0h1.1v1.1h-1.1zM71.0 723.2h1.1v1.1h-1.1zM71.9 720.9h1.1v1.1h-1.1zM67.6 721.8h1.1v1.1h-1.1zM71.7 721.3h1.1v1.1h-1.1zM72.5 721.9h1.1v1.1h-1.1zM68.7 720.4h1.1v1.1h-1.1zM70.4 724.9h1.1v1.1h-1.1zM70.5 724.7h1.1v1.1h-1.1zM69.0 726.2h1.1v1.1h-1.1zM76.8 721.9h1.1v1.1h-1.1zM70.3 720.7h1.1v1.1h-1.1zM69.4 722.5h1.1v1.1h-1.1zM69.4 719.7h1.1v1.1h-1.1zM70.1 725.1h1.1v1.1h-1.1zM71.8 724.0h1.1v1.1h-1.1zM71.4 720.4h1.1v1.1h-1.1zM69.0 725.1h1.1v1.1h-1.1zM71.0 723.1h1.1v1.1h-1.1zM70.4 725.4h1.1v1.1h-1.1zM72.8 724.3h1.1v1.1h-1.1zM70.9 724.4h1.1v1.1h-1.1zM69.9 721.6h1.1v1.1h-1.1zM69.3 720.5h1.1v1.1h-1.1zM70.7 723.5h1.1v1.1h-1.1zM71.2 720.7h1.1v1.1h-1.1zM67.9 723.2h1.1v1.1h-1.1zM66.7 724.1h1.1v1.1h-1.1zM75.6 720.6h1.1v1.1h-1.1zM69.0 722.7h1.1v1.1h-1.1zM72.9 719.4h1.1v1.1h-1.1zM70.6 723.0h1.1v1.1h-1.1zM69.0 722.6h1.1v1.1h-1.1zM67.2 723.4h1.1v1.1h-1.1zM74.4 723.9h1.1v1.1h-1.1zM71.0 724.4h1.1v1.1h-1.1zM71.8 722.7h1.1v1.1h-1.1zM71.8 725.0h1.1v1.1h-1.1zM71.7 722.1h1.1v1.1h-1.1zM71.3 724.7h1.1v1.1h-1.1zM69.2 722.5h1.1v1.1h-1.1zM70.0 722.5h1.1v1.1h-1.1zM73.4 722.3h1.1v1.1h-1.1zM70.3 722.3h1.1v1.1h-1.1zM73.8 722.3h1.1v1.1h-1.1zM75.3 722.3h1.1v1.1h-1.1zM70.0 722.4h1.1v1.1h-1.1zM70.6 723.6h1.1v1.1h-1.1zM72.7 723.0h1.1v1.1h-1.1zM72.3 719.0h1.1v1.1h-1.1zM69.7 720.8h1.1v1.1h-1.1zM68.6 723.1h1.1v1.1h-1.1zM68.9 722.1h1.1v1.1h-1.1zM69.3 726.3h1.1v1.1h-1.1zM71.2 724.8h1.1v1.1h-1.1zM66.9 720.5h1.1v1.1h-1.1zM70.7 725.0h1.1v1.1h-1.1zM70.3 724.2h1.1v1.1h-1.1zM70.3 726.3h1.1v1.1h-1.1zM72.6 724.2h1.1v1.1h-1.1zM71.6 725.3h1.1v1.1h-1.1zM70.6 722.2h1.1v1.1h-1.1zM69.8 723.7h1.1v1.1h-1.1zM68.2 722.0h1.1v1.1h-1.1zM71.8 724.0h1.1v1.1h-1.1zM71.2 724.6h1.1v1.1h-1.1zM72.5 719.4h1.1v1.1h-1.1zM70.5 721.2h1.1v1.1h-1.1zM69.9 723.9h1.1v1.1h-1.1zM67.3 726.3h1.1v1.1h-1.1zM72.8 723.0h1.1v1.1h-1.1zM73.7 725.2h1.1v1.1h-1.1zM71.3 725.1h1.1v1.1h-1.1zM73.9 722.3h1.1v1.1h-1.1zM67.7 724.5h1.1v1.1h-1.1zM68.9 720.8h1.1v1.1h-1.1zM71.5 724.2h1.1v1.1h-1.1zM70.3 723.0h1.1v1.1h-1.1zM72.9 720.6h1.1v1.1h-1.1zM69.3 724.0h1.1v1.1h-1.1zM73.4 722.8h1.1v1.1h-1.1zM70.6 722.2h1.1v1.1h-1.1zM73.8 723.1h1.1v1.1h-1.1zM68.2 725.3h1.1v1.1h-1.1zM68.1 727.7h1.1v1.1h-1.1zM71.4 721.4h1.1v1.1h-1.1zM93.1 686.6h1.1v1.1h-1.1zM87.4 688.0h1.1v1.1h-1.1zM89.4 686.9h1.1v1.1h-1.1zM91.6 686.1h1.1v1.1h-1.1zM91.0 688.6h1.1v1.1h-1.1zM83.6 687.1h1.1v1.1h-1.1zM81.6 689.3h1.1v1.1h-1.1zM87.1 687.1h1.1v1.1h-1.1zM92.2 688.4h1.1v1.1h-1.1zM90.2 687.3h1.1v1.1h-1.1zM94.8 690.1h1.1v1.1h-1.1zM91.5 687.2h1.1v1.1h-1.1zM93.4 684.6h1.1v1.1h-1.1zM82.5 684.0h1.1v1.1h-1.1zM91.2 690.0h1.1v1.1h-1.1zM85.4 687.4h1.1v1.1h-1.1zM85.0 684.5h1.1v1.1h-1.1zM85.4 685.9h1.1v1.1h-1.1zM92.1 689.8h1.1v1.1h-1.1zM92.5 686.4h1.1v1.1h-1.1zM81.2 688.2h1.1v1.1h-1.1zM90.8 687.6h1.1v1.1h-1.1zM86.7 687.4h1.1v1.1h-1.1zM87.6 685.5h1.1v1.1h-1.1zM96.3 685.4h1.1v1.1h-1.1zM94.9 689.0h1.1v1.1h-1.1zM82.4 687.6h1.1v1.1h-1.1zM91.5 690.9h1.1v1.1h-1.1zM95.0 683.5h1.1v1.1h-1.1zM93.3 684.5h1.1v1.1h-1.1zM93.7 685.6h1.1v1.1h-1.1zM86.5 686.2h1.1v1.1h-1.1zM86.4 688.1h1.1v1.1h-1.1zM88.1 689.3h1.1v1.1h-1.1zM92.1 689.2h1.1v1.1h-1.1zM90.6 686.7h1.1v1.1h-1.1zM83.7 685.3h1.1v1.1h-1.1zM83.5 687.0h1.1v1.1h-1.1zM93.9 687.1h1.1v1.1h-1.1zM94.6 690.5h1.1v1.1h-1.1zM88.1 687.4h1.1v1.1h-1.1zM82.2 686.2h1.1v1.1h-1.1zM87.8 687.9h1.1v1.1h-1.1zM81.8 686.3h1.1v1.1h-1.1zM92.7 688.5h1.1v1.1h-1.1z" fill="#111"/>
<line x1="124.4" y1="672.3" x2="197.1" y2="672.3" stroke="#111" stroke-width="1.2" />
<line x1="196.5" y1="672.3" x2="196.5" y2="742.0" stroke="#111" stroke-width="1.2" />
<line x1="127.4" y1="672.3" x2="127.4" y2="742.6" stroke="#111" stroke-width="1.2" />
<line x1="124.4" y1="742.0" x2="197.1" y2="742.0" stroke="#111" stroke-width="1.2" />
<path d="M127.40 742.00h-2.80M127.40 738.54h-2.80M127.40 736.51h-2.80M127.40 735.08h-2.80M127.40 733.96h-2.80M127.40 733.05h-2.80M127.40 732.28h-2.80M127.40 731.61h-2.80M127.40 731.03h-2.80M127.40 730.50h-2.80M127.40 727.04h-2.80M127.40 725.01h-2.80M127.40 723.58h-2.80M127.40 722.46h-2.80M127.40 721.55h-2.80M127.40 720.78h-2.80M127.40 720.11h-2.80M127.40 719.53h-2.80M127.40 719.00h-2.80M127.40 715.54h-2.80M127.40 713.51h-2.80M127.40 712.08h-2.80M127.40 710.96h-2.80M127.40 710.05h-2.80M127.40 709.28h-2.80M127.40 708.61h-2.80M127.40 708.03h-2.80M127.40 707.50h-2.80M127.40 704.04h-2.80M127.40 702.01h-2.80M127.40 700.58h-2.80M127.40 699.46h-2.80M127.40 698.55h-2.80M127.40 697.78h-2.80M127.40 697.11h-2.80M127.40 696.53h-2.80M127.40 696.00h-2.80M127.40 692.54h-2.80M127.40 690.51h-2.80M127.40 689.08h-2.80M127.40 687.96h-2.80M127.40 687.05h-2.80M127.40 686.28h-2.80M127.40 685.61h-2.80M127.40 685.03h-2.80M127.40 684.50h-2.80M127.40 681.04h-2.80M127.40 679.01h-2.80M127.40 677.58h-2.80M127.40 676.46h-2.80M127.40 675.55h-2.80M127.40 674.78h-2.80M127.40 674.11h-2.80M127.40 673.53h-2.80" stroke="#000" stroke-width="1.0" fill="none"/>
<path d="M127.40 742.00v2.20M130.86 742.00v2.20M132.89 742.00v2.20M134.32 742.00v2.20M135.44 742.00v2.20M136.35 742.00v2.20M137.12 742.00v2.20M137.79 742.00v2.20M138.37 742.00v2.20M138.90 742.00v2.20M142.36 742.00v2.20M144.39 742.00v2.20M145.82 742.00v2.20M146.94 742.00v2.20M147.85 742.00v2.20M148.62 742.00v2.20M149.29 742.00v2.20M149.87 742.00v2.20M150.40 742.00v2.20M153.86 742.00v2.20M155.89 742.00v2.20M157.32 742.00v2.20M158.44 742.00v2.20M159.35 742.00v2.20M160.12 742.00v2.20M160.79 742.00v2.20M161.37 742.00v2.20M161.90 742.00v2.20M165.36 742.00v2.20M167.39 742.00v2.20M168.82 742.00v2.20M169.94 742.00v2.20M170.85 742.00v2.20M171.62 742.00v2.20M172.29 742.00v2.20M172.87 742.00v2.20M173.40 742.00v2.20M176.86 742.00v2.20M178.89 742.00v2.20M180.32 742.00v2.20M181.44 742.00v2.20M182.35 742.00v2.20M183.12 742.00v2.20M183.79 742.00v2.20M184.37 742.00v2.20M184.90 742.00v2.20M188.36 742.00v2.20M190.39 742.00v2.20M191.82 742.00v2.20M192.94 742.00v2.20M193.85 742.00v2.20M194.62 742.00v2.20M195.29 742.00v2.20M195.87 742.00v2.20" stroke="#000" stroke-width="1.0" fill="none"/>
<line x1="152.5" y1="672.3" x2="152.5" y2="742.0" stroke="#000" stroke-width="1.2" />
<line x1="127.4" y1="715.0" x2="196.5" y2="715.0" stroke="#000" stroke-width="1.2" />
<text font-size="12" stroke="#111" stroke-width="0.3" text-anchor="end" transform="translate(194.7 685.3) scale(1.06 1)" fill="#111" >8.3%</text>
<path d="M155.2 715.9h1.1v1.1h-1.1zM139.4 726.4h1.1v1.1h-1.1zM143.0 723.4h1.1v1.1h-1.1zM145.8 719.0h1.1v1.1h-1.1zM152.9 719.7h1.1v1.1h-1.1zM157.4 719.8h1.1v1.1h-1.1zM152.5 719.0h1.1v1.1h-1.1zM142.5 721.5h1.1v1.1h-1.1zM142.8 726.1h1.1v1.1h-1.1zM146.1 717.6h1.1v1.1h-1.1zM137.1 721.9h1.1v1.1h-1.1zM135.5 722.4h1.1v1.1h-1.1zM139.6 728.5h1.1v1.1h-1.1zM139.7 722.3h1.1v1.1h-1.1zM146.4 722.8h1.1v1.1h-1.1zM150.6 724.8h1.1v1.1h-1.1zM150.1 719.7h1.1v1.1h-1.1zM154.6 721.4h1.1v1.1h-1.1zM145.4 730.1h1.1v1.1h-1.1zM141.1 726.8h1.1v1.1h-1.1zM154.2 720.3h1.1v1.1h-1.1zM149.1 722.2h1.1v1.1h-1.1zM151.1 722.0h1.1v1.1h-1.1zM148.1 725.4h1.1v1.1h-1.1zM136.8 727.3h1.1v1.1h-1.1zM148.3 731.3h1.1v1.1h-1.1zM147.6 719.1h1.1v1.1h-1.1zM150.1 719.5h1.1v1.1h-1.1zM140.0 723.7h1.1v1.1h-1.1zM151.6 726.4h1.1v1.1h-1.1zM153.2 721.2h1.1v1.1h-1.1zM146.4 723.6h1.1v1.1h-1.1zM153.6 719.4h1.1v1.1h-1.1zM152.3 716.7h1.1v1.1h-1.1zM148.1 725.7h1.1v1.1h-1.1zM151.3 721.8h1.1v1.1h-1.1zM141.4 715.9h1.1v1.1h-1.1zM143.3 719.8h1.1v1.1h-1.1zM147.2 729.8h1.1v1.1h-1.1zM144.0 727.5h1.1v1.1h-1.1zM158.7 692.7h1.1v1.1h-1.1zM157.9 690.1h1.1v1.1h-1.1zM165.7 692.7h1.1v1.1h-1.1zM161.2 691.5h1.1v1.1h-1.1zM169.8 689.9h1.1v1.1h-1.1zM161.8 691.3h1.1v1.1h-1.1zM158.4 688.9h1.1v1.1h-1.1zM170.5 688.7h1.1v1.1h-1.1zM163.4 688.4h1.1v1.1h-1.1zM167.0 694.0h1.1v1.1h-1.1zM171.9 689.9h1.1v1.1h-1.1zM160.1 689.6h1.1v1.1h-1.1zM169.3 694.8h1.1v1.1h-1.1zM170.4 688.9h1.1v1.1h-1.1zM171.5 691.6h1.1v1.1h-1.1zM157.3 691.4h1.1v1.1h-1.1zM159.3 691.9h1.1v1.1h-1.1zM161.4 689.2h1.1v1.1h-1.1zM154.2 692.3h1.1v1.1h-1.1zM160.0 690.1h1.1v1.1h-1.1zM162.6 690.8h1.1v1.1h-1.1zM170.7 688.0h1.1v1.1h-1.1zM169.8 686.8h1.1v1.1h-1.1zM162.9 691.5h1.1v1.1h-1.1zM164.4 690.9h1.1v1.1h-1.1zM162.5 694.9h1.1v1.1h-1.1zM157.5 708.7h1.1v1.1h-1.1zM156.1 694.8h1.1v1.1h-1.1zM159.4 704.2h1.1v1.1h-1.1zM154.9 711.8h1.1v1.1h-1.1zM157.7 693.7h1.1v1.1h-1.1zM162.2 701.1h1.1v1.1h-1.1zM157.4 699.6h1.1v1.1h-1.1zM162.0 693.6h1.1v1.1h-1.1zM156.5 702.4h1.1v1.1h-1.1zM160.9 693.1h1.1v1.1h-1.1zM161.1 700.4h1.1v1.1h-1.1zM160.4 695.0h1.1v1.1h-1.1zM160.5 711.8h1.1v1.1h-1.1zM149.7 703.9h1.1v1.1h-1.1zM157.5 713.0h1.1v1.1h-1.1zM159.1 693.1h1.1v1.1h-1.1zM156.8 695.2h1.1v1.1h-1.1zM162.0 698.5h1.1v1.1h-1.1zM154.8 695.6h1.1v1.1h-1.1zM154.6 697.5h1.1v1.1h-1.1zM153.4 713.9h1.1v1.1h-1.1zM157.8 696.0h1.1v1.1h-1.1zM159.9 707.7h1.1v1.1h-1.1zM162.9 697.2h1.1v1.1h-1.1zM159.3 695.1h1.1v1.1h-1.1zM161.2 701.2h1.1v1.1h-1.1zM163.3 697.2h1.1v1.1h-1.1zM159.0 697.9h1.1v1.1h-1.1zM158.0 701.2h1.1v1.1h-1.1zM161.1 694.0h1.1v1.1h-1.1zM161.6 692.1h1.1v1.1h-1.1zM159.9 702.5h1.1v1.1h-1.1zM159.4 711.6h1.1v1.1h-1.1zM157.9 700.8h1.1v1.1h-1.1zM158.2 701.4h1.1v1.1h-1.1zM159.9 695.4h1.1v1.1h-1.1zM161.7 695.1h1.1v1.1h-1.1zM161.4 694.3h1.1v1.1h-1.1zM164.0 705.5h1.1v1.1h-1.1zM162.0 707.3h1.1v1.1h-1.1zM165.0 702.9h1.1v1.1h-1.1zM160.1 701.8h1.1v1.1h-1.1zM153.5 696.7h1.1v1.1h-1.1zM166.4 700.1h1.1v1.1h-1.1zM162.1 698.4h1.1v1.1h-1.1zM162.7 711.6h1.1v1.1h-1.1zM161.8 702.4h1.1v1.1h-1.1zM164.9 697.5h1.1v1.1h-1.1zM154.2 697.0h1.1v1.1h-1.1zM162.7 705.2h1.1v1.1h-1.1zM158.6 712.6h1.1v1.1h-1.1zM156.4 713.1h1.1v1.1h-1.1zM161.4 711.0h1.1v1.1h-1.1zM166.1 696.9h1.1v1.1h-1.1zM157.7 693.1h1.1v1.1h-1.1zM169.5 703.9h1.1v1.1h-1.1zM161.7 711.4h1.1v1.1h-1.1zM163.3 713.3h1.1v1.1h-1.1zM159.7 698.0h1.1v1.1h-1.1zM168.6 725.2h1.1v1.1h-1.1zM180.7 722.8h1.1v1.1h-1.1zM162.4 725.8h1.1v1.1h-1.1zM171.3 718.2h1.1v1.1h-1.1zM171.1 721.3h1.1v1.1h-1.1zM167.3 726.6h1.1v1.1h-1.1zM174.1 721.3h1.1v1.1h-1.1zM169.3 721.6h1.1v1.1h-1.1zM153.1 722.7h1.1v1.1h-1.1zM156.9 720.7h1.1v1.1h-1.1zM168.8 720.0h1.1v1.1h-1.1zM163.1 718.7h1.1v1.1h-1.1zM159.7 724.3h1.1v1.1h-1.1zM171.1 717.2h1.1v1.1h-1.1z" fill="#111" fill-opacity="0.6"/>
<path d="M145.6 723.5h1.1v1.1h-1.1zM147.9 723.4h1.1v1.1h-1.1zM144.4 723.3h1.1v1.1h-1.1zM147.2 722.3h1.1v1.1h-1.1zM147.3 722.9h1.1v1.1h-1.1zM145.9 721.6h1.1v1.1h-1.1zM148.7 719.7h1.1v1.1h-1.1zM145.2 721.0h1.1v1.1h-1.1zM144.8 724.9h1.1v1.1h-1.1zM146.7 722.2h1.1v1.1h-1.1zM147.9 721.4h1.1v1.1h-1.1zM150.8 725.2h1.1v1.1h-1.1zM147.5 721.4h1.1v1.1h-1.1zM151.8 721.6h1.1v1.1h-1.1zM144.6 727.4h1.1v1.1h-1.1zM148.5 723.9h1.1v1.1h-1.1zM143.2 722.3h1.1v1.1h-1.1zM146.1 724.4h1.1v1.1h-1.1zM143.5 722.5h1.1v1.1h-1.1zM148.5 719.8h1.1v1.1h-1.1zM146.2 720.4h1.1v1.1h-1.1zM142.8 724.6h1.1v1.1h-1.1zM145.0 719.6h1.1v1.1h-1.1zM150.3 722.7h1.1v1.1h-1.1zM148.5 720.1h1.1v1.1h-1.1zM144.2 723.8h1.1v1.1h-1.1zM147.2 721.8h1.1v1.1h-1.1zM144.4 721.2h1.1v1.1h-1.1zM145.1 723.2h1.1v1.1h-1.1zM147.8 726.5h1.1v1.1h-1.1zM146.9 723.7h1.1v1.1h-1.1zM145.7 722.7h1.1v1.1h-1.1zM144.1 722.8h1.1v1.1h-1.1zM141.0 720.2h1.1v1.1h-1.1zM148.9 718.4h1.1v1.1h-1.1zM147.9 721.5h1.1v1.1h-1.1zM146.5 724.7h1.1v1.1h-1.1zM146.2 724.1h1.1v1.1h-1.1zM147.3 724.9h1.1v1.1h-1.1zM149.4 721.2h1.1v1.1h-1.1zM150.2 721.9h1.1v1.1h-1.1zM150.6 720.0h1.1v1.1h-1.1zM143.6 725.0h1.1v1.1h-1.1zM147.1 721.3h1.1v1.1h-1.1zM146.2 722.1h1.1v1.1h-1.1zM146.0 727.6h1.1v1.1h-1.1zM143.9 721.3h1.1v1.1h-1.1zM142.2 722.9h1.1v1.1h-1.1zM148.6 725.5h1.1v1.1h-1.1zM147.6 720.1h1.1v1.1h-1.1zM142.7 721.8h1.1v1.1h-1.1zM147.8 724.3h1.1v1.1h-1.1zM147.7 726.3h1.1v1.1h-1.1zM151.8 720.1h1.1v1.1h-1.1zM143.1 727.6h1.1v1.1h-1.1zM147.5 723.9h1.1v1.1h-1.1zM148.2 719.0h1.1v1.1h-1.1zM147.4 722.7h1.1v1.1h-1.1zM146.0 724.8h1.1v1.1h-1.1zM146.2 721.8h1.1v1.1h-1.1zM151.7 720.2h1.1v1.1h-1.1zM150.7 719.8h1.1v1.1h-1.1zM148.6 719.4h1.1v1.1h-1.1zM148.6 724.4h1.1v1.1h-1.1zM142.5 726.5h1.1v1.1h-1.1zM147.6 725.0h1.1v1.1h-1.1zM147.3 722.0h1.1v1.1h-1.1zM147.4 730.1h1.1v1.1h-1.1zM144.9 722.8h1.1v1.1h-1.1zM144.9 722.8h1.1v1.1h-1.1zM145.9 719.4h1.1v1.1h-1.1zM149.2 720.4h1.1v1.1h-1.1zM145.9 717.3h1.1v1.1h-1.1zM145.4 722.5h1.1v1.1h-1.1zM145.3 721.6h1.1v1.1h-1.1zM148.2 722.8h1.1v1.1h-1.1zM142.4 719.8h1.1v1.1h-1.1zM148.3 720.7h1.1v1.1h-1.1zM150.6 722.7h1.1v1.1h-1.1zM145.1 719.6h1.1v1.1h-1.1zM145.3 721.4h1.1v1.1h-1.1zM147.9 717.3h1.1v1.1h-1.1zM147.4 718.0h1.1v1.1h-1.1zM144.0 720.3h1.1v1.1h-1.1zM144.8 722.5h1.1v1.1h-1.1zM147.2 720.7h1.1v1.1h-1.1zM150.7 725.0h1.1v1.1h-1.1zM146.0 719.8h1.1v1.1h-1.1zM146.4 722.4h1.1v1.1h-1.1zM147.5 725.2h1.1v1.1h-1.1zM152.1 724.9h1.1v1.1h-1.1zM145.1 716.3h1.1v1.1h-1.1zM147.5 723.9h1.1v1.1h-1.1zM144.4 722.3h1.1v1.1h-1.1zM149.3 721.4h1.1v1.1h-1.1zM143.6 722.8h1.1v1.1h-1.1zM139.7 726.6h1.1v1.1h-1.1zM144.0 724.0h1.1v1.1h-1.1zM143.1 722.1h1.1v1.1h-1.1zM149.0 728.7h1.1v1.1h-1.1zM142.8 721.6h1.1v1.1h-1.1zM146.9 725.3h1.1v1.1h-1.1zM149.7 722.7h1.1v1.1h-1.1zM146.4 723.1h1.1v1.1h-1.1zM144.9 723.1h1.1v1.1h-1.1zM143.4 720.5h1.1v1.1h-1.1zM146.9 727.7h1.1v1.1h-1.1zM147.0 720.3h1.1v1.1h-1.1zM146.2 721.6h1.1v1.1h-1.1zM149.8 720.7h1.1v1.1h-1.1zM146.3 724.6h1.1v1.1h-1.1zM146.9 720.6h1.1v1.1h-1.1zM145.3 723.7h1.1v1.1h-1.1zM142.0 722.8h1.1v1.1h-1.1zM150.4 722.8h1.1v1.1h-1.1zM149.1 720.0h1.1v1.1h-1.1zM145.2 722.7h1.1v1.1h-1.1zM147.3 725.6h1.1v1.1h-1.1zM148.0 725.4h1.1v1.1h-1.1zM145.7 724.1h1.1v1.1h-1.1zM150.0 718.7h1.1v1.1h-1.1zM144.7 722.1h1.1v1.1h-1.1zM142.8 724.0h1.1v1.1h-1.1zM148.0 727.7h1.1v1.1h-1.1zM143.3 718.7h1.1v1.1h-1.1zM150.3 723.0h1.1v1.1h-1.1zM147.2 723.0h1.1v1.1h-1.1zM148.0 720.3h1.1v1.1h-1.1zM147.2 722.6h1.1v1.1h-1.1zM152.6 723.0h1.1v1.1h-1.1zM145.8 719.4h1.1v1.1h-1.1zM149.0 721.1h1.1v1.1h-1.1zM149.8 720.9h1.1v1.1h-1.1zM148.2 723.5h1.1v1.1h-1.1zM144.5 722.0h1.1v1.1h-1.1zM151.4 717.5h1.1v1.1h-1.1zM150.0 722.5h1.1v1.1h-1.1zM150.5 724.0h1.1v1.1h-1.1zM144.9 726.2h1.1v1.1h-1.1zM142.2 725.3h1.1v1.1h-1.1zM149.0 724.0h1.1v1.1h-1.1zM148.5 719.0h1.1v1.1h-1.1zM146.1 722.4h1.1v1.1h-1.1zM144.4 721.7h1.1v1.1h-1.1zM146.7 725.6h1.1v1.1h-1.1zM151.1 722.0h1.1v1.1h-1.1zM151.1 720.3h1.1v1.1h-1.1zM143.6 722.5h1.1v1.1h-1.1zM148.7 724.2h1.1v1.1h-1.1zM148.8 718.9h1.1v1.1h-1.1zM148.6 720.0h1.1v1.1h-1.1zM149.5 723.4h1.1v1.1h-1.1zM149.9 719.3h1.1v1.1h-1.1zM148.1 722.9h1.1v1.1h-1.1zM146.1 723.1h1.1v1.1h-1.1zM146.5 718.2h1.1v1.1h-1.1zM148.1 727.9h1.1v1.1h-1.1zM147.4 720.6h1.1v1.1h-1.1zM141.5 723.0h1.1v1.1h-1.1zM149.0 723.0h1.1v1.1h-1.1zM148.7 723.0h1.1v1.1h-1.1zM147.4 726.4h1.1v1.1h-1.1zM144.9 725.0h1.1v1.1h-1.1zM144.4 719.3h1.1v1.1h-1.1zM148.8 720.6h1.1v1.1h-1.1zM150.2 724.0h1.1v1.1h-1.1zM146.6 720.8h1.1v1.1h-1.1zM146.4 722.5h1.1v1.1h-1.1zM151.4 722.1h1.1v1.1h-1.1zM151.6 721.7h1.1v1.1h-1.1zM146.2 725.3h1.1v1.1h-1.1zM149.1 720.8h1.1v1.1h-1.1zM147.7 721.1h1.1v1.1h-1.1zM143.9 723.9h1.1v1.1h-1.1zM148.4 720.6h1.1v1.1h-1.1zM140.7 723.8h1.1v1.1h-1.1zM149.8 721.3h1.1v1.1h-1.1zM148.8 719.3h1.1v1.1h-1.1zM144.8 720.9h1.1v1.1h-1.1zM145.7 724.5h1.1v1.1h-1.1zM146.7 721.2h1.1v1.1h-1.1zM146.2 719.3h1.1v1.1h-1.1zM144.3 719.9h1.1v1.1h-1.1zM141.8 721.7h1.1v1.1h-1.1zM146.2 727.1h1.1v1.1h-1.1zM151.7 723.0h1.1v1.1h-1.1zM146.3 724.4h1.1v1.1h-1.1zM143.6 722.8h1.1v1.1h-1.1zM145.7 718.8h1.1v1.1h-1.1zM148.2 723.3h1.1v1.1h-1.1zM139.2 720.3h1.1v1.1h-1.1zM146.2 722.5h1.1v1.1h-1.1zM146.0 719.9h1.1v1.1h-1.1zM148.5 721.8h1.1v1.1h-1.1zM147.1 726.7h1.1v1.1h-1.1zM148.5 723.5h1.1v1.1h-1.1zM150.8 718.8h1.1v1.1h-1.1zM144.4 719.2h1.1v1.1h-1.1zM146.9 723.6h1.1v1.1h-1.1zM153.6 720.1h1.1v1.1h-1.1zM146.0 719.5h1.1v1.1h-1.1zM142.8 719.8h1.1v1.1h-1.1zM143.8 724.5h1.1v1.1h-1.1zM146.6 720.1h1.1v1.1h-1.1zM145.5 721.0h1.1v1.1h-1.1zM149.2 722.8h1.1v1.1h-1.1zM145.1 722.2h1.1v1.1h-1.1zM143.5 723.1h1.1v1.1h-1.1zM152.2 719.3h1.1v1.1h-1.1zM149.7 722.4h1.1v1.1h-1.1zM150.1 719.7h1.1v1.1h-1.1zM146.0 725.7h1.1v1.1h-1.1zM148.4 719.8h1.1v1.1h-1.1zM149.6 720.8h1.1v1.1h-1.1zM149.0 726.1h1.1v1.1h-1.1zM148.6 722.3h1.1v1.1h-1.1zM146.4 723.2h1.1v1.1h-1.1zM150.0 721.8h1.1v1.1h-1.1zM145.7 724.3h1.1v1.1h-1.1zM147.1 723.2h1.1v1.1h-1.1zM144.0 718.2h1.1v1.1h-1.1zM142.7 723.8h1.1v1.1h-1.1zM139.9 722.4h1.1v1.1h-1.1zM152.6 721.0h1.1v1.1h-1.1zM146.3 723.7h1.1v1.1h-1.1zM141.9 726.0h1.1v1.1h-1.1zM149.6 721.4h1.1v1.1h-1.1zM145.0 726.1h1.1v1.1h-1.1zM145.0 721.9h1.1v1.1h-1.1zM147.1 721.5h1.1v1.1h-1.1zM151.7 719.3h1.1v1.1h-1.1zM152.7 720.3h1.1v1.1h-1.1zM144.0 724.1h1.1v1.1h-1.1zM148.8 725.2h1.1v1.1h-1.1zM153.0 725.8h1.1v1.1h-1.1zM144.9 722.4h1.1v1.1h-1.1zM151.5 717.3h1.1v1.1h-1.1zM149.7 725.1h1.1v1.1h-1.1zM144.1 723.1h1.1v1.1h-1.1zM145.8 724.5h1.1v1.1h-1.1zM147.9 721.7h1.1v1.1h-1.1zM147.6 719.9h1.1v1.1h-1.1zM146.6 723.8h1.1v1.1h-1.1zM151.8 719.5h1.1v1.1h-1.1zM148.7 724.9h1.1v1.1h-1.1zM148.7 724.9h1.1v1.1h-1.1zM148.9 724.4h1.1v1.1h-1.1zM146.3 720.2h1.1v1.1h-1.1zM145.4 724.4h1.1v1.1h-1.1zM153.7 723.5h1.1v1.1h-1.1zM149.1 727.9h1.1v1.1h-1.1zM143.3 722.2h1.1v1.1h-1.1zM147.4 718.0h1.1v1.1h-1.1zM149.6 721.9h1.1v1.1h-1.1zM147.1 719.0h1.1v1.1h-1.1zM149.0 723.7h1.1v1.1h-1.1zM148.1 724.5h1.1v1.1h-1.1zM147.4 723.0h1.1v1.1h-1.1zM144.6 720.0h1.1v1.1h-1.1zM147.2 723.6h1.1v1.1h-1.1zM142.9 719.4h1.1v1.1h-1.1zM144.8 727.2h1.1v1.1h-1.1zM145.5 721.1h1.1v1.1h-1.1zM149.8 720.3h1.1v1.1h-1.1zM142.8 723.6h1.1v1.1h-1.1zM144.6 723.2h1.1v1.1h-1.1zM144.9 723.8h1.1v1.1h-1.1zM147.4 720.6h1.1v1.1h-1.1zM146.3 722.3h1.1v1.1h-1.1zM148.1 719.8h1.1v1.1h-1.1zM150.3 723.9h1.1v1.1h-1.1zM145.4 720.7h1.1v1.1h-1.1zM144.2 719.2h1.1v1.1h-1.1zM144.3 720.7h1.1v1.1h-1.1zM146.1 721.8h1.1v1.1h-1.1zM148.4 721.9h1.1v1.1h-1.1zM147.9 721.7h1.1v1.1h-1.1zM146.3 719.7h1.1v1.1h-1.1zM150.1 724.1h1.1v1.1h-1.1zM148.1 718.1h1.1v1.1h-1.1zM146.1 718.5h1.1v1.1h-1.1zM148.6 720.9h1.1v1.1h-1.1zM145.0 721.5h1.1v1.1h-1.1zM146.4 722.7h1.1v1.1h-1.1zM144.7 723.8h1.1v1.1h-1.1zM148.2 723.1h1.1v1.1h-1.1zM146.9 722.4h1.1v1.1h-1.1zM153.8 721.2h1.1v1.1h-1.1zM146.1 719.1h1.1v1.1h-1.1zM149.2 722.7h1.1v1.1h-1.1zM140.4 725.7h1.1v1.1h-1.1zM148.0 721.9h1.1v1.1h-1.1zM147.0 721.9h1.1v1.1h-1.1zM150.8 721.2h1.1v1.1h-1.1zM146.0 722.3h1.1v1.1h-1.1zM151.0 717.7h1.1v1.1h-1.1zM146.1 723.8h1.1v1.1h-1.1zM147.7 722.8h1.1v1.1h-1.1zM151.6 722.8h1.1v1.1h-1.1zM148.1 721.9h1.1v1.1h-1.1zM146.6 722.0h1.1v1.1h-1.1zM147.9 718.4h1.1v1.1h-1.1zM143.9 722.9h1.1v1.1h-1.1zM143.8 722.2h1.1v1.1h-1.1zM147.2 716.1h1.1v1.1h-1.1zM146.8 718.9h1.1v1.1h-1.1zM145.7 721.5h1.1v1.1h-1.1zM142.8 720.7h1.1v1.1h-1.1zM143.7 716.2h1.1v1.1h-1.1zM141.4 724.5h1.1v1.1h-1.1zM151.8 724.6h1.1v1.1h-1.1zM145.3 721.1h1.1v1.1h-1.1zM146.9 723.7h1.1v1.1h-1.1zM148.1 719.1h1.1v1.1h-1.1zM148.1 721.6h1.1v1.1h-1.1zM149.3 719.9h1.1v1.1h-1.1zM145.5 720.9h1.1v1.1h-1.1zM144.1 724.8h1.1v1.1h-1.1zM150.0 723.7h1.1v1.1h-1.1zM147.1 721.1h1.1v1.1h-1.1zM143.4 721.3h1.1v1.1h-1.1zM145.6 724.1h1.1v1.1h-1.1zM144.5 717.6h1.1v1.1h-1.1zM146.4 721.9h1.1v1.1h-1.1zM144.4 723.8h1.1v1.1h-1.1zM147.0 719.5h1.1v1.1h-1.1zM143.3 723.6h1.1v1.1h-1.1zM147.3 721.5h1.1v1.1h-1.1zM150.9 720.5h1.1v1.1h-1.1zM145.5 725.4h1.1v1.1h-1.1zM146.2 724.7h1.1v1.1h-1.1zM148.7 724.8h1.1v1.1h-1.1zM145.4 725.3h1.1v1.1h-1.1zM146.9 719.9h1.1v1.1h-1.1zM151.4 726.0h1.1v1.1h-1.1zM146.9 720.3h1.1v1.1h-1.1zM148.2 725.3h1.1v1.1h-1.1zM149.4 725.1h1.1v1.1h-1.1zM147.0 726.0h1.1v1.1h-1.1zM143.0 724.2h1.1v1.1h-1.1zM145.7 721.8h1.1v1.1h-1.1zM149.2 719.4h1.1v1.1h-1.1zM150.0 725.7h1.1v1.1h-1.1zM148.5 720.4h1.1v1.1h-1.1zM142.8 719.3h1.1v1.1h-1.1zM149.0 723.7h1.1v1.1h-1.1zM150.0 721.3h1.1v1.1h-1.1zM153.1 721.0h1.1v1.1h-1.1zM140.3 723.8h1.1v1.1h-1.1zM148.5 720.4h1.1v1.1h-1.1zM152.1 726.5h1.1v1.1h-1.1zM147.8 728.0h1.1v1.1h-1.1zM145.0 719.5h1.1v1.1h-1.1zM148.3 724.1h1.1v1.1h-1.1zM147.5 726.5h1.1v1.1h-1.1zM144.6 723.2h1.1v1.1h-1.1zM149.0 720.7h1.1v1.1h-1.1zM145.6 723.1h1.1v1.1h-1.1zM150.6 725.0h1.1v1.1h-1.1zM152.5 724.3h1.1v1.1h-1.1zM144.9 719.0h1.1v1.1h-1.1zM146.4 721.6h1.1v1.1h-1.1zM144.0 722.7h1.1v1.1h-1.1zM146.9 722.6h1.1v1.1h-1.1zM148.1 719.2h1.1v1.1h-1.1zM149.8 720.9h1.1v1.1h-1.1zM150.3 723.9h1.1v1.1h-1.1zM145.9 727.4h1.1v1.1h-1.1zM145.7 724.2h1.1v1.1h-1.1zM150.7 722.8h1.1v1.1h-1.1zM143.4 724.9h1.1v1.1h-1.1zM149.6 720.5h1.1v1.1h-1.1zM146.9 722.6h1.1v1.1h-1.1zM150.3 719.0h1.1v1.1h-1.1zM143.4 721.4h1.1v1.1h-1.1zM145.4 722.6h1.1v1.1h-1.1zM147.7 721.7h1.1v1.1h-1.1zM140.9 721.5h1.1v1.1h-1.1zM149.5 722.9h1.1v1.1h-1.1zM144.8 726.2h1.1v1.1h-1.1zM143.9 730.6h1.1v1.1h-1.1zM146.4 718.1h1.1v1.1h-1.1zM148.2 721.6h1.1v1.1h-1.1zM145.5 722.3h1.1v1.1h-1.1zM146.3 722.5h1.1v1.1h-1.1zM144.1 722.5h1.1v1.1h-1.1zM149.0 722.7h1.1v1.1h-1.1zM143.2 723.2h1.1v1.1h-1.1zM151.7 721.7h1.1v1.1h-1.1zM149.4 717.3h1.1v1.1h-1.1zM141.9 719.3h1.1v1.1h-1.1zM141.8 724.3h1.1v1.1h-1.1zM143.1 721.6h1.1v1.1h-1.1zM145.1 723.0h1.1v1.1h-1.1zM149.7 722.4h1.1v1.1h-1.1zM144.5 728.0h1.1v1.1h-1.1zM145.0 720.8h1.1v1.1h-1.1zM146.4 721.6h1.1v1.1h-1.1zM145.5 727.6h1.1v1.1h-1.1zM144.9 722.0h1.1v1.1h-1.1zM150.3 725.1h1.1v1.1h-1.1zM147.1 719.8h1.1v1.1h-1.1zM149.4 724.1h1.1v1.1h-1.1zM148.7 723.2h1.1v1.1h-1.1zM145.8 722.9h1.1v1.1h-1.1zM142.0 723.3h1.1v1.1h-1.1zM144.2 724.0h1.1v1.1h-1.1zM147.9 715.6h1.1v1.1h-1.1zM142.7 722.3h1.1v1.1h-1.1zM148.2 724.9h1.1v1.1h-1.1zM144.2 721.9h1.1v1.1h-1.1zM150.4 721.5h1.1v1.1h-1.1zM149.3 723.4h1.1v1.1h-1.1zM145.5 723.9h1.1v1.1h-1.1zM144.5 721.8h1.1v1.1h-1.1zM147.8 723.1h1.1v1.1h-1.1zM143.0 722.6h1.1v1.1h-1.1zM148.7 721.9h1.1v1.1h-1.1zM148.2 720.8h1.1v1.1h-1.1zM146.0 725.2h1.1v1.1h-1.1zM145.0 715.6h1.1v1.1h-1.1zM148.2 719.6h1.1v1.1h-1.1zM150.5 724.7h1.1v1.1h-1.1zM145.2 720.8h1.1v1.1h-1.1zM147.7 722.2h1.1v1.1h-1.1zM146.7 718.7h1.1v1.1h-1.1zM148.7 723.9h1.1v1.1h-1.1zM149.5 722.7h1.1v1.1h-1.1zM148.9 719.0h1.1v1.1h-1.1zM150.2 721.1h1.1v1.1h-1.1zM144.2 723.2h1.1v1.1h-1.1zM148.1 722.7h1.1v1.1h-1.1zM150.5 720.9h1.1v1.1h-1.1zM148.4 727.7h1.1v1.1h-1.1zM145.2 721.1h1.1v1.1h-1.1zM148.8 720.2h1.1v1.1h-1.1zM143.8 721.3h1.1v1.1h-1.1zM148.6 718.5h1.1v1.1h-1.1zM146.7 721.3h1.1v1.1h-1.1zM145.6 721.0h1.1v1.1h-1.1zM148.1 723.4h1.1v1.1h-1.1zM149.1 720.2h1.1v1.1h-1.1zM142.4 720.9h1.1v1.1h-1.1zM144.0 717.2h1.1v1.1h-1.1zM150.3 720.6h1.1v1.1h-1.1zM145.6 719.3h1.1v1.1h-1.1zM144.5 721.7h1.1v1.1h-1.1zM148.2 720.6h1.1v1.1h-1.1zM149.1 722.6h1.1v1.1h-1.1zM142.0 724.6h1.1v1.1h-1.1zM149.5 719.6h1.1v1.1h-1.1zM147.2 721.9h1.1v1.1h-1.1zM146.7 728.7h1.1v1.1h-1.1zM147.5 723.9h1.1v1.1h-1.1zM147.6 725.9h1.1v1.1h-1.1zM151.2 723.2h1.1v1.1h-1.1zM150.2 722.5h1.1v1.1h-1.1zM150.9 721.3h1.1v1.1h-1.1zM148.3 723.9h1.1v1.1h-1.1zM141.8 718.3h1.1v1.1h-1.1zM149.2 721.6h1.1v1.1h-1.1zM145.0 722.8h1.1v1.1h-1.1zM143.7 722.0h1.1v1.1h-1.1zM147.6 722.4h1.1v1.1h-1.1zM148.9 721.0h1.1v1.1h-1.1zM149.4 722.9h1.1v1.1h-1.1zM143.3 719.8h1.1v1.1h-1.1zM145.0 722.8h1.1v1.1h-1.1zM148.4 727.7h1.1v1.1h-1.1zM145.9 724.3h1.1v1.1h-1.1zM146.0 724.9h1.1v1.1h-1.1zM145.1 726.1h1.1v1.1h-1.1zM147.0 721.3h1.1v1.1h-1.1zM146.1 727.5h1.1v1.1h-1.1zM147.4 726.2h1.1v1.1h-1.1zM139.7 723.3h1.1v1.1h-1.1zM153.6 723.6h1.1v1.1h-1.1zM148.3 724.4h1.1v1.1h-1.1zM148.1 720.8h1.1v1.1h-1.1zM146.0 719.8h1.1v1.1h-1.1zM143.9 724.5h1.1v1.1h-1.1zM149.0 721.7h1.1v1.1h-1.1zM145.1 725.9h1.1v1.1h-1.1zM148.1 723.8h1.1v1.1h-1.1zM146.0 722.2h1.1v1.1h-1.1zM151.2 723.8h1.1v1.1h-1.1zM142.8 721.8h1.1v1.1h-1.1zM149.8 721.8h1.1v1.1h-1.1zM146.0 720.3h1.1v1.1h-1.1zM149.7 721.4h1.1v1.1h-1.1zM148.0 722.9h1.1v1.1h-1.1zM146.2 723.9h1.1v1.1h-1.1zM148.2 723.7h1.1v1.1h-1.1zM146.4 719.2h1.1v1.1h-1.1zM145.0 722.8h1.1v1.1h-1.1zM149.1 719.4h1.1v1.1h-1.1zM151.1 723.0h1.1v1.1h-1.1zM151.9 725.9h1.1v1.1h-1.1zM147.4 723.1h1.1v1.1h-1.1zM150.5 721.5h1.1v1.1h-1.1zM148.6 721.2h1.1v1.1h-1.1zM149.8 721.5h1.1v1.1h-1.1zM144.7 726.0h1.1v1.1h-1.1zM145.9 721.2h1.1v1.1h-1.1zM146.3 722.2h1.1v1.1h-1.1zM149.3 721.8h1.1v1.1h-1.1zM146.9 722.4h1.1v1.1h-1.1zM144.9 722.3h1.1v1.1h-1.1zM146.0 722.5h1.1v1.1h-1.1zM144.6 722.9h1.1v1.1h-1.1zM149.2 722.1h1.1v1.1h-1.1zM147.3 722.9h1.1v1.1h-1.1zM145.5 720.8h1.1v1.1h-1.1zM150.6 725.0h1.1v1.1h-1.1zM148.5 723.0h1.1v1.1h-1.1zM150.2 718.0h1.1v1.1h-1.1zM147.6 721.3h1.1v1.1h-1.1zM145.0 720.1h1.1v1.1h-1.1zM147.2 723.1h1.1v1.1h-1.1zM144.1 723.6h1.1v1.1h-1.1zM145.3 721.3h1.1v1.1h-1.1zM149.6 724.3h1.1v1.1h-1.1zM148.7 723.6h1.1v1.1h-1.1zM148.3 721.5h1.1v1.1h-1.1zM149.2 723.9h1.1v1.1h-1.1zM146.2 722.6h1.1v1.1h-1.1zM143.0 720.8h1.1v1.1h-1.1zM146.4 724.6h1.1v1.1h-1.1zM147.9 722.4h1.1v1.1h-1.1zM147.7 718.3h1.1v1.1h-1.1zM149.5 721.1h1.1v1.1h-1.1zM149.6 723.8h1.1v1.1h-1.1zM144.8 721.8h1.1v1.1h-1.1zM147.7 721.9h1.1v1.1h-1.1zM145.9 722.8h1.1v1.1h-1.1zM145.9 723.3h1.1v1.1h-1.1zM147.9 725.4h1.1v1.1h-1.1zM145.8 724.3h1.1v1.1h-1.1zM148.6 724.8h1.1v1.1h-1.1zM144.9 722.6h1.1v1.1h-1.1zM149.4 719.6h1.1v1.1h-1.1zM146.0 722.1h1.1v1.1h-1.1zM146.4 725.3h1.1v1.1h-1.1zM149.5 720.6h1.1v1.1h-1.1zM144.5 721.0h1.1v1.1h-1.1zM147.7 720.9h1.1v1.1h-1.1zM145.8 718.1h1.1v1.1h-1.1zM146.9 723.8h1.1v1.1h-1.1zM145.2 717.5h1.1v1.1h-1.1zM147.6 722.3h1.1v1.1h-1.1zM146.7 721.9h1.1v1.1h-1.1zM146.4 723.0h1.1v1.1h-1.1zM145.0 716.9h1.1v1.1h-1.1zM147.8 723.9h1.1v1.1h-1.1zM147.8 724.5h1.1v1.1h-1.1zM147.1 726.3h1.1v1.1h-1.1zM148.3 720.8h1.1v1.1h-1.1zM153.1 721.9h1.1v1.1h-1.1zM148.7 718.9h1.1v1.1h-1.1zM147.3 723.2h1.1v1.1h-1.1zM148.9 721.5h1.1v1.1h-1.1zM145.9 725.6h1.1v1.1h-1.1zM147.1 723.2h1.1v1.1h-1.1zM146.4 722.5h1.1v1.1h-1.1zM145.3 724.8h1.1v1.1h-1.1zM144.3 720.2h1.1v1.1h-1.1zM147.7 721.9h1.1v1.1h-1.1zM149.4 722.7h1.1v1.1h-1.1zM144.8 723.3h1.1v1.1h-1.1zM147.1 722.5h1.1v1.1h-1.1zM145.3 723.6h1.1v1.1h-1.1zM149.8 723.4h1.1v1.1h-1.1zM150.2 722.1h1.1v1.1h-1.1zM142.5 724.5h1.1v1.1h-1.1zM143.5 718.4h1.1v1.1h-1.1zM150.5 722.3h1.1v1.1h-1.1zM147.3 723.0h1.1v1.1h-1.1zM147.7 721.6h1.1v1.1h-1.1zM151.0 723.9h1.1v1.1h-1.1zM147.9 720.7h1.1v1.1h-1.1zM148.3 723.7h1.1v1.1h-1.1zM147.6 720.6h1.1v1.1h-1.1zM149.3 722.6h1.1v1.1h-1.1zM147.6 721.2h1.1v1.1h-1.1zM145.3 719.4h1.1v1.1h-1.1zM146.6 721.7h1.1v1.1h-1.1zM146.3 722.2h1.1v1.1h-1.1zM146.5 722.8h1.1v1.1h-1.1zM146.6 721.3h1.1v1.1h-1.1zM146.7 722.4h1.1v1.1h-1.1zM148.3 722.6h1.1v1.1h-1.1zM145.7 721.5h1.1v1.1h-1.1zM143.1 722.1h1.1v1.1h-1.1zM146.9 720.5h1.1v1.1h-1.1zM149.6 720.6h1.1v1.1h-1.1zM146.2 722.5h1.1v1.1h-1.1zM145.5 721.9h1.1v1.1h-1.1zM145.8 720.1h1.1v1.1h-1.1zM147.2 722.1h1.1v1.1h-1.1zM146.4 724.9h1.1v1.1h-1.1zM148.6 723.7h1.1v1.1h-1.1zM144.8 721.1h1.1v1.1h-1.1zM143.6 721.1h1.1v1.1h-1.1zM145.2 726.7h1.1v1.1h-1.1zM146.4 723.2h1.1v1.1h-1.1zM146.0 722.7h1.1v1.1h-1.1zM148.1 718.1h1.1v1.1h-1.1zM145.5 723.6h1.1v1.1h-1.1zM146.1 724.4h1.1v1.1h-1.1zM150.0 722.5h1.1v1.1h-1.1zM148.2 721.4h1.1v1.1h-1.1zM148.0 720.1h1.1v1.1h-1.1zM144.7 723.2h1.1v1.1h-1.1zM147.7 724.6h1.1v1.1h-1.1zM146.4 725.2h1.1v1.1h-1.1zM144.5 721.2h1.1v1.1h-1.1zM144.1 724.0h1.1v1.1h-1.1zM144.7 724.2h1.1v1.1h-1.1zM146.7 721.7h1.1v1.1h-1.1zM143.2 723.5h1.1v1.1h-1.1zM146.2 719.2h1.1v1.1h-1.1zM148.2 721.7h1.1v1.1h-1.1zM146.3 723.2h1.1v1.1h-1.1zM148.1 721.7h1.1v1.1h-1.1zM146.4 724.4h1.1v1.1h-1.1zM146.2 723.6h1.1v1.1h-1.1zM149.9 723.5h1.1v1.1h-1.1zM150.7 722.4h1.1v1.1h-1.1zM147.1 721.9h1.1v1.1h-1.1zM147.8 723.0h1.1v1.1h-1.1zM152.7 720.5h1.1v1.1h-1.1zM147.0 725.6h1.1v1.1h-1.1zM145.2 725.5h1.1v1.1h-1.1zM143.8 722.0h1.1v1.1h-1.1zM145.9 722.4h1.1v1.1h-1.1zM145.3 724.7h1.1v1.1h-1.1zM148.0 724.6h1.1v1.1h-1.1zM143.6 720.6h1.1v1.1h-1.1zM148.0 721.4h1.1v1.1h-1.1zM146.6 717.8h1.1v1.1h-1.1zM145.0 723.8h1.1v1.1h-1.1zM149.2 718.5h1.1v1.1h-1.1zM143.3 723.6h1.1v1.1h-1.1zM150.9 723.5h1.1v1.1h-1.1zM144.1 722.8h1.1v1.1h-1.1zM143.1 722.9h1.1v1.1h-1.1zM145.7 724.0h1.1v1.1h-1.1zM151.1 725.0h1.1v1.1h-1.1zM147.1 724.0h1.1v1.1h-1.1zM147.5 722.4h1.1v1.1h-1.1zM151.0 721.6h1.1v1.1h-1.1zM150.0 721.3h1.1v1.1h-1.1zM148.9 722.3h1.1v1.1h-1.1zM146.2 721.4h1.1v1.1h-1.1zM146.3 722.8h1.1v1.1h-1.1zM146.0 722.2h1.1v1.1h-1.1zM146.6 724.4h1.1v1.1h-1.1zM146.5 722.5h1.1v1.1h-1.1zM147.8 724.7h1.1v1.1h-1.1zM147.4 725.1h1.1v1.1h-1.1zM146.9 725.6h1.1v1.1h-1.1zM147.6 721.0h1.1v1.1h-1.1zM148.8 723.7h1.1v1.1h-1.1zM145.2 723.0h1.1v1.1h-1.1zM147.4 721.8h1.1v1.1h-1.1zM146.5 722.7h1.1v1.1h-1.1zM148.2 723.3h1.1v1.1h-1.1zM149.2 720.4h1.1v1.1h-1.1zM151.7 719.0h1.1v1.1h-1.1zM149.9 720.4h1.1v1.1h-1.1zM144.1 723.2h1.1v1.1h-1.1zM147.4 724.4h1.1v1.1h-1.1zM143.0 723.4h1.1v1.1h-1.1zM147.4 723.6h1.1v1.1h-1.1zM148.5 723.3h1.1v1.1h-1.1zM146.5 722.2h1.1v1.1h-1.1zM150.6 723.9h1.1v1.1h-1.1zM147.8 722.3h1.1v1.1h-1.1zM147.4 726.5h1.1v1.1h-1.1zM148.3 723.0h1.1v1.1h-1.1zM144.8 724.9h1.1v1.1h-1.1zM151.0 719.7h1.1v1.1h-1.1zM148.0 725.0h1.1v1.1h-1.1zM147.4 723.9h1.1v1.1h-1.1zM149.3 718.7h1.1v1.1h-1.1zM146.2 724.3h1.1v1.1h-1.1zM147.2 722.3h1.1v1.1h-1.1zM146.8 722.8h1.1v1.1h-1.1zM147.2 721.3h1.1v1.1h-1.1zM146.7 723.0h1.1v1.1h-1.1zM145.5 724.2h1.1v1.1h-1.1zM143.8 725.6h1.1v1.1h-1.1zM145.7 720.7h1.1v1.1h-1.1zM148.3 719.2h1.1v1.1h-1.1zM149.9 719.2h1.1v1.1h-1.1zM149.0 721.1h1.1v1.1h-1.1zM149.6 720.5h1.1v1.1h-1.1zM148.5 720.9h1.1v1.1h-1.1zM144.1 724.9h1.1v1.1h-1.1zM148.2 722.6h1.1v1.1h-1.1zM162.8 690.8h1.1v1.1h-1.1zM162.4 691.5h1.1v1.1h-1.1zM163.7 689.6h1.1v1.1h-1.1zM163.2 691.5h1.1v1.1h-1.1zM158.2 690.2h1.1v1.1h-1.1zM158.8 690.8h1.1v1.1h-1.1zM169.2 691.2h1.1v1.1h-1.1zM163.7 691.1h1.1v1.1h-1.1zM163.3 689.7h1.1v1.1h-1.1zM159.4 691.6h1.1v1.1h-1.1zM161.8 690.1h1.1v1.1h-1.1zM166.2 693.1h1.1v1.1h-1.1zM162.8 688.3h1.1v1.1h-1.1zM162.0 691.3h1.1v1.1h-1.1zM159.1 689.9h1.1v1.1h-1.1zM162.7 690.5h1.1v1.1h-1.1zM166.5 691.5h1.1v1.1h-1.1zM161.0 690.2h1.1v1.1h-1.1zM158.0 690.2h1.1v1.1h-1.1zM166.7 691.0h1.1v1.1h-1.1zM164.4 689.3h1.1v1.1h-1.1zM158.8 688.9h1.1v1.1h-1.1zM166.7 690.8h1.1v1.1h-1.1zM164.2 690.4h1.1v1.1h-1.1zM157.2 690.4h1.1v1.1h-1.1zM167.5 691.6h1.1v1.1h-1.1zM161.7 690.9h1.1v1.1h-1.1zM165.6 690.1h1.1v1.1h-1.1zM168.6 688.9h1.1v1.1h-1.1zM160.0 690.8h1.1v1.1h-1.1zM160.8 691.3h1.1v1.1h-1.1zM157.8 692.1h1.1v1.1h-1.1zM162.9 690.5h1.1v1.1h-1.1zM157.2 691.4h1.1v1.1h-1.1zM166.5 690.4h1.1v1.1h-1.1zM159.2 690.7h1.1v1.1h-1.1zM163.5 691.3h1.1v1.1h-1.1zM160.2 689.4h1.1v1.1h-1.1zM159.4 690.1h1.1v1.1h-1.1zM158.2 689.8h1.1v1.1h-1.1zM162.3 690.7h1.1v1.1h-1.1zM161.3 691.1h1.1v1.1h-1.1zM166.0 691.2h1.1v1.1h-1.1zM164.7 690.3h1.1v1.1h-1.1zM163.2 689.5h1.1v1.1h-1.1zM159.1 691.9h1.1v1.1h-1.1zM162.5 690.2h1.1v1.1h-1.1zM159.9 688.8h1.1v1.1h-1.1zM161.8 692.8h1.1v1.1h-1.1zM167.0 691.8h1.1v1.1h-1.1z" fill="#111"/>
<line x1="203.0" y1="672.3" x2="275.6" y2="672.3" stroke="#111" stroke-width="1.2" />
<line x1="275.0" y1="672.3" x2="275.0" y2="742.0" stroke="#111" stroke-width="1.2" />
<line x1="206.0" y1="672.3" x2="206.0" y2="742.6" stroke="#111" stroke-width="1.2" />
<line x1="203.0" y1="742.0" x2="275.6" y2="742.0" stroke="#111" stroke-width="1.2" />
<path d="M206.00 742.00h-2.80M206.00 738.54h-2.80M206.00 736.51h-2.80M206.00 735.08h-2.80M206.00 733.96h-2.80M206.00 733.05h-2.80M206.00 732.28h-2.80M206.00 731.61h-2.80M206.00 731.03h-2.80M206.00 730.50h-2.80M206.00 727.04h-2.80M206.00 725.01h-2.80M206.00 723.58h-2.80M206.00 722.46h-2.80M206.00 721.55h-2.80M206.00 720.78h-2.80M206.00 720.11h-2.80M206.00 719.53h-2.80M206.00 719.00h-2.80M206.00 715.54h-2.80M206.00 713.51h-2.80M206.00 712.08h-2.80M206.00 710.96h-2.80M206.00 710.05h-2.80M206.00 709.28h-2.80M206.00 708.61h-2.80M206.00 708.03h-2.80M206.00 707.50h-2.80M206.00 704.04h-2.80M206.00 702.01h-2.80M206.00 700.58h-2.80M206.00 699.46h-2.80M206.00 698.55h-2.80M206.00 697.78h-2.80M206.00 697.11h-2.80M206.00 696.53h-2.80M206.00 696.00h-2.80M206.00 692.54h-2.80M206.00 690.51h-2.80M206.00 689.08h-2.80M206.00 687.96h-2.80M206.00 687.05h-2.80M206.00 686.28h-2.80M206.00 685.61h-2.80M206.00 685.03h-2.80M206.00 684.50h-2.80M206.00 681.04h-2.80M206.00 679.01h-2.80M206.00 677.58h-2.80M206.00 676.46h-2.80M206.00 675.55h-2.80M206.00 674.78h-2.80M206.00 674.11h-2.80M206.00 673.53h-2.80" stroke="#000" stroke-width="1.0" fill="none"/>
<path d="M206.00 742.00v2.20M209.46 742.00v2.20M211.49 742.00v2.20M212.92 742.00v2.20M214.04 742.00v2.20M214.95 742.00v2.20M215.72 742.00v2.20M216.39 742.00v2.20M216.97 742.00v2.20M217.50 742.00v2.20M220.96 742.00v2.20M222.99 742.00v2.20M224.42 742.00v2.20M225.54 742.00v2.20M226.45 742.00v2.20M227.22 742.00v2.20M227.89 742.00v2.20M228.47 742.00v2.20M229.00 742.00v2.20M232.46 742.00v2.20M234.49 742.00v2.20M235.92 742.00v2.20M237.04 742.00v2.20M237.95 742.00v2.20M238.72 742.00v2.20M239.39 742.00v2.20M239.97 742.00v2.20M240.50 742.00v2.20M243.96 742.00v2.20M245.99 742.00v2.20M247.42 742.00v2.20M248.54 742.00v2.20M249.45 742.00v2.20M250.22 742.00v2.20M250.89 742.00v2.20M251.47 742.00v2.20M252.00 742.00v2.20M255.46 742.00v2.20M257.49 742.00v2.20M258.92 742.00v2.20M260.04 742.00v2.20M260.95 742.00v2.20M261.72 742.00v2.20M262.39 742.00v2.20M262.97 742.00v2.20M263.50 742.00v2.20M266.96 742.00v2.20M268.99 742.00v2.20M270.42 742.00v2.20M271.54 742.00v2.20M272.45 742.00v2.20M273.22 742.00v2.20M273.89 742.00v2.20M274.47 742.00v2.20" stroke="#000" stroke-width="1.0" fill="none"/>
<line x1="231.5" y1="672.3" x2="231.5" y2="742.0" stroke="#000" stroke-width="1.2" />
<line x1="206.0" y1="715.0" x2="275.0" y2="715.0" stroke="#000" stroke-width="1.2" />
<text font-size="12" stroke="#111" stroke-width="0.3" text-anchor="end" transform="translate(273.2 685.3) scale(1.06 1)" fill="#111" >7.5%</text>
<path d="M223.8 721.9h1.1v1.1h-1.1zM221.5 716.4h1.1v1.1h-1.1zM212.4 722.1h1.1v1.1h-1.1zM219.0 725.7h1.1v1.1h-1.1zM231.6 721.4h1.1v1.1h-1.1zM226.4 726.7h1.1v1.1h-1.1zM223.9 722.7h1.1v1.1h-1.1zM225.5 720.7h1.1v1.1h-1.1zM228.6 727.4h1.1v1.1h-1.1zM231.9 720.6h1.1v1.1h-1.1zM227.7 714.2h1.1v1.1h-1.1zM224.9 724.5h1.1v1.1h-1.1zM223.6 713.3h1.1v1.1h-1.1zM232.6 722.1h1.1v1.1h-1.1zM217.7 722.9h1.1v1.1h-1.1zM232.5 728.2h1.1v1.1h-1.1zM217.1 719.9h1.1v1.1h-1.1zM234.1 716.8h1.1v1.1h-1.1zM223.3 719.5h1.1v1.1h-1.1zM227.4 726.1h1.1v1.1h-1.1zM227.6 715.5h1.1v1.1h-1.1zM227.8 731.6h1.1v1.1h-1.1zM210.7 726.2h1.1v1.1h-1.1zM219.4 718.1h1.1v1.1h-1.1zM220.9 736.2h1.1v1.1h-1.1zM218.6 725.7h1.1v1.1h-1.1zM222.1 726.8h1.1v1.1h-1.1zM230.4 724.6h1.1v1.1h-1.1zM220.1 728.3h1.1v1.1h-1.1zM229.6 723.4h1.1v1.1h-1.1zM221.4 719.5h1.1v1.1h-1.1zM227.3 720.9h1.1v1.1h-1.1zM217.8 728.2h1.1v1.1h-1.1zM225.4 717.8h1.1v1.1h-1.1zM220.9 723.4h1.1v1.1h-1.1zM229.0 721.0h1.1v1.1h-1.1zM231.3 729.7h1.1v1.1h-1.1zM229.5 724.4h1.1v1.1h-1.1zM217.7 722.4h1.1v1.1h-1.1zM222.7 719.9h1.1v1.1h-1.1zM243.7 693.6h1.1v1.1h-1.1zM235.0 689.3h1.1v1.1h-1.1zM239.4 691.2h1.1v1.1h-1.1zM237.9 692.9h1.1v1.1h-1.1zM248.9 691.8h1.1v1.1h-1.1zM251.5 690.0h1.1v1.1h-1.1zM250.8 687.7h1.1v1.1h-1.1zM250.5 693.5h1.1v1.1h-1.1zM246.5 689.0h1.1v1.1h-1.1zM247.1 692.9h1.1v1.1h-1.1zM239.0 689.9h1.1v1.1h-1.1zM235.5 690.9h1.1v1.1h-1.1zM247.6 689.7h1.1v1.1h-1.1zM240.7 693.7h1.1v1.1h-1.1zM246.0 690.6h1.1v1.1h-1.1zM245.2 691.6h1.1v1.1h-1.1zM237.4 691.4h1.1v1.1h-1.1zM241.9 692.9h1.1v1.1h-1.1zM249.4 690.1h1.1v1.1h-1.1zM240.9 688.8h1.1v1.1h-1.1zM243.9 692.0h1.1v1.1h-1.1zM244.0 692.0h1.1v1.1h-1.1zM250.4 689.7h1.1v1.1h-1.1zM250.9 690.0h1.1v1.1h-1.1zM247.6 691.1h1.1v1.1h-1.1zM243.3 692.7h1.1v1.1h-1.1zM239.7 710.2h1.1v1.1h-1.1zM236.7 707.8h1.1v1.1h-1.1zM240.3 697.3h1.1v1.1h-1.1zM234.4 692.8h1.1v1.1h-1.1zM239.0 703.4h1.1v1.1h-1.1zM239.1 709.0h1.1v1.1h-1.1zM242.2 703.9h1.1v1.1h-1.1zM242.8 695.3h1.1v1.1h-1.1zM241.1 695.8h1.1v1.1h-1.1zM244.7 695.3h1.1v1.1h-1.1zM241.2 711.7h1.1v1.1h-1.1zM248.7 694.4h1.1v1.1h-1.1zM235.8 692.7h1.1v1.1h-1.1zM237.7 697.5h1.1v1.1h-1.1zM239.0 713.1h1.1v1.1h-1.1zM238.9 698.3h1.1v1.1h-1.1zM233.9 695.1h1.1v1.1h-1.1zM247.5 694.9h1.1v1.1h-1.1zM236.1 699.0h1.1v1.1h-1.1zM240.1 704.8h1.1v1.1h-1.1zM243.4 693.0h1.1v1.1h-1.1zM238.2 700.2h1.1v1.1h-1.1zM242.1 693.3h1.1v1.1h-1.1zM236.1 697.5h1.1v1.1h-1.1zM240.0 699.0h1.1v1.1h-1.1zM243.2 706.8h1.1v1.1h-1.1zM239.3 695.2h1.1v1.1h-1.1zM238.3 710.1h1.1v1.1h-1.1zM244.5 695.9h1.1v1.1h-1.1zM234.5 707.2h1.1v1.1h-1.1zM244.8 696.9h1.1v1.1h-1.1zM242.2 710.5h1.1v1.1h-1.1zM242.0 708.0h1.1v1.1h-1.1zM235.8 712.8h1.1v1.1h-1.1zM244.0 705.6h1.1v1.1h-1.1zM235.9 699.9h1.1v1.1h-1.1zM238.6 702.1h1.1v1.1h-1.1zM237.5 693.9h1.1v1.1h-1.1zM244.5 701.4h1.1v1.1h-1.1zM242.7 696.6h1.1v1.1h-1.1zM242.6 703.9h1.1v1.1h-1.1zM238.5 702.8h1.1v1.1h-1.1zM244.6 708.7h1.1v1.1h-1.1zM251.2 711.6h1.1v1.1h-1.1zM236.8 712.0h1.1v1.1h-1.1zM247.9 712.7h1.1v1.1h-1.1zM240.5 693.8h1.1v1.1h-1.1zM241.6 694.0h1.1v1.1h-1.1zM239.1 702.2h1.1v1.1h-1.1zM238.3 699.8h1.1v1.1h-1.1zM239.3 707.9h1.1v1.1h-1.1zM238.3 713.1h1.1v1.1h-1.1zM238.3 708.3h1.1v1.1h-1.1zM243.4 698.7h1.1v1.1h-1.1zM247.1 696.9h1.1v1.1h-1.1zM228.5 702.3h1.1v1.1h-1.1zM242.6 700.7h1.1v1.1h-1.1zM243.6 713.4h1.1v1.1h-1.1zM237.7 709.8h1.1v1.1h-1.1zM227.0 724.3h1.1v1.1h-1.1zM240.2 722.3h1.1v1.1h-1.1zM243.0 719.1h1.1v1.1h-1.1zM256.5 724.8h1.1v1.1h-1.1zM245.0 719.9h1.1v1.1h-1.1zM245.7 720.1h1.1v1.1h-1.1zM240.0 722.6h1.1v1.1h-1.1zM257.8 718.1h1.1v1.1h-1.1zM248.7 721.5h1.1v1.1h-1.1zM229.0 719.0h1.1v1.1h-1.1zM244.7 723.3h1.1v1.1h-1.1zM241.2 728.3h1.1v1.1h-1.1zM248.6 721.3h1.1v1.1h-1.1zM236.1 723.6h1.1v1.1h-1.1z" fill="#111" fill-opacity="0.6"/>
<path d="M228.9 720.3h1.1v1.1h-1.1zM224.0 720.2h1.1v1.1h-1.1zM227.1 719.9h1.1v1.1h-1.1zM225.1 723.2h1.1v1.1h-1.1zM226.2 718.0h1.1v1.1h-1.1zM227.9 721.2h1.1v1.1h-1.1zM230.0 722.8h1.1v1.1h-1.1zM226.0 719.7h1.1v1.1h-1.1zM230.3 721.5h1.1v1.1h-1.1zM223.9 721.5h1.1v1.1h-1.1zM227.5 723.9h1.1v1.1h-1.1zM229.4 725.3h1.1v1.1h-1.1zM225.2 725.7h1.1v1.1h-1.1zM224.8 722.3h1.1v1.1h-1.1zM227.8 725.2h1.1v1.1h-1.1zM228.2 716.2h1.1v1.1h-1.1zM228.5 722.5h1.1v1.1h-1.1zM228.4 721.8h1.1v1.1h-1.1zM225.0 725.6h1.1v1.1h-1.1zM228.7 718.8h1.1v1.1h-1.1zM229.1 722.6h1.1v1.1h-1.1zM228.7 722.4h1.1v1.1h-1.1zM223.5 722.2h1.1v1.1h-1.1zM228.5 722.7h1.1v1.1h-1.1zM228.4 718.4h1.1v1.1h-1.1zM224.4 721.7h1.1v1.1h-1.1zM227.4 725.9h1.1v1.1h-1.1zM230.4 720.1h1.1v1.1h-1.1zM229.6 719.1h1.1v1.1h-1.1zM227.4 721.6h1.1v1.1h-1.1zM226.3 720.3h1.1v1.1h-1.1zM224.4 725.0h1.1v1.1h-1.1zM224.9 720.8h1.1v1.1h-1.1zM222.1 718.9h1.1v1.1h-1.1zM224.6 723.6h1.1v1.1h-1.1zM222.5 719.0h1.1v1.1h-1.1zM222.0 718.6h1.1v1.1h-1.1zM224.9 716.0h1.1v1.1h-1.1zM228.5 724.9h1.1v1.1h-1.1zM227.6 722.6h1.1v1.1h-1.1zM225.9 727.8h1.1v1.1h-1.1zM227.1 723.8h1.1v1.1h-1.1zM231.3 715.6h1.1v1.1h-1.1zM225.7 719.8h1.1v1.1h-1.1zM226.7 720.9h1.1v1.1h-1.1zM227.6 721.3h1.1v1.1h-1.1zM226.6 723.7h1.1v1.1h-1.1zM227.4 719.1h1.1v1.1h-1.1zM227.2 718.9h1.1v1.1h-1.1zM226.0 724.0h1.1v1.1h-1.1zM229.6 721.0h1.1v1.1h-1.1zM231.9 716.6h1.1v1.1h-1.1zM227.5 720.8h1.1v1.1h-1.1zM223.2 725.7h1.1v1.1h-1.1zM227.6 722.1h1.1v1.1h-1.1zM227.5 722.5h1.1v1.1h-1.1zM224.6 718.7h1.1v1.1h-1.1zM227.5 721.3h1.1v1.1h-1.1zM223.4 719.0h1.1v1.1h-1.1zM227.6 722.3h1.1v1.1h-1.1zM230.7 718.9h1.1v1.1h-1.1zM228.4 721.5h1.1v1.1h-1.1zM225.3 721.2h1.1v1.1h-1.1zM225.7 723.0h1.1v1.1h-1.1zM229.8 721.8h1.1v1.1h-1.1zM221.6 723.4h1.1v1.1h-1.1zM229.0 720.5h1.1v1.1h-1.1zM230.1 721.4h1.1v1.1h-1.1zM228.7 722.8h1.1v1.1h-1.1zM229.8 719.2h1.1v1.1h-1.1zM223.7 720.3h1.1v1.1h-1.1zM229.5 724.2h1.1v1.1h-1.1zM227.6 721.0h1.1v1.1h-1.1zM226.9 719.5h1.1v1.1h-1.1zM229.4 724.1h1.1v1.1h-1.1zM227.0 720.3h1.1v1.1h-1.1zM229.0 723.6h1.1v1.1h-1.1zM228.9 723.7h1.1v1.1h-1.1zM227.2 721.5h1.1v1.1h-1.1zM225.6 723.3h1.1v1.1h-1.1zM229.7 723.3h1.1v1.1h-1.1zM228.8 719.5h1.1v1.1h-1.1zM222.5 722.7h1.1v1.1h-1.1zM228.3 715.3h1.1v1.1h-1.1zM226.6 723.4h1.1v1.1h-1.1zM228.7 718.7h1.1v1.1h-1.1zM227.3 720.4h1.1v1.1h-1.1zM226.4 720.6h1.1v1.1h-1.1zM228.0 722.1h1.1v1.1h-1.1zM226.0 724.4h1.1v1.1h-1.1zM221.2 719.5h1.1v1.1h-1.1zM224.5 724.6h1.1v1.1h-1.1zM225.3 724.1h1.1v1.1h-1.1zM226.8 722.0h1.1v1.1h-1.1zM228.5 725.2h1.1v1.1h-1.1zM226.1 718.1h1.1v1.1h-1.1zM224.8 723.9h1.1v1.1h-1.1zM228.2 722.8h1.1v1.1h-1.1zM229.9 719.9h1.1v1.1h-1.1zM225.1 724.7h1.1v1.1h-1.1zM224.7 723.0h1.1v1.1h-1.1zM225.1 724.2h1.1v1.1h-1.1zM229.3 716.8h1.1v1.1h-1.1zM227.3 724.4h1.1v1.1h-1.1zM230.7 726.3h1.1v1.1h-1.1zM229.6 722.5h1.1v1.1h-1.1zM229.5 720.4h1.1v1.1h-1.1zM226.4 722.1h1.1v1.1h-1.1zM229.5 722.8h1.1v1.1h-1.1zM224.8 723.3h1.1v1.1h-1.1zM229.1 721.2h1.1v1.1h-1.1zM226.5 723.0h1.1v1.1h-1.1zM224.8 721.7h1.1v1.1h-1.1zM222.6 723.3h1.1v1.1h-1.1zM229.7 720.4h1.1v1.1h-1.1zM221.4 720.4h1.1v1.1h-1.1zM222.9 719.1h1.1v1.1h-1.1zM225.1 721.1h1.1v1.1h-1.1zM226.4 717.7h1.1v1.1h-1.1zM221.4 725.4h1.1v1.1h-1.1zM232.5 720.3h1.1v1.1h-1.1zM226.0 724.9h1.1v1.1h-1.1zM226.4 720.4h1.1v1.1h-1.1zM226.3 722.1h1.1v1.1h-1.1zM233.3 719.6h1.1v1.1h-1.1zM228.4 723.7h1.1v1.1h-1.1zM232.7 722.8h1.1v1.1h-1.1zM221.8 724.4h1.1v1.1h-1.1zM227.7 724.3h1.1v1.1h-1.1zM228.4 724.5h1.1v1.1h-1.1zM224.3 719.7h1.1v1.1h-1.1zM224.4 721.9h1.1v1.1h-1.1zM227.1 721.4h1.1v1.1h-1.1zM230.0 723.4h1.1v1.1h-1.1zM230.9 718.4h1.1v1.1h-1.1zM229.7 726.7h1.1v1.1h-1.1zM224.1 724.3h1.1v1.1h-1.1zM223.3 720.7h1.1v1.1h-1.1zM228.7 716.6h1.1v1.1h-1.1zM227.0 727.0h1.1v1.1h-1.1zM226.9 725.5h1.1v1.1h-1.1zM230.0 723.2h1.1v1.1h-1.1zM227.9 729.6h1.1v1.1h-1.1zM224.5 720.7h1.1v1.1h-1.1zM227.7 720.9h1.1v1.1h-1.1zM224.9 718.8h1.1v1.1h-1.1zM229.5 720.5h1.1v1.1h-1.1zM237.5 723.2h1.1v1.1h-1.1zM230.5 721.9h1.1v1.1h-1.1zM225.3 722.2h1.1v1.1h-1.1zM229.0 719.0h1.1v1.1h-1.1zM224.7 721.5h1.1v1.1h-1.1zM228.8 722.6h1.1v1.1h-1.1zM228.5 721.2h1.1v1.1h-1.1zM224.3 723.2h1.1v1.1h-1.1zM226.1 720.6h1.1v1.1h-1.1zM228.9 723.8h1.1v1.1h-1.1zM224.9 720.6h1.1v1.1h-1.1zM227.6 722.6h1.1v1.1h-1.1zM226.0 724.2h1.1v1.1h-1.1zM226.4 720.0h1.1v1.1h-1.1zM226.2 725.9h1.1v1.1h-1.1zM227.2 722.3h1.1v1.1h-1.1zM231.5 717.9h1.1v1.1h-1.1zM226.8 723.8h1.1v1.1h-1.1zM225.3 723.1h1.1v1.1h-1.1zM225.4 716.9h1.1v1.1h-1.1zM224.9 720.1h1.1v1.1h-1.1zM227.4 715.9h1.1v1.1h-1.1zM229.8 723.8h1.1v1.1h-1.1zM233.1 725.3h1.1v1.1h-1.1zM226.2 719.3h1.1v1.1h-1.1zM225.6 720.1h1.1v1.1h-1.1zM229.9 721.2h1.1v1.1h-1.1zM229.7 721.5h1.1v1.1h-1.1zM227.4 718.5h1.1v1.1h-1.1zM227.4 723.3h1.1v1.1h-1.1zM223.5 722.5h1.1v1.1h-1.1zM227.5 720.4h1.1v1.1h-1.1zM224.4 723.8h1.1v1.1h-1.1zM226.1 723.4h1.1v1.1h-1.1zM225.4 724.8h1.1v1.1h-1.1zM228.4 723.1h1.1v1.1h-1.1zM220.6 724.2h1.1v1.1h-1.1zM224.6 723.3h1.1v1.1h-1.1zM229.9 720.7h1.1v1.1h-1.1zM226.5 723.0h1.1v1.1h-1.1zM223.7 724.2h1.1v1.1h-1.1zM225.9 725.9h1.1v1.1h-1.1zM225.8 721.6h1.1v1.1h-1.1zM230.0 720.9h1.1v1.1h-1.1zM223.3 721.6h1.1v1.1h-1.1zM228.1 723.5h1.1v1.1h-1.1zM225.0 720.0h1.1v1.1h-1.1zM224.8 722.5h1.1v1.1h-1.1zM223.8 721.2h1.1v1.1h-1.1zM230.8 719.5h1.1v1.1h-1.1zM225.7 714.7h1.1v1.1h-1.1zM229.6 718.6h1.1v1.1h-1.1zM225.0 723.2h1.1v1.1h-1.1zM224.8 720.1h1.1v1.1h-1.1zM226.7 723.0h1.1v1.1h-1.1zM222.5 721.5h1.1v1.1h-1.1zM226.2 720.5h1.1v1.1h-1.1zM229.3 724.1h1.1v1.1h-1.1zM232.0 722.9h1.1v1.1h-1.1zM229.0 718.7h1.1v1.1h-1.1zM228.0 724.6h1.1v1.1h-1.1zM225.8 719.8h1.1v1.1h-1.1zM223.4 720.6h1.1v1.1h-1.1zM229.1 717.8h1.1v1.1h-1.1zM223.9 720.4h1.1v1.1h-1.1zM228.2 718.5h1.1v1.1h-1.1zM225.0 720.6h1.1v1.1h-1.1zM230.1 722.1h1.1v1.1h-1.1zM230.9 726.6h1.1v1.1h-1.1zM230.1 725.6h1.1v1.1h-1.1zM226.6 723.4h1.1v1.1h-1.1zM224.3 722.0h1.1v1.1h-1.1zM230.0 719.7h1.1v1.1h-1.1zM229.0 721.9h1.1v1.1h-1.1zM229.8 722.1h1.1v1.1h-1.1zM224.4 722.7h1.1v1.1h-1.1zM224.3 720.5h1.1v1.1h-1.1zM226.6 718.1h1.1v1.1h-1.1zM228.7 725.9h1.1v1.1h-1.1zM228.6 721.1h1.1v1.1h-1.1zM233.1 719.3h1.1v1.1h-1.1zM221.7 723.5h1.1v1.1h-1.1zM227.7 721.1h1.1v1.1h-1.1zM227.0 721.3h1.1v1.1h-1.1zM223.4 719.0h1.1v1.1h-1.1zM224.6 726.9h1.1v1.1h-1.1zM225.6 719.2h1.1v1.1h-1.1zM227.1 723.2h1.1v1.1h-1.1zM230.1 721.4h1.1v1.1h-1.1zM225.0 722.5h1.1v1.1h-1.1zM225.6 722.2h1.1v1.1h-1.1zM227.2 725.4h1.1v1.1h-1.1zM229.6 722.9h1.1v1.1h-1.1zM231.9 723.1h1.1v1.1h-1.1zM230.7 725.7h1.1v1.1h-1.1zM230.6 716.0h1.1v1.1h-1.1zM227.7 725.3h1.1v1.1h-1.1zM233.9 720.8h1.1v1.1h-1.1zM226.2 721.4h1.1v1.1h-1.1zM227.9 722.1h1.1v1.1h-1.1zM225.7 727.7h1.1v1.1h-1.1zM226.2 719.7h1.1v1.1h-1.1zM226.7 721.4h1.1v1.1h-1.1zM224.1 722.6h1.1v1.1h-1.1zM232.8 721.1h1.1v1.1h-1.1zM219.0 718.6h1.1v1.1h-1.1zM223.3 720.8h1.1v1.1h-1.1zM229.6 722.4h1.1v1.1h-1.1zM228.2 718.8h1.1v1.1h-1.1zM223.9 721.0h1.1v1.1h-1.1zM226.6 722.2h1.1v1.1h-1.1zM227.8 722.9h1.1v1.1h-1.1zM227.6 721.8h1.1v1.1h-1.1zM223.0 714.8h1.1v1.1h-1.1zM223.1 718.9h1.1v1.1h-1.1zM230.1 725.0h1.1v1.1h-1.1zM224.8 726.6h1.1v1.1h-1.1zM227.9 723.5h1.1v1.1h-1.1zM224.9 722.5h1.1v1.1h-1.1zM228.4 725.3h1.1v1.1h-1.1zM225.1 715.1h1.1v1.1h-1.1zM224.5 720.9h1.1v1.1h-1.1zM223.8 724.2h1.1v1.1h-1.1zM220.7 721.9h1.1v1.1h-1.1zM219.8 722.9h1.1v1.1h-1.1zM224.3 723.6h1.1v1.1h-1.1zM229.0 720.9h1.1v1.1h-1.1zM226.4 722.0h1.1v1.1h-1.1zM225.8 722.8h1.1v1.1h-1.1zM228.6 726.4h1.1v1.1h-1.1zM227.4 720.7h1.1v1.1h-1.1zM223.6 721.9h1.1v1.1h-1.1zM229.0 721.3h1.1v1.1h-1.1zM223.9 722.8h1.1v1.1h-1.1zM225.7 721.9h1.1v1.1h-1.1zM223.1 721.4h1.1v1.1h-1.1zM229.3 723.6h1.1v1.1h-1.1zM230.4 717.3h1.1v1.1h-1.1zM223.5 721.4h1.1v1.1h-1.1zM225.4 719.5h1.1v1.1h-1.1zM225.0 720.2h1.1v1.1h-1.1zM222.3 722.8h1.1v1.1h-1.1zM223.0 722.0h1.1v1.1h-1.1zM225.8 724.1h1.1v1.1h-1.1zM224.1 720.8h1.1v1.1h-1.1zM224.9 723.8h1.1v1.1h-1.1zM227.5 725.1h1.1v1.1h-1.1zM227.3 720.2h1.1v1.1h-1.1zM223.7 720.7h1.1v1.1h-1.1zM223.0 720.8h1.1v1.1h-1.1zM226.5 722.1h1.1v1.1h-1.1zM225.9 724.8h1.1v1.1h-1.1zM220.9 720.5h1.1v1.1h-1.1zM223.3 720.4h1.1v1.1h-1.1zM225.9 726.3h1.1v1.1h-1.1zM232.0 722.9h1.1v1.1h-1.1zM224.1 723.5h1.1v1.1h-1.1zM224.2 720.0h1.1v1.1h-1.1zM227.9 721.1h1.1v1.1h-1.1zM230.3 721.2h1.1v1.1h-1.1zM227.8 723.1h1.1v1.1h-1.1zM229.7 720.1h1.1v1.1h-1.1zM227.2 724.1h1.1v1.1h-1.1zM227.9 723.2h1.1v1.1h-1.1zM233.6 723.5h1.1v1.1h-1.1zM225.4 720.0h1.1v1.1h-1.1zM233.9 722.4h1.1v1.1h-1.1zM227.2 720.7h1.1v1.1h-1.1zM227.7 718.7h1.1v1.1h-1.1zM229.2 720.1h1.1v1.1h-1.1zM226.5 722.1h1.1v1.1h-1.1zM224.7 722.0h1.1v1.1h-1.1zM227.4 720.1h1.1v1.1h-1.1zM227.6 719.6h1.1v1.1h-1.1zM226.3 717.9h1.1v1.1h-1.1zM229.0 719.0h1.1v1.1h-1.1zM226.2 723.7h1.1v1.1h-1.1zM227.4 722.7h1.1v1.1h-1.1zM227.1 723.9h1.1v1.1h-1.1zM226.7 721.5h1.1v1.1h-1.1zM223.8 723.4h1.1v1.1h-1.1zM230.3 723.3h1.1v1.1h-1.1zM229.7 724.5h1.1v1.1h-1.1zM231.3 724.1h1.1v1.1h-1.1zM226.8 722.9h1.1v1.1h-1.1zM228.3 722.4h1.1v1.1h-1.1zM228.9 722.3h1.1v1.1h-1.1zM228.8 720.1h1.1v1.1h-1.1zM224.8 725.8h1.1v1.1h-1.1zM227.9 721.7h1.1v1.1h-1.1zM227.4 719.6h1.1v1.1h-1.1zM228.1 722.6h1.1v1.1h-1.1zM223.1 716.2h1.1v1.1h-1.1zM224.7 725.5h1.1v1.1h-1.1zM225.3 723.1h1.1v1.1h-1.1zM226.8 724.0h1.1v1.1h-1.1zM228.8 725.5h1.1v1.1h-1.1zM229.4 721.7h1.1v1.1h-1.1zM226.3 721.3h1.1v1.1h-1.1zM229.6 719.3h1.1v1.1h-1.1zM225.1 721.2h1.1v1.1h-1.1zM230.3 724.8h1.1v1.1h-1.1zM227.1 721.5h1.1v1.1h-1.1zM226.6 720.2h1.1v1.1h-1.1zM230.3 721.4h1.1v1.1h-1.1zM231.8 721.8h1.1v1.1h-1.1zM227.0 719.7h1.1v1.1h-1.1zM229.6 722.7h1.1v1.1h-1.1zM226.4 721.2h1.1v1.1h-1.1zM225.8 721.0h1.1v1.1h-1.1zM226.2 723.3h1.1v1.1h-1.1zM230.0 721.5h1.1v1.1h-1.1zM227.6 727.1h1.1v1.1h-1.1zM228.8 718.0h1.1v1.1h-1.1zM223.1 723.6h1.1v1.1h-1.1zM226.5 724.6h1.1v1.1h-1.1zM223.9 722.6h1.1v1.1h-1.1zM223.0 725.8h1.1v1.1h-1.1zM230.5 719.3h1.1v1.1h-1.1zM227.2 719.7h1.1v1.1h-1.1zM228.6 721.6h1.1v1.1h-1.1zM222.6 724.2h1.1v1.1h-1.1zM223.5 717.5h1.1v1.1h-1.1zM226.1 719.9h1.1v1.1h-1.1zM229.8 721.1h1.1v1.1h-1.1zM226.5 726.8h1.1v1.1h-1.1zM228.4 718.9h1.1v1.1h-1.1zM225.4 718.2h1.1v1.1h-1.1zM223.9 723.0h1.1v1.1h-1.1zM230.2 718.3h1.1v1.1h-1.1zM218.7 722.9h1.1v1.1h-1.1zM230.8 723.2h1.1v1.1h-1.1zM224.3 722.4h1.1v1.1h-1.1zM230.1 722.5h1.1v1.1h-1.1zM227.2 720.3h1.1v1.1h-1.1zM230.3 714.8h1.1v1.1h-1.1zM229.2 723.7h1.1v1.1h-1.1zM224.6 723.2h1.1v1.1h-1.1zM228.7 722.1h1.1v1.1h-1.1zM230.2 717.9h1.1v1.1h-1.1zM229.0 719.5h1.1v1.1h-1.1zM225.8 722.3h1.1v1.1h-1.1zM224.5 724.7h1.1v1.1h-1.1zM227.6 721.3h1.1v1.1h-1.1zM226.0 721.5h1.1v1.1h-1.1zM228.2 720.6h1.1v1.1h-1.1zM223.9 719.7h1.1v1.1h-1.1zM228.7 723.6h1.1v1.1h-1.1zM225.7 723.2h1.1v1.1h-1.1zM226.3 722.7h1.1v1.1h-1.1zM221.9 717.4h1.1v1.1h-1.1zM224.0 722.6h1.1v1.1h-1.1zM225.3 722.5h1.1v1.1h-1.1zM224.6 718.8h1.1v1.1h-1.1zM229.3 721.9h1.1v1.1h-1.1zM230.7 722.5h1.1v1.1h-1.1zM231.8 719.4h1.1v1.1h-1.1zM231.8 720.9h1.1v1.1h-1.1zM229.1 723.6h1.1v1.1h-1.1zM222.6 717.8h1.1v1.1h-1.1zM227.2 720.4h1.1v1.1h-1.1zM224.9 720.0h1.1v1.1h-1.1zM229.2 723.0h1.1v1.1h-1.1zM227.1 721.4h1.1v1.1h-1.1zM224.3 719.9h1.1v1.1h-1.1zM227.8 719.0h1.1v1.1h-1.1zM229.1 725.8h1.1v1.1h-1.1zM230.7 722.1h1.1v1.1h-1.1zM226.9 722.6h1.1v1.1h-1.1zM231.1 724.0h1.1v1.1h-1.1zM231.9 724.0h1.1v1.1h-1.1zM232.2 723.7h1.1v1.1h-1.1zM230.6 720.8h1.1v1.1h-1.1zM223.2 723.0h1.1v1.1h-1.1zM227.9 720.2h1.1v1.1h-1.1zM229.8 719.9h1.1v1.1h-1.1zM226.5 719.9h1.1v1.1h-1.1zM230.5 719.5h1.1v1.1h-1.1zM225.2 723.0h1.1v1.1h-1.1zM227.9 718.7h1.1v1.1h-1.1zM231.6 718.6h1.1v1.1h-1.1zM224.7 718.5h1.1v1.1h-1.1zM230.9 723.9h1.1v1.1h-1.1zM225.9 721.0h1.1v1.1h-1.1zM228.0 721.6h1.1v1.1h-1.1zM229.5 724.8h1.1v1.1h-1.1zM225.3 718.4h1.1v1.1h-1.1zM224.9 727.6h1.1v1.1h-1.1zM228.4 722.4h1.1v1.1h-1.1zM225.3 723.4h1.1v1.1h-1.1zM224.0 718.1h1.1v1.1h-1.1zM225.6 720.0h1.1v1.1h-1.1zM224.3 722.0h1.1v1.1h-1.1zM223.4 722.7h1.1v1.1h-1.1zM231.3 723.5h1.1v1.1h-1.1zM226.4 717.5h1.1v1.1h-1.1zM228.7 721.8h1.1v1.1h-1.1zM224.5 718.0h1.1v1.1h-1.1zM220.7 721.0h1.1v1.1h-1.1zM225.5 723.4h1.1v1.1h-1.1zM224.8 723.3h1.1v1.1h-1.1zM225.0 726.1h1.1v1.1h-1.1zM226.7 725.7h1.1v1.1h-1.1zM226.1 721.8h1.1v1.1h-1.1zM221.7 724.3h1.1v1.1h-1.1zM222.0 720.2h1.1v1.1h-1.1zM218.7 719.5h1.1v1.1h-1.1zM229.5 720.9h1.1v1.1h-1.1zM229.9 724.3h1.1v1.1h-1.1zM227.4 725.3h1.1v1.1h-1.1zM226.3 721.6h1.1v1.1h-1.1zM224.4 721.5h1.1v1.1h-1.1zM228.4 724.8h1.1v1.1h-1.1zM225.0 721.4h1.1v1.1h-1.1zM226.0 721.1h1.1v1.1h-1.1zM232.3 720.5h1.1v1.1h-1.1zM230.7 716.6h1.1v1.1h-1.1zM230.6 719.4h1.1v1.1h-1.1zM223.4 722.3h1.1v1.1h-1.1zM220.4 724.0h1.1v1.1h-1.1zM229.0 719.9h1.1v1.1h-1.1zM229.0 723.7h1.1v1.1h-1.1zM223.8 725.8h1.1v1.1h-1.1zM228.9 718.7h1.1v1.1h-1.1zM230.0 721.6h1.1v1.1h-1.1zM229.9 722.5h1.1v1.1h-1.1zM226.6 718.1h1.1v1.1h-1.1zM225.4 722.9h1.1v1.1h-1.1zM230.1 717.5h1.1v1.1h-1.1zM225.9 722.3h1.1v1.1h-1.1zM224.5 720.5h1.1v1.1h-1.1zM225.5 724.1h1.1v1.1h-1.1zM227.1 723.0h1.1v1.1h-1.1zM223.8 720.8h1.1v1.1h-1.1zM223.9 725.4h1.1v1.1h-1.1zM225.2 722.6h1.1v1.1h-1.1zM227.9 724.6h1.1v1.1h-1.1zM223.5 720.2h1.1v1.1h-1.1zM225.5 719.9h1.1v1.1h-1.1zM225.5 718.9h1.1v1.1h-1.1zM227.3 722.9h1.1v1.1h-1.1zM221.7 720.8h1.1v1.1h-1.1zM230.3 718.2h1.1v1.1h-1.1zM226.7 718.5h1.1v1.1h-1.1zM227.8 723.5h1.1v1.1h-1.1zM227.2 719.8h1.1v1.1h-1.1zM223.8 723.8h1.1v1.1h-1.1zM227.9 721.2h1.1v1.1h-1.1zM230.1 724.6h1.1v1.1h-1.1zM226.4 720.8h1.1v1.1h-1.1zM233.4 724.8h1.1v1.1h-1.1zM230.8 723.8h1.1v1.1h-1.1zM221.2 722.1h1.1v1.1h-1.1zM226.2 721.1h1.1v1.1h-1.1zM225.6 719.2h1.1v1.1h-1.1zM231.3 720.5h1.1v1.1h-1.1zM227.2 723.8h1.1v1.1h-1.1zM224.3 722.8h1.1v1.1h-1.1zM226.0 721.9h1.1v1.1h-1.1zM227.1 719.6h1.1v1.1h-1.1zM229.0 721.9h1.1v1.1h-1.1zM228.3 722.9h1.1v1.1h-1.1zM224.7 719.6h1.1v1.1h-1.1zM228.1 722.5h1.1v1.1h-1.1zM228.8 720.0h1.1v1.1h-1.1zM228.8 723.2h1.1v1.1h-1.1zM227.1 722.4h1.1v1.1h-1.1zM225.9 721.4h1.1v1.1h-1.1zM229.4 722.7h1.1v1.1h-1.1zM227.3 721.3h1.1v1.1h-1.1zM226.2 720.9h1.1v1.1h-1.1zM227.1 721.7h1.1v1.1h-1.1zM229.7 720.5h1.1v1.1h-1.1zM226.9 721.5h1.1v1.1h-1.1zM227.2 722.0h1.1v1.1h-1.1zM225.9 723.3h1.1v1.1h-1.1zM229.4 723.8h1.1v1.1h-1.1zM229.4 722.0h1.1v1.1h-1.1zM229.3 722.7h1.1v1.1h-1.1zM227.9 722.1h1.1v1.1h-1.1zM228.0 720.9h1.1v1.1h-1.1zM224.7 723.9h1.1v1.1h-1.1zM228.9 720.5h1.1v1.1h-1.1zM229.5 722.2h1.1v1.1h-1.1zM224.7 720.4h1.1v1.1h-1.1zM225.4 725.1h1.1v1.1h-1.1zM229.1 721.4h1.1v1.1h-1.1zM222.4 723.0h1.1v1.1h-1.1zM226.3 720.5h1.1v1.1h-1.1zM225.8 724.2h1.1v1.1h-1.1zM226.5 722.4h1.1v1.1h-1.1zM228.6 720.6h1.1v1.1h-1.1zM227.7 722.1h1.1v1.1h-1.1zM230.7 719.9h1.1v1.1h-1.1zM229.0 722.5h1.1v1.1h-1.1zM229.0 719.3h1.1v1.1h-1.1zM225.1 721.8h1.1v1.1h-1.1zM223.8 720.1h1.1v1.1h-1.1zM227.7 722.7h1.1v1.1h-1.1zM225.4 724.1h1.1v1.1h-1.1zM227.7 719.4h1.1v1.1h-1.1zM227.8 724.5h1.1v1.1h-1.1zM227.5 722.1h1.1v1.1h-1.1zM229.0 720.6h1.1v1.1h-1.1zM224.5 722.0h1.1v1.1h-1.1zM225.5 722.1h1.1v1.1h-1.1zM228.4 723.5h1.1v1.1h-1.1zM225.6 723.8h1.1v1.1h-1.1zM227.9 719.9h1.1v1.1h-1.1zM226.4 721.3h1.1v1.1h-1.1zM226.1 722.2h1.1v1.1h-1.1zM227.6 722.5h1.1v1.1h-1.1zM226.3 722.8h1.1v1.1h-1.1zM227.7 720.5h1.1v1.1h-1.1zM226.8 722.5h1.1v1.1h-1.1zM225.8 725.0h1.1v1.1h-1.1zM222.6 722.9h1.1v1.1h-1.1zM224.0 721.4h1.1v1.1h-1.1zM224.5 724.8h1.1v1.1h-1.1zM226.0 722.6h1.1v1.1h-1.1zM228.8 724.3h1.1v1.1h-1.1zM227.9 721.6h1.1v1.1h-1.1zM223.9 721.2h1.1v1.1h-1.1zM224.5 723.7h1.1v1.1h-1.1zM225.3 724.0h1.1v1.1h-1.1zM228.7 721.2h1.1v1.1h-1.1zM228.7 720.2h1.1v1.1h-1.1zM226.5 724.4h1.1v1.1h-1.1zM228.5 720.4h1.1v1.1h-1.1zM224.8 724.9h1.1v1.1h-1.1zM226.9 720.5h1.1v1.1h-1.1zM225.3 721.1h1.1v1.1h-1.1zM226.1 725.1h1.1v1.1h-1.1zM225.7 725.9h1.1v1.1h-1.1zM223.4 724.1h1.1v1.1h-1.1zM228.6 722.2h1.1v1.1h-1.1zM230.4 720.5h1.1v1.1h-1.1zM227.6 719.8h1.1v1.1h-1.1zM222.7 725.3h1.1v1.1h-1.1zM226.1 723.3h1.1v1.1h-1.1zM230.8 723.0h1.1v1.1h-1.1zM226.3 719.6h1.1v1.1h-1.1zM224.6 719.1h1.1v1.1h-1.1zM225.9 721.4h1.1v1.1h-1.1zM223.1 720.5h1.1v1.1h-1.1zM225.0 723.1h1.1v1.1h-1.1zM225.5 721.4h1.1v1.1h-1.1zM228.4 723.9h1.1v1.1h-1.1zM227.5 721.3h1.1v1.1h-1.1zM224.7 720.8h1.1v1.1h-1.1zM227.8 721.4h1.1v1.1h-1.1zM227.1 724.6h1.1v1.1h-1.1zM228.5 722.3h1.1v1.1h-1.1zM223.6 721.2h1.1v1.1h-1.1zM230.0 719.8h1.1v1.1h-1.1zM228.6 723.2h1.1v1.1h-1.1zM224.3 721.6h1.1v1.1h-1.1zM224.8 721.7h1.1v1.1h-1.1zM228.2 724.0h1.1v1.1h-1.1zM227.6 719.1h1.1v1.1h-1.1zM222.4 719.9h1.1v1.1h-1.1zM227.8 723.9h1.1v1.1h-1.1zM226.7 719.1h1.1v1.1h-1.1zM228.8 720.6h1.1v1.1h-1.1zM226.6 720.6h1.1v1.1h-1.1zM224.4 726.8h1.1v1.1h-1.1zM224.9 723.6h1.1v1.1h-1.1zM222.9 721.6h1.1v1.1h-1.1zM223.7 724.8h1.1v1.1h-1.1zM225.3 720.6h1.1v1.1h-1.1zM225.1 721.6h1.1v1.1h-1.1zM228.9 721.3h1.1v1.1h-1.1zM228.3 721.4h1.1v1.1h-1.1zM227.3 716.9h1.1v1.1h-1.1zM227.5 722.5h1.1v1.1h-1.1zM226.3 723.8h1.1v1.1h-1.1zM229.9 722.9h1.1v1.1h-1.1zM228.8 722.7h1.1v1.1h-1.1zM227.6 724.2h1.1v1.1h-1.1zM228.9 722.1h1.1v1.1h-1.1zM226.7 721.5h1.1v1.1h-1.1zM227.3 722.2h1.1v1.1h-1.1zM226.9 719.0h1.1v1.1h-1.1zM228.8 725.0h1.1v1.1h-1.1zM228.6 722.9h1.1v1.1h-1.1zM225.2 719.9h1.1v1.1h-1.1zM227.3 721.7h1.1v1.1h-1.1zM230.4 724.3h1.1v1.1h-1.1zM227.4 720.3h1.1v1.1h-1.1zM229.4 721.1h1.1v1.1h-1.1zM229.7 724.2h1.1v1.1h-1.1zM228.6 718.9h1.1v1.1h-1.1zM225.7 718.8h1.1v1.1h-1.1zM226.8 720.0h1.1v1.1h-1.1zM226.5 721.6h1.1v1.1h-1.1zM225.1 720.6h1.1v1.1h-1.1zM229.6 719.8h1.1v1.1h-1.1zM224.5 724.0h1.1v1.1h-1.1zM224.0 721.9h1.1v1.1h-1.1zM228.0 721.1h1.1v1.1h-1.1zM228.0 724.3h1.1v1.1h-1.1zM228.2 719.5h1.1v1.1h-1.1zM225.5 719.5h1.1v1.1h-1.1zM228.1 722.3h1.1v1.1h-1.1zM223.4 722.0h1.1v1.1h-1.1zM225.0 724.3h1.1v1.1h-1.1zM226.6 723.4h1.1v1.1h-1.1zM228.4 722.7h1.1v1.1h-1.1zM225.8 721.9h1.1v1.1h-1.1zM226.9 721.6h1.1v1.1h-1.1zM225.7 720.5h1.1v1.1h-1.1zM227.7 720.6h1.1v1.1h-1.1zM229.5 720.7h1.1v1.1h-1.1zM225.5 725.1h1.1v1.1h-1.1zM224.9 720.9h1.1v1.1h-1.1zM224.2 720.6h1.1v1.1h-1.1zM226.7 723.0h1.1v1.1h-1.1zM224.5 720.9h1.1v1.1h-1.1zM227.8 721.5h1.1v1.1h-1.1zM226.2 722.5h1.1v1.1h-1.1zM224.8 722.6h1.1v1.1h-1.1zM227.3 724.8h1.1v1.1h-1.1zM226.3 721.2h1.1v1.1h-1.1zM220.6 721.6h1.1v1.1h-1.1zM221.1 721.3h1.1v1.1h-1.1zM227.5 722.8h1.1v1.1h-1.1zM226.7 723.1h1.1v1.1h-1.1zM228.0 722.4h1.1v1.1h-1.1zM223.5 723.6h1.1v1.1h-1.1zM226.5 721.3h1.1v1.1h-1.1zM225.7 719.4h1.1v1.1h-1.1zM226.8 722.0h1.1v1.1h-1.1zM226.9 720.8h1.1v1.1h-1.1zM227.4 723.1h1.1v1.1h-1.1zM225.8 717.5h1.1v1.1h-1.1zM228.7 718.6h1.1v1.1h-1.1zM227.0 719.7h1.1v1.1h-1.1zM228.1 721.5h1.1v1.1h-1.1zM227.6 722.1h1.1v1.1h-1.1zM228.3 722.2h1.1v1.1h-1.1zM228.3 721.4h1.1v1.1h-1.1zM227.0 720.4h1.1v1.1h-1.1zM223.2 723.6h1.1v1.1h-1.1zM229.6 720.4h1.1v1.1h-1.1zM226.2 721.9h1.1v1.1h-1.1zM228.1 718.7h1.1v1.1h-1.1zM231.6 722.1h1.1v1.1h-1.1zM223.9 722.0h1.1v1.1h-1.1zM227.0 722.1h1.1v1.1h-1.1zM224.6 719.9h1.1v1.1h-1.1zM227.1 722.1h1.1v1.1h-1.1zM225.0 722.0h1.1v1.1h-1.1zM226.2 725.5h1.1v1.1h-1.1zM239.9 692.6h1.1v1.1h-1.1zM240.4 690.9h1.1v1.1h-1.1zM239.3 691.1h1.1v1.1h-1.1zM237.4 691.9h1.1v1.1h-1.1zM239.7 691.3h1.1v1.1h-1.1zM242.4 691.2h1.1v1.1h-1.1zM239.8 692.4h1.1v1.1h-1.1zM236.3 692.1h1.1v1.1h-1.1zM240.9 690.7h1.1v1.1h-1.1zM239.3 691.1h1.1v1.1h-1.1zM241.2 690.5h1.1v1.1h-1.1zM240.4 690.1h1.1v1.1h-1.1zM247.2 690.1h1.1v1.1h-1.1zM238.3 690.0h1.1v1.1h-1.1zM245.7 691.5h1.1v1.1h-1.1zM246.6 690.5h1.1v1.1h-1.1zM240.4 690.6h1.1v1.1h-1.1zM238.7 690.8h1.1v1.1h-1.1zM238.6 691.3h1.1v1.1h-1.1zM247.9 692.6h1.1v1.1h-1.1zM239.6 691.1h1.1v1.1h-1.1zM243.1 690.0h1.1v1.1h-1.1zM238.0 691.8h1.1v1.1h-1.1zM243.2 690.1h1.1v1.1h-1.1zM245.8 689.7h1.1v1.1h-1.1zM244.8 690.6h1.1v1.1h-1.1zM241.7 690.1h1.1v1.1h-1.1zM237.5 690.4h1.1v1.1h-1.1zM238.4 692.1h1.1v1.1h-1.1zM235.7 690.6h1.1v1.1h-1.1zM237.9 689.8h1.1v1.1h-1.1zM248.4 690.2h1.1v1.1h-1.1zM247.2 692.4h1.1v1.1h-1.1zM248.3 691.6h1.1v1.1h-1.1zM245.2 691.7h1.1v1.1h-1.1zM243.7 690.5h1.1v1.1h-1.1zM244.4 691.3h1.1v1.1h-1.1zM246.2 689.3h1.1v1.1h-1.1zM239.9 691.2h1.1v1.1h-1.1zM248.0 689.5h1.1v1.1h-1.1zM239.7 689.3h1.1v1.1h-1.1zM245.4 689.4h1.1v1.1h-1.1zM244.6 691.2h1.1v1.1h-1.1zM239.6 691.3h1.1v1.1h-1.1zM244.0 692.2h1.1v1.1h-1.1zM237.1 691.1h1.1v1.1h-1.1zM238.0 690.6h1.1v1.1h-1.1zM244.8 692.0h1.1v1.1h-1.1zM247.8 690.9h1.1v1.1h-1.1zM246.6 691.2h1.1v1.1h-1.1z" fill="#111"/>
<line x1="278.9" y1="672.3" x2="351.0" y2="672.3" stroke="#111" stroke-width="1.2" />
<line x1="350.4" y1="672.3" x2="350.4" y2="742.0" stroke="#111" stroke-width="1.2" />
<line x1="281.9" y1="672.3" x2="281.9" y2="742.6" stroke="#111" stroke-width="1.2" />
<line x1="278.9" y1="742.0" x2="351.0" y2="742.0" stroke="#111" stroke-width="1.2" />
<path d="M281.90 742.00h-2.80M281.90 738.54h-2.80M281.90 736.51h-2.80M281.90 735.08h-2.80M281.90 733.96h-2.80M281.90 733.05h-2.80M281.90 732.28h-2.80M281.90 731.61h-2.80M281.90 731.03h-2.80M281.90 730.50h-2.80M281.90 727.04h-2.80M281.90 725.01h-2.80M281.90 723.58h-2.80M281.90 722.46h-2.80M281.90 721.55h-2.80M281.90 720.78h-2.80M281.90 720.11h-2.80M281.90 719.53h-2.80M281.90 719.00h-2.80M281.90 715.54h-2.80M281.90 713.51h-2.80M281.90 712.08h-2.80M281.90 710.96h-2.80M281.90 710.05h-2.80M281.90 709.28h-2.80M281.90 708.61h-2.80M281.90 708.03h-2.80M281.90 707.50h-2.80M281.90 704.04h-2.80M281.90 702.01h-2.80M281.90 700.58h-2.80M281.90 699.46h-2.80M281.90 698.55h-2.80M281.90 697.78h-2.80M281.90 697.11h-2.80M281.90 696.53h-2.80M281.90 696.00h-2.80M281.90 692.54h-2.80M281.90 690.51h-2.80M281.90 689.08h-2.80M281.90 687.96h-2.80M281.90 687.05h-2.80M281.90 686.28h-2.80M281.90 685.61h-2.80M281.90 685.03h-2.80M281.90 684.50h-2.80M281.90 681.04h-2.80M281.90 679.01h-2.80M281.90 677.58h-2.80M281.90 676.46h-2.80M281.90 675.55h-2.80M281.90 674.78h-2.80M281.90 674.11h-2.80M281.90 673.53h-2.80" stroke="#000" stroke-width="1.0" fill="none"/>
<path d="M281.90 742.00v2.20M285.36 742.00v2.20M287.39 742.00v2.20M288.82 742.00v2.20M289.94 742.00v2.20M290.85 742.00v2.20M291.62 742.00v2.20M292.29 742.00v2.20M292.87 742.00v2.20M293.40 742.00v2.20M296.86 742.00v2.20M298.89 742.00v2.20M300.32 742.00v2.20M301.44 742.00v2.20M302.35 742.00v2.20M303.12 742.00v2.20M303.79 742.00v2.20M304.37 742.00v2.20M304.90 742.00v2.20M308.36 742.00v2.20M310.39 742.00v2.20M311.82 742.00v2.20M312.94 742.00v2.20M313.85 742.00v2.20M314.62 742.00v2.20M315.29 742.00v2.20M315.87 742.00v2.20M316.40 742.00v2.20M319.86 742.00v2.20M321.89 742.00v2.20M323.32 742.00v2.20M324.44 742.00v2.20M325.35 742.00v2.20M326.12 742.00v2.20M326.79 742.00v2.20M327.37 742.00v2.20M327.90 742.00v2.20M331.36 742.00v2.20M333.39 742.00v2.20M334.82 742.00v2.20M335.94 742.00v2.20M336.85 742.00v2.20M337.62 742.00v2.20M338.29 742.00v2.20M338.87 742.00v2.20M339.40 742.00v2.20M342.86 742.00v2.20M344.89 742.00v2.20M346.32 742.00v2.20M347.44 742.00v2.20M348.35 742.00v2.20M349.12 742.00v2.20M349.79 742.00v2.20" stroke="#000" stroke-width="1.0" fill="none"/>
<line x1="306.5" y1="672.3" x2="306.5" y2="742.0" stroke="#000" stroke-width="1.2" />
<line x1="281.9" y1="715.0" x2="350.4" y2="715.0" stroke="#000" stroke-width="1.2" />
<text font-size="12" stroke="#111" stroke-width="0.3" text-anchor="end" transform="translate(348.6 685.3) scale(1.06 1)" fill="#111" >7.7%</text>
<path d="M301.8 718.9h1.1v1.1h-1.1zM307.5 723.0h1.1v1.1h-1.1zM305.8 721.7h1.1v1.1h-1.1zM310.6 724.0h1.1v1.1h-1.1zM296.8 717.9h1.1v1.1h-1.1zM300.6 723.7h1.1v1.1h-1.1zM295.2 724.5h1.1v1.1h-1.1zM308.2 718.5h1.1v1.1h-1.1zM305.5 717.4h1.1v1.1h-1.1zM296.9 729.1h1.1v1.1h-1.1zM300.2 724.6h1.1v1.1h-1.1zM308.7 727.9h1.1v1.1h-1.1zM294.9 728.1h1.1v1.1h-1.1zM302.2 723.5h1.1v1.1h-1.1zM310.1 718.8h1.1v1.1h-1.1zM298.3 726.6h1.1v1.1h-1.1zM290.3 728.8h1.1v1.1h-1.1zM296.4 726.4h1.1v1.1h-1.1zM297.5 726.9h1.1v1.1h-1.1zM298.4 720.9h1.1v1.1h-1.1zM304.8 725.3h1.1v1.1h-1.1zM290.2 721.3h1.1v1.1h-1.1zM298.8 722.3h1.1v1.1h-1.1zM310.3 727.1h1.1v1.1h-1.1zM305.0 726.8h1.1v1.1h-1.1zM297.0 718.5h1.1v1.1h-1.1zM299.8 715.6h1.1v1.1h-1.1zM310.0 721.2h1.1v1.1h-1.1zM306.1 718.5h1.1v1.1h-1.1zM291.7 725.7h1.1v1.1h-1.1zM303.1 721.5h1.1v1.1h-1.1zM298.1 724.7h1.1v1.1h-1.1zM301.8 729.3h1.1v1.1h-1.1zM290.4 717.0h1.1v1.1h-1.1zM300.6 724.6h1.1v1.1h-1.1zM292.4 726.2h1.1v1.1h-1.1zM303.7 723.8h1.1v1.1h-1.1zM301.3 719.7h1.1v1.1h-1.1zM294.3 730.1h1.1v1.1h-1.1zM296.8 718.5h1.1v1.1h-1.1zM324.5 691.5h1.1v1.1h-1.1zM312.7 689.8h1.1v1.1h-1.1zM319.5 692.3h1.1v1.1h-1.1zM313.3 688.0h1.1v1.1h-1.1zM312.7 691.4h1.1v1.1h-1.1zM310.1 689.1h1.1v1.1h-1.1zM307.6 688.4h1.1v1.1h-1.1zM315.7 692.3h1.1v1.1h-1.1zM320.3 688.6h1.1v1.1h-1.1zM326.0 691.4h1.1v1.1h-1.1zM310.3 692.7h1.1v1.1h-1.1zM324.6 687.3h1.1v1.1h-1.1zM320.0 688.7h1.1v1.1h-1.1zM314.0 690.4h1.1v1.1h-1.1zM317.1 689.3h1.1v1.1h-1.1zM319.4 691.0h1.1v1.1h-1.1zM321.8 689.3h1.1v1.1h-1.1zM317.8 690.2h1.1v1.1h-1.1zM317.5 690.2h1.1v1.1h-1.1zM309.3 688.4h1.1v1.1h-1.1zM314.8 688.2h1.1v1.1h-1.1zM315.7 689.0h1.1v1.1h-1.1zM326.1 689.0h1.1v1.1h-1.1zM323.5 690.1h1.1v1.1h-1.1zM308.5 689.1h1.1v1.1h-1.1zM313.2 707.5h1.1v1.1h-1.1zM311.9 706.4h1.1v1.1h-1.1zM315.4 702.6h1.1v1.1h-1.1zM313.4 699.5h1.1v1.1h-1.1zM312.8 710.3h1.1v1.1h-1.1zM317.1 702.0h1.1v1.1h-1.1zM312.6 704.2h1.1v1.1h-1.1zM313.9 705.9h1.1v1.1h-1.1zM317.1 697.9h1.1v1.1h-1.1zM317.1 704.2h1.1v1.1h-1.1zM324.5 700.6h1.1v1.1h-1.1zM320.0 712.4h1.1v1.1h-1.1zM321.0 711.8h1.1v1.1h-1.1zM315.9 701.7h1.1v1.1h-1.1zM310.6 698.7h1.1v1.1h-1.1zM318.5 697.4h1.1v1.1h-1.1zM319.4 703.0h1.1v1.1h-1.1zM311.5 702.1h1.1v1.1h-1.1zM316.3 698.2h1.1v1.1h-1.1zM308.2 698.9h1.1v1.1h-1.1zM313.4 701.2h1.1v1.1h-1.1zM315.2 694.5h1.1v1.1h-1.1zM312.7 699.2h1.1v1.1h-1.1zM311.4 696.8h1.1v1.1h-1.1zM314.5 711.5h1.1v1.1h-1.1zM317.4 702.0h1.1v1.1h-1.1zM311.1 713.0h1.1v1.1h-1.1zM313.5 705.2h1.1v1.1h-1.1zM317.4 692.0h1.1v1.1h-1.1zM319.8 713.9h1.1v1.1h-1.1zM314.3 701.4h1.1v1.1h-1.1zM311.7 712.0h1.1v1.1h-1.1zM315.5 704.8h1.1v1.1h-1.1zM307.6 696.3h1.1v1.1h-1.1zM311.5 695.3h1.1v1.1h-1.1zM310.2 693.2h1.1v1.1h-1.1zM305.7 699.2h1.1v1.1h-1.1zM313.1 706.0h1.1v1.1h-1.1zM321.0 711.5h1.1v1.1h-1.1zM319.5 698.6h1.1v1.1h-1.1zM313.2 701.5h1.1v1.1h-1.1zM308.1 711.4h1.1v1.1h-1.1zM317.7 694.6h1.1v1.1h-1.1zM315.5 710.2h1.1v1.1h-1.1zM314.3 706.5h1.1v1.1h-1.1zM311.6 703.3h1.1v1.1h-1.1zM310.7 704.5h1.1v1.1h-1.1zM312.8 704.3h1.1v1.1h-1.1zM312.9 695.6h1.1v1.1h-1.1zM318.0 705.9h1.1v1.1h-1.1zM315.7 705.0h1.1v1.1h-1.1zM311.9 700.6h1.1v1.1h-1.1zM315.1 692.8h1.1v1.1h-1.1zM315.8 708.4h1.1v1.1h-1.1zM316.7 703.2h1.1v1.1h-1.1zM316.9 696.3h1.1v1.1h-1.1zM310.5 696.9h1.1v1.1h-1.1zM312.3 706.9h1.1v1.1h-1.1zM308.2 699.4h1.1v1.1h-1.1zM306.9 709.1h1.1v1.1h-1.1zM314.9 720.3h1.1v1.1h-1.1zM325.5 723.6h1.1v1.1h-1.1zM318.8 723.4h1.1v1.1h-1.1zM329.6 726.3h1.1v1.1h-1.1zM326.4 725.5h1.1v1.1h-1.1zM321.0 726.7h1.1v1.1h-1.1zM316.8 724.5h1.1v1.1h-1.1zM315.8 723.6h1.1v1.1h-1.1zM326.8 721.9h1.1v1.1h-1.1zM327.4 726.5h1.1v1.1h-1.1zM325.6 727.3h1.1v1.1h-1.1zM322.6 716.3h1.1v1.1h-1.1zM310.6 722.4h1.1v1.1h-1.1zM323.3 717.7h1.1v1.1h-1.1z" fill="#111" fill-opacity="0.6"/>
<path d="M300.4 726.3h1.1v1.1h-1.1zM299.7 727.2h1.1v1.1h-1.1zM299.9 724.4h1.1v1.1h-1.1zM300.9 725.0h1.1v1.1h-1.1zM302.8 720.8h1.1v1.1h-1.1zM300.9 728.4h1.1v1.1h-1.1zM305.2 725.9h1.1v1.1h-1.1zM303.1 722.4h1.1v1.1h-1.1zM303.7 719.8h1.1v1.1h-1.1zM299.3 723.1h1.1v1.1h-1.1zM301.3 720.7h1.1v1.1h-1.1zM299.4 721.9h1.1v1.1h-1.1zM301.5 725.9h1.1v1.1h-1.1zM303.1 721.4h1.1v1.1h-1.1zM305.8 718.6h1.1v1.1h-1.1zM301.2 721.8h1.1v1.1h-1.1zM294.2 723.9h1.1v1.1h-1.1zM301.7 718.4h1.1v1.1h-1.1zM307.4 719.2h1.1v1.1h-1.1zM302.8 725.5h1.1v1.1h-1.1zM300.1 722.0h1.1v1.1h-1.1zM298.2 722.3h1.1v1.1h-1.1zM301.5 721.7h1.1v1.1h-1.1zM300.2 719.7h1.1v1.1h-1.1zM302.1 728.1h1.1v1.1h-1.1zM301.5 722.7h1.1v1.1h-1.1zM303.8 722.3h1.1v1.1h-1.1zM302.9 719.0h1.1v1.1h-1.1zM301.3 720.2h1.1v1.1h-1.1zM305.2 727.4h1.1v1.1h-1.1zM303.3 719.6h1.1v1.1h-1.1zM302.3 723.7h1.1v1.1h-1.1zM299.4 724.8h1.1v1.1h-1.1zM299.4 726.7h1.1v1.1h-1.1zM302.7 721.8h1.1v1.1h-1.1zM305.1 727.3h1.1v1.1h-1.1zM298.2 719.8h1.1v1.1h-1.1zM301.0 722.0h1.1v1.1h-1.1zM300.0 726.2h1.1v1.1h-1.1zM303.8 723.2h1.1v1.1h-1.1zM303.8 719.9h1.1v1.1h-1.1zM300.3 724.8h1.1v1.1h-1.1zM291.3 721.5h1.1v1.1h-1.1zM301.3 722.5h1.1v1.1h-1.1zM299.8 721.3h1.1v1.1h-1.1zM302.5 725.2h1.1v1.1h-1.1zM299.9 725.3h1.1v1.1h-1.1zM300.2 723.2h1.1v1.1h-1.1zM302.8 726.2h1.1v1.1h-1.1zM302.7 724.0h1.1v1.1h-1.1zM298.6 718.8h1.1v1.1h-1.1zM302.9 722.1h1.1v1.1h-1.1zM300.4 722.2h1.1v1.1h-1.1zM298.9 728.4h1.1v1.1h-1.1zM306.8 724.1h1.1v1.1h-1.1zM297.1 726.9h1.1v1.1h-1.1zM297.8 724.6h1.1v1.1h-1.1zM298.8 722.8h1.1v1.1h-1.1zM298.4 723.4h1.1v1.1h-1.1zM304.4 725.6h1.1v1.1h-1.1zM302.9 722.1h1.1v1.1h-1.1zM300.1 723.0h1.1v1.1h-1.1zM300.0 722.1h1.1v1.1h-1.1zM301.3 725.3h1.1v1.1h-1.1zM299.3 722.0h1.1v1.1h-1.1zM300.5 723.7h1.1v1.1h-1.1zM300.2 722.9h1.1v1.1h-1.1zM302.3 722.3h1.1v1.1h-1.1zM299.1 725.8h1.1v1.1h-1.1zM300.0 725.9h1.1v1.1h-1.1zM303.2 723.2h1.1v1.1h-1.1zM299.9 720.2h1.1v1.1h-1.1zM300.4 723.9h1.1v1.1h-1.1zM300.9 720.2h1.1v1.1h-1.1zM298.6 720.4h1.1v1.1h-1.1zM301.2 723.3h1.1v1.1h-1.1zM303.0 726.5h1.1v1.1h-1.1zM302.2 722.0h1.1v1.1h-1.1zM298.9 723.2h1.1v1.1h-1.1zM303.6 724.1h1.1v1.1h-1.1zM299.4 723.8h1.1v1.1h-1.1zM300.5 725.3h1.1v1.1h-1.1zM300.3 721.6h1.1v1.1h-1.1zM300.2 727.2h1.1v1.1h-1.1zM295.4 721.5h1.1v1.1h-1.1zM296.0 731.6h1.1v1.1h-1.1zM300.5 725.8h1.1v1.1h-1.1zM303.0 724.3h1.1v1.1h-1.1zM302.8 720.9h1.1v1.1h-1.1zM301.8 725.4h1.1v1.1h-1.1zM301.1 721.0h1.1v1.1h-1.1zM297.3 721.4h1.1v1.1h-1.1zM300.7 721.9h1.1v1.1h-1.1zM296.5 724.3h1.1v1.1h-1.1zM301.7 723.3h1.1v1.1h-1.1zM300.4 724.0h1.1v1.1h-1.1zM300.8 720.0h1.1v1.1h-1.1zM300.0 726.4h1.1v1.1h-1.1zM300.8 719.5h1.1v1.1h-1.1zM300.8 727.3h1.1v1.1h-1.1zM302.3 722.0h1.1v1.1h-1.1zM304.7 724.8h1.1v1.1h-1.1zM302.4 718.6h1.1v1.1h-1.1zM297.1 724.0h1.1v1.1h-1.1zM300.2 722.7h1.1v1.1h-1.1zM303.0 726.0h1.1v1.1h-1.1zM304.4 723.9h1.1v1.1h-1.1zM302.7 726.7h1.1v1.1h-1.1zM302.1 723.2h1.1v1.1h-1.1zM298.5 719.6h1.1v1.1h-1.1zM305.7 720.4h1.1v1.1h-1.1zM305.5 726.8h1.1v1.1h-1.1zM298.9 721.2h1.1v1.1h-1.1zM303.4 722.5h1.1v1.1h-1.1zM299.7 726.6h1.1v1.1h-1.1zM299.6 721.4h1.1v1.1h-1.1zM293.7 724.7h1.1v1.1h-1.1zM300.4 720.7h1.1v1.1h-1.1zM305.6 726.5h1.1v1.1h-1.1zM301.7 723.4h1.1v1.1h-1.1zM301.6 725.2h1.1v1.1h-1.1zM302.0 725.4h1.1v1.1h-1.1zM305.0 723.2h1.1v1.1h-1.1zM299.3 726.0h1.1v1.1h-1.1zM300.5 724.3h1.1v1.1h-1.1zM302.2 720.7h1.1v1.1h-1.1zM302.9 726.1h1.1v1.1h-1.1zM298.6 724.1h1.1v1.1h-1.1zM302.1 721.9h1.1v1.1h-1.1zM301.9 719.9h1.1v1.1h-1.1zM297.7 726.1h1.1v1.1h-1.1zM300.8 724.2h1.1v1.1h-1.1zM304.2 724.2h1.1v1.1h-1.1zM299.5 723.0h1.1v1.1h-1.1zM295.1 723.9h1.1v1.1h-1.1zM301.6 723.5h1.1v1.1h-1.1zM298.2 726.9h1.1v1.1h-1.1zM301.9 725.6h1.1v1.1h-1.1zM301.1 725.8h1.1v1.1h-1.1zM296.0 721.0h1.1v1.1h-1.1zM299.7 725.8h1.1v1.1h-1.1zM299.4 718.9h1.1v1.1h-1.1zM301.9 724.5h1.1v1.1h-1.1zM305.5 722.7h1.1v1.1h-1.1zM300.0 719.4h1.1v1.1h-1.1zM299.3 718.8h1.1v1.1h-1.1zM299.6 723.0h1.1v1.1h-1.1zM297.3 722.5h1.1v1.1h-1.1zM301.1 724.7h1.1v1.1h-1.1zM299.6 724.8h1.1v1.1h-1.1zM302.3 722.3h1.1v1.1h-1.1zM304.8 720.1h1.1v1.1h-1.1zM296.8 720.4h1.1v1.1h-1.1zM304.0 723.3h1.1v1.1h-1.1zM300.7 724.2h1.1v1.1h-1.1zM301.5 725.3h1.1v1.1h-1.1zM301.0 723.8h1.1v1.1h-1.1zM299.5 721.6h1.1v1.1h-1.1zM296.3 727.4h1.1v1.1h-1.1zM298.3 725.8h1.1v1.1h-1.1zM304.4 726.4h1.1v1.1h-1.1zM299.2 724.6h1.1v1.1h-1.1zM302.1 720.7h1.1v1.1h-1.1zM299.9 725.0h1.1v1.1h-1.1zM306.8 722.8h1.1v1.1h-1.1zM301.8 720.1h1.1v1.1h-1.1zM303.6 724.8h1.1v1.1h-1.1zM297.8 725.0h1.1v1.1h-1.1zM301.0 724.9h1.1v1.1h-1.1zM297.6 727.1h1.1v1.1h-1.1zM300.4 722.8h1.1v1.1h-1.1zM293.4 721.9h1.1v1.1h-1.1zM300.3 725.4h1.1v1.1h-1.1zM302.6 724.3h1.1v1.1h-1.1zM297.1 726.0h1.1v1.1h-1.1zM302.0 718.4h1.1v1.1h-1.1zM301.4 721.0h1.1v1.1h-1.1zM302.1 722.8h1.1v1.1h-1.1zM295.7 723.3h1.1v1.1h-1.1zM303.5 721.4h1.1v1.1h-1.1zM304.0 722.4h1.1v1.1h-1.1zM302.3 721.3h1.1v1.1h-1.1zM300.8 722.3h1.1v1.1h-1.1zM302.1 720.9h1.1v1.1h-1.1zM305.1 725.1h1.1v1.1h-1.1zM297.7 724.6h1.1v1.1h-1.1zM304.1 726.3h1.1v1.1h-1.1zM303.5 722.0h1.1v1.1h-1.1zM297.8 727.4h1.1v1.1h-1.1zM299.6 724.5h1.1v1.1h-1.1zM300.0 719.9h1.1v1.1h-1.1zM304.3 723.8h1.1v1.1h-1.1zM302.8 723.8h1.1v1.1h-1.1zM299.9 720.0h1.1v1.1h-1.1zM300.5 725.7h1.1v1.1h-1.1zM300.0 723.8h1.1v1.1h-1.1zM301.7 723.0h1.1v1.1h-1.1zM301.9 724.0h1.1v1.1h-1.1zM299.4 721.1h1.1v1.1h-1.1zM301.2 725.6h1.1v1.1h-1.1zM299.7 725.2h1.1v1.1h-1.1zM300.4 721.1h1.1v1.1h-1.1zM294.2 727.0h1.1v1.1h-1.1zM298.2 723.1h1.1v1.1h-1.1zM302.0 720.5h1.1v1.1h-1.1zM301.7 723.1h1.1v1.1h-1.1zM303.5 727.2h1.1v1.1h-1.1zM297.4 727.9h1.1v1.1h-1.1zM300.1 722.9h1.1v1.1h-1.1zM299.2 724.3h1.1v1.1h-1.1zM299.7 721.4h1.1v1.1h-1.1zM303.6 719.6h1.1v1.1h-1.1zM298.9 720.9h1.1v1.1h-1.1zM301.5 723.9h1.1v1.1h-1.1zM304.4 723.9h1.1v1.1h-1.1zM301.5 727.3h1.1v1.1h-1.1zM302.3 726.7h1.1v1.1h-1.1zM304.2 720.2h1.1v1.1h-1.1zM298.9 725.9h1.1v1.1h-1.1zM304.5 722.2h1.1v1.1h-1.1zM303.9 723.1h1.1v1.1h-1.1zM304.3 724.9h1.1v1.1h-1.1zM298.4 720.8h1.1v1.1h-1.1zM299.5 721.9h1.1v1.1h-1.1zM297.8 724.6h1.1v1.1h-1.1zM300.2 718.6h1.1v1.1h-1.1zM298.2 727.0h1.1v1.1h-1.1zM298.2 723.7h1.1v1.1h-1.1zM305.1 723.8h1.1v1.1h-1.1zM302.2 724.0h1.1v1.1h-1.1zM295.2 728.1h1.1v1.1h-1.1zM299.9 720.0h1.1v1.1h-1.1zM301.7 724.0h1.1v1.1h-1.1zM301.4 725.1h1.1v1.1h-1.1zM302.8 722.3h1.1v1.1h-1.1zM298.8 721.2h1.1v1.1h-1.1zM302.6 720.6h1.1v1.1h-1.1zM303.3 726.0h1.1v1.1h-1.1zM301.0 719.7h1.1v1.1h-1.1zM299.7 722.0h1.1v1.1h-1.1zM296.0 723.9h1.1v1.1h-1.1zM302.5 723.2h1.1v1.1h-1.1zM300.5 724.0h1.1v1.1h-1.1zM297.1 723.3h1.1v1.1h-1.1zM301.3 725.2h1.1v1.1h-1.1zM299.8 723.4h1.1v1.1h-1.1zM303.2 725.9h1.1v1.1h-1.1zM298.5 726.1h1.1v1.1h-1.1zM301.1 722.9h1.1v1.1h-1.1zM298.9 718.9h1.1v1.1h-1.1zM300.5 722.8h1.1v1.1h-1.1zM298.9 726.7h1.1v1.1h-1.1zM300.0 722.8h1.1v1.1h-1.1zM301.4 720.4h1.1v1.1h-1.1zM300.1 726.0h1.1v1.1h-1.1zM305.1 726.3h1.1v1.1h-1.1zM298.0 720.9h1.1v1.1h-1.1zM295.9 722.8h1.1v1.1h-1.1zM300.7 722.7h1.1v1.1h-1.1zM298.0 722.1h1.1v1.1h-1.1zM298.7 723.5h1.1v1.1h-1.1zM304.2 723.0h1.1v1.1h-1.1zM304.8 723.2h1.1v1.1h-1.1zM303.8 724.7h1.1v1.1h-1.1zM303.6 725.9h1.1v1.1h-1.1zM305.4 725.6h1.1v1.1h-1.1zM300.3 721.4h1.1v1.1h-1.1zM306.1 719.4h1.1v1.1h-1.1zM301.5 721.9h1.1v1.1h-1.1zM299.6 725.1h1.1v1.1h-1.1zM298.0 724.5h1.1v1.1h-1.1zM304.1 721.7h1.1v1.1h-1.1zM303.3 723.5h1.1v1.1h-1.1zM301.7 723.0h1.1v1.1h-1.1zM301.0 720.5h1.1v1.1h-1.1zM300.8 720.4h1.1v1.1h-1.1zM298.3 723.1h1.1v1.1h-1.1zM295.3 721.0h1.1v1.1h-1.1zM302.2 723.8h1.1v1.1h-1.1zM304.8 727.0h1.1v1.1h-1.1zM302.0 724.6h1.1v1.1h-1.1zM299.8 725.7h1.1v1.1h-1.1zM300.4 728.9h1.1v1.1h-1.1zM298.0 723.7h1.1v1.1h-1.1zM299.8 717.8h1.1v1.1h-1.1zM302.6 719.6h1.1v1.1h-1.1zM302.3 725.1h1.1v1.1h-1.1zM302.2 725.0h1.1v1.1h-1.1zM300.3 725.2h1.1v1.1h-1.1zM297.5 729.3h1.1v1.1h-1.1zM298.2 722.4h1.1v1.1h-1.1zM302.8 726.8h1.1v1.1h-1.1zM299.1 724.2h1.1v1.1h-1.1zM298.8 721.9h1.1v1.1h-1.1zM298.4 726.2h1.1v1.1h-1.1zM301.4 720.8h1.1v1.1h-1.1zM301.8 723.9h1.1v1.1h-1.1zM301.4 722.5h1.1v1.1h-1.1zM301.1 723.8h1.1v1.1h-1.1zM298.1 724.4h1.1v1.1h-1.1zM301.9 721.1h1.1v1.1h-1.1zM303.4 721.1h1.1v1.1h-1.1zM297.8 724.2h1.1v1.1h-1.1zM298.3 726.3h1.1v1.1h-1.1zM297.1 725.4h1.1v1.1h-1.1zM299.8 723.0h1.1v1.1h-1.1zM302.0 723.3h1.1v1.1h-1.1zM300.4 725.7h1.1v1.1h-1.1zM300.7 725.7h1.1v1.1h-1.1zM304.2 722.3h1.1v1.1h-1.1zM301.2 719.3h1.1v1.1h-1.1zM300.2 719.5h1.1v1.1h-1.1zM301.1 725.0h1.1v1.1h-1.1zM293.7 725.2h1.1v1.1h-1.1zM297.8 722.4h1.1v1.1h-1.1zM301.5 724.6h1.1v1.1h-1.1zM297.3 723.6h1.1v1.1h-1.1zM295.6 724.3h1.1v1.1h-1.1zM294.1 723.0h1.1v1.1h-1.1zM302.8 724.5h1.1v1.1h-1.1zM299.3 725.1h1.1v1.1h-1.1zM300.2 726.5h1.1v1.1h-1.1zM301.8 716.0h1.1v1.1h-1.1zM298.0 723.1h1.1v1.1h-1.1zM301.5 727.1h1.1v1.1h-1.1zM304.3 721.2h1.1v1.1h-1.1zM300.3 719.2h1.1v1.1h-1.1zM299.7 723.1h1.1v1.1h-1.1zM300.7 724.1h1.1v1.1h-1.1zM295.9 723.2h1.1v1.1h-1.1zM303.5 716.9h1.1v1.1h-1.1zM301.7 724.7h1.1v1.1h-1.1zM301.9 722.8h1.1v1.1h-1.1zM296.5 724.5h1.1v1.1h-1.1zM299.5 729.4h1.1v1.1h-1.1zM302.4 724.3h1.1v1.1h-1.1zM300.7 722.2h1.1v1.1h-1.1zM304.4 723.6h1.1v1.1h-1.1zM302.8 723.7h1.1v1.1h-1.1zM302.1 721.8h1.1v1.1h-1.1zM301.8 722.9h1.1v1.1h-1.1zM300.9 725.0h1.1v1.1h-1.1zM303.2 716.3h1.1v1.1h-1.1zM303.5 720.5h1.1v1.1h-1.1zM302.2 719.6h1.1v1.1h-1.1zM301.5 725.6h1.1v1.1h-1.1zM301.0 724.1h1.1v1.1h-1.1zM296.6 722.5h1.1v1.1h-1.1zM304.7 721.4h1.1v1.1h-1.1zM298.9 720.6h1.1v1.1h-1.1zM297.1 722.6h1.1v1.1h-1.1zM300.5 723.1h1.1v1.1h-1.1zM298.5 722.7h1.1v1.1h-1.1zM302.3 725.6h1.1v1.1h-1.1zM295.8 722.2h1.1v1.1h-1.1zM301.6 718.9h1.1v1.1h-1.1zM299.9 724.1h1.1v1.1h-1.1zM302.4 716.7h1.1v1.1h-1.1zM294.0 727.0h1.1v1.1h-1.1zM303.3 722.2h1.1v1.1h-1.1zM299.1 724.8h1.1v1.1h-1.1zM297.0 727.7h1.1v1.1h-1.1zM303.8 720.9h1.1v1.1h-1.1zM301.3 720.1h1.1v1.1h-1.1zM303.3 720.0h1.1v1.1h-1.1zM298.0 722.8h1.1v1.1h-1.1zM297.5 727.0h1.1v1.1h-1.1zM303.6 717.7h1.1v1.1h-1.1zM300.8 724.5h1.1v1.1h-1.1zM297.6 720.8h1.1v1.1h-1.1zM302.7 724.9h1.1v1.1h-1.1zM299.7 721.0h1.1v1.1h-1.1zM297.7 719.7h1.1v1.1h-1.1zM302.0 725.9h1.1v1.1h-1.1zM303.1 721.7h1.1v1.1h-1.1zM301.1 721.7h1.1v1.1h-1.1zM300.3 721.9h1.1v1.1h-1.1zM300.5 722.0h1.1v1.1h-1.1zM302.0 724.5h1.1v1.1h-1.1zM299.1 720.7h1.1v1.1h-1.1zM301.6 722.1h1.1v1.1h-1.1zM300.2 725.1h1.1v1.1h-1.1zM299.9 726.3h1.1v1.1h-1.1zM301.2 721.1h1.1v1.1h-1.1zM299.0 724.0h1.1v1.1h-1.1zM299.7 726.4h1.1v1.1h-1.1zM295.7 726.6h1.1v1.1h-1.1zM298.6 721.5h1.1v1.1h-1.1zM301.6 721.5h1.1v1.1h-1.1zM301.2 721.8h1.1v1.1h-1.1zM300.7 724.7h1.1v1.1h-1.1zM304.1 724.1h1.1v1.1h-1.1zM302.4 726.4h1.1v1.1h-1.1zM298.3 721.0h1.1v1.1h-1.1zM294.7 722.8h1.1v1.1h-1.1zM296.6 720.8h1.1v1.1h-1.1zM301.5 722.9h1.1v1.1h-1.1zM300.9 723.8h1.1v1.1h-1.1zM300.2 722.9h1.1v1.1h-1.1zM300.0 723.8h1.1v1.1h-1.1zM299.6 727.4h1.1v1.1h-1.1zM304.3 721.3h1.1v1.1h-1.1zM304.8 718.3h1.1v1.1h-1.1zM300.9 718.8h1.1v1.1h-1.1zM301.2 721.0h1.1v1.1h-1.1zM303.1 722.2h1.1v1.1h-1.1zM303.6 723.3h1.1v1.1h-1.1zM301.6 722.0h1.1v1.1h-1.1zM304.8 721.9h1.1v1.1h-1.1zM303.5 725.6h1.1v1.1h-1.1zM302.2 727.2h1.1v1.1h-1.1zM303.3 722.0h1.1v1.1h-1.1zM298.8 727.7h1.1v1.1h-1.1zM300.1 723.9h1.1v1.1h-1.1zM302.1 725.1h1.1v1.1h-1.1zM300.0 718.7h1.1v1.1h-1.1zM299.6 724.9h1.1v1.1h-1.1zM302.0 724.7h1.1v1.1h-1.1zM303.9 725.9h1.1v1.1h-1.1zM300.6 726.9h1.1v1.1h-1.1zM301.9 723.4h1.1v1.1h-1.1zM301.9 721.7h1.1v1.1h-1.1zM302.1 721.9h1.1v1.1h-1.1zM301.5 720.8h1.1v1.1h-1.1zM301.6 718.6h1.1v1.1h-1.1zM299.1 724.1h1.1v1.1h-1.1zM300.3 721.4h1.1v1.1h-1.1zM300.1 724.4h1.1v1.1h-1.1zM304.6 724.6h1.1v1.1h-1.1zM299.5 723.8h1.1v1.1h-1.1zM298.2 720.6h1.1v1.1h-1.1zM301.0 726.2h1.1v1.1h-1.1zM301.0 730.9h1.1v1.1h-1.1zM305.0 725.5h1.1v1.1h-1.1zM298.4 718.4h1.1v1.1h-1.1zM303.6 726.0h1.1v1.1h-1.1zM300.9 726.7h1.1v1.1h-1.1zM303.4 723.9h1.1v1.1h-1.1zM303.1 723.5h1.1v1.1h-1.1zM303.6 724.9h1.1v1.1h-1.1zM302.4 724.0h1.1v1.1h-1.1zM301.9 723.0h1.1v1.1h-1.1zM296.6 720.8h1.1v1.1h-1.1zM296.9 722.1h1.1v1.1h-1.1zM298.1 726.7h1.1v1.1h-1.1zM301.5 726.3h1.1v1.1h-1.1zM308.8 720.8h1.1v1.1h-1.1zM300.1 724.7h1.1v1.1h-1.1zM300.6 724.2h1.1v1.1h-1.1zM307.4 723.8h1.1v1.1h-1.1zM304.0 722.2h1.1v1.1h-1.1zM305.8 722.6h1.1v1.1h-1.1zM301.4 719.7h1.1v1.1h-1.1zM299.5 724.5h1.1v1.1h-1.1zM299.6 722.5h1.1v1.1h-1.1zM295.2 724.4h1.1v1.1h-1.1zM300.8 724.1h1.1v1.1h-1.1zM298.1 724.5h1.1v1.1h-1.1zM305.1 721.2h1.1v1.1h-1.1zM296.0 725.5h1.1v1.1h-1.1zM302.2 725.9h1.1v1.1h-1.1zM302.8 725.9h1.1v1.1h-1.1zM302.9 725.3h1.1v1.1h-1.1zM305.6 724.7h1.1v1.1h-1.1zM301.9 724.4h1.1v1.1h-1.1zM308.3 715.6h1.1v1.1h-1.1zM301.7 724.0h1.1v1.1h-1.1zM300.1 725.9h1.1v1.1h-1.1zM301.3 725.1h1.1v1.1h-1.1zM300.1 721.2h1.1v1.1h-1.1zM305.5 726.0h1.1v1.1h-1.1zM303.2 722.7h1.1v1.1h-1.1zM297.1 726.3h1.1v1.1h-1.1zM299.7 721.7h1.1v1.1h-1.1zM296.8 726.8h1.1v1.1h-1.1zM303.8 723.5h1.1v1.1h-1.1zM303.7 716.4h1.1v1.1h-1.1zM301.5 722.8h1.1v1.1h-1.1zM304.0 721.4h1.1v1.1h-1.1zM298.4 724.5h1.1v1.1h-1.1zM300.9 721.2h1.1v1.1h-1.1zM299.2 724.9h1.1v1.1h-1.1zM302.5 721.7h1.1v1.1h-1.1zM301.3 721.6h1.1v1.1h-1.1zM300.2 724.2h1.1v1.1h-1.1zM304.8 725.3h1.1v1.1h-1.1zM301.0 724.4h1.1v1.1h-1.1zM306.2 722.4h1.1v1.1h-1.1zM300.4 724.6h1.1v1.1h-1.1zM295.0 720.9h1.1v1.1h-1.1zM298.1 722.9h1.1v1.1h-1.1zM298.8 727.2h1.1v1.1h-1.1zM299.8 724.1h1.1v1.1h-1.1zM300.7 722.8h1.1v1.1h-1.1zM300.3 728.8h1.1v1.1h-1.1zM296.1 725.9h1.1v1.1h-1.1zM302.1 722.0h1.1v1.1h-1.1zM300.9 724.1h1.1v1.1h-1.1zM300.9 722.3h1.1v1.1h-1.1zM303.8 722.9h1.1v1.1h-1.1zM303.3 722.0h1.1v1.1h-1.1zM296.0 722.7h1.1v1.1h-1.1zM300.3 724.5h1.1v1.1h-1.1zM297.5 724.0h1.1v1.1h-1.1zM303.1 722.6h1.1v1.1h-1.1zM299.5 723.8h1.1v1.1h-1.1zM300.5 722.6h1.1v1.1h-1.1zM299.6 722.6h1.1v1.1h-1.1zM302.5 725.5h1.1v1.1h-1.1zM302.0 720.0h1.1v1.1h-1.1zM304.4 720.9h1.1v1.1h-1.1zM297.1 722.4h1.1v1.1h-1.1zM301.2 723.5h1.1v1.1h-1.1zM299.0 722.7h1.1v1.1h-1.1zM300.6 723.9h1.1v1.1h-1.1zM302.3 723.5h1.1v1.1h-1.1zM296.3 724.7h1.1v1.1h-1.1zM301.5 723.6h1.1v1.1h-1.1zM300.7 720.3h1.1v1.1h-1.1zM302.3 720.0h1.1v1.1h-1.1zM300.0 722.8h1.1v1.1h-1.1zM299.3 722.6h1.1v1.1h-1.1zM302.8 723.7h1.1v1.1h-1.1zM300.2 721.1h1.1v1.1h-1.1zM299.6 723.8h1.1v1.1h-1.1zM300.9 722.1h1.1v1.1h-1.1zM302.6 727.6h1.1v1.1h-1.1zM300.6 722.8h1.1v1.1h-1.1zM296.0 724.5h1.1v1.1h-1.1zM304.2 723.1h1.1v1.1h-1.1zM299.5 725.6h1.1v1.1h-1.1zM300.3 722.0h1.1v1.1h-1.1zM301.5 721.6h1.1v1.1h-1.1zM300.2 723.6h1.1v1.1h-1.1zM300.7 722.5h1.1v1.1h-1.1zM301.2 723.0h1.1v1.1h-1.1zM301.4 723.7h1.1v1.1h-1.1zM298.5 721.9h1.1v1.1h-1.1zM301.7 725.3h1.1v1.1h-1.1zM301.5 723.3h1.1v1.1h-1.1zM298.5 722.3h1.1v1.1h-1.1zM297.9 723.1h1.1v1.1h-1.1zM298.8 721.3h1.1v1.1h-1.1zM299.2 721.1h1.1v1.1h-1.1zM301.8 722.7h1.1v1.1h-1.1zM297.3 724.2h1.1v1.1h-1.1zM301.4 723.7h1.1v1.1h-1.1zM301.7 722.1h1.1v1.1h-1.1zM300.3 723.1h1.1v1.1h-1.1zM301.0 721.8h1.1v1.1h-1.1zM300.6 723.7h1.1v1.1h-1.1zM299.2 722.0h1.1v1.1h-1.1zM303.4 722.8h1.1v1.1h-1.1zM300.9 727.2h1.1v1.1h-1.1zM298.7 722.7h1.1v1.1h-1.1zM300.6 724.5h1.1v1.1h-1.1zM304.4 724.0h1.1v1.1h-1.1zM301.7 722.9h1.1v1.1h-1.1zM301.1 721.5h1.1v1.1h-1.1zM300.0 724.8h1.1v1.1h-1.1zM301.3 723.5h1.1v1.1h-1.1zM299.3 724.7h1.1v1.1h-1.1zM299.2 726.1h1.1v1.1h-1.1zM300.2 722.3h1.1v1.1h-1.1zM302.4 728.0h1.1v1.1h-1.1zM305.3 719.3h1.1v1.1h-1.1zM300.5 717.6h1.1v1.1h-1.1zM302.6 722.3h1.1v1.1h-1.1zM300.3 721.6h1.1v1.1h-1.1zM298.8 724.9h1.1v1.1h-1.1zM300.4 724.5h1.1v1.1h-1.1zM302.4 722.1h1.1v1.1h-1.1zM301.8 723.1h1.1v1.1h-1.1zM300.7 722.3h1.1v1.1h-1.1zM301.5 723.8h1.1v1.1h-1.1zM300.5 722.6h1.1v1.1h-1.1zM297.4 723.1h1.1v1.1h-1.1zM304.2 723.4h1.1v1.1h-1.1zM301.5 723.5h1.1v1.1h-1.1zM301.1 724.5h1.1v1.1h-1.1zM302.1 722.0h1.1v1.1h-1.1zM302.1 724.5h1.1v1.1h-1.1zM297.3 723.4h1.1v1.1h-1.1zM298.8 722.1h1.1v1.1h-1.1zM299.3 722.5h1.1v1.1h-1.1zM300.5 724.4h1.1v1.1h-1.1zM298.9 724.6h1.1v1.1h-1.1zM303.2 722.3h1.1v1.1h-1.1zM298.2 723.6h1.1v1.1h-1.1zM302.4 721.8h1.1v1.1h-1.1zM300.4 725.1h1.1v1.1h-1.1zM298.6 722.3h1.1v1.1h-1.1zM301.8 722.8h1.1v1.1h-1.1zM300.1 724.6h1.1v1.1h-1.1zM303.5 723.9h1.1v1.1h-1.1zM301.3 723.9h1.1v1.1h-1.1zM300.3 720.6h1.1v1.1h-1.1zM302.9 720.7h1.1v1.1h-1.1zM299.1 722.6h1.1v1.1h-1.1zM300.1 725.9h1.1v1.1h-1.1zM300.2 722.4h1.1v1.1h-1.1zM297.9 725.3h1.1v1.1h-1.1zM299.8 721.8h1.1v1.1h-1.1zM299.0 720.7h1.1v1.1h-1.1zM300.7 720.9h1.1v1.1h-1.1zM301.6 723.0h1.1v1.1h-1.1zM296.3 723.7h1.1v1.1h-1.1zM300.3 725.1h1.1v1.1h-1.1zM302.3 723.7h1.1v1.1h-1.1zM303.2 721.3h1.1v1.1h-1.1zM298.3 721.0h1.1v1.1h-1.1zM299.5 725.1h1.1v1.1h-1.1zM298.6 722.8h1.1v1.1h-1.1zM300.2 718.7h1.1v1.1h-1.1zM304.1 723.9h1.1v1.1h-1.1zM298.2 725.7h1.1v1.1h-1.1zM301.5 724.7h1.1v1.1h-1.1zM300.1 723.5h1.1v1.1h-1.1zM302.5 721.1h1.1v1.1h-1.1zM302.0 723.9h1.1v1.1h-1.1zM301.3 724.7h1.1v1.1h-1.1zM302.3 724.1h1.1v1.1h-1.1zM297.0 723.4h1.1v1.1h-1.1zM302.2 724.8h1.1v1.1h-1.1zM303.1 722.0h1.1v1.1h-1.1zM298.6 722.4h1.1v1.1h-1.1zM297.1 724.4h1.1v1.1h-1.1zM301.6 722.7h1.1v1.1h-1.1zM298.2 724.6h1.1v1.1h-1.1zM300.2 722.2h1.1v1.1h-1.1zM303.5 722.6h1.1v1.1h-1.1zM302.6 722.4h1.1v1.1h-1.1zM300.1 725.9h1.1v1.1h-1.1zM302.1 721.4h1.1v1.1h-1.1zM299.2 725.8h1.1v1.1h-1.1zM298.8 722.1h1.1v1.1h-1.1zM301.1 724.2h1.1v1.1h-1.1zM299.5 724.1h1.1v1.1h-1.1zM303.0 723.5h1.1v1.1h-1.1zM298.8 725.9h1.1v1.1h-1.1zM304.5 723.0h1.1v1.1h-1.1zM300.9 724.0h1.1v1.1h-1.1zM297.6 723.9h1.1v1.1h-1.1zM301.7 726.9h1.1v1.1h-1.1zM299.9 721.9h1.1v1.1h-1.1zM304.6 723.6h1.1v1.1h-1.1zM297.8 724.6h1.1v1.1h-1.1zM298.8 726.5h1.1v1.1h-1.1zM298.6 728.3h1.1v1.1h-1.1zM298.1 722.8h1.1v1.1h-1.1zM304.7 722.1h1.1v1.1h-1.1zM302.1 724.3h1.1v1.1h-1.1zM299.9 725.6h1.1v1.1h-1.1zM300.7 724.4h1.1v1.1h-1.1zM302.3 725.2h1.1v1.1h-1.1zM297.4 722.5h1.1v1.1h-1.1zM303.9 726.2h1.1v1.1h-1.1zM301.5 722.6h1.1v1.1h-1.1zM300.8 720.9h1.1v1.1h-1.1zM299.4 720.7h1.1v1.1h-1.1zM301.6 724.3h1.1v1.1h-1.1zM303.1 721.0h1.1v1.1h-1.1zM303.4 724.4h1.1v1.1h-1.1zM298.8 723.9h1.1v1.1h-1.1zM296.9 723.8h1.1v1.1h-1.1zM299.7 719.9h1.1v1.1h-1.1zM300.9 724.7h1.1v1.1h-1.1zM301.0 718.2h1.1v1.1h-1.1zM300.8 722.0h1.1v1.1h-1.1zM296.1 724.0h1.1v1.1h-1.1zM301.7 722.7h1.1v1.1h-1.1zM301.6 722.2h1.1v1.1h-1.1zM301.0 721.2h1.1v1.1h-1.1zM299.0 724.0h1.1v1.1h-1.1zM298.9 726.8h1.1v1.1h-1.1zM299.5 722.1h1.1v1.1h-1.1zM298.5 722.7h1.1v1.1h-1.1zM300.6 722.7h1.1v1.1h-1.1zM301.2 720.8h1.1v1.1h-1.1zM299.3 721.1h1.1v1.1h-1.1zM301.1 725.8h1.1v1.1h-1.1zM301.3 724.8h1.1v1.1h-1.1zM299.7 721.8h1.1v1.1h-1.1zM298.3 722.5h1.1v1.1h-1.1zM301.5 723.3h1.1v1.1h-1.1zM307.0 723.0h1.1v1.1h-1.1zM301.3 721.1h1.1v1.1h-1.1zM300.1 721.9h1.1v1.1h-1.1zM304.0 720.0h1.1v1.1h-1.1zM301.5 720.2h1.1v1.1h-1.1zM300.9 720.8h1.1v1.1h-1.1zM300.1 724.0h1.1v1.1h-1.1zM300.9 723.1h1.1v1.1h-1.1zM299.9 722.1h1.1v1.1h-1.1zM300.5 723.3h1.1v1.1h-1.1zM299.7 725.1h1.1v1.1h-1.1zM300.4 722.0h1.1v1.1h-1.1zM302.4 721.2h1.1v1.1h-1.1zM298.7 727.0h1.1v1.1h-1.1zM301.4 725.9h1.1v1.1h-1.1zM320.8 692.3h1.1v1.1h-1.1zM323.2 693.3h1.1v1.1h-1.1zM315.9 690.9h1.1v1.1h-1.1zM320.9 691.1h1.1v1.1h-1.1zM320.3 692.0h1.1v1.1h-1.1zM319.9 690.7h1.1v1.1h-1.1zM322.4 690.4h1.1v1.1h-1.1zM311.2 691.3h1.1v1.1h-1.1zM318.6 689.6h1.1v1.1h-1.1zM313.4 691.2h1.1v1.1h-1.1zM313.7 689.2h1.1v1.1h-1.1zM322.6 689.1h1.1v1.1h-1.1zM313.5 691.8h1.1v1.1h-1.1zM315.4 690.9h1.1v1.1h-1.1zM312.3 691.1h1.1v1.1h-1.1zM312.5 689.7h1.1v1.1h-1.1zM311.9 690.7h1.1v1.1h-1.1zM322.4 690.0h1.1v1.1h-1.1zM314.1 689.9h1.1v1.1h-1.1zM315.9 691.7h1.1v1.1h-1.1zM317.0 690.2h1.1v1.1h-1.1zM322.5 689.2h1.1v1.1h-1.1zM311.4 692.0h1.1v1.1h-1.1zM319.7 691.4h1.1v1.1h-1.1zM311.6 691.4h1.1v1.1h-1.1zM322.0 692.2h1.1v1.1h-1.1zM317.0 689.7h1.1v1.1h-1.1zM312.0 688.7h1.1v1.1h-1.1zM319.9 690.5h1.1v1.1h-1.1zM310.5 693.2h1.1v1.1h-1.1zM318.1 690.6h1.1v1.1h-1.1zM310.8 690.5h1.1v1.1h-1.1zM310.6 689.4h1.1v1.1h-1.1zM316.3 691.2h1.1v1.1h-1.1zM319.3 690.8h1.1v1.1h-1.1zM320.4 690.5h1.1v1.1h-1.1zM314.1 691.3h1.1v1.1h-1.1zM313.5 690.1h1.1v1.1h-1.1zM322.4 690.5h1.1v1.1h-1.1zM310.7 691.0h1.1v1.1h-1.1zM316.3 692.2h1.1v1.1h-1.1zM311.6 690.2h1.1v1.1h-1.1zM320.9 691.3h1.1v1.1h-1.1zM313.6 689.8h1.1v1.1h-1.1zM315.9 689.6h1.1v1.1h-1.1zM311.1 690.3h1.1v1.1h-1.1zM313.6 690.7h1.1v1.1h-1.1zM322.5 691.9h1.1v1.1h-1.1zM312.6 693.0h1.1v1.1h-1.1zM310.9 692.7h1.1v1.1h-1.1z" fill="#111"/>
<line x1="407.7" y1="549.6" x2="407.7" y2="615.7" stroke="#111" stroke-width="1.5" />
<line x1="407.1" y1="615.1" x2="500.8" y2="615.1" stroke="#111" stroke-width="1.5" />
<line x1="404.5" y1="549.6" x2="407.7" y2="549.6" stroke="#111" stroke-width="1.3" />
<text font-size="12" stroke="#111" stroke-width="0.3" text-anchor="end" transform="translate(403.2 554.0)" fill="#111" >20</text>
<line x1="404.5" y1="566.1" x2="407.7" y2="566.1" stroke="#111" stroke-width="1.3" />
<text font-size="12" stroke="#111" stroke-width="0.3" text-anchor="end" transform="translate(403.2 570.5)" fill="#111" >10</text>
<line x1="404.5" y1="582.5" x2="407.7" y2="582.5" stroke="#111" stroke-width="1.3" />
<text font-size="12" stroke="#111" stroke-width="0.3" text-anchor="end" transform="translate(403.2 586.9)" fill="#111" >15</text>
<line x1="404.5" y1="598.6" x2="407.7" y2="598.6" stroke="#111" stroke-width="1.3" />
<text font-size="12" stroke="#111" stroke-width="0.3" text-anchor="end" transform="translate(403.2 603.0)" fill="#111" >5</text>
<line x1="404.5" y1="615.1" x2="407.7" y2="615.1" stroke="#111" stroke-width="1.3" />
<text font-size="12" stroke="#111" stroke-width="0.3" text-anchor="end" transform="translate(403.2 619.5)" fill="#111" >0</text>
<rect x="415.5" y="579.6" width="15.3" height="35.5" fill="#000"/>
<rect x="438.5" y="577.6" width="15.3" height="37.5" fill="#000"/>
<rect x="461.6" y="580.5" width="15.3" height="34.6" fill="#000"/>
<rect x="484.7" y="570.4" width="15.3" height="44.7" fill="#000"/>
<line x1="492.4" y1="567.5" x2="492.4" y2="570.4" stroke="#111" stroke-width="1.3" />
<line x1="488.9" y1="567.5" x2="495.9" y2="567.5" stroke="#111" stroke-width="1.5" />
<text font-size="11" stroke="#111" stroke-width="0.3" text-anchor="middle" transform="translate(490.5 565.7) scale(1.06 1)" fill="#111" >*</text>
<text font-size="12" stroke="#111" stroke-width="0.3" transform="translate(427.3 548.2) scale(1.06 1)" fill="#111" >PT-3 day 5</text>
<text font-size="12" stroke="#111" stroke-width="0.3" text-anchor="end" transform="translate(427.0 622.2) rotate(-45)" fill="#111" >Media</text>
<text font-size="12" stroke="#111" stroke-width="0.3" text-anchor="end" transform="translate(447.8 623.4) rotate(-45)" fill="#111" >BAFF</text>
<text font-size="12" stroke="#111" stroke-width="0.3" text-anchor="end" transform="translate(476.6 624.5) rotate(-45)" fill="#111" >VAY736</text>
<text font-size="12" stroke="#111" stroke-width="0.3" text-anchor="end" transform="translate(498.5 625.7) rotate(-45)" fill="#111" >BAFF +</text>
<text font-size="12" stroke="#111" stroke-width="0.3" text-anchor="end" transform="translate(511.2 633.8) rotate(-45)" fill="#111" >VAY736</text>
<text font-size="13" stroke="#111" stroke-width="0.3" text-anchor="middle" transform="translate(381.4 583.5) rotate(-90)" fill="#111" >% Annexin V<tspan font-size="8" dy="-5">+</tspan><tspan dy="5">, PI</tspan><tspan font-size="8" dy="-5">+</tspan></text>
<line x1="412.8" y1="683.3" x2="412.8" y2="754.6" stroke="#111" stroke-width="1.5" />
<line x1="412.2" y1="754.0" x2="510.5" y2="754.0" stroke="#111" stroke-width="1.5" />
<line x1="409.6" y1="683.3" x2="412.8" y2="683.3" stroke="#111" stroke-width="1.3" />
<text font-size="12" stroke="#111" stroke-width="0.3" text-anchor="end" transform="translate(408.3 689.7)" fill="#111" >20</text>
<line x1="409.6" y1="700.4" x2="412.8" y2="700.4" stroke="#111" stroke-width="1.3" />
<text font-size="12" stroke="#111" stroke-width="0.3" text-anchor="end" transform="translate(408.3 706.8)" fill="#111" >10</text>
<line x1="409.6" y1="718.4" x2="412.8" y2="718.4" stroke="#111" stroke-width="1.3" />
<text font-size="12" stroke="#111" stroke-width="0.3" text-anchor="end" transform="translate(408.3 724.8)" fill="#111" >15</text>
<line x1="409.6" y1="736.4" x2="412.8" y2="736.4" stroke="#111" stroke-width="1.3" />
<text font-size="12" stroke="#111" stroke-width="0.3" text-anchor="end" transform="translate(408.3 742.8)" fill="#111" >5</text>
<line x1="409.6" y1="754.0" x2="412.8" y2="754.0" stroke="#111" stroke-width="1.3" />
<text font-size="12" stroke="#111" stroke-width="0.3" text-anchor="end" transform="translate(408.3 760.4)" fill="#111" >0</text>
<rect x="421.2" y="730.6" width="15.3" height="23.4" fill="#000"/>
<rect x="445.8" y="726.2" width="15.2" height="27.8" fill="#000"/>
<rect x="469.4" y="727.7" width="16.2" height="26.3" fill="#000"/>
<rect x="494.2" y="728.6" width="15.6" height="25.4" fill="#000"/>
<line x1="453.4" y1="723.4" x2="453.4" y2="726.2" stroke="#111" stroke-width="1.3" />
<line x1="449.9" y1="723.4" x2="456.9" y2="723.4" stroke="#111" stroke-width="1.5" />
<line x1="477.5" y1="723.6" x2="477.5" y2="727.7" stroke="#111" stroke-width="1.3" />
<line x1="474.0" y1="723.6" x2="481.0" y2="723.6" stroke="#111" stroke-width="1.5" />
<line x1="502.0" y1="726.5" x2="502.0" y2="728.6" stroke="#111" stroke-width="1.3" />
<line x1="498.5" y1="726.5" x2="505.5" y2="726.5" stroke="#111" stroke-width="1.5" />
<text font-size="11" stroke="#111" stroke-width="0.3" text-anchor="middle" transform="translate(452.4 721.5) scale(1.06 1)" fill="#111" >*</text>
<text font-size="12" stroke="#111" stroke-width="0.3" transform="translate(434.2 695.9) scale(1.06 1)" fill="#111" >PT-4 day 5</text>
<text font-size="12" stroke="#111" stroke-width="0.3" text-anchor="end" transform="translate(428.5 763.0) rotate(-45)" fill="#111" >Media</text>
<text font-size="12" stroke="#111" stroke-width="0.3" text-anchor="end" transform="translate(452.5 763.3) rotate(-45)" fill="#111" >BAFF</text>
<text font-size="12" stroke="#111" stroke-width="0.3" text-anchor="end" transform="translate(477.8 764.5) rotate(-45)" fill="#111" >VAY736</text>
<text font-size="12" stroke="#111" stroke-width="0.3" text-anchor="end" transform="translate(501.0 763.3) rotate(-45)" fill="#111" >BAFF +</text>
<text font-size="12" stroke="#111" stroke-width="0.3" text-anchor="end" transform="translate(514.5 772.5) rotate(-45)" fill="#111" >VAY736</text>
<text font-size="13" stroke="#111" stroke-width="0.3" text-anchor="middle" transform="translate(382.9 719.4) rotate(-90)" fill="#111" >% Annexin V<tspan font-size="8" dy="-5">+</tspan><tspan dy="5">, PI</tspan><tspan font-size="8" dy="-5">+</tspan></text>
</svg>
</body></html>
